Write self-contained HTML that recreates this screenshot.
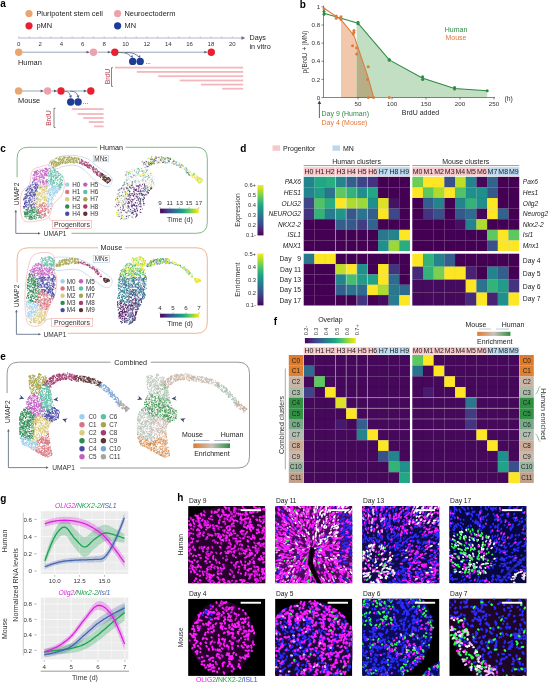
<!DOCTYPE html>
<html><head><meta charset="utf-8"><style>
html,body{margin:0;padding:0;background:#fff;width:550px;height:685px;overflow:hidden}
svg{display:block}
text{font-family:"Liberation Sans",Arial,sans-serif}
</style></head><body>
<svg width="550" height="685" viewBox="0 0 550 685">
<text x="0.30" y="7.40" font-size="10" text-anchor="start" fill="#000" font-weight="bold">a</text>
<circle cx="29.00" cy="13.60" r="3.6" fill="#eba56e"/>
<text x="36.40" y="16.26" font-size="7.4" text-anchor="start" fill="#222">Pluripotent stem cell</text>
<circle cx="117.60" cy="13.60" r="3.6" fill="#eda2ab"/>
<text x="124.50" y="16.26" font-size="7.4" text-anchor="start" fill="#222">Neuroectoderm</text>
<circle cx="29.00" cy="25.80" r="3.6" fill="#e8202f"/>
<text x="36.40" y="28.46" font-size="7.4" text-anchor="start" fill="#222">pMN</text>
<circle cx="117.60" cy="25.80" r="3.6" fill="#1d3c96"/>
<text x="124.50" y="28.46" font-size="7.4" text-anchor="start" fill="#222">MN</text>
<line x1="18.20" y1="38.00" x2="243.00" y2="38.00" stroke="#a7b2c4" stroke-width="0.9"/>
<path d="M241.5,36.2 L245.3,38 L241.5,39.8z" fill="#56637e"/>
<line x1="18.70" y1="36.20" x2="18.70" y2="38.00" stroke="#a7b2c4" stroke-width="0.6"/>
<line x1="29.38" y1="36.20" x2="29.38" y2="38.00" stroke="#a7b2c4" stroke-width="0.6"/>
<line x1="40.06" y1="36.20" x2="40.06" y2="38.00" stroke="#a7b2c4" stroke-width="0.6"/>
<line x1="50.74" y1="36.20" x2="50.74" y2="38.00" stroke="#a7b2c4" stroke-width="0.6"/>
<line x1="61.42" y1="36.20" x2="61.42" y2="38.00" stroke="#a7b2c4" stroke-width="0.6"/>
<line x1="72.10" y1="36.20" x2="72.10" y2="38.00" stroke="#a7b2c4" stroke-width="0.6"/>
<line x1="82.78" y1="36.20" x2="82.78" y2="38.00" stroke="#a7b2c4" stroke-width="0.6"/>
<line x1="93.46" y1="36.20" x2="93.46" y2="38.00" stroke="#a7b2c4" stroke-width="0.6"/>
<line x1="104.14" y1="36.20" x2="104.14" y2="38.00" stroke="#a7b2c4" stroke-width="0.6"/>
<line x1="114.82" y1="36.20" x2="114.82" y2="38.00" stroke="#a7b2c4" stroke-width="0.6"/>
<line x1="125.50" y1="36.20" x2="125.50" y2="38.00" stroke="#a7b2c4" stroke-width="0.6"/>
<line x1="136.18" y1="36.20" x2="136.18" y2="38.00" stroke="#a7b2c4" stroke-width="0.6"/>
<line x1="146.86" y1="36.20" x2="146.86" y2="38.00" stroke="#a7b2c4" stroke-width="0.6"/>
<line x1="157.54" y1="36.20" x2="157.54" y2="38.00" stroke="#a7b2c4" stroke-width="0.6"/>
<line x1="168.22" y1="36.20" x2="168.22" y2="38.00" stroke="#a7b2c4" stroke-width="0.6"/>
<line x1="178.90" y1="36.20" x2="178.90" y2="38.00" stroke="#a7b2c4" stroke-width="0.6"/>
<line x1="189.58" y1="36.20" x2="189.58" y2="38.00" stroke="#a7b2c4" stroke-width="0.6"/>
<line x1="200.26" y1="36.20" x2="200.26" y2="38.00" stroke="#a7b2c4" stroke-width="0.6"/>
<line x1="210.94" y1="36.20" x2="210.94" y2="38.00" stroke="#a7b2c4" stroke-width="0.6"/>
<line x1="221.62" y1="36.20" x2="221.62" y2="38.00" stroke="#a7b2c4" stroke-width="0.6"/>
<line x1="232.30" y1="36.20" x2="232.30" y2="38.00" stroke="#a7b2c4" stroke-width="0.6"/>
<line x1="242.98" y1="36.20" x2="242.98" y2="38.00" stroke="#a7b2c4" stroke-width="0.6"/>
<text x="18.70" y="46.46" font-size="6" text-anchor="middle" fill="#333">0</text>
<text x="40.06" y="46.46" font-size="6" text-anchor="middle" fill="#333">2</text>
<text x="61.42" y="46.46" font-size="6" text-anchor="middle" fill="#333">4</text>
<text x="82.78" y="46.46" font-size="6" text-anchor="middle" fill="#333">6</text>
<text x="104.14" y="46.46" font-size="6" text-anchor="middle" fill="#333">8</text>
<text x="125.50" y="46.46" font-size="6" text-anchor="middle" fill="#333">10</text>
<text x="146.86" y="46.46" font-size="6" text-anchor="middle" fill="#333">12</text>
<text x="168.22" y="46.46" font-size="6" text-anchor="middle" fill="#333">14</text>
<text x="189.58" y="46.46" font-size="6" text-anchor="middle" fill="#333">16</text>
<text x="210.94" y="46.46" font-size="6" text-anchor="middle" fill="#333">18</text>
<text x="232.30" y="46.46" font-size="6" text-anchor="middle" fill="#333">20</text>
<text x="249.50" y="40.29" font-size="7.2" text-anchor="start" fill="#222">Days</text>
<text x="249.50" y="48.89" font-size="7.2" text-anchor="start" fill="#222">in vitro</text>
<line x1="18.70" y1="52.20" x2="89.46" y2="52.20" stroke="#8f9bb0" stroke-width="0.9"/>
<line x1="97.46" y1="52.20" x2="110.82" y2="52.20" stroke="#8f9bb0" stroke-width="0.9"/>
<line x1="118.82" y1="52.20" x2="207.30" y2="52.20" stroke="#8f9bb0" stroke-width="0.9"/>
<path d="M86.5,50.8 L89.5,52.2 L86.5,53.6z" fill="#56637e"/>
<path d="M107.8,50.8 L110.8,52.2 L107.8,53.6z" fill="#56637e"/>
<path d="M204.3,50.8 L207.3,52.2 L204.3,53.6z" fill="#56637e"/>
<circle cx="18.70" cy="52.20" r="3.7" fill="#eba56e"/>
<circle cx="93.46" cy="52.20" r="3.7" fill="#eda2ab"/>
<circle cx="114.82" cy="52.20" r="3.7" fill="#e8202f"/>
<circle cx="211.30" cy="52.20" r="3.7" fill="#e8202f"/>
<path d="M118,52.5 C124,52.5 128,53 131.5,57" fill="none" stroke="#56637e" stroke-width="0.8"/>
<path d="M125,52.5 C131,52.5 135,53 139,57" fill="none" stroke="#56637e" stroke-width="0.8"/>
<path d="M130.2,56.3 L132.6,58.3 L132.8,55.3z" fill="#56637e"/>
<path d="M137.7,56.3 L140.1,58.3 L140.3,55.3z" fill="#56637e"/>
<circle cx="132.70" cy="61.40" r="3.7" fill="#1d3c96"/>
<circle cx="140.20" cy="61.40" r="3.7" fill="#1d3c96"/>
<text x="145.50" y="63.54" font-size="6.5" text-anchor="start" fill="#333">...</text>
<text x="18.00" y="65.46" font-size="7.4" text-anchor="start" fill="#222">Human</text>
<rect x="115.00" y="66.70" width="128.20" height="1.80" fill="#f4b7be"/>
<rect x="136.80" y="71.00" width="106.40" height="1.80" fill="#f4b7be"/>
<rect x="158.10" y="75.30" width="85.10" height="1.80" fill="#f4b7be"/>
<rect x="179.60" y="79.60" width="63.60" height="1.80" fill="#f4b7be"/>
<rect x="200.90" y="83.70" width="42.30" height="1.80" fill="#f4b7be"/>
<rect x="222.20" y="87.80" width="21.00" height="1.80" fill="#f4b7be"/>
<text x="108.00" y="78.95" font-size="6.8" text-anchor="middle" fill="#b8404e" transform="rotate(-90 108.00 76.50)">BrdU</text>
<path d="M113,67.7 H111.5 V86.3 H113" fill="none" stroke="#333" stroke-width="0.6"/>
<line x1="18.60" y1="91.00" x2="43.60" y2="91.00" stroke="#8f9bb0" stroke-width="0.9"/>
<line x1="51.60" y1="91.00" x2="57.00" y2="91.00" stroke="#8f9bb0" stroke-width="0.9"/>
<line x1="65.00" y1="91.00" x2="86.80" y2="91.00" stroke="#8f9bb0" stroke-width="0.9"/>
<path d="M40.6,89.6 L43.6,91.0 L40.6,92.4z" fill="#56637e"/>
<path d="M54.0,89.6 L57.0,91.0 L54.0,92.4z" fill="#56637e"/>
<path d="M83.8,89.6 L86.8,91.0 L83.8,92.4z" fill="#56637e"/>
<circle cx="18.60" cy="91.00" r="3.7" fill="#eba56e"/>
<circle cx="47.60" cy="91.00" r="3.7" fill="#eda2ab"/>
<circle cx="61.00" cy="91.00" r="3.7" fill="#e8202f"/>
<circle cx="90.80" cy="91.00" r="3.7" fill="#e8202f"/>
<path d="M64.5,91.3 C68,91.3 69.5,92.5 70.5,96.5" fill="none" stroke="#56637e" stroke-width="0.8"/>
<path d="M70,91.3 C75,91.3 77,92.5 78,96.5" fill="none" stroke="#56637e" stroke-width="0.8"/>
<path d="M69,96 L71,98.2 L72,95.3z" fill="#56637e"/>
<path d="M76.5,96 L78.5,98.2 L79.5,95.3z" fill="#56637e"/>
<circle cx="70.70" cy="102.00" r="3.7" fill="#1d3c96"/>
<circle cx="78.10" cy="102.00" r="3.7" fill="#1d3c96"/>
<text x="82.80" y="104.14" font-size="6.5" text-anchor="start" fill="#333">...</text>
<text x="18.00" y="102.86" font-size="7.4" text-anchor="start" fill="#222">Mouse</text>
<rect x="72.00" y="108.20" width="31.60" height="1.80" fill="#f4b7be"/>
<rect x="77.60" y="113.10" width="26.00" height="1.80" fill="#f4b7be"/>
<rect x="83.20" y="117.10" width="20.40" height="1.80" fill="#f4b7be"/>
<rect x="88.80" y="121.10" width="14.80" height="1.80" fill="#f4b7be"/>
<rect x="94.10" y="125.50" width="9.50" height="1.80" fill="#f4b7be"/>
<text x="48.30" y="120.45" font-size="6.8" text-anchor="middle" fill="#b8404e" transform="rotate(-90 48.30 118.00)">BrdU</text>
<path d="M55.5,108.3 H54 V127.4 H55.5" fill="none" stroke="#333" stroke-width="0.6"/>
<text x="299.80" y="7.70" font-size="10" text-anchor="start" fill="#000" font-weight="bold">b</text>
<polygon points="341.00,97.5 341.00,19.58 341.34,20.00 341.68,20.42 342.02,20.84 342.36,21.25 342.70,21.67 343.04,22.09 343.38,22.50 343.72,22.92 344.06,23.34 344.40,23.76 344.74,24.17 345.08,24.59 345.42,25.01 345.76,25.43 346.10,25.84 346.44,26.26 346.78,26.68 347.12,27.09 347.46,27.51 347.80,27.93 348.14,28.35 348.48,28.76 348.82,29.18 349.16,29.60 349.50,30.01 349.84,30.43 350.18,30.85 350.52,31.27 350.86,31.68 351.20,32.10 351.54,32.52 351.88,32.94 352.22,33.35 352.56,33.77 352.90,34.19 353.24,34.60 353.58,35.02 353.92,35.44 354.26,36.44 354.60,37.44 354.94,38.44 355.28,39.44 355.62,40.45 355.96,41.45 356.30,42.45 356.64,43.45 356.64,97.5" fill="#f2c8ac"/>
<polygon points="356.64,97.5 356.64,22.81 358.00,23.21 389.28,59.90 422.26,78.02 454.56,88.44 487.20,90.70 487.20,97.5" fill="#c2dfc4"/>
<polygon points="356.64,97.5 356.64,43.45 356.98,44.45 357.32,45.45 357.66,46.46 358.00,47.46 358.34,48.46 358.68,49.46 359.02,50.46 359.36,51.46 359.70,52.46 360.04,53.47 360.38,54.47 360.72,55.47 361.06,56.47 361.40,57.47 361.74,58.47 362.08,59.47 362.42,60.48 362.76,61.48 363.10,62.48 363.44,63.48 363.78,64.48 364.12,65.48 364.46,66.49 364.80,67.49 365.14,68.49 365.48,69.49 365.82,70.49 366.16,71.49 366.50,72.49 366.84,73.50 367.18,74.50 367.52,75.50 367.86,76.55 368.20,77.78 368.54,79.01 368.88,80.24 369.22,81.48 369.56,82.71 369.90,83.94 370.24,85.17 370.58,86.41 370.92,87.64 371.26,88.87 371.60,90.10 371.94,91.34 372.28,92.57 372.62,93.80 372.96,95.03 373.30,96.27 373.64,97.50 373.64,97.5" fill="#b5ae86"/>
<line x1="323.50" y1="5.50" x2="323.50" y2="97.50" stroke="#333" stroke-width="0.6"/>
<line x1="323.50" y1="97.50" x2="495.00" y2="97.50" stroke="#333" stroke-width="0.6"/>
<line x1="321.50" y1="6.90" x2="323.50" y2="6.90" stroke="#333" stroke-width="0.6"/>
<text x="320.20" y="9.13" font-size="6.2" text-anchor="end" fill="#333">1</text>
<line x1="321.50" y1="25.02" x2="323.50" y2="25.02" stroke="#333" stroke-width="0.6"/>
<text x="320.20" y="27.25" font-size="6.2" text-anchor="end" fill="#333">0.8</text>
<line x1="321.50" y1="43.14" x2="323.50" y2="43.14" stroke="#333" stroke-width="0.6"/>
<text x="320.20" y="45.37" font-size="6.2" text-anchor="end" fill="#333">0.6</text>
<line x1="321.50" y1="61.26" x2="323.50" y2="61.26" stroke="#333" stroke-width="0.6"/>
<text x="320.20" y="63.49" font-size="6.2" text-anchor="end" fill="#333">0.4</text>
<line x1="321.50" y1="79.38" x2="323.50" y2="79.38" stroke="#333" stroke-width="0.6"/>
<text x="320.20" y="81.61" font-size="6.2" text-anchor="end" fill="#333">0.2</text>
<line x1="321.50" y1="97.50" x2="323.50" y2="97.50" stroke="#333" stroke-width="0.6"/>
<text x="320.20" y="99.73" font-size="6.2" text-anchor="end" fill="#333">0</text>
<line x1="358.00" y1="97.50" x2="358.00" y2="99.50" stroke="#333" stroke-width="0.6"/>
<text x="358.00" y="105.53" font-size="6.2" text-anchor="middle" fill="#333">50</text>
<line x1="392.00" y1="97.50" x2="392.00" y2="99.50" stroke="#333" stroke-width="0.6"/>
<text x="392.00" y="105.53" font-size="6.2" text-anchor="middle" fill="#333">100</text>
<line x1="426.00" y1="97.50" x2="426.00" y2="99.50" stroke="#333" stroke-width="0.6"/>
<text x="426.00" y="105.53" font-size="6.2" text-anchor="middle" fill="#333">150</text>
<line x1="460.00" y1="97.50" x2="460.00" y2="99.50" stroke="#333" stroke-width="0.6"/>
<text x="460.00" y="105.53" font-size="6.2" text-anchor="middle" fill="#333">200</text>
<line x1="494.00" y1="97.50" x2="494.00" y2="99.50" stroke="#333" stroke-width="0.6"/>
<text x="494.00" y="105.53" font-size="6.2" text-anchor="middle" fill="#333">250</text>
<text x="504.50" y="101.45" font-size="6.8" text-anchor="start" fill="#333">(h)</text>
<text x="305.00" y="54.38" font-size="6.6" text-anchor="middle" fill="#333" transform="rotate(-90 305.00 52.00)">p(BrdU + |MN)</text>
<text x="420.50" y="115.12" font-size="7" text-anchor="middle" fill="#222">BrdU added</text>
<text x="321.50" y="115.82" font-size="7" text-anchor="start" fill="#2e8b45">Day 9 (Human)</text>
<text x="321.50" y="125.12" font-size="7" text-anchor="start" fill="#e07b39">Day 4 (Mouse)</text>
<line x1="319.40" y1="118.00" x2="319.40" y2="102.50" stroke="#2c3f6e" stroke-width="0.8"/>
<path d="M317.6,104 L319.4,100.6 L321.2,104z" fill="#2c3f6e"/>
<text x="456.00" y="31.82" font-size="7" text-anchor="middle" fill="#2e8b45">Human</text>
<text x="456.00" y="40.22" font-size="7" text-anchor="middle" fill="#e07b39">Mouse</text>
<polyline points="324.00,13.24 358.00,23.21 389.28,59.90 422.26,78.02 454.56,88.44 487.20,90.70" fill="none" stroke="#2e8b45" stroke-width="1.1"/>
<polyline points="324.00,8.26 341.00,19.58 353.92,35.44 367.79,76.30 373.64,97.50 392.00,97.50" fill="none" stroke="#e07b39" stroke-width="1.1"/>
<circle cx="324.00" cy="14.15" r="1.5" fill="#2e8b45"/>
<circle cx="324.00" cy="11.43" r="1.5" fill="#2e8b45"/>
<circle cx="358.00" cy="23.66" r="1.5" fill="#2e8b45"/>
<circle cx="358.00" cy="22.30" r="1.5" fill="#2e8b45"/>
<circle cx="389.28" cy="59.45" r="1.5" fill="#2e8b45"/>
<circle cx="389.28" cy="60.35" r="1.5" fill="#2e8b45"/>
<circle cx="422.60" cy="76.66" r="1.5" fill="#2e8b45"/>
<circle cx="422.60" cy="79.38" r="1.5" fill="#2e8b45"/>
<circle cx="454.56" cy="87.53" r="1.5" fill="#2e8b45"/>
<circle cx="454.56" cy="88.89" r="1.5" fill="#2e8b45"/>
<circle cx="487.20" cy="90.70" r="1.5" fill="#2e8b45"/>
<circle cx="324.00" cy="8.71" r="1.5" fill="#e07b39"/>
<circle cx="336.24" cy="15.96" r="1.5" fill="#e07b39"/>
<circle cx="336.24" cy="18.23" r="1.5" fill="#e07b39"/>
<circle cx="341.00" cy="16.87" r="1.5" fill="#e07b39"/>
<circle cx="341.00" cy="19.58" r="1.5" fill="#e07b39"/>
<circle cx="353.92" cy="30.46" r="1.5" fill="#e07b39"/>
<circle cx="353.92" cy="32.27" r="1.5" fill="#e07b39"/>
<circle cx="353.24" cy="34.08" r="1.5" fill="#e07b39"/>
<circle cx="352.56" cy="45.86" r="1.5" fill="#e07b39"/>
<circle cx="356.64" cy="47.67" r="1.5" fill="#e07b39"/>
<circle cx="356.64" cy="54.01" r="1.5" fill="#e07b39"/>
<circle cx="368.20" cy="66.70" r="1.5" fill="#e07b39"/>
<circle cx="367.52" cy="79.38" r="1.5" fill="#e07b39"/>
<circle cx="368.20" cy="97.50" r="1.5" fill="#e07b39"/>
<circle cx="373.64" cy="97.50" r="1.5" fill="#e07b39"/>
<circle cx="389.28" cy="97.50" r="1.5" fill="#e07b39"/>
<text x="0.30" y="151.80" font-size="10" text-anchor="start" fill="#000" font-weight="bold">c</text>
<path d="M17.1,177.3 V158.3 Q17.1,147.3 28.1,147.3 H97.30000000000001 M125.5,147.3 H196.3 Q207.3,147.3 207.3,158.3 V222.3 Q207.3,233.3 196.3,233.3 H71.5" fill="none" stroke="#64a468" stroke-width="0.8"/><text x="111.40" y="149.89" font-size="7.2" text-anchor="middle" fill="#222">Human</text>
<text x="16.80" y="196.38" font-size="6.6" text-anchor="middle" fill="#333" transform="rotate(-90 16.80 194.00)">UMAP2</text>
<line x1="15.80" y1="233.40" x2="15.80" y2="211.80" stroke="#56637e" stroke-width="0.8"/>
<path d="M14.5,212.3 L15.8,209.8 L17.1,212.3z" fill="#56637e"/>
<line x1="15.80" y1="233.40" x2="38.50" y2="233.40" stroke="#56637e" stroke-width="0.8"/>
<path d="M38.0,232.1 L40.5,233.4 L38.0,234.70000000000002z" fill="#56637e"/>
<text x="43.80" y="235.98" font-size="6.6" text-anchor="start" fill="#333">UMAP1</text>
<path d="M32.3,170.7 C34.4,167.7 39.4,167.1 42.3,166.2 C45.2,165.3 47.1,164.4 49.5,165.3 C51.9,166.2 54.5,169.6 56.8,171.6 C59.1,173.6 62.0,174.4 63.2,177.1 C64.4,179.8 64.5,184.7 64.1,188.0 C63.6,191.3 62.3,194.3 60.5,197.0 C58.7,199.7 55.2,201.1 53.2,204.4 C51.2,207.8 51.0,214.4 48.6,217.1 C46.2,219.8 42.4,219.9 38.6,220.7 C34.8,221.4 28.8,222.5 25.9,221.6 C23.0,220.7 22.3,218.5 21.4,215.3 C20.5,212.1 20.4,206.4 20.5,202.5 C20.6,198.6 20.8,194.6 22.3,191.6 C23.8,188.6 27.8,187.9 29.5,184.4 C31.2,180.9 30.2,173.7 32.3,170.7Z" fill="none" stroke="#f4a6a6" stroke-width="0.6"/>
<path d="M48.6,165.3 C49.2,163.3 54.5,158.8 58.6,157.1 C62.7,155.4 68.4,155.0 73.2,155.3 C78.0,155.6 83.8,157.1 87.7,158.9 C91.6,160.7 92.8,163.2 96.8,166.2 C100.8,169.2 109.3,173.8 111.4,177.1 C113.5,180.4 111.0,184.8 109.5,186.2 C108.0,187.6 105.0,186.5 102.3,185.3 C99.6,184.1 96.2,181.5 93.2,178.9 C90.2,176.3 87.1,172.1 84.1,169.8 C81.1,167.5 78.3,165.9 75.0,165.3 C71.7,164.7 67.4,165.6 64.1,166.2 C60.8,166.8 57.6,169.1 55.0,168.9 C52.4,168.8 48.0,167.3 48.6,165.3Z" fill="none" stroke="#a9c9e6" stroke-width="0.6"/>
<path d="M69.2 156.7h.9m-9.3.1h.9m7.1.1h.9m-.4 0h.9m-7.4.1h.9m7.6 0h.9m-13 .1h.9m3.8 0h.9m.4 0h.9m2.4 0h.9m-6.5.1h.9m.3 0h.9m1.6 0h.9m-8 .1h.9m7 0h.9m-.5 0h.9m2.2 0h.9m-2.5.1h.9m4 0h.9m-9.4.1h.9m8.7 0h.9m-12 .1h.9m9 0h.9m-11.7.1h.9m3.6 0h.9m2.5 0h.9m-.8.1h.9m-2.6.1h.9m-14.2.2h.9m19.1 0h.9m-13.3.1h.9m-.6 0h.9m7.1 0h.9m.1 0h.9m2.4 0h.9m.8 0h.9m-23.4.1h.9m2.3 0h.9m17.9 0h.9m-.5 0h.9m-11.7.1h.9m3.6 0h.9m-17.3.1h.9m-.5 0h.9m5.5 0h.9m9.7 0h.9m.3 0h.9m-.5.1h.9m-12 .1h.9m3.6 0h.9m-8.4.1h.9m1 0h.9m12.2 0h.9m1.5 0h.9m-.9 0h.9m.8 0h.9m-22.2.2h.9m-.2 0h.9m5.9 0h.9m.6 0h.9m2.2 0h.9m4.9 0h.9m-18.7.1h.9m.8 0h.9m7.9 0h.9m2.7.1h.9m-15.4.1h.9m12.5 0h.9m6.9 0h.9m-19.4.1h.9m5.4 0h.9m1.7 0h.9m.7 0h.9m6.2 0h.9m-3.2.1h.9m-18 .1h.9m2.1 0h.9m-.2 0h.9m14.7 0h.9m-17.1.1h.9m3.4 0h.9m5.4 0h.9m.1 0h.9m-16.3.1h.9m2.5 0h.9m1.3 0h.9m1.4 0h.9m3.5 0h.9m2.6 0h.9m-15.5.1h.9m6 0h.9m-15.3.1h.9m14.3 0h.9m.2 0h.9m3.3 0h.9m-10.2.1h.9m15.4 0h.9m-19.4.1h.9m15.2 0h.9m-9.1.1h.9m-.8 0h.9m3.4 0h.9m-12.9.1h.9m11.4 0h.9m.7 0h.9m-22.1.1h.9m4 0h.9m3.3 0h.9m-.3 0h.9m4.3 0h.9m6.4 0h.9m-14.2.2h.9m6.5 0h.9m4.8.1h.9m-16.1.1h.9m-.6 0h.9m-11.8.1h.9m16.6 0h.9m-.4 0h.9m-16.3.1h.9m11.6 0h.9m3.3 0h.9m.9 0h.9m4.2 0h.9m2 0h.9m-.7 0h.9m-11.4.1h.9m5.4 0h.9m-23 .1h.9m1.6 0h.9m13.5 0h.9m-8.7.2h.9m2 0h.9m3.1 0h.9m3 0h.9m2.9 0h.9m-.8 0h.9m-23.7.1h.9m-.9 0h.9m10.2 0h.9m-10.6.1h.9m15.7 0h.9m.7 0h.9m-24.7.1h.9m4.5 0h.9m2.4 0h.9m.6 0h.9m-.7 0h.9m2.7 0h.9m-1.7.1h.9m3 0h.9m5.3 0h.9m-21.2.1h.9m18.1 0h.9m1.9 0h.9m-20.3.1h.9m.2 0h.9m5.9 0h.9m9.1 0h.9m-22.8.1h.9m-.2 0h.9m7.5 0h.9m5.6 0h.9m-6.3.1h.9m3.7 0h.9m-8.7.1h.9m10.6 0h.9m-.1 0h.9m5.5 0h.9m-.2 0h.9m.9 0h.9m-29.6.1h.9m.8 0h.9m3.4 0h.9m4.2 0h.9m4.4 0h.9m-.4 0h.9m8 0h.9m-22.8.1h.9m14.6 0h.9m-.3 0h.9m-17.1.1h.9m6.8 0h.9m1.5 0h.9m2.6 0h.9m3.6 0h.9m-22.4.1h.9m5.5 0h.9m.3 0h.9m-.6 0h.9m2 0h.9m-.5 0h.9m2.1 0h.9m8.6 0h.9m3.3 0h.9m-25.1.1h.9m.8 0h.9m2.5 0h.9m6.1 0h.9m5.5 0h.9m-21.8.1h.9m3.2 0h.9m4.9 0h.9m2.3 0h.9m7.8 0h.9m-8.5.1h.9m9.3 0h.9m-28.3.1h.9m.9 0h.9m8.1 0h.9m1.2.1h.9m1.9 0h.9m13.2 0h.9m-28.7.1h.9m.8 0h.9m5.9 0h.9m3.7 0h.9m-7.2.1h.9m.5.1h.9m-7.7.1h.9m4 0h.9m3.1 0h.9m-.7 0h.9m-11.6.1h.9m2.7 0h.9m.7 0h.9m-2.8.2h.9m-4.2.1h.9m4.1 0h.9m-4.4.1h.9m6.1 0h.9m-1.8.1h.9m-6.7.2h.9m-2.7.1h.9m4.2 0h.9m2 0h.9m-2.4.1h.9m-3.2.1h.9m1.8.1h.9m-5.4.2h.9m2.6 0h.9m.7 0h.9m-6.4.1h.9m.7 0h.9m-4.8.1h.9m3.8.1h.9m.5 0h.9m-1.1.4h.9m-4 .1h.9m1.5 0h.9m-1.3.5h.9m-2.1.3h.9m-.3 0h.9m-3.7.2h.9m-.5.4h.9m-.8.1h.9m-.5 0h.9m-1.1.1h.9m-.6.1h.9m-.7.8h.9" stroke="#a6a54e" stroke-width="0.9" fill="none"/>
<path d="M81.2 159.5h.9m-1.2.5h.9m-.5 0h.9m-.4.4h.9m-1.3.4h.9m.2.1h.9m-2 .6h.9m1.2.2h.9m-3.9.1h.9m.7 0h.9m1.9.1h.9m-.3.2h.9m-1.5.1h.9m2 .2h.9m-7.8.1h.9m4.3 0h.9m-3.2.2h.9m1.5 0h.9m-7.6.2h.9m-.2.1h.9m5.7.1h.9m-7.9.2h.9m-1.3.1h.9m2.6 0h.9m-1.5.1h.9m.5.1h.9m-3.1.3h.9m1.8 0h.9m2.4 0h.9m-7.2.1h.9m1.8.1h.9m-.4.2h.9m3.8.1h.9m-4.7.1h.9m-2 .2h.9m1.4 0h.9m-5.2.1h.9m-.4 0h.9m6.5 0h.9m-4.8.3h.9m-0 0h.9m-.4 0h.9m-4.2.1h.9m2.2 0h.9m-3.9.2h.9m.1 0h.9m.1 0h.9m-2.2.1h.9m2.3 0h.9m.1 0h.9m.5 0h.9m-2 .2h.9m-4.5.1h.9m2.1 0h.9m-.7 0h.9m-2.2.1h.9m1.8 0h.9m-5.8.1h.9m4 0h.9m-4.8.1h.9m5.5.4h.9m-7 .3h.9m3.2 0h.9m-3.8.1h.9m1.4 0h.9m-4.5.1h.9m1.1.2h.9m2.9 0h.9m-6.3.2h.9m-.8 0h.9m4.7.1h.9m-5.4.1h.9m3 0h.9m-4.5.1h.9m3.2.1h.9m-2.1.1h.9m1.1.1h.9m-6.3.1h.9m.5.4h.9m2 .2h.9m2.1.1h.9m-4.4.1h.9m1.3 0h.9m.6 0h.9m-3.7.3h.9m-2.1.1h.9m2 .1h.9m.1.3h.9m-3.3.2h.9m-1 .1h.9m-1.9.1h.9m3.9 0h.9m-3.4.1h.9m1.5.6h.9m-4.6.5h.9m.9.2h.9m2.8 0h.9m-2.9.1h.9m-4.7.1h.9m4.5 0h.9m-1.1.1h.9m-6.1.1h.9m.1 0h.9m.2.1h.9m1.5 0h.9m-2.8.2h.9m-.2.1h.9m-1.6.2h.9m.6.1h.9m-1 .2h.9m2.1.1h.9m-6.5.1h.9m.4 0h.9m3.2 0h.9m-1.8.1h.9m-3 .1h.9m3.8 0h.9m-1.6.1h.9m-5.1.1h.9m-1.1.1h.9m3.2.2h.9m-5.3.2h.9m-.8 0h.9m-.8 0h.9m4 .2h.9m-5.8.4h.9m4.5.1h.9m-5.9.2h.9m-.6 0h.9m1.2.1h.9m.4 0h.9m-4.6.1h.9m1.4.1h.9m-2.6.1h.9m-.3 0h.9m-1.4.1h.9m2.6.1h.9m-1.6.3h.9m-2 .6h.9m-1.3.1h.9" stroke="#a33b6e" stroke-width="0.9" fill="none"/>
<path d="M101.7 173.7h.9m-.6.1h.9m-2 .1h.9m.1.6h.9m-.5 0h.9m.2 0h.9m-3.1.1h.9m-.9 0h.9m-1.7.1h.9m1.8 0h.9m-2.8.3h.9m.4.1h.9m-.9.2h.9m-1.3.4h.9m1.4 0h.9m.2 0h.9m-6.3.6h.9m2.4 0h.9m-.2.1h.9m-3.6.2h.9m2.3.1h.9m-2.3.1h.9m-1.9.1h.9m.6 0h.9m-.8.2h.9m-.2.2h.9m-.2 0h.9m-.4 0h.9m-6.7.1h.9m6.7 0h.9m-5.1.1h.9m.5 0h.9m2.4 0h.9m-5.7.1h.9m1.7 0h.9m-6.5.1h.9m1.1 0h.9m5.3.1h.9m-2.2.3h.9m-.6 0h.9m.6.1h.9m-2.6.1h.9m.5 0h.9m-3.6.2h.9m-3.8.2h.9m-.5 0h.9m-.5 0h.9m4.6 0h.9m-4.2.2h.9m-2.2.1h.9m1.8 0h.9m.5 0h.9m-1.1.1h.9m-7.5.1h.9m1 0h.9m2.6.1h.9m-5.7.1h.9m2.6 0h.9m-4.5.2h.9m2 0h.9m3.5 0h.9m-6.3.1h.9m.1 0h.9m.5 0h.9m-3.1.1h.9m4.8 0h.9m-4 .1h.9m-0 0h.9m.8 0h.9m-7.5.2h.9m4.8 0h.9m.2 0h.9m-7 .1h.9m.1 0h.9m-.5 0h.9m-.1 0h.9m-3.2.3h.9m.4 0h.9m-2 .2h.9m.2 0h.9m3.2.1h.9m-0 0h.9m-6.3.2h.9m-.4.2h.9m-1.4.1h.9m3.7.1h.9m-5.2.1h.9m-.5.1h.9m-.9 0h.9m2.2 0h.9m-2.3.1h.9m.8.1h.9m-2.5.4h.9m-2.1.1h.9m1.1.1h.9m-.6 0h.9m-1.5.1h.9m-1.8.4h.9m-.8.1h.9m-.5.1h.9" stroke="#5b3432" stroke-width="0.9" fill="none"/>
<path d="M44.9 168.1h.9m.4.1h.9m-1.1.3h.9m-2.5.1h.9m-.5 0h.9m.1.2h.9m1.5 0h.9m-4 .2h.9m0 0h.9m-5.3.1h.9m-3 .2h.9m5.1 0h.9m.1.2h.9m-.4.1h.9m-1 .1h.9m-4.9.3h.9m-6.5.3h.9m3.8 0h.9m2.8 0h.9m.5 0h.9m-.3 0h.9m-7.1.1h.9m-5.3.1h.9m4.9 0h.9m-3 .1h.9m-1.8.1h.9m3.4 0h.9m5.6 0h.9m-8.2.1h.9m2.3 0h.9m-11.5.2h.9m5.1.1h.9m-7.9.1h.9m.2.1h.9m1.3.1h.9m6 0h.9m-6.3.1h.9m-4.1.1h.9m8.2 0h.9m-13 .1h.9m7.7 0h.9m2.6 0h.9m-12.4.1h.9m9.7.1h.9m-10.9.1h.9m-.6 0h.9m2.9 0h.9m2.9.1h.9m.2 0h.9m1.6 0h.9m-10.9.2h.9m10.5 0h.9m-8.9.1h.9m-5.7.1h.9m0 0h.9m-.2 0h.9m-2.5.2h.9m-1.7.2h.9m1.2 0h.9m7.3 0h.9m-5.4.1h.9m-6.8.1h.9m10.4.2h.9m1.3 0h.9m-.5 0h.9m-7.9.1h.9m-4.2.1h.9m-.8 0h.9m6 0h.9m0 0h.9m-12.1.2h.9m10 0h.9m-10.5.1h.9m3.7 0h.9m-5.6.1h.9m7.5 0h.9m-6.8.1h.9m5.9 0h.9m-9 .1h.9m-1.6.1h.9m4.9 0h.9m1.5 0h.9m-4.2.1h.9m4 0h.9m-12.1.1h.9m1.4 0h.9m6.4 0h.9m-3.8.1h.9m3.8.1h.9m-13.7.1h.9m11 0h.9m-12.4.1h.9m8.1.2h.9m-10 .2h.9m5.5 0h.9m3.8 0h.9m-6.3.2h.9m-6 .1h.9m6.4 0h.9m.2 0h.9m-7.8.1h.9m9.4 0h.9m-.6 0h.9m-14.5.1h.9m10.5 0h.9m.7 0h.9m.4.1h.9m1 0h.9m-7.8.2h.9m-6.4.1h.9m0 .3h.9m3.2.1h.9m-.4 0h.9m.5.1h.9m-8.2.1h.9m1.7 0h.9m-.6 0h.9m-1.9.1h.9m-4.6.2h.9m.7.1h.9m2.8 0h.9m-.4.1h.9m-6.1.1h.9m6.1 0h.9m.2 0h.9m-3.2.1h.9m-1.9.2h.9m.3 0h.9m2.2.1h.9m-11.3.2h.9m9.2 0h.9m-5.6.1h.9m-7.7.1h.9m3 .1h.9m6.5.2h.9m-.7.1h.9m-10.5.3h.9m3.7 0h.9m2.7.1h.9m-9.8.1h.9m-.5 0h.9m1.7 0h.9m-.1.1h.9m-3.5.1h.9m-.1 0h.9m-1 .2h.9m-2 .1h.9m.8 0h.9m9.6.1h.9m-7.9.2h.9m-.6.1h.9m.6 0h.9m-8 .1h.9m10.8 0h.9m-13.8.1h.9m-.1 0h.9m.1 0h.9m.9.2h.9m5.5 0h.9m-9.5.3h.9m-.8 0h.9m3.4 0h.9m6.4 0h.9m-4.2.2h.9m-9.7.1h.9m3.1.1h.9m3.8 0h.9m1.6 0h.9m-3.4.2h.9m-1.4.2h.9m.6 0h.9m2.5.1h.9m-8 .1h.9m-.5 0h.9m4.8 0h.9m.1 0h.9m-9.2.1h.9m6.4.1h.9m-5 .1h.9m4.9 0h.9m-11.3.2h.9m8.5 0h.9m-4.8.1h.9m-.3.1h.9m.5 0h.9m.5 0h.9m-7.2.2h.9m1.2 0h.9m-.2 0h.9m-8 .1h.9m6.7.2h.9m-7.7.1h.9m8.8 0h.9m-4.5.5h.9m4.3.2h.9m-11.8.1h.9m6.2 0h.9m0 .1h.9m-1.5.2h.9m.8.1h.9m-4 .3h.9m-5.2.3h.9m1.1.2h.9m1.9.1h.9m-6.1.6h.9m7.2.4h.9m-5.5.4h.9m1.4.2h.9m-4.2.8h.9" stroke="#c35fc3" stroke-width="0.9" fill="none"/>
<path d="M49.1 168.5h.9m-1 .1h.9m0 .6h.9m-.5 0h.9m-4 .1h.9m5.7.3h.9m-.8.2h.9m-.3.1h.9m-1.3.1h.9m-.1.1h.9m-3.2.1h.9m0 .1h.9m-3.9.6h.9m2.7.1h.9m-5.6.1h.9m1.8.1h.9m-3.6.1h.9m-2.8.1h.9m1.6 0h.9m5.8.1h.9m-2.3.2h.9m-1.9.1h.9m1.3 0h.9m-.3.1h.9m-.4 0h.9m-6.9.1h.9m2 0h.9m-3.7.5h.9m1.8.1h.9m-2.3.1h.9m-5.4.1h.9m.7 0h.9m4.5 0h.9m1.3.2h.9m-8.2.1h.9m-.9.2h.9m-.2.2h.9m6.4 0h.9m-7.9.1h.9m3.3.2h.9m1 .1h.9m-5 .1h.9m5.9.1h.9m-10.1.1h.9m3.7 0h.9m-6.7.1h.9m-2 .1h.9m2.6 0h.9m1.7.2h.9m-8.2.1h.9m11.7.1h.9m-10.7.2h.9m7 0h.9m-8.7.1h.9m-.4 0h.9m7.7 0h.9m-13.3.1h.9m5.9.2h.9m.2 0h.9m2.7 0h.9m-.8 0h.9m-5.3.1h.9m-1.9.1h.9m-2.8.1h.9m3.7 0h.9m1.6 0h.9m-8.9.1h.9m-2.8.2h.9m-1.6.1h.9m8.2 0h.9m-.2 0h.9m3.2 0h.9m-10.3.2h.9m-3.9.1h.9m.7.1h.9m2.6 0h.9m6.1.1h.9m-9.2.1h.9m-1.6.2h.9m7.2.1h.9m.7 0h.9m-12.6.1h.9m1.5 0h.9m2.1 0h.9m-6.1.2h.9m1.2 0h.9m2.8 0h.9m-.4 0h.9m-.1 0h.9m-3.7.1h.9m-.1.1h.9m3.3 0h.9m-5 .2h.9m-.6.1h.9m-1.3.1h.9m-8.5.2h.9m1.7 0h.9m-.5 0h.9m3.8.1h.9m-3.2.2h.9m1.4 0h.9m-5.8.1h.9m7.5 0h.9m-9.2.1h.9m3.1.1h.9m-4.9.2h.9m-1.9.1h.9m3.9.1h.9m3.4 0h.9m0 0h.9m-10.5.1h.9m10 .1h.9m-5.2.1h.9m-8.1.1h.9m-3.7.2h.9m2 0h.9m.3.1h.9m-.7 0h.9m6 0h.9m-6.6.1h.9m6.6 0h.9m-.3 0h.9m-11.2.2h.9m.3 0h.9m2.1 0h.9m6.1 0h.9m-13.1.1h.9m-1.9.2h.9m5.4 0h.9m1.1.1h.9m-9.8.1h.9m4.5 0h.9m7.7.1h.9m-11.2.1h.9m.6 0h.9m3.3 0h.9m-6.9.1h.9m10 0h.9m-9.9.1h.9m6.2.1h.9m-1.4.1h.9m-14 .1h.9m3 0h.9m1.9.1h.9m-4.6.2h.9m-1 .2h.9m8.4 0h.9m-9.6.2h.9m3.3 0h.9m-4.8.2h.9m.3 0h.9m-.6.1h.9m.1.1h.9m.1.1h.9m1 0h.9m-9.3.1h.9m12.6.1h.9m-.9.2h.9m0 0h.9m-3.5.1h.9m-7.7.1h.9m-1.9.1h.9m4.8 0h.9m2.6.1h.9m-7.7.1h.9m6.2 0h.9m-11.8.1h.9m1.5.1h.9m6.6 0h.9m-8.2.1h.9m.6 0h.9m1.5 0h.9m3.6 0h.9m-5.1.1h.9m1.2.3h.9m.7.2h.9m-1.2.1h.9m-2.2.1h.9m2.4 0h.9m-12 .1h.9m4.1 0h.9m-5.2.2h.9m5.1.1h.9m-8.3.1h.9m10.1 0h.9m-3.7.2h.9m-.8 0h.9m1.6 0h.9m-.3 0h.9m-2.8.2h.9m-8.7.4h.9m1.8.1h.9m2.8.1h.9m-5.8.1h.9m1.9 0h.9m-.4 0h.9m.8.1h.9m-.7 0h.9m-6.9.2h.9m5.8.4h.9m-1.7.2h.9m-.5 0h.9m.1 0h.9m-4.3.1h.9m2.8.2h.9m-1.4.1h.9m-.6 0h.9m-1.7.4h.9m.3 0h.9m-3.8 1h.9m.2 0h.9m-.1.7h.9" stroke="#5fbfa7" stroke-width="0.9" fill="none"/>
<path d="M47.5 184.3h.9m3.7 0h.9m-3 .3h.9m-1.7.3h.9m1.8 0h.9m-5.9.2h.9m4.2.1h.9m-5 .2h.9m-1.8.3h.9m-.4.1h.9m-1.4.1h.9m6.6 0h.9m-2.5.2h.9m-5.1.1h.9m2.3 0h.9m-6.7.1h.9m5.1.3h.9m-7.4.1h.9m7.9 0h.9m-2.7.1h.9m-2.2.2h.9m-1.2.3h.9m3.5 0h.9m-3.8.1h.9m-7.3.1h.9m5.4 0h.9m1.1 0h.9m-.2.1h.9m2.4 0h.9m-8.1.1h.9m-5.5.4h.9m3.4 0h.9m2.8 0h.9m-1.6.1h.9m-1.9.1h.9m.7 0h.9m-9.5.2h.9m2.7 0h.9m5.4 0h.9m1.8 0h.9m.4 0h.9m-1.6.1h.9m-8.5.1h.9m-3.1.1h.9m2.6 0h.9m4.8 0h.9m-13.2.2h.9m1.8 0h.9m3.7.1h.9m3.7 0h.9m-8.1.1h.9m.4.1h.9m-.7.3h.9m4.6 0h.9m-5.9.1h.9m1 0h.9m-6.2.2h.9m5.3 0h.9m-8.4.1h.9m-.6 0h.9m3.1 0h.9m1.9 0h.9m.6 0h.9m-7.7.2h.9m8.3 0h.9m-8.8.1h.9m-3.9.1h.9m4.6.1h.9m2.3.1h.9m-2 .1h.9m-9.9.2h.9m4.4 0h.9m-.3 0h.9m2 0h.9m.9 0h.9m-8.3.1h.9m4.6.2h.9m1 .1h.9m-3.7.1h.9m1 .1h.9m-6 .1h.9m-4 .1h.9m-.8 0h.9m5.1.2h.9m-2.1.2h.9m.4 0h.9m-7.9.1h.9m.3.3h.9m.5 0h.9m3 0h.9m2.2 0h.9m-6.4.1h.9m1.7.1h.9m.8 0h.9m-.3 0h.9m-2.3.1h.9m-2.4.1h.9m-2.5.2h.9m.1 0h.9m-.4 0h.9m-8.2.1h.9m1.2 0h.9m6.5 0h.9m-7.7.3h.9m-.3.2h.9m3.1 0h.9m-.2.2h.9m-5.2.2h.9m-3.9.1h.9m1.1.1h.9m1.6 0h.9m.5.2h.9m-3.1.2h.9m-2.1.1h.9m.1 0h.9m-2.4.1h.9m4.4 0h.9m-5 .2h.9m2.6 0h.9m-5.6.1h.9m0 0h.9m-1 .2h.9m1.6.1h.9m-3.2.2h.9m3.9.2h.9m-11 .4h.9m7.4.3h.9m-6.3.1h.9m1.2.1h.9m.4.2h.9m0 .2h.9m-6 .2h.9m4.1 0h.9m-7.8.5h.9m3 .1h.9m1.8 0h.9m-.4 0h.9m-1.1.2h.9m-.7.1h.9m-4.4.1h.9m-2 .3h.9m.4 0h.9m-1.4.2h.9m3.9.3h.9m-8.7.1h.9m4.1 0h.9m-2.7.1h.9m2 0h.9m-1.2.1h.9m-6 .2h.9m1.2.1h.9m1.6.2h.9m-3.8.4h.9m-2.1.1h.9m1 .2h.9m2.4 0h.9m-6.8.3h.9m1.4 0h.9m1.9.3h.9m-4.8.2h.9m.6 0h.9m-1.2.1h.9m-1.3.5h.9m2.3.8h.9m-4.2.1h.9m2.7.1h.9m-1.7.2h.9m-1.2.2h.9m.3 0h.9m-.5.1h.9m-5.4.1h.9m-.6 0h.9m1.7.2h.9m-3.3.1h.9m1.9 0h.9m-2.9.1h.9m-.4.8h.9m-1.6.1h.9m-2.7.7h.9m3.4.5h.9m-3.2.3h.9m1 .2h.9" stroke="#9dd0ee" stroke-width="0.9" fill="none"/>
<path d="M46.2 183.3h.9m-7.4.9h.9m-1.6 1.3h.9m-.2 0h.9m4.9.4h.9m-4.4.1h.9m1 0h.9m.6 0h.9m-1.8.1h.9m-.2.2h.9m-.1 0h.9m-1.1.1h.9m-3.3.5h.9m-3.6.2h.9m-4.1.2h.9m-.6 0h.9m.9 0h.9m4.7 0h.9m-6.1.1h.9m3.8 0h.9m1 0h.9m-6.9.1h.9m1.2 0h.9m-2 .3h.9m-.9 0h.9m2.3.1h.9m-6.7.1h.9m-1.4.2h.9m.6 0h.9m-1.4.2h.9m-3.3.1h.9m.6 0h.9m6.6.1h.9m-4.7.3h.9m-2.8.2h.9m2.9 0h.9m-.8 0h.9m-6 .1h.9m1.2 0h.9m2.7.1h.9m-2.6.3h.9m-.6.1h.9m-.5 0h.9m-3.2.2h.9m1.1 0h.9m-1.3.1h.9m-.8.1h.9m-1.5.1h.9m-7.6.1h.9m-1.7.1h.9m.2 0h.9m4.6 0h.9m-.1 0h.9m-.8 0h.9m-.7 0h.9m-.6.3h.9m0 .2h.9m3.3.1h.9m-2.6.1h.9m-3.7.1h.9m1.3 0h.9m1.4 0h.9m-12 .1h.9m-.8 0h.9m6.9 0h.9m.4 0h.9m-6 .3h.9m-.8.1h.9m2.4.2h.9m-12.7.1h.9m0 0h.9m2.5 0h.9m-4 .1h.9m.3.3h.9m2.6 0h.9m-.6 0h.9m2.8 0h.9m-.5.2h.9m-8.1.1h.9m4.9.1h.9m1.6 0h.9m-5.7.2h.9m.1 0h.9m-3.7.1h.9m1.3.1h.9m5.8.1h.9m-7.8.2h.9m-.3 0h.9m-1.1.1h.9m-3.8.1h.9m-.5 0h.9m5.8 0h.9m2 0h.9m-9.1.1h.9m-1.4.2h.9m2.9 0h.9m.4 0h.9m-11.3.1h.9m1.2.1h.9m.6 0h.9m-1 .1h.9m.8 0h.9m-6.9.1h.9m5.9.1h.9m5.2 0h.9m-9.5.2h.9m4.5 0h.9m-4 .2h.9m1.7 0h.9m-1.9.1h.9m6 0h.9m-7.8.3h.9m-4.1.1h.9m-.7 0h.9m-.1.1h.9m-3.6.1h.9m-.2.2h.9m3.7.1h.9m1.6.2h.9m-8.8.2h.9m4.8 0h.9m1.9 0h.9m.4 0h.9m-6 .3h.9m-1 .2h.9m-6.8.2h.9m2.3 0h.9m7.4 0h.9m-4.2.1h.9m-5.7.1h.9m-3.6.1h.9m5.9 0h.9m.9.1h.9m.2 0h.9m-8.9.2h.9m5.8.1h.9m-2.2.3h.9m.2.1h.9m.1.2h.9m-2.7.1h.9m3 .2h.9m-9.2.2h.9m4.6.1h.9m-4.9.1h.9m1.2 0h.9m-6.1.1h.9m-.6 0h.9m-3.6.1h.9m.5 0h.9m-.1 0h.9m.4 0h.9m.4 0h.9m-2.4.1h.9m-3.6.1h.9m2.9 0h.9m.7 0h.9m3.1 0h.9m.9 0h.9m-5.3.1h.9m-7.5.3h.9m3.5 0h.9m4 .1h.9m-4.9.1h.9m-3.2.3h.9m7.1 0h.9m-15.6.1h.9m2.8 0h.9m4.7.1h.9m2.2 0h.9m-.1 0h.9m.4 0h.9m-12.9.1h.9m12.9.4h.9m-12 .1h.9m.1 0h.9m.3.2h.9m-2.9.2h.9m3 0h.9m-9.2.1h.9m6.3 0h.9m-4.3.1h.9m2.5 0h.9m-3.7.2h.9m8.6 0h.9m-13.2.1h.9m-.6.2h.9m-.4.1h.9m4.1 0h.9m2 0h.9m-.4.2h.9m-7 .1h.9m6.5 0h.9m-10.9.4h.9m7.8 0h.9m.9 0h.9m-8.2.1h.9m-2.5.1h.9m-.3 0h.9m-2.1.1h.9m-3.4.3h.9m5.6.4h.9m-6.5.2h.9m5.7 0h.9m-3.7.5h.9m-2.6.6h.9m-1.2.9h.9m-.1.2h.9m2 .1h.9m-3.8.3h.9" stroke="#dccb7c" stroke-width="0.9" fill="none"/>
<path d="M33.1 181.7h.9m-2.1.3h.9m1.6.7h.9m-3.3.1h.9m-1.1.1h.9m7.2 0h.9m-6.4.9h.9m-.3 0h.9m1.1.4h.9m-1.4.3h.9m-5.8.1h.9m.7 0h.9m.7.1h.9m-.1 0h.9m-1.4.1h.9m-6 .2h.9m1.1 0h.9m2.8.2h.9m-1.5.2h.9m.5 0h.9m-6.9.1h.9m4 .1h.9m-8 .7h.9m.3 0h.9m6.8.1h.9m-4 .1h.9m-5.1.2h.9m4.9 0h.9m.8 0h.9m-8.9.2h.9m2.7.2h.9m-2.4.1h.9m1 0h.9m.5 0h.9m0 0h.9m3.1.1h.9m-6.2.2h.9m1.7 0h.9m-10.2.5h.9m.7 0h.9m4.9 0h.9m-.6 0h.9m-9.1.2h.9m3.4 0h.9m-2 .1h.9m3.8 0h.9m-6.7.1h.9m6.4 0h.9m-7.8.1h.9m3.5.2h.9m-7.2.2h.9m7 0h.9m-9.5.2h.9m2.3 0h.9m5 .1h.9m-5.6.4h.9m-3.5.1h.9m1.6 0h.9m-.2 0h.9m2.7 0h.9m-10.6.2h.9m.3 0h.9m2.8 0h.9m-.1 0h.9m-.6 0h.9m-6.3.1h.9m5.9 0h.9m1.3.2h.9m-.8 0h.9m-10.7.1h.9m4.7.4h.9m-7 .1h.9m2.5 0h.9m5 0h.9m-9.9.1h.9m4.2 0h.9m-.5 0h.9m2.9.3h.9m-.6.1h.9m.3 0h.9m-5 .3h.9m-5.2.2h.9m-1.7.3h.9m1.8 0h.9m-.2.1h.9m-.7 0h.9m2.1.1h.9m-7.5.1h.9m2.2.1h.9m1.4 0h.9m-.8.2h.9m-4.6.1h.9m1.9.3h.9m-3.7.3h.9m-.2.3h.9m3.8 0h.9m-.9 0h.9m-6.6.1h.9m-4 .1h.9m.6 0h.9m1.2 0h.9m-4.4.1h.9m6.2 0h.9m-3.4.2h.9m3.1 0h.9m-9.9.1h.9m-.2 0h.9m3.1 0h.9m3.5.2h.9m-11 .1h.9m6.2 0h.9m1 .1h.9m.4 0h.9m-9.5.3h.9m6.8 0h.9m.3 0h.9m-10 .3h.9m6.3 0h.9m-3.9.1h.9m-3.4.1h.9m-.8 0h.9m-1.6.1h.9m1.1 0h.9m-1.2.2h.9m.4 0h.9m0 0h.9m2.3 0h.9m-8.6.1h.9m3.6.2h.9m2.3 0h.9m-9.8.1h.9m1.3 0h.9m3.6 0h.9m-.2 0h.9m-1.8.1h.9m-7.4.3h.9m.6.1h.9m-3.3.4h.9m.4.1h.9m.2 0h.9m-2 .3h.9m3 0h.9m1.8.3h.9m-3.9.1h.9m-5.6.1h.9m-2.1.2h.9m8.4 0h.9m-9.4.1h.9m5.3 0h.9m2.8 0h.9m1.5 0h.9m-12.2.3h.9m-.1 0h.9m.9 0h.9m.2 0h.9m-4.9.1h.9m-.4 0h.9m4 .7h.9m-7.9.2h.9m6.5 0h.9m-7.4.2h.9m3.7 0h.9m-6.5.1h.9m8.4 0h.9m-5.5.5h.9m5.4 0h.9m-6.3.1h.9m.6.1h.9m-5.4.1h.9m-1 .1h.9m2.6.4h.9m-1.5.2h.9m2.4 0h.9m-4.4.3h.9m-4.7.2h.9m-.5.1h.9m-.7 0h.9m-.2 0h.9m4.1.1h.9m-.8 0h.9m-5.1.1h.9m-.2.3h.9m-1.9.1h.9m1.7 0h.9m2.9.3h.9m-9.5.1h.9m0 0h.9m.2 0h.9m-2.7.3h.9m-.9 0h.9m4 0h.9m5 0h.9m-11.8.4h.9m-1.1.2h.9m3.9.1h.9m3.1 0h.9m-1.4.1h.9m-5.2.2h.9m-4.8.1h.9m1.2 0h.9m2.6.1h.9m3.5 0h.9m-10.9.1h.9m1.5 0h.9m4.1.1h.9m-.6.1h.9m-2.3.2h.9m-6.3.1h.9m4.8 0h.9m2 0h.9m-3.7.2h.9m-5.1.3h.9m-2.3.1h.9m3.1 0h.9m-2.4.1h.9m1.7.1h.9m-6.3.2h.9m-2.8.2h.9m9.3.1h.9m-8.1.1h.9m-4.2.1h.9m.2 0h.9m-.2.1h.9m-.9.1h.9m-1.3.1h.9m4.3 0h.9m-6.7.1h.9m6.9 0h.9m1.6 0h.9m-11.6.1h.9m6.7.1h.9m-3.7.1h.9m-2.4.4h.9m.1.5h.9m-.5 0h.9m2.4.5h.9m-5.7 1.3h.9" stroke="#4b4aa6" stroke-width="0.9" fill="none"/>
<path d="M30.7 205.9h.9m-1.1.4h.9m-.6.6h.9m-.8.3h.9m.8.3h.9m-.6.2h.9m-2.4.1h.9m1.8 0h.9m-10.8.3h.9m9.6 0h.9m-4 .1h.9m-9.1.2h.9m6.3.3h.9m2.9 0h.9m-3.9.4h.9m-4.4.2h.9m-1.4.1h.9m4 0h.9m-.3 0h.9m-8.2.1h.9m-.6 0h.9m11.4 0h.9m-11.8.1h.9m4.1 0h.9m1.2.1h.9m-2 .1h.9m3.6.1h.9m-8.6.1h.9m1 .2h.9m3 0h.9m-7.5.1h.9m7.4 0h.9m-12.8.1h.9m5.2 0h.9m-2.7.1h.9m.1.1h.9m-4.7.1h.9m4.2 0h.9m.7.1h.9m-5.8.1h.9m7.8 0h.9m-7.3.1h.9m-5.4.2h.9m7.9 0h.9m-.8 0h.9m-7.3.1h.9m-.3 0h.9m-2.9.1h.9m2.8 0h.9m5.5 0h.9m-15.3.1h.9m2.7.2h.9m3.8 0h.9m-4.4.2h.9m3.7 0h.9m2.6 0h.9m-4.3.1h.9m.1 0h.9m-9.6.1h.9m-.4.1h.9m9.2 0h.9m-12.2.1h.9m8.5 0h.9m3.8 0h.9m-14 .1h.9m2.2 0h.9m7.4 0h.9m-14.1.1h.9m2.2 0h.9m.9 0h.9m.4 0h.9m1.5 0h.9m-2.7.1h.9m1.5 0h.9m-.4.1h.9m-9.5.1h.9m6.7 0h.9m1.1 0h.9m1.3 0h.9m-10.8.1h.9m-3.8.1h.9m-.2 0h.9m-.2 0h.9m11 .1h.9m-1 .1h.9m-.2 0h.9m-7.4.1h.9m-5.5.1h.9m-3.4.2h.9m-.4.1h.9m2.5 0h.9m-3.6.1h.9m.3 0h.9m.7 0h.9m7.2 0h.9m1.3 0h.9m-.6 0h.9m-12.7.1h.9m3.3 0h.9m-.8 0h.9m-6.5.1h.9m.1 0h.9m-2.8.2h.9m-.2 0h.9m.1.1h.9m2 0h.9m-.1 0h.9m4.5 0h.9m-11.7.1h.9m-1.8.1h.9m1.7 0h.9m7.1 0h.9m5.8.1h.9m-16.4.4h.9m.2.1h.9m3.8 0h.9m4.2 0h.9m-8 .1h.9m3.8 0h.9m-2.8.1h.9m3.2.1h.9m-.2.1h.9m1.5 0h.9m-1.9.1h.9m-14.9.1h.9m13 0h.9m-9 .1h.9m-2.9.2h.9m6.4 0h.9m-2.4.1h.9m-9.7.1h.9m2.6 0h.9m-.8 0h.9m10.7.1h.9m-11.5.1h.9m2.2 0h.9m.1 0h.9m4.3 0h.9m-12.5.1h.9m2.3 0h.9m-5.2.1h.9m2.9 0h.9m-.1 0h.9m-7.8.1h.9m.1 0h.9m5.1.2h.9m2.5.1h.9m-5 .2h.9m-2 .3h.9m1.2 0h.9m6.3 0h.9m-.1 0h.9m-10.2.1h.9m.6 0h.9m3.4.1h.9m-7.9.1h.9m3.7 0h.9m3.4 0h.9m-13 .1h.9m2.4 0h.9m-.1 0h.9m.7.2h.9m1.2 0h.9m-6.1.1h.9m1.8 0h.9m-2.9.3h.9m5.5 0h.9m4.2 0h.9m-7.7.1h.9m-2.4.2h.9m-5 .3h.9m3.3 0h.9m1.9.1h.9m-6.7.2h.9m.1 0h.9m-.6.2h.9" stroke="#2f8a55" stroke-width="0.9" fill="none"/>
<path d="M43.3 202.7h.9m-1.7.8h.9m-1 .1h.9m1.9.3h.9m-2.2.1h.9m-3.6.2h.9m-2.6.1h.9m-4 .1h.9m4.5 0h.9m3.5.4h.9m-1.1.1h.9m4.5.1h.9m-11 .1h.9m-3.3.1h.9m.4 0h.9m-1.4.1h.9m1.1 0h.9m-1.3.1h.9m.1 0h.9m.8.2h.9m-6.1.1h.9m2.8.2h.9m4.9 0h.9m-4.7.2h.9m-.2 0h.9m-6.1.2h.9m2.7.1h.9m-1 .1h.9m2.4 0h.9m-8.5.1h.9m.6 0h.9m-5.1.4h.9m6.1 0h.9m4 0h.9m-16.3.1h.9m3.5 0h.9m3.1 0h.9m-4.4.1h.9m2.3.1h.9m5.3.4h.9m-3.9.1h.9m-10.1.1h.9m3.7 0h.9m-5.3.2h.9m.6 0h.9m4.2.2h.9m2.6 0h.9m-1.6.1h.9m-6.4.1h.9m1.4 0h.9m-.2 0h.9m1.1 0h.9m5.1 0h.9m-4.9.1h.9m-1.7.1h.9m3.6.3h.9m-6.2.1h.9m-8.9.1h.9m7.7 0h.9m.7 0h.9m-5.6.3h.9m-.4 0h.9m4.6 0h.9m-11.8.3h.9m8.3 0h.9m-12.5.3h.9m2.5.1h.9m4.7.1h.9m.2.1h.9m-.7.1h.9m-5.7.1h.9m.4.1h.9m-2.3.1h.9m1 .1h.9m2 0h.9m-7.2.1h.9m3.2 0h.9m4.8 0h.9m-8.5.1h.9m5.7 0h.9m.3 0h.9m-7.7.3h.9m1.3.1h.9m-1.8.1h.9m-3.8.2h.9m-3.7.1h.9m.5.1h.9m-2 .1h.9m9 .1h.9m-9.5.1h.9m1.2.1h.9m-2.1.1h.9m-.6 0h.9m7.2 0h.9m-1.7.2h.9m-9.4.2h.9m-.3 0h.9m7.3.1h.9m-3.8.1h.9m-2.2.2h.9m.1 0h.9m-5.2.1h.9m3.2 0h.9m-5.9.2h.9m1.1.5h.9m1.7.1h.9m-.7.1h.9m-4.3.1h.9m.7.1h.9m-2.1.1h.9m1.2.1h.9m.7 0h.9m-.8.3h.9m-3.6.6h.9m2.4 0h.9m-2.6.1h.9m-.9.1h.9m-.9.4h.9m.5 0h.9m-3.3.8h.9m-3.3.1h.9m-1.7.1h.9m1.9.2h.9m-.7.1h.9m-2.3.3h.9" stroke="#d8757f" stroke-width="0.9" fill="none"/>
<rect x="93.2" y="155.3" width="15.4" height="6.5" fill="#fff" stroke="#a9c9e6" stroke-width="0.6"/>
<text x="100.90" y="160.90" font-size="6.4" text-anchor="middle" fill="#333">MNs</text>
<path d="M48.6,217.1 Q50,221 53,221" fill="none" stroke="#f4a6a6" stroke-width="0.6"/>
<rect x="52.6" y="220.6" width="38.9" height="7.9" fill="#fff" stroke="#f4a6a6" stroke-width="0.6"/>
<text x="72.00" y="227.12" font-size="7" text-anchor="middle" fill="#333">Progenitors</text>
<circle cx="67.20" cy="184.60" r="2.2" fill="#9dd0ee"/>
<text x="72.30" y="186.87" font-size="6.3" text-anchor="start" fill="#333">H0</text>
<circle cx="67.20" cy="191.90" r="2.2" fill="#d8757f"/>
<text x="72.30" y="194.17" font-size="6.3" text-anchor="start" fill="#333">H1</text>
<circle cx="67.20" cy="199.20" r="2.2" fill="#dccb7c"/>
<text x="72.30" y="201.47" font-size="6.3" text-anchor="start" fill="#333">H2</text>
<circle cx="67.20" cy="206.50" r="2.2" fill="#2f8a55"/>
<text x="72.30" y="208.77" font-size="6.3" text-anchor="start" fill="#333">H3</text>
<circle cx="67.20" cy="213.80" r="2.2" fill="#4b4aa6"/>
<text x="72.30" y="216.07" font-size="6.3" text-anchor="start" fill="#333">H4</text>
<circle cx="85.30" cy="184.60" r="2.2" fill="#c35fc3"/>
<text x="90.20" y="186.87" font-size="6.3" text-anchor="start" fill="#333">H5</text>
<circle cx="85.30" cy="191.90" r="2.2" fill="#5fbfa7"/>
<text x="90.20" y="194.17" font-size="6.3" text-anchor="start" fill="#333">H6</text>
<circle cx="85.30" cy="199.20" r="2.2" fill="#a6a54e"/>
<text x="90.20" y="201.47" font-size="6.3" text-anchor="start" fill="#333">H7</text>
<circle cx="85.30" cy="206.50" r="2.2" fill="#a33b6e"/>
<text x="90.20" y="208.77" font-size="6.3" text-anchor="start" fill="#333">H8</text>
<circle cx="85.30" cy="213.80" r="2.2" fill="#5b3432"/>
<text x="90.20" y="216.07" font-size="6.3" text-anchor="start" fill="#333">H9</text>
<path d="M166.2 157.4h.8m-11.7.3h.8m.1.5h.8m-6.1.1h.8m18 0h.8m-.4 0h.8m-20.1.7h.8m16.4 0h.8m-14.4.6h.8m14.8 0h.8m-12.7.1h.8m6.5 0h.8m-10.6.1h.8m5.9 0h.8m-4.2.2h.8m13.2 0h.8m-.4 0h.8m-21.4.2h.8m-7.8.3h.8m4.1 0h.8m16.5 0h.8m-26.8.5h.8m16.7 0h.8m-15.3.3h.8m16.1 0h.8m-5.7.2h.8m7.1 0h.8m-8.6.1h.8m-5.9.2h.8m24.2.1h.8m-14 .1h.8m-17.4.1h.8m-4.8.1h.8m-.1 0h.8m24.2.2h.8m-1.2.1h.8m-22.7.1h.8m14.7 0h.8m-16.4.1h.8m7 .1h.8m3.8.1h.8m12.6.1h.8m-1.9.3h.8m-.1 0h.8m-27.6.1h.8m10.6 0h.8m14.2 0h.8m-27.5.3h.8m.9.3h.8m28.7.1h.8m-.3.2h.8m-32.3.2h.8m31.6 0h.8m-1.9.2h.8m-2.8.1h.8m4.1.3h.8m-33.2.1h.8m29.6.3h.8m4.8 0h.8m-5.5.3h.8m2.2 0h.8m-33.8.1h.8m33.7 1h.8m-4.4.1h.8m-.3.4h.8m4.8.1h.8m-.9.3h.8m-47.5.4h.8m6.4.2h.8m35.5.1h.8m-46.1.1h.8m47.4.1h.8m-1.3.2h.8m-51.3.2h.8m7.5.1h.8m-11.2.1h.8m5.2 0h.8m.9 0h.8m46.7.1h.8m-49 .1h.8m-.3.1h.8m6 0h.8m-7.7.1h.8m-4.8.3h.8m10.4 0h.8m42.1.1h.8m-45.2.1h.8m-7.7.1h.8m1.2 0h.8m5 0h.8m-17.2.2h.8m2 .2h.8m3.5 0h.8m5.7 0h.8m-4.9.1h.8m-5.4.3h.8m-7.8.1h.8m2.5.2h.8m8.4 0h.8m-8.5.1h.8m-4 .1h.8m8.3 0h.8m-4.3.1h.8m2.7 0h.8m-12.3.1h.8m19.3 0h.8m-20.3.2h.8m3.3 0h.8m55.3 0h.8m-44.1.5h.8m1.9.1h.8m-20.3.1h.8m19.8.1h.8m-22.2.1h.8m1.3 0h.8m7.4 0h.8m-5.3.1h.8m-6.7.1h.8m15.6 0h.8m-5.9.2h.8m4.3 0h.8m45.3.1h.8m-59.7.1h.8m6.2 0h.8m6 .1h.8m-16.6.2h.8m3.8 0h.8m55.1.1h.8m-58.9.1h.8m21.4.1h.8m-5.4.1h.8m-15.5.1h.8m-.4.2h.8m54.1 0h.8m-42.2.1h.8m-8.1.1h.8m50.7.2h.8m-41.6.1h.8m42.2 0h.8m-51.1.1h.8m47.2 0h.8m-55.1.1h.8m13.3.2h.8m-25.4.1h.8m7.6 0h.8m-7.7.1h.8m16.9 0h.8m-21.5.1h.8m10.6 0h.8m.8 0h.8m12.1 0h.8m-12.4.1h.8m2.8 0h.8m-9.4.2h.8m14.3.1h.8m4 0h.8m36.4.2h.8m-62.5.1h.8m11.3 0h.8m-8.8.1h.8m1.1.1h.8m-8.1.1h.8m2.1 0h.8m13.5 0h.8m-16.1.1h.8m13.8.1h.8m-19.1.1h.8m25.6 0h.8m-25.6.1h.8m2.9 0h.8m10.2 0h.8m52.5 0h.8m-64.6.1h.8m-6 .1h.8m15.1 0h.8m6.3 0h.8m1.4.2h.8m-20 .1h.8m2.3.1h.8m11.2 0h.8m43.5 0h.8m-45.2.2h.8m-17.7.1h.8m11.5.1h.8m-16 .1h.8m19.1 0h.8m51.9.1h.8m-65.8.2h.8m6.6 0h.8m-.7.1h.8m3.2.1h.8m-21.9.1h.8m3.8 0h.8m-5.7.2h.8m1.8 0h.8m13 0h.8m-13.8.1h.8m22.2 0h.8m.5.2h.8m-5.1.1h.8m-22.1.1h.8m13.3 0h.8m-4.4.1h.8m62.7 0h.8m-59.2.2h.8m58.1 0h.8m-70 .1h.8m10.7 0h.8m6.7 0h.8m-28.1.2h.8m28 0h.8m47.6 0h.8m-61.4.1h.8m-7.4.1h.8m4.8.1h.8m5.5 0h.8m1.2.1h.8m-23.3.1h.8m-.7 0h.8m3.5 0h.8m6.5 0h.8m4.8.2h.8m.7 0h.8m-20 .1h.8m16.6 0h.8m-14.2.1h.8m6.4 0h.8m14.4.1h.8m-14.4.2h.8m57.6.2h.8m-65.6.1h.8m5.9 0h.8m1.9 0h.8m-11.8.1h.8m6.5.1h.8m-14.8.2h.8m21.6 0h.8m-17.9.1h.8m8.1.2h.8m-7.1.2h.8m15.2 0h.8m-9.2.1h.8m-11.9.3h.8m8.9 0h.8m15 0h.8m-3.4.1h.8m-7.6.1h.8m7.4.2h.8m-7.6.1h.8m-4.6.1h.8m1.6.1h.8m-16.5.1h.8m6.3 0h.8m8 0h.8m7.6 0h.8m-5 .1h.8m-13.5.2h.8m14 .1h.8m-17 .3h.8m15.4.1h.8m-26.5.1h.8m22.1 0h.8m-18.5.1h.8m1.2.2h.8m-9.2.1h.8m10.4 0h.8m6.4 0h.8m10.2 0h.8m-3.6.2h.8m-.7 0h.8m1.7 0h.8m-.2 0h.8m-24.6.4h.8m13.3.2h.8m-5.9.1h.8m-1.7.1h.8m-1.7.3h.8m-16.1.4h.8m14.9 0h.8m13.1.1h.8m-1.6.2h.8m-26.5.1h.8m-2.3.1h.8m1.1 0h.8m.6 0h.8m.1 0h.8m4 .2h.8m18.9 0h.8m-24 .1h.8m14.6 0h.8m1.2 0h.8m5.4.3h.8m-26.3.2h.8m-8.7.2h.8m12 0h.8m13.7.1h.8m.5.2h.8m3.2 0h.8m-9.1.2h.8m-8 .4h.8m5.8.1h.8m-6.8.1h.8m-16.8.4h.8m1.7 0h.8m-.1 0h.8m-6.9.2h.8m5.2 0h.8m9 .5h.8m.3 0h.8m-18 .5h.8m8.5.3h.8m19.8 0h.8m-19.9.1h.8m-6.6.9h.8m16.1 0h.8m-18 .3h.8m20.5.1h.8m-19.7.1h.8m20.7 0h.8m-1.4.2h.8m-1.4.2h.8m-7.6.1h.8m-7 .4h.8m-6.4.1h.8m-.8 0h.8m1.9 0h.8m15.6 0h.8m-27.2.2h.8m-2.2.1h.8m20.4.2h.8m-22.4.1h.8m3.9 0h.8m7.5 0h.8m9.8 0h.8m-10.6.2h.8m-15.6.1h.8m13.8.3h.8m13.9.2h.8m-28.6.2h.8m6.4 0h.8m3.5.1h.8m-10.6.1h.8m-.7 0h.8m-2.1.4h.8m6.9.2h.8m-9.7.1h.8m23.7.6h.8m-26.2.3h.8m.5.1h.8m.3 0h.8m24.3.2h.8m-23.1.1h.8m13.1.2h.8m-20.9.5h.8m20.1.1h.8m-19.1.3h.8m1 0h.8m20.2.1h.8m-15.5.5h.8m1.4 0h.8m.3.1h.8m7.1 0h.8m-11.4.1h.8m13 0h.8m-3.3.3h.8m-18.9.7h.8m19 0h.8m-19.7.1h.8m4.1.1h.8m17.2.1h.8m-6.7.3h.8m.9 0h.8m-11.7.5h.8m3.1 0h.8m7.2 0h.8m-3.2.4h.8m-21.7.1h.8m-.1 0h.8m-.2.6h.8m1.8 0h.8m21.1.3h.8m-27.5.1h.8m1.2 0h.8m-2.6.3h.8m10 0h.8m-11.7.4h.8m7.8.3h.8m-1.3.1h.8m.4.1h.8m5.1.1h.8m-10.5.2h.8m-4 .1h.8m-2.3.5h.8m4.9 0h.8m2.1 0h.8m4.4.1h.8m-10.4.5h.8m15.1.4h.8m-15.5.2h.8m-5.2.2h.8m-2.3.2h.8m5.5.5h.8m.9.3h.8m13.9.2h.8m-14 .1h.8m-7.4.4h.8m9.5 1.7h.8m-12.2.1h.8m11 .2h.8m-1.4.1h.8m5.4 0h.8m-15.6.6h.8m12.3 0h.8m-2 .2h.8m5.8 0h.8m-12.6.1h.8m-4.9.2h.8m11.7.1h.8m-4.6.3h.8m-8.1.1h.8m.3.1h.8m-9.5.1h.8m7.9.2h.8m3.9 0h.8m-13.9.1h.8m2.3 0h.8m-2.6.1h.8m5.3.1h.8m13.7.1h.8m-21.5.2h.8m-2.3.1h.8m18.5.3h.8m-18.7.1h.8m-2.8.3h.8m2.6 0h.8m-2.3.1h.8m.8 0h.8m9.8 0h.8m-8.4.1h.8m12 .3h.8m-18.3.1h.8m13.5.1h.8m-15.1.1h.8m15.1 0h.8m-2 .1h.8m2.9.1h.8m-9.1.4h.8m-3.2.1h.8m-2.7.1h.8m3.3.1h.8m1.2.3h.8m-10.9.3h.8m5 .1h.8m-6.1.1h.8m3.4.2h.8m-6.2.1h.8m2.7.1h.8m-7.7.1h.8m.2 0h.8m8.6.3h.8m5.1.1h.8m-11.9.4h.8m12.5 0h.8m-13.3.1h.8m-1.1.3h.8m-2.3.3h.8m1.9 0h.8m8.7.3h.8m-6.2.7h.8" stroke="#d6d6d6" stroke-width="0.8" fill="none"/>
<path d="M156.1 157.2h.9m11.3.9h.9m-17.3 1h.9m-2.1.5h.9m12.8.1h.9m-5.3.3h.9m-6.1.5h.9m13 1h.9m-11.7.8h.9m-14.5.2h.9m17.4.1h.9m-13.4.9h.9m.5.1h.9m-2.8.1h.9m3.1 0h.9m-.7 0h.9m-11.6.1h.9m5.6.9h.9m-1.5.4h.9m-2.3 1.3h.9m-16.8 17.8h.9m11.5.1h.9m-3 .3h.9m1.1.6h.9m-22.4.3h.9m14.1.4h.9m-2.5.1h.9m.6 0h.9m6.6.1h.9m-5.1.1h.9m-3.5.1h.9m-6.3.8h.9m-4.1.2h.9m-.6 0h.9m16.7 0h.9m2.1.3h.9m-30 .4h.9m16.4.1h.9m3.4 0h.9m-16.7.2h.9m2.6.2h.9m19 0h.9m-.3.1h.9m-25.9.1h.9m23.5.1h.9m-17.1.1h.9m3 .1h.9m-2.9.1h.9m13 0h.9m-17.7.1h.9m-10.7.4h.9m11.2.3h.9m11.2 0h.9m-13.4.1h.9m4.1 0h.9m-5.8.1h.9m-7.9.3h.9m5.5 0h.9m13.4.2h.9m-5.1.3h.9m-5.4.1h.9m.9 0h.9m-4.4.1h.9m-10.3.2h.9m-.8 0h.9m8.2 0h.9m4.2.3h.9m-11 .1h.9m6.2 0h.9m6.6 1h.9m-15.1.1h.9m12.5 0h.9m-7.7.4h.9m6.5 0h.9m-10.1.1h.9m-7.2.2h.9m7.8 0h.9m-2.7.2h.9m-5.8.3h.9m-10 .1h.9m2.7.1h.9m7.6.3h.9m-9.5.2h.9m4.5 0h.9m7.7 0h.9m-2.6.2h.9m4.4 0h.9m-14.6.1h.9m6 0h.9m1.8.1h.9m-1.2.1h.9m-10.2.1h.9m-3.1.2h.9m13 0h.9m-16.8.3h.9m3.7.1h.9m1.6.2h.9m-8.8.2h.9m4.8 0h.9m1.9 0h.9m.4 0h.9m-8.8.7h.9m6.3.4h.9m5.9.6h.9m-18.4.3h.9m17.1 0h.9m-10.5.1h.9m3 .2h.9m-22.4.1h.9m22.5.2h.9m-12.7.2h.9m-.6 0h.9m-2.2.1h.9m2.5 0h.9m.3.2h.9m.5.1h.9m8.7 0h.9m-3.9.3h.9m1.6.2h.9m-13.6.3h.9m7.1 0h.9m1.3.7h.9m1.9.3h.9m-15.8.4h.9m2.5 0h.9m-3.7.2h.9m10.3.2h.9m-21.9.1h.9m15.3.3h.9m.9.5h.9m2 0h.9m2.7.1h.9m-16.3.1h.9m-.3 0h.9m-4.6.4h.9m13.9.1h.9m.1.4h.9m-23.1.3h.9m14.6 0h.9m-11.1.3h.9m13.7.1h.9m4.3.2h.9m-11 .1h.9m-2 .1h.9m-5.4.1h.9m3.1 0h.9m1.1 0h.9m-.3.1h.9m.8.2h.9m-19.6.1h.9m16.3.2h.9m1.1.2h.9m3.1.4h.9m-10.2.1h.9m-3.9.2h.9m-.6.2h.9m6.9.8h.9m-14.6.9h.9m6.7.8h.9m3.5 0h.9m4.6 0h.9m-23.3.9h.9m5.2 0h.9m12.2 0h.9m-14.8.2h.9m9.7.1h.9m2.5.2h.9m-3.1.1h.9m-8.1.2h.9m6.7.4h.9m-6.6.3h.9m9.3.3h.9m-19.8.3h.9m10.3 0h.9m7.5 0h.9m-14.7.3h.9m8.2.5h.9m-4.2.1h.9m3 .9h.9m-.1.7h.9m-16.4.2h.9m13.5.5h.9m-9.2.3h.9m7.4.2h.9m-10.8.2h.9m-8.4.2h.9m15.5.4h.9m-14.7 1.5h.9" stroke="#440154" stroke-width="0.9" fill="none"/>
<path d="M154.8 157h.9m7.5.7h.9m-2.5.2h.9m-8.3.9h.9m14.6 0h.9m-.5.6h.9m-17.2.3h.9m5.9.6h.9m-6.1.2h.9m17.1.3h.9m-21.5.1h.9m-7.8.7h.9m1.4.5h.9m4.2.2h.9m8.2.1h.9m-14.7.1h.9m1.4.3h.9m-3.5 1h.9m-1.1.3h.9m-4.4.1h.9m35.8 1.3h.9m-35.8 1.2h.9m32.9.2h.9m6.4 5.6h.9m-64.6 10.4h.9m7.2 0h.9m6.7 1.4h.9m-16.8.3h.9m14.4.5h.9m-8.8.4h.9m-.2 0h.9m13.9.4h.9m-10.9.2h.9m6.5.1h.9m-15.6.2h.9m1.5.9h.9m6.1.1h.9m5 0h.9m-19 .1h.9m6.3.3h.9m-11 .4h.9m20.5.1h.9m-24.5.1h.9m19.3.1h.9m2 1.1h.9m-9.8.1h.9m-17.2.2h.9m13.5 0h.9m8.8.4h.9m-8.1.6h.9m1 .3h.9m1.4 0h.9m-4.1.1h.9m8.7.1h.9m-14.3.2h.9m12.3.3h.9m-22.5.1h.9m3.4 0h.9m-.5 1.7h.9m5.8 0h.9m4.4 0h.9m-11.5.1h.9m3.7.2h.9m-9.2.2h.9m15.3.1h.9m.5.2h.9m-3.3.3h.9m-13.8.6h.9m-9.5.2h.9m-2.5.6h.9m9.4 1h.9m8.2.2h.9m-2.8.5h.9m-13.2.3h.9m13.9.5h.9m1.9.6h.9m-5.3.1h.9m-11.9.4h.9m4.7.7h.9m3 0h.9m-6.7.8h.9m-.1.3h.9m-6.5.4h.9m-3.7.1h.9m7.7.2h.9m-3.6.3h.9m5.2.4h.9m-6.4.1h.9m-3.1.2h.9m15.2.2h.9m-.5.1h.9m-13.4.4h.9m7.6 0h.9m-24.4.6h.9m5.4.4h.9m7.4.7h.9m-4.3.5h.9m3.7.1h.9m-4.7.1h.9m-6.3.8h.9m-3.7.1h.9m7.9.8h.9m3.8.4h.9m1.8 0h.9m4.8.5h.9m-6.2.1h.9m-3.4.4h.9m2.1 1h.9m-4.1.9h.9m-3.3 2.2h.9" stroke="#462b79" stroke-width="0.9" fill="none"/>
<path d="M161.2 156.7h.9m-10.9.4h.9m6.5.1h.9m-1.8.3h.9m8.7 0h.9m-12.3.7h.9m8.4 0h.9m-2.3.2h.9m-9.4.3h.9m13.5.1h.9m-9.9.3h.9m1.4 2h.9m4.2 0h.9m4.4.4h.9m-32.6.3h.9m7.8 0h.9m21.2 0h.9m-6.7 1h.9m-2.4.1h.9m-23 .3h.9m7.8.2h.9m20.5.6h.9m-23 .6h.9m24.3.6h.9m-30.2 1.5h.9m-3.2.7h.9m40.9 2.8h.9m-49.1 1.9h.9m48.3.1h.9m-59.9.3h.9m56.9.5h.9m1 .9h.9m-.5.9h.9m-.3.4h.9m-56.7.3h.9m-7.7 4.6h.9m7.1.7h.9m-8.5 3h.9m-8.1 5.1h.9m7 0h.9m-10.7 1.4h.9m3.2 1.8h.9m-5.2 1.8h.9m4.3 2.2h.9m.6 3.8h.9m7.9 4.3h.9m-.8 1.2h.9m-11.8.5h.9m17 0h.9m-5.7.6h.9m2.4 0h.9m-24.9.1h.9m7.1.3h.9m16.7.1h.9m-9.6.9h.9m-5.3.2h.9m-8.3 1.2h.9m1.3.7h.9m4.9.2h.9m3.4.6h.9m-2.4.2h.9m1.6 1.4h.9m-8.5.3h.9m4.6.2h.9m-.3 0h.9m.7 1.7h.9m1.8 1.2h.9m-5.1 1.4h.9m-6.8 1.4h.9" stroke="#3a508a" stroke-width="0.9" fill="none"/>
<path d="M135.8 172.1h.9m-6.1 4.6h.9m.3 4.9h.9" stroke="#2c728e" stroke-width="0.9" fill="none"/>
<path d="M167.3 158.8h.9m-18.4.5h.9m2.7.5h.9m14.5.4h.9m-15.1.5h.9m12.2.1h.9m-14.6.7h.9m-9 .1h.9m28.7.1h.9m-24.3.1h.9m22.8.9h.9m-31.2 2.4h.9m33 .1h.9m2.3.8h.9m2.2 2h.9m-.3.9h.9m-40.3 1.2h.9m-1.7.9h.9m-5.6.1h.9m-.3.3h.9m43 .5h.9m-36.4 1.6h.9m-7.9 2.2h.9m3.7 0h.9m-2.4.8h.9m-2.6.8h.9m2.8 0h.9m-7 2.8h.9m8.4 1.1h.9m-28.6 1.6h.9m1.5 1h.9m12.6 1.6h.9m-1.8.3h.9m11.2 1.3h.9m-5.4 1.1h.9m-2 1h.9m-2.2.2h.9m2.2.7h.9m-20.5.2h.9m19.3.5h.9m-8.4 1h.9m-22 .7h.9m21.8 3.3h.9m.1 1.3h.9m0 .2h.9m-4.3 1.2h.9m-24.3.2h.9m-.7.1h.9m-3.1 1.2h.9m24.3.8h.9m-2.3.8h.9m.3.1h.9m-11.8 13.9h.9m-9.8 3.6h.9" stroke="#20908c" stroke-width="0.9" fill="none"/>
<path d="M138 168.5h.9m-10.9 5.7h.9m-3.7.5h.9m-.6.5h.9m8.2 7.3h.9" stroke="#2aad7f" stroke-width="0.9" fill="none"/>
<path d="M160.8 156.9h.9m-13.4 1.2h.9m21 .1h.9m-21 .8h.9m11.2 0h.9m-12.9.1h.9m12.8 2.6h.9m-.3 1h.9m-8 .3h.9m16.6.4h.9m3.7.5h.9m.7.5h.9m-33.8.2h.9m29.4.1h.9m-28.8.4h.9m26.9.3h.9m0 2h.9m.3.2h.9m-40.3.9h.9m-4.2.3h.9m45.1.5h.9m.6.6h.9m-52.2.4h.9m4.2 0h.9m2.5.6h.9m-17.8.8h.9m17.1.3h.9m.5.7h.9m41.7.3h.9m-58.8.5h.9m6.9 0h.9m54.7.6h.9m-56.2.2h.9m53.6.6h.9m-58.6.1h.9m53.1 0h.9m3.3.4h.9m-53.8.7h.9m-9.2 1.5h.9m14.4 1.5h.9m3.4 0h.9m-16.6 2.3h.9m14.4.4h.9m-17.9.1h.9m8.7 1.3h.9m-16.6 2h.9m-1.5.2h.9m-.4 4.8h.9m-4.1 1.4h.9m-.7 4.6h.9m-8.3.4h.9m-2.9 3h.9m6.1 1h.9m-5.4.1h.9m4.1 5.2h.9m1.5 6.1h.9m-8.2 3h.9m9.4 2.7h.9m-7.9.1h.9m2.4 1h.9" stroke="#5ec860" stroke-width="0.9" fill="none"/>
<path d="M159.3 158.4h.9m6.2.2h.9m-3 .6h.9m-10.3.9h.9m4.9.2h.9m-5.9 1.5h.9m2.2.1h.9m5.3 0h.9m-13.7.3h.9m6.4.3h.9m-9.8.3h.9m-3.1.1h.9m29.5.2h.9m-22.7.2h.9m-14.6.1h.9m30.1.1h.9m-23.6.7h.9m22.2.6h.9m6.5 0h.9m-40.2.5h.9m5.2.1h.9m-12.7 3.6h.9m52.1 2.8h.9m-6.1.1h.9m2.4.4h.9m-61.3.2h.9m64.7.7h.9m-51.2.3h.9m-17.7.2h.9m66.5 0h.9m-.6.1h.9m-2 .1h.9m-49.6.5h.9m48.8.1h.9m-.5 0h.9m-.7.6h.9m-54.8.9h.9m55.1.7h.9m-48.5.6h.9m47.3 0h.9m-.4 0h.9m-4.4.4h.9m2.8.8h.9m-3 .2h.9m4.6 0h.9m-5.5.3h.9m1.8 0h.9m-.9.3h.9m-2.9.3h.9m-48 .2h.9m48.9.1h.9m-4.1.3h.9m-.5 0h.9m-1.1.3h.9m-52.8.1h.9m55.1.2h.9m-56.8.6h.9m-7.3.1h.9m57.6.1h.9m2.5.2h.9m-3.7.5h.9m1.1.1h.9m-1.2.1h.9m-74.2.2h.9m25.6 0h.9m-.9.2h.9m45.5.2h.9m-71.7 1.4h.9m21.2 1.7h.9m-1.8 2.6h.9m-23.3 2.5h.9m-2.3 1h.9m.2 2.7h.9m-7.1 3.6h.9m3.1 4.3h.9m-4.4.4h.9m-7 3.8h.9m8.2 2.3h.9m-7.3.1h.9m2.5.8h.9m7.8 1.1h.9m-10.5.5h.9m-5.4.6h.9m4.2 3.7h.9m9.4.2h.9m-6.5 1.4h.9m-2.1 1.3h.9m-2.6.5h.9" stroke="#acdb31" stroke-width="0.9" fill="none"/>
<path d="M161.3 156.9h.9m-6.3.2h.9m6.5.7h.9m-16.8.7h.9m5.9 0h.9m16.3.3h.9m-10.9.6h.9m.7 0h.9m3.9.1h.9m-11.7 1.6h.9m3 .4h.9m-12.4 1.3h.9m-3.6.1h.9m23.9 0h.9m-3.7.2h.9m-15.4.2h.9m-5.1 1.6h.9m29.4.6h.9m-0 .3h.9m-37 1.6h.9m37.7.5h.9m3.1 1.8h.9m-3.4.3h.9m-44.7 1.3h.9m42.9 0h.9m-36.5.6h.9m38.5.7h.9m-1 .2h.9m1 .3h.9m-44.1.7h.9m-6.7.5h.9m50.5.3h.9m-51.8.4h.9m46.6.2h.9m-40.1.2h.9m40.6.3h.9m3.4 0h.9m-5.2.6h.9m.4.3h.9m-.1.3h.9m-3.2.5h.9m6.7 0h.9m-5.2.2h.9m1.7 0h.9m1.7.2h.9m-2.2.3h.9m-.6 0h.9m-5.3.6h.9m2.1.2h.9m-.8.5h.9m-72.9.1h.9m69.4.2h.9m.1 0h.9m.5 0h.9m-.5.2h.9m-4.9.2h.9m4.8 0h.9m-5.9.1h.9m1.3 0h.9m-1.9.5h.9m4.1.1h.9m-77.9.9h.9m73.1 0h.9m-.8.5h.9m-65 .6h.9m62.8.1h.9m-50.6.3h.9m-4.4 2.9h.9m2.4 0h.9m-22.4 1.9h.9m-4.6 1.9h.9m.1 2.6h.9m-3.8 1.2h.9m3.8.8h.9m-5.4 1.3h.9m-6.8 2.5h.9m5.6 1.3h.9m-5.9 1.2h.9m1.8.9h.9m-4.7.2h.9m2 .6h.9m2.6 2.8h.9m-5.1.3h.9m5.7.8h.9m-.9 3.4h.9m-7.4 1.4h.9m-2.8 3.2h.9m-1.8.1h.9m2 .6h.9m2.6 1.5h.9m-2.1 1.3h.9" stroke="#fde725" stroke-width="0.9" fill="none"/>
<defs><linearGradient id="vir1"><stop offset="0.0" stop-color="#440154"/><stop offset="0.1" stop-color="#482374"/><stop offset="0.2" stop-color="#404387"/><stop offset="0.3" stop-color="#345e8d"/><stop offset="0.4" stop-color="#29788e"/><stop offset="0.5" stop-color="#20908c"/><stop offset="0.6" stop-color="#22a784"/><stop offset="0.7" stop-color="#44be70"/><stop offset="0.8" stop-color="#79d151"/><stop offset="0.9" stop-color="#bdde26"/><stop offset="1.0" stop-color="#fde725"/></linearGradient></defs>
<rect x="160.1" y="208.6" width="38.599999999999994" height="4.700000000000017" fill="url(#vir1)"/>
<line x1="160.10" y1="207.40" x2="160.10" y2="208.60" stroke="#555" stroke-width="0.5"/>
<text x="160.10" y="204.63" font-size="6.2" text-anchor="middle" fill="#333">9</text>
<line x1="169.75" y1="207.40" x2="169.75" y2="208.60" stroke="#555" stroke-width="0.5"/>
<text x="169.75" y="204.63" font-size="6.2" text-anchor="middle" fill="#333">11</text>
<line x1="179.40" y1="207.40" x2="179.40" y2="208.60" stroke="#555" stroke-width="0.5"/>
<text x="179.40" y="204.63" font-size="6.2" text-anchor="middle" fill="#333">13</text>
<line x1="189.05" y1="207.40" x2="189.05" y2="208.60" stroke="#555" stroke-width="0.5"/>
<text x="189.05" y="204.63" font-size="6.2" text-anchor="middle" fill="#333">15</text>
<line x1="198.70" y1="207.40" x2="198.70" y2="208.60" stroke="#555" stroke-width="0.5"/>
<text x="198.70" y="204.63" font-size="6.2" text-anchor="middle" fill="#333">17</text>
<text x="179.90" y="222.12" font-size="7" text-anchor="middle" fill="#333">Time (d)</text>
<path d="M17.1,282.4 V258.8 Q17.1,247.8 28.1,247.8 H98.10000000000001 M124.7,247.8 H196.3 Q207.3,247.8 207.3,258.8 V322.3 Q207.3,333.3 196.3,333.3 H67.6" fill="none" stroke="#eba273" stroke-width="0.8"/><text x="111.40" y="250.39" font-size="7.2" text-anchor="middle" fill="#222">Mouse</text>
<text x="16.80" y="298.38" font-size="6.6" text-anchor="middle" fill="#333" transform="rotate(-90 16.80 296.00)">UMAP2</text>
<line x1="16.40" y1="334.30" x2="16.40" y2="311.80" stroke="#56637e" stroke-width="0.8"/>
<path d="M15.099999999999998,312.3 L16.4,309.8 L17.7,312.3z" fill="#56637e"/>
<line x1="16.40" y1="334.30" x2="39.00" y2="334.30" stroke="#56637e" stroke-width="0.8"/>
<path d="M38.5,333.0 L41,334.3 L38.5,335.6z" fill="#56637e"/>
<text x="43.60" y="336.78" font-size="6.6" text-anchor="start" fill="#333">UMAP1</text>
<path d="M33.2,255.3 C36.5,252.4 44.2,252.2 47.7,252.5 C51.2,252.8 53.0,254.2 54.1,257.1 C55.2,260.0 53.7,266.2 54.1,269.8 C54.5,273.4 56.6,274.6 56.8,278.9 C56.9,283.1 55.9,291.4 55.0,295.3 C54.1,299.2 52.8,299.5 51.4,302.5 C50.0,305.5 48.0,310.2 46.8,313.5 C45.6,316.8 45.8,320.4 44.1,322.5 C42.4,324.6 39.4,325.9 36.8,326.2 C34.2,326.5 30.4,326.2 28.6,324.4 C26.8,322.6 26.5,320.4 25.9,315.3 C25.3,310.2 24.7,301.1 25.0,293.5 C25.3,285.9 26.3,276.2 27.7,269.8 C29.1,263.4 29.9,258.2 33.2,255.3Z" fill="none" stroke="#f4a6a6" stroke-width="0.6"/>
<path d="M53.2,258.9 C54.1,256.8 56.3,257.1 60.5,257.1 C64.7,257.1 72.5,257.1 78.6,258.9 C84.6,260.7 91.3,264.7 96.8,268.0 C102.3,271.3 109.3,275.7 111.4,278.9 C113.5,282.1 111.0,285.9 109.5,287.1 C108.0,288.3 105.3,287.7 102.3,286.2 C99.3,284.7 95.4,280.7 91.4,278.0 C87.5,275.3 82.8,271.2 78.6,269.8 C74.3,268.4 69.8,269.8 65.9,269.8 C62.0,269.8 57.1,271.6 55.0,269.8 C52.9,268.0 52.3,261.0 53.2,258.9Z" fill="none" stroke="#a9c9e6" stroke-width="0.6"/>
<path d="M48.7 256.7h.9m-2 .2h.9m1.3.2h.9m-3 .1h.9m-4.1.1h.9m3.5 0h.9m-.9 0h.9m0 0h.9m-4.5.3h.9m3.6.1h.9m-10.6.1h.9m-.8 0h.9m8.4 0h.9m-6.3.2h.9m2 .2h.9m-7 .1h.9m8.5 0h.9m-10.6.1h.9m2.4 0h.9m3.3.2h.9m1.6 0h.9m-9.1.1h.9m5 .1h.9m-6.1.1h.9m6.9 0h.9m-.7.1h.9m-8.1.1h.9m2.9 0h.9m2.6 0h.9m-.5.2h.9m-11.2.2h.9m4.3.2h.9m-.6 0h.9m-8.4.1h.9m3.3 0h.9m3.6 0h.9m-4 .1h.9m-3.7.3h.9m1.4 0h.9m5.6 0h.9m-9.4.1h.9m.8.2h.9m3.8 0h.9m2.4.1h.9m-12 .1h.9m11.1 0h.9m-4.8.1h.9m-.4 0h.9m-8.6.1h.9m8.3 0h.9m.2.1h.9m-6 .2h.9m-7.1.1h.9m3.5 0h.9m-.6 0h.9m-.3 0h.9m2.9.2h.9m2 .1h.9m-14.1.1h.9m.3.2h.9m2.6.1h.9m-.1 0h.9m4.3 0h.9m1.8.3h.9m-2.1.1h.9m-9.7.3h.9m2.1 0h.9m4.9 0h.9m-9.4.2h.9m-2.6.1h.9m2.7.1h.9m2.8.1h.9m-4.2.1h.9m3.9 0h.9m-3.1.1h.9m3.3 0h.9m-16.2.2h.9m6.1 0h.9m-1 .1h.9m3.5.1h.9m0 0h.9m1.9 0h.9m-11.9.1h.9m1.6 0h.9m2.8 0h.9m-3.9.2h.9m3.2 0h.9m.6 0h.9m-4.8.1h.9m1.2 0h.9m-3.9.1h.9m6.3 0h.9m-9.1.1h.9m7.4 0h.9m-4.2.1h.9m-6.8.1h.9m6.4 0h.9m-2.5.1h.9m.5 0h.9m.3 0h.9m-.9 0h.9m-8 .1h.9m7 0h.9m-6.8.1h.9m-1.3.1h.9m2.6.2h.9m-.1.1h.9m.4 0h.9m-6.8.1h.9m-6.7.2h.9m3 0h.9m1.8 0h.9m-2.4.1h.9m4.7 0h.9m-4 .2h.9m1.9 0h.9m-1.3.1h.9m1.9 0h.9m-5 .1h.9m1.1.3h.9m-5.7.1h.9m3.4.4h.9m-8.3.2h.9m1 .1h.9m3.1.5h.9m-2.8.1h.9m2.4.3h.9m-2.2.1h.9m-.1.5h.9m-.5 0h.9m-1.8.1h.9m1.4 0h.9m-1.8.2h.9m1.2.3h.9m-2.7.1h.9m1.4.3h.9m-1.8.3h.9" stroke="#5fbfa7" stroke-width="0.9" fill="none"/>
<path d="M41 263h.9m-3.6.2h.9m-1.5.1h.9m.9.1h.9m-2.8.3h.9m-2.8.1h.9m-1.3.1h.9m2 .1h.9m-4 .6h.9m3 0h.9m.2 0h.9m-.4.1h.9m-.7 0h.9m1.2 0h.9m-6 .1h.9m1.2.1h.9m-4.7.1h.9m-.3.2h.9m-3.4.1h.9m2 0h.9m4.5 0h.9m-7.8.1h.9m1.6 0h.9m4.8.2h.9m-1 .1h.9m-4 .1h.9m-8.9.2h.9m8.9 0h.9m-2.2.1h.9m-7.4.1h.9m8 0h.9m-3.4.1h.9m-.7 0h.9m-8.3.3h.9m6.2.2h.9m-4.3.1h.9m-2.5.4h.9m3.5 0h.9m-4.7.1h.9m-5.5.1h.9m16.4 0h.9m-10.9.2h.9m-5.4.2h.9m3.2 0h.9m-2.5.1h.9m4 0h.9m3.1 0h.9m-6 .1h.9m-5 .3h.9m2.9.1h.9m2.1 0h.9m5.9 0h.9m-16.4.1h.9m2.8 0h.9m-.5 0h.9m4.4 0h.9m-13 .1h.9m5.4 0h.9m6.4 0h.9m-13.1.1h.9m-.9 0h.9m-.1 0h.9m6.1.1h.9m2.6 0h.9m1.8 0h.9m-15.7.1h.9m.3 0h.9m3.7 0h.9m7.6 0h.9m1.3 0h.9m.3 0h.9m-12 .1h.9m3.7 0h.9m-.3 0h.9m3.3 0h.9m-13.9.1h.9m2.8.1h.9m-8.9.1h.9m16.3.1h.9m-16.9.1h.9m-.4 0h.9m5.3 0h.9m-9.3.1h.9m7.8 0h.9m-2 .1h.9m2.5 0h.9m1.5.1h.9m.9 0h.9m3.5 0h.9m-4.6.1h.9m1.3 0h.9m-18.3.2h.9m4.4 0h.9m11.5 0h.9m-.2 0h.9m-21.2.1h.9m8.5 0h.9m12.6 0h.9m-19.6.1h.9m.9 0h.9m1.4 0h.9m2.4 0h.9m-12.9.1h.9m3.9 0h.9m7 .1h.9m-6.5.1h.9m5.2 0h.9m2.2 0h.9m-13.1.1h.9m13.7 0h.9m.1 0h.9m-19.5.1h.9m4 0h.9m-3.4.1h.9m1.1 0h.9m5.3 0h.9m.2 0h.9m0 0h.9m1.6 0h.9m1.3 0h.9m-.9 0h.9m3.2 0h.9m-12.8.1h.9m-.6 0h.9m-.3 0h.9m.1 0h.9m2.8 0h.9m-9 .1h.9m9.8 0h.9m-15.3.1h.9m-2 .1h.9m-1.6.1h.9m7.3 0h.9m5.9 0h.9m-14.5.1h.9m14.8 0h.9m-11.8.1h.9m12.6 0h.9m-22.5.1h.9m.6 0h.9m6.8.1h.9m-9.7.1h.9m1.5.2h.9m8.9 0h.9m4.5 0h.9m-16.8.1h.9m1.2 0h.9m-2.3.1h.9m10.1.1h.9m6.6 0h.9m-.6.1h.9m-19.5.1h.9m5.3 0h.9m8.6 0h.9m1.3 0h.9m-.3 0h.9m-11.9.1h.9m.5 0h.9m4.1 0h.9m-10.8.1h.9m-1.3.1h.9m3.3 0h.9m1.5 0h.9m.1 0h.9m-.6 0h.9m-8.4.1h.9m1.4 0h.9m9.3 0h.9m-21.3.1h.9m15.8 0h.9m6.9 0h.9m-18.4.1h.9m.9 0h.9m1.8 0h.9m-7.6.2h.9m.1 0h.9m5 0h.9m-.5 0h.9m6.3 0h.9m-5.1.1h.9m-5.2.1h.9m-.4 0h.9m1.3 0h.9m-5.6.1h.9m-.6 0h.9m2.1.1h.9m1.1 0h.9m.1 0h.9m-14.2.1h.9m15.8.1h.9m.9 0h.9m1.2 0h.9m-20.8.1h.9m4.6 0h.9m.3 0h.9m2.6 0h.9m-12.1.1h.9m1.8 0h.9m3 0h.9m2.7 0h.9m4.6 0h.9m-18.2.1h.9m.4 0h.9m7.2 0h.9m5 0h.9m1.1 0h.9m-16.8.1h.9m2.6 0h.9m6.4 0h.9m4.3 0h.9m3.8 0h.9m-11.5.1h.9m5.2 0h.9m-4.6.1h.9m.8 0h.9m-3.4.1h.9m8.4 0h.9m-22.4.1h.9m20.2 0h.9m-4 .1h.9m-15.2.1h.9m12.1 0h.9m-15.2.1h.9m11.8 0h.9m-4.6.1h.9m-10.1.1h.9m.5 0h.9m2.2 0h.9m2.6 0h.9m7.6 0h.9m-17.9.1h.9m1.6 0h.9m13.1 0h.9m-11.7.2h.9m-4.5.1h.9m-.7 0h.9m.7 0h.9m3.1 0h.9m-.5 0h.9m2.4 0h.9m-1.7.1h.9m4.4 0h.9m4 .1h.9m-.6.4h.9m-21.6.1h.9m5.3 0h.9m3.8.2h.9m-9 .2h.9m4.4.1h.9m2.5.2h.9m1.9 0h.9m.3.1h.9m-14.2.1h.9m8.1.1h.9m-5.5.1h.9m3.8 0h.9m-.5.3h.9m3.6 0h.9m-11.2.1h.9m-.1.8h.9m-4.8.1h.9m4.9 0h.9m-2.1.5h.9m-3.5.1h.9" stroke="#c35fc3" stroke-width="0.9" fill="none"/>
<path d="M29 273.7h.9m-1.3.4h.9m2 .2h.9m-3.7.6h.9m.6.1h.9m3 0h.9m-6.3.1h.9m-.5.3h.9m2 .4h.9m-.6.2h.9m-3.4.1h.9m-1.1.5h.9m-.8 0h.9m-1.5.2h.9m-.3.3h.9m-2.4.1h.9m2.3.1h.9m.9 0h.9m-5.5.3h.9m4.3.3h.9m-1.6.1h.9m-.3 0h.9m-6.5.2h.9m2.7 0h.9m-1 .1h.9m-1.5.3h.9m4.3 0h.9m-.5 0h.9m-8.1.3h.9m2.9.1h.9m-6.6.1h.9m8.2 0h.9m-1 .1h.9m-9.5.1h.9m3.2 0h.9m-5.6.4h.9m.2 0h.9m1.5 0h.9m3.5 0h.9m-5.8.1h.9m0 0h.9m2.5 0h.9m-2.4.1h.9m1.4 0h.9m-7.7.1h.9m1.6.1h.9m-4.4.3h.9m3.4.3h.9m-5.1.1h.9m1.8 0h.9m2.2.1h.9m-.6 0h.9m-1.4.1h.9m-.9 0h.9m-1.9.1h.9m.8 0h.9m-6.2.1h.9m4.2.1h.9m2.1.1h.9m-8.8.1h.9m1.2 0h.9m3.1.1h.9m.8.1h.9m-2.4.1h.9m-5.2.2h.9m3.1 0h.9m-8.1.3h.9m5.2 0h.9m-6.8.1h.9m-1.8.1h.9m-.1 0h.9m4.6.1h.9m-.4 0h.9m3.8.1h.9m-5.8.1h.9m-7 .2h.9m7.2 0h.9m.8 0h.9m-7.1.1h.9m-.3 0h.9m1.3.1h.9m.4 0h.9m-3.7.1h.9m3.9 0h.9m-1.2.1h.9m-7.8.1h.9m6 0h.9m-8.4.1h.9m2.8 0h.9m-1.2.2h.9m3.8.1h.9m0 0h.9m-10.7.1h.9m.9.2h.9m.6.2h.9m-.4 0h.9m1.6 0h.9m-1.5.1h.9m2.5 0h.9m-11.9.2h.9m6.1 0h.9m-.9 0h.9m.5.1h.9m3.8 0h.9m-8 .1h.9m1.5.1h.9m-.4 0h.9m-3.9.1h.9m-6.2.2h.9m11.2 0h.9m-13.3.1h.9m.9 0h.9m4.7.1h.9m-1 .1h.9m-4.5.1h.9m5.3 0h.9m-10.1.1h.9m6.4 0h.9m-.9 0h.9m-8.6.1h.9m2.7 0h.9m4 0h.9m-8.1.1h.9m-1.9.2h.9m8.7 0h.9m-8.6.1h.9m.2.1h.9m-2.6.1h.9m-2.5.1h.9m6.3.2h.9m-.8 0h.9m-5.7.3h.9m6.3 0h.9m.5 0h.9m-7.3.1h.9m.8 0h.9m-.8 0h.9m4.1.1h.9m-5.6.1h.9m1.8 0h.9m-10.9.2h.9m1.8 0h.9m1.6 0h.9m.8.1h.9m-2.9.2h.9m.6.1h.9m-.5 0h.9m-7.7.2h.9m-.4.2h.9m-.6.1h.9m9.1 0h.9m-2.9.1h.9m.3 0h.9m-9.8.1h.9m6.6.2h.9m-7.7.3h.9m6.1 0h.9m-3 .1h.9m-5.4.1h.9m3.4.1h.9m4.7 0h.9m-5 .1h.9m-.6 0h.9m-6.7.4h.9m1.4 0h.9m5.6 0h.9m-4.3.1h.9m-.9 0h.9m-8.4.1h.9m2.6 0h.9m7.9 0h.9m-10.8.5h.9m-.3 0h.9m1.6 0h.9m-.8 0h.9m-3.3.1h.9m-.9 0h.9m-.7 0h.9m6.1 0h.9m-3.2.1h.9m.4 0h.9m-2.3.1h.9m-7 .1h.9m1.1.1h.9m.4 0h.9m-1.7.2h.9m-2.5.2h.9m1.3 0h.9m.2 0h.9m3.3.1h.9m-.5.1h.9m-10.4.5h.9m1.4 0h.9m.8 0h.9m1.7 0h.9m-3 .1h.9m-.7 0h.9m-.6.1h.9m-6.2.1h.9m9.5.1h.9m-10.6.1h.9m2.4.1h.9m3 0h.9m-1.1.1h.9m1.7.1h.9m-11 .2h.9m8.2 0h.9m-.9 0h.9m-3.9.1h.9m-8 .3h.9m4.7 0h.9m5.1.2h.9m-4.3.1h.9m2.2.1h.9m-5.3.2h.9m-4 .4h.9m-4.6.1h.9m1.1 0h.9m.5 0h.9m7.8 0h.9m-8.1.1h.9m-5.8.5h.9m-.7.1h.9m6.3 0h.9m-3.4.1h.9m-5.5.1h.9m-1.2.1h.9m-.4 0h.9m8.1.1h.9m-5.4.1h.9m-3.3.2h.9m1 0h.9m.6 0h.9m1.6 0h.9m-5.1.2h.9m3.7.1h.9m-10.3.1h.9m5.1 0h.9m1.8.1h.9m-5.6.3h.9m2.9 0h.9m-5.3.1h.9m.1.1h.9m3.3 0h.9m-6.5.1h.9m3.4 0h.9m-8.9.1h.9m2.9.2h.9m-.4 0h.9m6.9.1h.9m-.9 0h.9m-11.1.1h.9m-.8 0h.9m4.7.1h.9m-6.6.1h.9m-.5 0h.9m4.3.3h.9m-8.3.1h.9m4.1.1h.9m.9 0h.9m-2.9.6h.9m5.2.1h.9m-6.9.2h.9m3.2 0h.9m.9.1h.9m-2.9.1h.9m-.1.1h.9m-1.4.1h.9m.7 0h.9m-9 .2h.9m.6 0h.9m-1 .1h.9m-1.7.1h.9m7.6 0h.9m-8.9.2h.9m-.3.1h.9m.3.2h.9m-.9 0h.9m-.2 0h.9m-5 .1h.9m1 0h.9m.4.3h.9m-2.8.1h.9m1.4 0h.9m-.3.3h.9m-2.8.1h.9m2.9 0h.9m-2.4.3h.9m.7 0h.9m0 .2h.9m-1.2.1h.9m-8.3.2h.9m1.9 0h.9m6.4.3h.9m-5.6.4h.9m3 .7h.9" stroke="#2f8a55" stroke-width="0.9" fill="none"/>
<path d="M52.4 274.3h.9m-.2 1h.9m-.2.2h.9m-1 1h.9m-5.9.2h.9m-10 .1h.9m2 0h.9m11.2 0h.9m-6.4.2h.9m-8.6.3h.9m10.7 0h.9m.2 0h.9m-12.5.1h.9m6.1 0h.9m-10 .1h.9m3.3 0h.9m-3.3.1h.9m4.4 0h.9m-7 .1h.9m-.5 0h.9m12.1 0h.9m-13.4.1h.9m1.6 0h.9m3 0h.9m-1 .1h.9m3.6 0h.9m-10.6.1h.9m8.4 0h.9m-10.9.2h.9m3 0h.9m-3.4.1h.9m3.2 0h.9m2.7.1h.9m-14.4.1h.9m0 0h.9m3.3 0h.9m7.8 0h.9m-13 .1h.9m-.2 0h.9m10.5 0h.9m-.5 0h.9m1.7.1h.9m-5 .2h.9m1.2 0h.9m-3.6.1h.9m-7.6.2h.9m2.2 0h.9m-5.2.1h.9m2.2 0h.9m3.5 0h.9m.1 0h.9m1.9.1h.9m-12.9.1h.9m9.3 0h.9m-8.1.1h.9m8.9 0h.9m-13.3.1h.9m-1.5.1h.9m3.1 0h.9m1.8 0h.9m2.9.1h.9m-14.8.1h.9m.6 0h.9m4.4 0h.9m2.7 0h.9m2.3 0h.9m-11.7.1h.9m.3 0h.9m-1.7.1h.9m10.1 0h.9m-9.2.1h.9m8.6 0h.9m-7.7.1h.9m4.3 0h.9m-15.4.3h.9m1.4 0h.9m9.4 0h.9m-9.1.2h.9m-.5 0h.9m7.9 0h.9m-11 .1h.9m.8 0h.9m3.7 0h.9m3.5 0h.9m2 .1h.9m-12.5.1h.9m-6.4.1h.9m13.9 0h.9m-11.3.1h.9m-1.9.3h.9m11 0h.9m-14 .1h.9m8 .3h.9m3 0h.9m-5.5.2h.9m-6.2.3h.9m-.7.1h.9m-.8.1h.9m2.8 0h.9m-.3.1h.9m1 0h.9m-11.2.1h.9m2 .1h.9m8.3 0h.9m.7 0h.9m-7.3.1h.9m6.5 0h.9m-11.9.1h.9m10.1 0h.9m-12.2.1h.9m10 0h.9m-17.1.3h.9m8.9 0h.9m3.1.1h.9m-12.2.2h.9m1.9 0h.9m1.9 0h.9m-1 .1h.9m6 0h.9m.2 0h.9m-7 .1h.9m1.4 0h.9m-9.2.1h.9m1.8 0h.9m-.5 0h.9m1.6 0h.9m-1.3.2h.9m-.2 0h.9m5.1 0h.9m-13.8.1h.9m-.7 0h.9m6.1.2h.9m6.2 0h.9m-.4.1h.9m-7.9.1h.9m-5.1.1h.9m-7.1.1h.9m12.8.2h.9m-10.6.1h.9m2.2.1h.9m1.6.1h.9m2.1 0h.9m2.9 0h.9m-15.8.1h.9m9.6 0h.9m3.1 0h.9m-13.9.1h.9m2.6 0h.9m5 0h.9m1.7 0h.9m-15 .3h.9m8.3 0h.9m3.8 0h.9m-11.8.1h.9m3.5 0h.9m-2.1.1h.9m2.9 0h.9m-11 .1h.9m13.2 0h.9m-.5 0h.9m-12.7.3h.9m1.3.1h.9m.2 0h.9m7.8 0h.9m-11.5.2h.9m10.3 0h.9m-5.8.1h.9m-4.8.1h.9m4.4 0h.9m-10 .1h.9m9.1 0h.9m1.5 0h.9m-8.6.1h.9m-.2 0h.9m.4 0h.9m-1.2.1h.9m-7.5.3h.9m12.1 0h.9m-8.1.1h.9m2 0h.9m4.9.3h.9m-9.4.1h.9m1.4 0h.9m-.7 0h.9m.4 0h.9m-4.2.1h.9m-1.2.1h.9m4.7.2h.9m-2.4.2h.9m-.3.1h.9m-2.2.2h.9m-7.5.1h.9m1.2 0h.9m5.5 0h.9m-11.8.1h.9m.6 0h.9m5 0h.9m-1.6.1h.9m-.9 0h.9m4.7 0h.9m-11.7.1h.9m5.8 0h.9m.4 0h.9m.4.1h.9m-11 .1h.9m5.2 0h.9m-5.5.1h.9m-.1 0h.9m6.9 0h.9m-10.5.1h.9m1.2 0h.9m2.9 0h.9m.5 0h.9m-1.9.1h.9m-5.6.2h.9m.1 0h.9m-3.7.1h.9m8.8.1h.9m-7.8.1h.9m3 0h.9m-8.1.2h.9m6.9 0h.9m-3.8.1h.9m3.5 0h.9m-6.4.2h.9m1.8.2h.9m-5.1.1h.9m-.7 0h.9m4.5.2h.9m-.6.1h.9m.9 0h.9m-11 .1h.9m5.1 0h.9m1.4 0h.9m-8.7.1h.9m4.5 0h.9m1.4 0h.9m1.5 0h.9m-10.1.2h.9m2.8 0h.9m.7.1h.9m-.7.2h.9m-1.8.1h.9m3.4.2h.9m-.7 0h.9m-3.1.1h.9m2 0h.9m-9.6.1h.9m2.1 0h.9m2.5 0h.9m-3.5.2h.9m4.4.1h.9m-6.4.1h.9m3.5 0h.9m-6.3.4h.9m4.5 0h.9m-2.2.1h.9m1.5.1h.9m-10.4.2h.9m1.1 0h.9m4.6.1h.9m1 .1h.9m-.5 0h.9m-1.6.2h.9m0 0h.9m-5.7.1h.9m1.9 0h.9m-5.6.5h.9m2.8.3h.9m2.2 0h.9m-2.4.2h.9m-1.5.2h.9m-1.7.2h.9m0 0h.9m.7 0h.9m-1.2.4h.9m-2.7.2h.9m.9.7h.9m-5 1.1h.9m2.6 0h.9m-3.5 1.3h.9" stroke="#4b4aa6" stroke-width="0.9" fill="none"/>
<path d="M36.1 290.5h.9m5.2 0h.9m-2.4.6h.9m-.6.1h.9m-2.4.1h.9m.1 0h.9m-.3 0h.9m-1.6.4h.9m-1.9.2h.9m.2.2h.9m.2 0h.9m.3.4h.9m-2.2.1h.9m-.6.1h.9m-.9 0h.9m1.9 0h.9m-6.1.3h.9m-.2.3h.9m-1.4.3h.9m1.6 0h.9m.5 0h.9m-5.7.1h.9m3 .4h.9m.9 0h.9m-7.2.1h.9m2.9 0h.9m-3.2.1h.9m5.4.1h.9m-2.8.1h.9m6.2 0h.9m-11.2.1h.9m1.1 0h.9m-2.1.4h.9m-5.5.1h.9m3.5 0h.9m-1.1.1h.9m3.2.2h.9m-2.4.1h.9m-3.8.1h.9m6.8.1h.9m-3.6.2h.9m-9.4.1h.9m4.5.1h.9m-.5.1h.9m1.7.1h.9m-8.8.1h.9m-.4.4h.9m13 0h.9m-13.1.1h.9m2.9.1h.9m2.3 0h.9m-8.8.2h.9m-.5 0h.9m6.2.1h.9m-10.4.2h.9m1.3 0h.9m10.8 0h.9m-4.4.1h.9m-8.6.1h.9m10.5.2h.9m-12 .2h.9m3.2 0h.9m-2.4.1h.9m-6.3.2h.9m4.3 0h.9m1.2.2h.9m4.6 0h.9m-.7.1h.9m-7.5.1h.9m1.5 0h.9m4.3.2h.9m-4.5.1h.9m-2.1.1h.9m1.7.1h.9m-9.2.2h.9m4.5 0h.9m2.2.1h.9m1.6 0h.9m-7.3.1h.9m-4.8.1h.9m-.4 0h.9m2 0h.9m-6.4.1h.9m3.6 0h.9m-4.3.1h.9m1.1 0h.9m.5 0h.9m.4.1h.9m1.3 0h.9m-4.4.1h.9m3.7 0h.9m-1.8.1h.9m1.2 0h.9m-14.5.1h.9m2.4.1h.9m-1.1.1h.9m4.8 0h.9m1.6 0h.9m-.6 0h.9m-9.1.2h.9m.5.1h.9m1.1.1h.9m-6.5.3h.9m6.2.1h.9m4.6 0h.9m-13 .3h.9m1.4 0h.9m2.9.1h.9m5.3 0h.9m-12.5.1h.9m7 0h.9m-.7 0h.9m-.2 0h.9m-.6 0h.9m-12.7.1h.9m9.9.1h.9m2.1 0h.9m-11.5.1h.9m9 0h.9m.1 0h.9m-13.3.1h.9m2.8 0h.9m-3.8.1h.9m10.8 0h.9m-7.2.2h.9m.1.1h.9m-6 .2h.9m1.6.1h.9m.2 0h.9m-3.7.1h.9m2.7 0h.9m-3.3.1h.9m2.9.1h.9m.4 0h.9m0 0h.9m-5.1.2h.9m-.8 0h.9m-.9.2h.9m.1 0h.9m-.2 0h.9m-3.9.2h.9m.3.1h.9m-1.8.1h.9m-3.1.1h.9m5 0h.9m-.2 0h.9m-7.8.1h.9m-2.6.2h.9m5.3.1h.9m-5.1.1h.9m7 0h.9m-.2 0h.9m-.6 0h.9m-6.2.1h.9m1.1 0h.9m-.2 0h.9m-4 .1h.9m1.5 0h.9m.1.2h.9m-7.9.1h.9m-.9.1h.9m-4 .1h.9m10.5 0h.9m-8.1.1h.9m.5 0h.9m-2.1.5h.9m2.6 0h.9m2.2 0h.9m-3.3.1h.9m-6.1.1h.9m2.6.1h.9m1.3 0h.9m.6 0h.9m-8 .2h.9m4.8 0h.9m-.5.2h.9m-.3.2h.9m-6.1.1h.9m5 .1h.9m-7.2.1h.9m1.1 0h.9m-1.7.3h.9m1 .1h.9m.3.1h.9m-4.9.1h.9m3.6.4h.9m-.4 0h.9m-6.2.4h.9m3.6 0h.9m-5.2.2h.9m2 0h.9m.8 0h.9m-7.3.1h.9m-1 .1h.9m1.9 0h.9m2.4.1h.9m-.3.4h.9m-3.5.1h.9m.2 0h.9m-.1.2h.9" stroke="#d8757f" stroke-width="0.9" fill="none"/>
<path d="M27.5 298.6h.9m-1.4 2.6h.9m-.9.2h.9m1.1 0h.9m6.3.2h.9m-11.1.1h.9m1.7.4h.9m-.7.1h.9m.5.1h.9m-5 .4h.9m2.6.3h.9m-.6 0h.9m2.7 0h.9m-1.3.2h.9m-7.7.1h.9m2.9.1h.9m1.6 0h.9m-4.2.4h.9m6.4 0h.9m-10 .1h.9m.6 0h.9m1.7.1h.9m-4.6.3h.9m5.3.1h.9m-8.9.1h.9m5.3.1h.9m1.6 0h.9m-3.2.1h.9m4.4.1h.9m-3.5.1h.9m2.8.1h.9m-9.2.2h.9m3.3.1h.9m-9.3.2h.9m6.3.2h.9m3.4 0h.9m-9.6.1h.9m-.8 0h.9m4 .1h.9m1.4 0h.9m1.6.1h.9m-13.5.1h.9m4.5.2h.9m-1.2.2h.9m-5.3.1h.9m6.4 0h.9m1.1 0h.9m-8.3.2h.9m5.5.1h.9m.4 0h.9m-6.3.1h.9m-1.9.1h.9m6.2 0h.9m-8.3.1h.9m-.1 0h.9m-.1.2h.9m.4 0h.9m-7.2.1h.9m8.4 0h.9m-8.4.1h.9m4.9 0h.9m.5.2h.9m-8 .2h.9m9.6 0h.9m-9 .1h.9m-3.5.2h.9m10.5 0h.9m-5.4.2h.9m2.6 0h.9m-10.5.1h.9m2.2.1h.9m-.1 0h.9m3.4.1h.9m-7.4.3h.9m4 0h.9m-4 .1h.9m-6.4.2h.9m1.5.1h.9m2.1 0h.9m-1.5.3h.9m-6.1.2h.9m7.8.1h.9m3.1 0h.9m-5.2.4h.9m-4.9.2h.9m.9 0h.9m-2.8.4h.9m3.7.1h.9m-7 .1h.9m2.4 0h.9m-3.7.1h.9m-2.1.1h.9m.5 0h.9m2 0h.9m-1.1.1h.9m.9 0h.9m-1.7.1h.9m-3.5.2h.9m2.3 0h.9m.1.1h.9m-6 .1h.9m-.4 0h.9m-3.4.1h.9m4.3 0h.9m-6.4.4h.9m-1.2.2h.9m-.2 0h.9m1.8 0h.9m-.1 0h.9m-.3 0h.9m-.5 0h.9m.6 0h.9m.6 0h.9m-5.9.1h.9m-.3 0h.9m3.1.1h.9m-9.1.1h.9m2.5.1h.9m-4.1.2h.9m-.2.3h.9m.5.1h.9m-1.1.2h.9m-2.7.1h.9m.7.3h.9m.6 0h.9m2 .1h.9m-.1.1h.9m-7 .1h.9m-.9.5h.9m2.4 0h.9m-3 .3h.9m-3.7.1h.9m.4 0h.9m5.1 0h.9m-4.5.2h.9m-3.7.1h.9m.6.1h.9m-2.3.4h.9m2.6.1h.9m-4.6.1h.9m1.5.1h.9m.8 0h.9m-1.7.2h.9m1 1h.9m-4.9.2h.9m-1 .3h.9" stroke="#9dd0ee" stroke-width="0.9" fill="none"/>
<path d="M39 306.1h.9m-.6.6h.9m1.3.5h.9m-3.4 1.7h.9m6.6.2h.9m-7.2.5h.9m.2 0h.9m2 .1h.9m-8.3.5h.9m-.3 0h.9m-.4 0h.9m2.4.2h.9m-1.1.2h.9m-.6 0h.9m-.6.2h.9m-5.6.3h.9m2.5 0h.9m4.4.2h.9m-1.3.1h.9m-2.2.3h.9m-5.6.2h.9m1.1 0h.9m.9.1h.9m.4.1h.9m-5.4.1h.9m4.4.1h.9m-7.6.1h.9m4.7 0h.9m.3.2h.9m-4.8.1h.9m-3.6.2h.9m-2.6.1h.9m2 .2h.9m.5 0h.9m2.9.1h.9m-4.3.1h.9m1.8 0h.9m-.3.2h.9m-11.4.1h.9m5.9.1h.9m-3.5.1h.9m-2.3.2h.9m1.8.1h.9m3.4 0h.9m-1.1.1h.9m-.2 0h.9m-3.8.2h.9m-3.5.2h.9m4.1 0h.9m-10.4.1h.9m4.2.1h.9m-4.1.1h.9m-3.3.1h.9m-.9 0h.9m-.7 0h.9m2.9 0h.9m1.3 0h.9m1 0h.9m1 .1h.9m-6.1.1h.9m4.2 0h.9m-3.3.2h.9m-.2 0h.9m-1.1.4h.9m.1 0h.9m-7.3.1h.9m-.9 0h.9m2.5 0h.9m-3.3.1h.9m-5.6.2h.9m3.6 0h.9m1.5 0h.9m-4.6.1h.9m1.7 0h.9m-3.8.1h.9m2.9.1h.9m.3 0h.9m.7.3h.9m-.3.2h.9m.1 0h.9m-4.3.2h.9m-12.8.1h.9m5.5 0h.9m7.5 0h.9m-6.3.2h.9m-.3.1h.9m.9.2h.9m-14.1.1h.9m5.3 0h.9m6.4.1h.9m1.7.1h.9m-.3 0h.9m-10.6.1h.9m8.4 0h.9m-7.2.1h.9m3.8 0h.9m-12.1.1h.9m2.7 0h.9m5.7 0h.9m-9.3.1h.9m2.9 0h.9m-2.3.1h.9m-2.5.1h.9m6.8.1h.9m-11.9.1h.9m1.5.1h.9m6.8.1h.9m1.9 0h.9m-.5 0h.9m-10.6.1h.9m-4.3.2h.9m1.5 0h.9m9 0h.9m-13.2.1h.9m6.4 0h.9m3.7 0h.9m-10.1.2h.9m6.9 0h.9m-3.5.1h.9m4.1 0h.9m-2.7.1h.9m1 0h.9m-8.5.1h.9m-3.4.1h.9m-3.4.1h.9m2.6 0h.9m1.4 0h.9m3.6 0h.9m.1 0h.9m.2.1h.9m-7.7.1h.9m-6 .1h.9m2.5 0h.9m6.3 0h.9m-.6 0h.9m-3.7.4h.9m-7.5.1h.9m7.2 0h.9m-8.9.1h.9m.7 0h.9m3.6 0h.9m-10.5.2h.9m-1.1.1h.9m7.4.2h.9m-5.6.1h.9m.2 0h.9m-.5 0h.9m5.6 0h.9m-11.9.1h.9m-.8 0h.9m3.7 0h.9m2.6 0h.9m-9.1.1h.9m4.1 0h.9m5.4 0h.9m-3 .1h.9m.7 0h.9m-11.1.1h.9m4.7 0h.9m4.3 0h.9m-12.1.1h.9m9.5 0h.9m-7.9.1h.9m4.1 0h.9m.1 0h.9m-9.3.1h.9m8 0h.9m-10.2.1h.9m1.4 0h.9m-3.7.5h.9m8.8.1h.9m-5.9.1h.9m3.3.1h.9m-1.3.1h.9m-1.6.3h.9m-1.4.4h.9" stroke="#dccb7c" stroke-width="0.9" fill="none"/>
<path d="M72.3 258.3h.9m-1.1.2h.9m-3.7.2h.9m.5 0h.9m2.3 0h.9m2.6 0h.9m-7 .1h.9m3.3 0h.9m-7.5.1h.9m-.4 0h.9m5.4 0h.9m-1.9.1h.9m1.6 0h.9m-12 .1h.9m-.2 0h.9m3.9 0h.9m1.9 0h.9m-11 .2h.9m9 0h.9m-9.2.1h.9m3.5 0h.9m-5.9.1h.9m-.3 0h.9m3.6 0h.9m.7 0h.9m4.4 0h.9m-15.5.1h.9m11.7 0h.9m-12.2.1h.9m-3.1.1h.9m5.5 0h.9m8.8 0h.9m-14.6.1h.9m-.2.1h.9m.3 0h.9m.8 0h.9m-6 .1h.9m3.4 0h.9m-.3 0h.9m1.3 0h.9m-8.3.1h.9m2.3 0h.9m6.3 0h.9m.1 0h.9m-.2.3h.9m-1 .1h.9m-.9 0h.9m2.3 0h.9m-19.6.1h.9m2.8 0h.9m2.3 0h.9m-6.1.1h.9m-.5 0h.9m.4 0h.9m-.7 0h.9m.7 0h.9m3.6 0h.9m-10.2.1h.9m9.1 0h.9m1.9 0h.9m-8.5.1h.9m-6.3.1h.9m1.4 0h.9m2 0h.9m2.6 0h.9m7.8 0h.9m-8.5.1h.9m-.1.1h.9m-5.8.1h.9m8.5.1h.9m.5 0h.9m-15.8.1h.9m3.8 0h.9m6.5 0h.9m-12.4.2h.9m-.2 0h.9m8.8 0h.9m-7.2.1h.9m2.9 0h.9m4.2 0h.9m-13 .1h.9m5.5 0h.9m5.2 0h.9m.8 0h.9m-10.7.1h.9m-8.8.1h.9m5.5 0h.9m-6.3.1h.9m10.1 0h.9m1.1 0h.9m-14 .1h.9m5.7 0h.9m4.2 0h.9m4.3 0h.9m-15.6.1h.9m14.8 0h.9m-3.3.1h.9m-11.7.1h.9m-7.3.1h.9m5.7 0h.9m5.9 0h.9m-11.9.1h.9m10.4 0h.9m3.7 0h.9m-14.1.2h.9m.5 0h.9m11 0h.9m-12.1.1h.9m3.2 0h.9m5.3 0h.9m-11.9.1h.9m8.7 0h.9m-16.2.1h.9m-.2 0h.9m5 0h.9m-.2 0h.9m.8 0h.9m6 0h.9m-.4 0h.9m-9.3.1h.9m6.9 0h.9m-4.7.1h.9m5.9 0h.9m-12.4.1h.9m.3 0h.9m1.1 0h.9m7.9 0h.9m-23.2.1h.9m17.4 0h.9m-6.8.1h.9m-8.9.1h.9m-3.6.1h.9m1.5 0h.9m2.5 0h.9m4.1 0h.9m-8.9.1h.9m1.3 0h.9m2.4 0h.9m1.3 0h.9m-2.4.1h.9m-11 .1h.9m4.4 0h.9m-5.4.1h.9m1.2 0h.9m4.6 0h.9m-8.6.1h.9m5 .1h.9m-.8 0h.9m-8 .1h.9m5 0h.9m-4.2.1h.9m.6 0h.9m.6 0h.9m-3.6.2h.9m-.6 0h.9m-2.2.1h.9m-1.5.1h.9m.9 0h.9m-3.6.1h.9m.4 0h.9m-2.9.2h.9m2.6.3h.9m0 0h.9m-5 .1h.9m-.9.1h.9m.9.1h.9m.7.1h.9m-4.2.1h.9m.5 0h.9m-2.4.2h.9" stroke="#a6a54e" stroke-width="0.9" fill="none"/>
<path d="M81.3 261.1h.9m-3.9.5h.9m.4.4h.9m-.3.3h.9m-3.3.1h.9m4.1 0h.9m-.8 0h.9m.5 0h.9m-4.8.1h.9m1.6.1h.9m-.5.1h.9m-6.2.1h.9m.7 0h.9m3.7 0h.9m-6.5.1h.9m1.2.2h.9m-.5.2h.9m.1.4h.9m-.9 0h.9m-.4.2h.9m1.7.2h.9m-1.4.2h.9m1.5 0h.9m-1.8.3h.9m-3.4.1h.9m2.5.1h.9m.4 0h.9m-2.5.2h.9m-.4.1h.9m.5.1h.9m-3.7.1h.9m.4 0h.9m-1.1.1h.9m1.1 0h.9m-.6.2h.9m-2.4.1h.9m.5 1h.9m2.6 0h.9m-3.5.3h.9m1.2.1h.9m-.4.2h.9m-4.4.2h.9m.3.1h.9m.3.2h.9m1 0h.9m-2.8.4h.9m-.8 0h.9m-1 .3h.9m1 .1h.9m-.8 0h.9m-.2.2h.9m-3.3.3h.9m3.2.3h.9m-3.2.1h.9m-.6.1h.9m-.3 0h.9m-.9.3h.9m1.1.1h.9m-1 .1h.9m-.4.3h.9m-3.6.2h.9m1.4 0h.9m-.2.4h.9m-1.3.1h.9m-.7.3h.9m-2.1.1h.9m-.3.1h.9m-2 .3h.9m.7 0h.9m-3.1.1h.9m-.3 0h.9m.7 0h.9m-.1 0h.9m-2.9.9h.9m2.1 0h.9m-1.2.3h.9m-2.4.3h.9m-1 .3h.9m-0 .1h.9m-1.8.1h.9m.3.1h.9m-1.2.2h.9m1.8 0h.9m-4 .3h.9m2.3 1.2h.9m-.6.7h.9m-2.1.1h.9m.2 0h.9m-2 .1h.9m-.2.1h.9" stroke="#a33b6e" stroke-width="0.9" fill="none"/>
<path d="M104.4 278.3h.9m-1.4.1h.9m-.4 0h.9m-.6.1h.9m-.1 0h.9m-3.1.1h.9m-.7 0h.9m-1.2.1h.9m-.1.1h.9m1.6 0h.9m-2.1.1h.9m1.1.1h.9m-4.4.1h.9m-.8.2h.9m3.1.1h.9m-5 .1h.9m3.5 0h.9m-2.2.1h.9m-2 .1h.9m1 0h.9m-5.3.1h.9m-.8 0h.9m3.7 0h.9m-3.5.1h.9m.9 0h.9m-2.1.1h.9m.9 0h.9m0 .1h.9m-3.8.3h.9m1.6 0h.9m-.4 0h.9m-5.4.1h.9m.4 0h.9m.2 0h.9m-3.6.1h.9m1.9 0h.9m-3.6.1h.9m-2 .1h.9m3.2 0h.9m.2 0h.9m-2.3.1h.9m.8 0h.9m-3.7.1h.9m2.3 0h.9m-3 .1h.9m-3.3.1h.9m3.2 0h.9m-5.1.2h.9m1.6 0h.9m-.6 0h.9m-1.5.1h.9m0 .1h.9m-2.1.1h.9m-.7.1h.9m.1 0h.9m-4 .1h.9m.1.2h.9m-.3.1h.9m-1.9.3h.9m-.3 0h.9" stroke="#5b3432" stroke-width="0.9" fill="none"/>
<rect x="93.2" y="255.3" width="16.3" height="7.2" fill="#fff" stroke="#a9c9e6" stroke-width="0.6"/>
<text x="101.30" y="261.20" font-size="6.4" text-anchor="middle" fill="#333">MNs</text>
<path d="M44.1,322.5 Q46,318 51.5,319" fill="none" stroke="#f4a6a6" stroke-width="0.6"/>
<rect x="51.3" y="318.5" width="41.4" height="7.7" fill="#fff" stroke="#f4a6a6" stroke-width="0.6"/>
<text x="72.00" y="324.92" font-size="7" text-anchor="middle" fill="#333">Progenitors</text>
<circle cx="62.60" cy="281.30" r="2.2" fill="#9dd0ee"/>
<text x="66.80" y="283.57" font-size="6.3" text-anchor="start" fill="#333">M0</text>
<circle cx="62.60" cy="288.50" r="2.2" fill="#d8757f"/>
<text x="66.80" y="290.77" font-size="6.3" text-anchor="start" fill="#333">M1</text>
<circle cx="62.60" cy="295.70" r="2.2" fill="#dccb7c"/>
<text x="66.80" y="297.97" font-size="6.3" text-anchor="start" fill="#333">M2</text>
<circle cx="62.60" cy="302.90" r="2.2" fill="#2f8a55"/>
<text x="66.80" y="305.17" font-size="6.3" text-anchor="start" fill="#333">M3</text>
<circle cx="62.60" cy="310.10" r="2.2" fill="#4b4aa6"/>
<text x="66.80" y="312.37" font-size="6.3" text-anchor="start" fill="#333">M4</text>
<circle cx="81.00" cy="281.30" r="2.2" fill="#c35fc3"/>
<text x="85.90" y="283.57" font-size="6.3" text-anchor="start" fill="#333">M5</text>
<circle cx="81.00" cy="288.50" r="2.2" fill="#5fbfa7"/>
<text x="85.90" y="290.77" font-size="6.3" text-anchor="start" fill="#333">M6</text>
<circle cx="81.00" cy="295.70" r="2.2" fill="#a6a54e"/>
<text x="85.90" y="297.97" font-size="6.3" text-anchor="start" fill="#333">M7</text>
<circle cx="81.00" cy="302.90" r="2.2" fill="#a33b6e"/>
<text x="85.90" y="305.17" font-size="6.3" text-anchor="start" fill="#333">M8</text>
<circle cx="81.00" cy="310.10" r="2.2" fill="#5b3432"/>
<text x="85.90" y="312.37" font-size="6.3" text-anchor="start" fill="#333">M9</text>
<path d="M139.9 257.3h.8m-4.7.7h.8m6 .9h.8m21.8.2h.8m-26.3.7h.8m14.5.1h.8m-2.6.3h.8m-10.1.8h.8m10.6 0h.8m-3.9.1h.8m14.2.9h.8m2.4 0h.8m2.5.4h.8m-19.4.3h.8m11.1.2h.8m-36 .1h.8m17.6.4h.8m7 .3h.8m-32.7.2h.8m8.5 0h.8m37.2 0h.8m-23.2.3h.8m-14.9.1h.8m19.5 0h.8m19.9 0h.8m-23.2.2h.8m-14 .1h.8m36.1.2h.8m-30.4.3h.8m-14.8.5h.8m-5 .2h.8m14.6.6h.8m-10 .1h.8m-6.7.3h.8m48.4.2h.8m-59 .5h.8m6.1.4h.8m52 .6h.8m-41.9.2h.8m-1.3.1h.8m-6.7.3h.8m-9 .1h.8m16.8.1h.8m-21 .3h.8m12.2.3h.8m-7.8.4h.8m55.8 1.2h.8m-63.2.1h.8m61.1.3h.8m-1.4.1h.8m-54.9.8h.8m5.6 0h.8m-6.9.2h.8m1.6 0h.8m-5.8.8h.8m-8.1.2h.8m-3.3.1h.8m20.2 0h.8m-9 .4h.8m-12.1.4h.8m-.7.1h.8m2.8.1h.8m-2.1.1h.8m-1 .8h.8m67.8.5h.8m-72 .6h.8m16.2.1h.8m-7.1.3h.8m-12.6.1h.8m12.9.2h.8m-11.5.5h.8m6.8.2h.8m64.7 0h.8m-68.9.6h.8m66.4 0h.8m-60.9.1h.8m-4.7.2h.8m-.9.6h.8m13.1.3h.8m-26.8.1h.8m77.2.1h.8m-3.4.3h.8m4.4 0h.8m-75.2.1h.8m-5.9.3h.8m8 .1h.8m-3.3.3h.8m-4.9.4h.8m3.2 0h.8m-7.8.4h.8m-1.7.1h.8m10.7.2h.8m-5.7.1h.8m14.7.1h.8m-11.1.1h.8m-4.4.2h.8m.9.2h.8m-.2.5h.8m8.1.4h.8m-.5.2h.8m5.2 0h.8m-13.7.3h.8m-11.8.6h.8m21.3 0h.8m-21 .3h.8m22.1 0h.8m-25.5.8h.8m4.9.3h.8m-3.4.4h.8m14.6.3h.8m-21.4.1h.8m18.9.8h.8m-13.8.9h.8m9.2.1h.8m-9.5.2h.8m-6.3.4h.8m18.1.1h.8m-7.4.8h.8m-10.8.5h.8m15.7 0h.8m-6.9.6h.8m-9.7.4h.8m15.9.5h.8m-3.6.1h.8m-9.4.1h.8m12.8.7h.8m-10.9.4h.8m-10.4.7h.8m13.8.3h.8m2.9.3h.8m-24 .3h.8m24.8.7h.8m-23.9.8h.8m7.6.4h.8m-10.6.3h.8m7.9 1.2h.8m8.6 0h.8m-12.1.2h.8m10.2.1h.8m4.8.1h.8m-7.2.1h.8m-6.8.2h.8m.3.1h.8m1.6 1h.8m-16.8.2h.8m-.8.2h.8m8.4.2h.8m-4 .3h.8m13.9 0h.8m-19.9.2h.8m9.7.1h.8m9.1 0h.8m-19.6.1h.8m5.6 1.5h.8m-5.8.2h.8m11.1 0h.8m1.7.9h.8m-6.4 1.6h.8m4.9 0h.8m-19.8.1h.8m6.5 0h.8m4.1.1h.8m-11.1.1h.8m5.6.1h.8m10.9 0h.8m-.1.2h.8m-17.8.1h.8m9.9 0h.8m1.2 0h.8m-11.4.2h.8m-2.8.7h.8m12.9.7h.8m-10.3 1.7h.8m5.4.1h.8m-.5.2h.8m-2.1.3h.8m-1.9.8h.8m3 .1h.8m.5.1h.8m-6.7.3h.8m-10.7.4h.8m2.3.1h.8m3.2.1h.8m8.6.3h.8m-6.6 1.4h.8m2.4.8h.8m-16.4.1h.8m9.2.4h.8m2.4.3h.8m0 1h.8m-6.3.1h.8m4.9.7h.8m2 .2h.8m-10.7 1h.8m-1.8.2h.8m9.1 0h.8m-13.1.1h.8m7.1.3h.8m-5.8.3h.8m-3.3.1h.8m9.5 0h.8m-4.4 1.4h.8m-4 .1h.8m-5.3.1h.8m-.7 0h.8m3.8 0h.8m5.3.2h.8m-11 .1h.8m10 0h.8m-12 .1h.8m4 1h.8" stroke="#d6d6d6" stroke-width="0.8" fill="none"/>
<path d="M127.1 290.5h.9m3.7.6h.9m-2.1.2h.9m.1 0h.9m-2 .6h.9m2.5.6h.9m-1.9.2h.9m1.9 0h.9m-5.9.9h.9m3.9.5h.9m-7.2.1h.9m1.8.4h.9m-.1.4h.9m2.8.4h.9m-3.4.7h.9m-5.8.3h.9m7.9.9h.9m3.5.2h.9m-12.1.2h.9m2 .5h.9m-1.1.2h.9m6.7.2h.9m-7.3.2h.9m3.1.3h.9m.7.5h.9m-8.7.2h.9m1.5.1h.9m.4.2h.9m2.4.1h.9m.3.1h.9m-14.5.1h.9m10.4.2h.9m-8.8.2h.9m.5.1h.9m-12.9.5h.9m-3.9.3h.9m11 0h.9m-10 .5h.9m11.6.1h.9m7.9.1h.9m-24.9.3h.9m17.8 0h.9m-16.1.3h.9m-.6 0h.9m2.7 0h.9m8.9 0h.9m-3.7.1h.9m2.7 0h.9m-11.9.1h.9m-7.7.1h.9m20.5 0h.9m-18.5.1h.9m1.6 0h.9m10.1.3h.9m.8 0h.9m-16.9.1h.9m-2.7.1h.9m.6 0h.9m12.4 0h.9m-2.8.3h.9m5.7 0h.9m-20 .1h.9m5.3.1h.9m-8.9.1h.9m5.3.1h.9m-.7.1h.9m14.9 0h.9m.1 0h.9m-12.4.1h.9m8 0h.9m-12.4.1h.9m7.5 0h.9m-5.6.1h.9m7.2.1h.9m-7.9.1h.9m-6.1.1h.9m4.3 0h.9m.2.2h.9m-8.4.2h.9m3.4 0h.9m-9.6.1h.9m-.8 0h.9m4 .1h.9m1.4 0h.9m3.9.1h.9m2.6 0h.9m2.2 0h.9m-22.4.1h.9m11.7 0h.9m5.6 0h.9m-6.1.1h.9m-9.4.1h.9m11.1 0h.9m1.3 0h.9m-15.4.2h.9m4 .1h.9m-.6.3h.9m-7.3.2h.9m-1.2.1h.9m10.6 0h.9m-10.8.2h.9m-5.9.1h.9m8.4 0h.9m5.9 0h.9m-15.2.1h.9m4.9 0h.9m.5.2h.9m2.5.2h.9m6.9.2h.9m-19.4.1h.9m6 .2h.9m2.6 0h.9m-10.5.1h.9m2.2.1h.9m-.1 0h.9m3.4.1h.9m3.5 0h.9m0 .2h.9m-12.7.1h.9m4 0h.9m9.9 0h.9m-20.3.3h.9m1.5.1h.9m9.8.1h.9m.2 0h.9m2 .1h.9m-13.2.1h.9m-6.1.2h.9m7.8.1h.9m3.1 0h.9m-2.4.1h.9m2.4.2h.9m-11 .3h.9m.9 0h.9m-2.8.4h.9m5 0h.9m-2.2.1h.9m-7 .1h.9m15.2 0h.9m-16.5.1h.9m-2.1.1h.9m.5 0h.9m2 0h.9m-1.1.1h.9m.9 0h.9m-1.7.1h.9m-3.5.2h.9m2.3 0h.9m5.8 0h.9m-13.7.3h.9m15.8.1h.9m-2 .1h.9m-16.8.2h.9m16.2 0h.9m-18.3.2h.9m2.5 0h.9m-.1 0h.9m-.3 0h.9m-.5 0h.9m2.1 0h.9m-5.9.1h.9m6.7 0h.9m-8.7.3h.9m8.1 0h.9m-13.1.2h.9m15.8 0h.9m-16.9.3h.9m9.4.2h.9m-10 .1h.9m13.8.2h.9m-1.1.1h.9m-.2 0h.9m-16.3.1h.9m.6 0h.9m2 .1h.9m-.1.1h.9m-7 .1h.9m14.9 0h.9m-10.4.1h.9m-1.4.3h.9m-.9 0h.9m5.3 0h.9m-12.9.1h.9m2.4 0h.9m11.5.1h.9m-15.4.2h.9m11.2 0h.9m-14.5.1h.9m1.5.2h.9m-2.2.2h.9m6.7 0h.9m-4.6.3h.9m-6.2.1h.9m10.2 0h.9m-8.5.1h.9m8.8.1h.9m-11.9.1h.9m.8 0h.9m-1.7.2h.9m10.8 0h.9m-.3.2h.9m-15.2.3h.9m8.5.2h.9m-.3.1h.9m-12.3.3h.9m.4.1h.9m13.9.1h.9m-.3 0h.9m-10.6.1h.9m-6.7.1h.9m1.4.1h.9m2.7 0h.9m5.7 0h.9m-9.3.1h.9m-.1.2h.9m-1.8.3h.9m9.6.1h.9m-6.3.4h.9m3.7 0h.9m-10.1.2h.9m7.5.2h.9m1 0h.9m-8.5.1h.9m6.5.3h.9m-7.7.1h.9m-6 .1h.9m2.5 0h.9m6.3 0h.9m-3.4.4h.9m.6.1h.9m-8.9.1h.9m-4.4.2h.9m-1.1.1h.9m10.7.3h.9m-6.9.2h.9m-2.3.4h.9m3.1 1.8h.9" stroke="#440154" stroke-width="0.9" fill="none"/>
<path d="M131.1 293.3h.9m1.1.3h.9m-.4.5h.9m.5.4h.9m-3.5.6h.9m-1.1.1h.9m1.7.3h.9m-3.8.1h.9m-4.4.4h.9m7.5.3h.9m-7.5.9h.9m-.7.3h.9m11 .4h.9m-7.9.2h.9m-7.8.3h.9m-10.8.2h.9m23 .4h.9m-3.1.3h.9m-9.2.2h.9m3.2.3h.9m-3.3.2h.9m.5 0h.9m2.6.1h.9m-4.4.1h.9m2.8.1h.9m-9.3.3h.9m-2.8.7h.9m6.2.1h.9m4.6 0h.9m-6.9.4h.9m2.5.1h.9m1.7.3h.9m-13.3.1h.9m5.3.3h.9m-2.5.4h.9m2.4.3h.9m-2.8.2h.9m-1.9.6h.9m2.8.1h.9m-12.4.4h.9m-5.1.6h.9m5.4.2h.9m-11.4.1h.9m15.2 0h.9m-4.4.5h.9m-8.6 1h.9m5.2.1h.9m7.5.6h.9m-18.2.3h.9m10.3.3h.9m.9.3h.9m-3.4.3h.9m6 .2h.9m-14.2.1h.9m-1 .3h.9m13.1 0h.9m-1.6.3h.9m-9.9.4h.9m-.3 0h.9m-5.5 1.1h.9m11.5.1h.9m-2.2.3h.9m-9.3.3h.9m-6 .1h.9m-.4 0h.9m1.8.1h.9m6.8.5h.9m-7.7.1h.9m-8 .3h.9m12.9.1h.9m-12.4.6h.9m10.6 0h.9m-14.4.3h.9m8.6 0h.9m3.7.4h.9m-2.9.4h.9m-4.1.1h.9m.7.1h.9m-5 .5h.9m-7.3.3h.9m13.6 0h.9m.1 0h.9m-6.3.2h.9m-11.1.5h.9m4.3 1.3h.9m7 0h.9m-6.4.8h.9m-5.8.3h.9m11.1 1.6h.9m-10.3 1.2h.9m-3.9.2h.9m10.4 0h.9m-1.6.3h.9m-2.9.1h.9m-8.3.1h.9m8 0h.9m-2.2 1h.9m-1.6.3h.9" stroke="#462b79" stroke-width="0.9" fill="none"/>
<path d="M163.1 258.5h.9m.9.2h.9m-5.9.2h.9m-3.7.2h.9m-1.7.4h.9m-2.2.2h.9m0 .3h.9m-3.1.1h.9m4 0h.9m5.9.5h.9m-12.7.1h.9m-2.9.1h.9m1 0h.9m-4.3.3h.9m7.8 0h.9m.2.1h.9m5.8.3h.9m-14.5.3h.9m2.5.1h.9m2.9 0h.9m-7.9.1h.9m7.6.3h.9m1.1 0h.9m-15.7.5h.9m6.3.4h.9m0 .2h.9m8.2 0h.9m-15.9.6h.9m-3.6.1h.9m4.9 0h.9m3.8.1h.9m-13.2 1.4h.9m-.6.5h.9m-.9.5h.9m-27.8 7.1h.9m2.1 2.1h.9m-3.2.8h.9m-1.5.2h.9m19.1.2h.9m-18.6.3h.9m12.3.2h.9m2 .1h.9m-6.6.1h.9m6 .1h.9m-6.2.2h.9m8.4 0h.9m-21.9.2h.9m11.5.1h.9m3.2 0h.9m3 .2h.9m-16.8.1h.9m-.5 0h.9m-4.3.4h.9m12.7.2h.9m-5.9.3h.9m-7.5.2h.9m12.2.1h.9m2.9.1h.9m-8 .1h.9m-3.7.1h.9m3.7.3h.9m-7.9.3h.9m-13 .1h.9m13.3.1h.9m-8.8.2h.9m8.1.1h.9m8.4.1h.9m-16.4.1h.9m-2.5.4h.9m16.4.3h.9m-10.8.5h.9m3.1.2h.9m-15.8.3h.9m1.3.1h.9m7.4.2h.9m7.6.4h.9m-23 .2h.9m9.9 0h.9m3.6.3h.9m-12.4.1h.9m4.4.1h.9m7.4 0h.9m-11.8.3h.9m-3.3.1h.9m-1 .2h.9m7.7.4h.9m-6.3.4h.9m4.4.4h.9m2.3.1h.9m-7.2.1h.9m1.8.3h.9m-11.8.3h.9m3 .1h.9m-.8 0h.9m13.7 0h.9m-10.5.1h.9m6.4.2h.9m-15 .1h.9m14.2 0h.9m1.2.4h.9m-22.8.4h.9m20.6 0h.9m-12.9.2h.9m14.6.2h.9m-2.4.2h.9m-.3.1h.9m-2.2.2h.9m-9.9.2h.9m.6 0h.9m9.9.1h.9m-2.4.2h.9m-11 .1h.9m9.2.1h.9m-22.1.2h.9m7.9 0h.9m1.7.3h.9m-12.4.3h.9m-.4.4h.9m1.3.4h.9m15.6.3h.9m-3.3.1h.9m-1.7.2h.9m-19.1.1h.9m5.7 0h.9m12.5.2h.9m-11.9.8h.9m-5.4.4h.9m4.8.4h.9m4.1.1h.9m8.9.2h.9m-5.5.3h.9m1.9 1.2h.9m-20.1.1h.9m2.3.7h.9m14.7 0h.9m-21.8.4h.9m21.8.3h.9m-23.9.2h.9m-4.6.8h.9m21.7.1h.9m-18.6.9h.9m5 .1h.9m11.8.3h.9m-20.4.3h.9m-1.7.1h.9m7.6 0h.9m-7.1.5h.9m-3 .5h.9m3.9.4h.9m1.7 2.2h.9" stroke="#3a508a" stroke-width="0.9" fill="none"/>
<path d="M161.7 258.7h.9m3.9.1h.9m-10.5.6h.9m5.2.1h.9m2.4.1h.9m-8 .2h.9m.7.3h.9m3.1.1h.9m-15.4.7h.9m11.9 0h.9m-12.3.7h.9m5 .5h.9m-2.4.1h.9m-6.3.1h.9m-1 .1h.9m4 .4h.9m-5.1.1h.9m12.8.4h.9m-19.2.5h.9m9.1.4h.9m-3.7.5h.9m-4.7.4h.9m-2.8.2h.9m1 .6h.9m-4.1.1h.9m.6.4h.9m-26.8 7.9h.9m20 0h.9m-24.6.8h.9m23.5.2h.9m-.2.2h.9m-1 1h.9m-5.9.2h.9m-10 .1h.9m2 0h.9m11.2 0h.9m-27.3.4h.9m12.3.1h.9m10.7 0h.9m.2 0h.9m-12.5.1h.9m6.1 0h.9m-8.2.2h.9m-1.7.1h.9m12.5 0h.9m-10.9.1h.9m-11.9.1h.9m13.9 0h.9m3.6 0h.9m-20.9.1h.9m-.3 0h.9m-6.5.2h.9m13.7 0h.9m3 0h.9m4.3.2h.9m-14.4.1h.9m4.2 0h.9m-4.3.1h.9m-.2 0h.9m10.5 0h.9m-.5 0h.9m1.7.1h.9m-5 .2h.9m1.2 0h.9m-3.6.1h.9m-23.8.1h.9m-.5.2h.9m3.2 0h.9m9.6 0h.9m2.2 0h.9m3.5 0h.9m.1 0h.9m1.9.1h.9m-2.7.1h.9m-8.1.1h.9m8.9 0h.9m-28.2.1h.9m.2 0h.9m1.5 0h.9m10.5 0h.9m-8.5.1h.9m6.1 0h.9m3.1 0h.9m-8.3.2h.9m9.5 0h.9m2.3 0h.9m-21.6.1h.9m9 0h.9m-.5.1h.9m10.1 0h.9m-9.2.1h.9m7 .1h.9m-21 .3h.9m4.7 0h.9m11.7 0h.9m-17.5.2h.9m7.9 0h.9m7.9 0h.9m-11 .1h.9m.8 0h.9m3.7 0h.9m3.5 0h.9m-20.3.1h.9m21.4 0h.9m-21.7.2h.9m7.2.1h.9m-11.8.1h.9m4.8.2h.9m3.3 0h.9m11 0h.9m-14 .1h.9m8 .3h.9m-21.8.2h.9m5.2 0h.9m13.2 0h.9m-15.5.3h.9m-.4 0h.9m8.1.1h.9m-.8.1h.9m3.4.1h.9m-10.8.1h.9m-7.1.1h.9m9.7 0h.9m8.3 0h.9m.7 0h.9m-7.3.1h.9m6.5 0h.9m-11.9.1h.9m10.1 0h.9m-1.3.1h.9m-17.1.1h.9m-4.7.1h.9m2.9.1h.9m8.9 0h.9m-5.4.3h.9m1.9 0h.9m-1 .1h.9m6 0h.9m.2 0h.9m-23.4.1h.9m15.5 0h.9m1.4 0h.9m-9.2.1h.9m1.8 0h.9m-12.5.1h.9m2.1 0h.9m-1.5.1h.9m4.6.1h.9m-.7 0h.9m-7.2.1h.9m12.4.1h.9m6.2 0h.9m-.4.1h.9m-20.4.1h.9m-.4 0h.9m11.1 0h.9m-5.1.1h.9m-7.1.1h.9m1.3.1h.9m-13.3.1h.9m6.5.1h.9m-1 .1h.9m9.1 0h.9m-8.3.1h.9m9 0h.9m2.1 0h.9m-15.7.1h.9m2.8 0h.9m9.6 0h.9m3.1 0h.9m-23.2.1h.9m8.4 0h.9m2.6 0h.9m5 0h.9m1.7 0h.9m-24.5.1h.9m7.7.2h.9m0 0h.9m8.3 0h.9m3.8 0h.9m-23.4.1h.9m15.1 0h.9m-15.8.1h.9m16.6 0h.9m3.1.1h.9m-.5 0h.9m-26.1.1h.9m6.3.2h.9m7.5.1h.9m.2 0h.9m7.8 0h.9m-11.5.2h.9m10.3 0h.9m-9.7.2h.9m4.4 0h.9m-16.6.1h.9m1.8 0h.9m3 0h.9m9.1 0h.9m1.5 0h.9m-8.6.1h.9m-14.6.4h.9m7.9 0h.9m12.1 0h.9m-21.2.1h.9m12.2 0h.9m-20.4.2h.9m27.3.1h.9m-6.9.1h.9m.4 0h.9m-4.2.1h.9m-1.2.1h.9m-19.7.1h.9m6.6.2h.9m-7.7.3h.9m6.1 0h.9m9.1.2h.9m5.5 0h.9m-14 .1h.9m8.7 0h.9m-1.6.1h.9m-.9 0h.9m-6.1.1h.9m5.8 0h.9m.4 0h.9m-3.6.2h.9m-17.2.1h.9m10.8 0h.9m-.1 0h.9m-10.3.1h.9m-.9 0h.9m6.7 0h.9m1.2 0h.9m4.3 0h.9m-23.3.1h.9m20.5 0h.9m-5.6.2h.9m.1 0h.9m-3.6.1h.9m8.7.1h.9m-23.1.1h.9m14.4 0h.9m3 0h.9m-19.3.1h.9m6.3 0h.9m-3.2.1h.9m13.2 0h.9m-15.1.1h.9m10.4 0h.9m3.5 0h.9m-22.7.1h.9m2.4.1h.9m7.7 0h.9m3.5 0h.9m-5.2.1h.9m1.9.2h.9m-.7 0h.9m-15 .1h.9m6.6.1h.9m2 0h.9m8.2 0h.9m-.6.1h.9m.9 0h.9m-11 .1h.9m5.1 0h.9m1.3.1h.9m1.5 0h.9m-12.5.1h.9m.2 0h.9m.4.1h.9m-13.1.1h.9m.8 0h.9m14.9 0h.9m-16.2.1h.9m-5.7.2h.9m12.5 0h.9m5.1 0h.9m-9.9.1h.9m2.4 0h.9m-13.9.1h.9m22.1 0h.9m-.7 0h.9m-20.8.1h.9m3 0h.9m15.8 0h.9m-17.8.1h.9m2.7 0h.9m3.7 0h.9m5.5 0h.9m-3.5.2h.9m-20.4.1h.9m8.2 0h.9m14.8 0h.9m-19.6.1h.9m12.3 0h.9m3.5 0h.9m-9.4.2h.9m-17.1.1h.9m10.5 0h.9m7 .1h.9m3.2.1h.9m-16.1.1h.9m16.7 0h.9m-8.4.2h.9m-6.9.1h.9m10.6 0h.9m-6.1.1h.9m6.2 0h.9m-2.8.1h.9m-9.2.1h.9m9 0h.9m0 0h.9m-23.4.1h.9m19.6 0h.9m-25.1.1h.9m11.2 0h.9m-3.4.3h.9m-10.5.3h.9m-.7.1h.9m25.2 0h.9m-6 .2h.9m2.7 0h.9m-25.2.1h.9m8.1.1h.9m8.1 0h.9m4 .2h.9m-0 0h.9m.7 0h.9m-22.3.1h.9m3.1 0h.9m6.4 0h.9m-12.4.2h.9m3.7.1h.9m1.2.3h.9m13 0h.9m-13.1.1h.9m-10.1.1h.9m2.9 0h.9m8.3 0h.9m2.3 0h.9m-12.5.2h.9m3.2 0h.9m-6.3.1h.9m-8.9.1h.9m10.1.1h.9m9.5.1h.9m-10.2.1h.9m-11.1.1h.9m4.8.1h.9m5.5.2h.9m-7.4.2h.9m17.8.2h.9m-8.6.1h.9m4.8.1h.9m-5.1.1h.9m-16 .3h.9m3.9.6h.9m5.3.1h.9m-12.6.2h.9m-.7.5h.9m8 0h.9m4.6.1h.9m1.9 0h.9m-16.9.1h.9m-.2 0h.9m-5 .1h.9m1 0h.9m.4.3h.9m-.5.1h.9m-2.2.4h.9m8.6.1h.9m9.1.1h.9m-16.5.1h.9m3.1 0h.9m7 0h.9m-.7 0h.9m-11.7.1h.9m-1.3.1h.9m10.3 0h.9m2.1 0h.9m-15.4.1h.9m-8.3.2h.9m1.9 0h.9m6.9 0h.9m-1.4.3h.9m.9.2h.9m1.1.3h.9m4.2.1h.9m-4.2.2h.9m.2.2h.9m-5.4.6h.9m-2.6.2h.9m5.3.1h.9m-5.1.1h.9m7.7 0h.9m-5.9.1h.9m1.1 0h.9m1.4.6h.9m-1.7.9h.9m-1.9.4h.9m-5.5.3h.9m1.8.6h.9m-3.7.2h.9m3.6.4h.9m-1.2.4h.9m-.6.2h.9m-7.3.1h.9m-1 .1h.9m3.2.6h.9m.2 0h.9m-4.9 1h.9m-2.1 1.6h.9m-3.8.8h.9m3.8.4h.9m2.4.2h.9m-11.4.1h.9m4.6.5h.9m-6.4.9h.9m7 0h.9m1 .1h.9m-6.1.1h.9m.3.7h.9m-3.5.3h.9m-2.2.1h.9m-1.2.1h.9m2.9.1h.9m3.5.5h.9m-1.4.3h.9m-10.9.6h.9m2.9.4h.9m3.8 0h.9m-6.5.2h.9m3.8.3h.9m-1.8.3h.9m2.3 0h.9m-14 .3h.9m9.6.3h.9m1.5.1h.9m-9.9.4h.9m1.4 0h.9m4.6 0h.9m-10.2.8h.9m.8.1h.9m3.6 0h.9m-6 .6h.9m3.2.1h.9m.1.2h.9m-3.9.1h.9m2.5.2h.9m-9.7.2h.9m1.4 0h.9m-3.7.5h.9m8.8.1h.9m-1.7.2h.9" stroke="#2c728e" stroke-width="0.9" fill="none"/>
<path d="M171.4 262.5h.9m-3.3.3h.9m.7 0h.9m-1.9.1h.9m-40 .5h.9m41.7.3h.9m-47.3.1h.9m48.1.5h.9m-45 .4h.9m42.2 0h.9m1.3.6h.9m-48.7.1h.9m50 0h.9m-46.2.3h.9m43.2 0h.9m-46.3.3h.9m-2.1.3h.9m-5.6 1.1h.9m54.2.4h.9m-57.8.1h.9m1.6.1h.9m.5.7h.9m-5 .1h.9m6.1.1h.9m51.3.6h.9m-63.5.2h.9m12.5.2h.9m49.2 0h.9m-45.3.3h.9m43.2.4h.9m-49.4.1h.9m-13.7.3h.9m7.3 0h.9m9.9 0h.9m-12.5.1h.9m-.3 0h.9m6.4.1h.9m47.9.2h.9m-.2.6h.9m.1.9h.9m-50 .2h.9m-21.3.1h.9m6.1.1h.9m-2.1.2h.9m5.4 0h.9m.5.2h.9m54.4.4h.9m-54.5.3h.9m-14.8.1h.9m2.6 0h.9m5.7.1h.9m1.5.1h.9m7.6.1h.9m-23.8.1h.9m4.5.1h.9m10.2.2h.9m-17 .2h.9m6.8 0h.9m11.1 0h.9m-12.2.3h.9m-4.5.1h.9m.9 0h.9m-6.8.3h.9m-1.1.5h.9m69.9.2h.9m-68.1.5h.9m9.5.2h.9m-13.5 1.1h.9m-2.5.3h.9m4.9 0h.9m.4.3h.9m-.2.3h.9m-7.8.3h.9m0 0h.9m1 .1h.9m1.4 0h.9m-7.7.1h.9m.9.8h.9m2 .2h.9m-.9 0h.9m-5.3.5h.9m-2 1h.9m-1.2.5h.9m7.2 0h.9m-4.1.3h.9m3.9 0h.9m-8.1.2h.9m-1.5.1h.9m2.5.2h.9m4.7.1h.9m-12.6.8h.9m6.1 0h.9m-7.3.6h.9m-.5.5h.9m6.4 0h.9m-8.6.1h.9m-.6.3h.9m8.5.9h.9m.5 0h.9m-9.8.5h.9m3.3.1h.9m-1 .3h.9m-6.9.5h.9m9.1 0h.9m-2.9.1h.9m-7.5.8h.9m3.4.1h.9m.9.1h.9m2.1.4h.9m-8.8.7h.9m1.6 0h.9m-.8 0h.9m-3.3.1h.9m5.3.1h.9m-5.3.7h.9m4.8.2h.9m-5.4.7h.9m4.6 1.4h.9m-5.6.4h.9m-5.7.5h.9m.5 0h.9m3.1.7h.9m-3.4.1h.9m-5.5.1h.9m1.4.5h.9m2.5 0h.9m-7.4.4h.9m5.1 0h.9m-2.5.6h.9m-1.7.4h.9m-3.2.2h.9m-1 .2h.9m2.3.5h.9m.9 0h.9m1.1 1.1h.9m-.6.2h.9m.7 0h.9m-9 .2h.9m.2.4h.9m1.7 1.1h.9m-.3 1.6h.9" stroke="#20908c" stroke-width="0.9" fill="none"/>
<path d="M160.3 258.7h.9m1.1.1h.9m-.6.3h.9m-2.2.3h.9m-5.6.8h.9m-.7.5h.9m-4.4.1h.9m5.4 0h.9m7 .3h.9m-3.2.4h.9m-9.7.1h.9m6.5 0h.9m-12.4.2h.9m6.4.2h.9m7 .4h.9m-18.7 1h.9m17.9.2h.9m-.4.1h.9m-22.6.7h.9m-22.1.2h.9m3 0h.9m17.1 0h.9m3.6.3h.9m-28.2.4h.9m23.9 0h.9m-16.1.3h.9m-3.6.5h.9m-7.4.1h.9m8 0h.9m-3.4.1h.9m-4.4.6h.9m6 1.7h.9m1.9.4h.9m1.3 0h.9m-10.8.1h.9m8.4.4h.9m-12.6.7h.9m-8.1.1h.9m3.3.1h.9m13.2.4h.9m.1.8h.9m-11.8.1h.9m12.6 0h.9m-22.5.1h.9m.6 0h.9m1.8.5h.9m16.5.3h.9m-19.5.1h.9m5.3 0h.9m11.4 0h.9m-10.5.1h.9m-5.8.3h.9m7.9.1h.9m6.9 0h.9m-20.6.3h.9m13.6 0h.9m-9.4.2h.9m-2.9.1h.9m5.4.1h.9m-6.7.5h.9m7 0h.9m-.6.2h.9m3.5.3h.9m-5.3.2h.9m-15.9.4h.9m15.6 0h.9m-9.1.3h.9m6.9 1.5h.9m-4.7.6h.9m-5.9.9h.9" stroke="#2aad7f" stroke-width="0.9" fill="none"/>
<path d="M132.8 258.3h.9m2.1.1h.9m5.8.2h.9m23.3.3h.9m-28 .2h.9m2.6 0h.9m13.8 0h.9m2.7.4h.9m-8.6.1h.9m14.3.2h.9m-11 .2h.9m4.1.2h.9m-30.4.1h.9m30.2.3h.9m-33.4.1h.9m11.1 0h.9m-4.8.1h.9m1.1.1h.9m16.4 0h.9m8.1.7h.9m-26.4.8h.9m17.6 0h.9m10.7.2h.9m-36.8.1h.9m15.1.4h.9m-25.6.1h.9m30 0h.9m-32.4.1h.9m8 0h.9m3.9 0h.9m28.8 0h.9m-32.8.1h.9m3.3 0h.9m13.4 0h.9m-1.9.1h.9m3.1.1h.9m-34 .1h.9m27.5 0h.9m2.3 0h.9m-19.8.1h.9m22.8 0h.9m-29.6.3h.9m4.7 0h.9m7.4.4h.9m-20 .1h.9m3.2 0h.9m-2.2.1h.9m6.1 0h.9m1.7 0h.9m2.5.1h.9m-16.9.1h.9m19.2 0h.9m-24.8.1h.9m10 0h.9m40.8.2h.9m-47.1.1h.9m-7.8.1h.9m52.8.2h.9m-56.4 1h.9m54.5.1h.9m2.6 0h.9m-53.3.6h.9m-2 .4h.9m9.5 0h.9m-8.4.3h.9m3.1 0h.9m-6 .1h.9m49.7.1h.9m-48.8.3h.9m-5.9.1h.9m-.5 0h.9m53.5 0h.9m-48.5.1h.9m47.5.1h.9m-50.2.1h.9m1.8 0h.9m-15.7.1h.9m.3 0h.9m16.4 0h.9m-3.4.1h.9m-18.2.3h.9m.3.2h.9m5.8 0h.9m-.6.1h.9m-2 .1h.9m2.5 0h.9m7.7.1h.9m-4.6.1h.9m5.2 0h.9m-22.2.2h.9m16.8 0h.9m-12.2.2h.9m-9.6.1h.9m3.9 0h.9m7 .1h.9m-9.5.2h.9m14.7 0h.9m-19.5.1h.9m3.5.1h.9m6.4 0h.9m-0 0h.9m1.6 0h.9m1.3 0h.9m-.9 0h.9m-8.7.1h.9m1 0h.9m2.8 0h.9m50.3 0h.9m-60.2.1h.9m-4.6.1h.9m-2 .1h.9m-1.6.1h.9m7.3 0h.9m5.9 0h.9m-17.4.5h.9m63.9 0h.9m.7 0h.9m-64.9.2h.9m8.9 0h.9m4.5 0h.9m-16.1.2h.9m10.1.1h.9m6.6 0h.9m-3.5.2h.9m1.3 0h.9m-14.8.2h.9m6.3.1h.9m-.6 0h.9m-6.1.1h.9m58.1.1h.9m-58.4.3h.9m55.1 0h.9m-53.5.1h.9m-4.7.1h.9m55.4.1h.9m-54.4.1h.9m53.5 0h.9m-50.9.2h.9m3 0h.9m-15.3.1h.9m.3 0h.9m-8.6.1h.9m1.8 0h.9m3 0h.9m8.2 0h.9m53.1 0h.9m-54.8.2h.9m3.8 0h.9m45.2.1h.9m-53.5.1h.9m-3.4.1h.9m4.9.2h.9m-7.5.3h.9m-10.1.1h.9m7.1 0h.9m-7.1.4h.9m4.7 0h.9m7.3.1h.9m-16.4.6h.9m67.5.1h.9m-61.2.4h.9m2.5.2h.9m-10.2.2h.9m2.8.6h.9m1.8.9h.9" stroke="#5ec860" stroke-width="0.9" fill="none"/>
<path d="M139.7 256.7h.9m.2.4h.9m-3 .1h.9m.3.1h.9m-3.6.3h.9m-6.1.2h.9m6 .4h.9m2.4.1h.9m-8.8.4h.9m-.2.2h.9m24.5 0h.9m-18.3.1h.9m11.4.3h.9m-23 .2h.9m4.3.2h.9m-.6 0h.9m-8.4.1h.9m3.3 0h.9m16.5 0h.9m-16.9.1h.9m19.4.1h.9m0 .1h.9m-24.9.1h.9m1.4 0h.9m5.6 0h.9m-7.7.3h.9m31.7.1h.9m-14.4.2h.9m-.7.3h.9m-18.7.2h.9m22.3 0h.9m-5.8.1h.9m-11.9.2h.9m17 .2h.9m-30.8.1h.9m31.6 0h.9m-.5.1h.9m-16.9.2h.9m20.6.1h.9m3.2.1h.9m-7.7.1h.9m-34.4.2h.9m26.4.1h.9m-29.6.2h.9m32.8.1h.9m3.5 0h.9m-6.2.1h.9m-11 .2h.9m8.3.1h.9m-37.3.1h.9m10.4.2h.9m2.8 0h.9m-5.7.1h.9m18.9 0h.9m-19.6.2h.9m17.9 0h.9m16.1 0h.9m-37 .1h.9m11.6.2h.9m-5.4.1h.9m-6.7.2h.9m-6.8.1h.9m40.8 0h.9m-40.6.1h.9m10.2 0h.9m-8.9.3h.9m6.4 0h.9m-7.4.1h.9m4.1.1h.9m-16.3.2h.9m4.2.1h.9m1.6.2h.9m1.9 0h.9m7.8 0h.9m-7.2.1h.9m-5 .1h.9m7.2.1h.9m.7.1h.9m-16.5.8h.9m48.1.2h.9m-3.2.3h.9m-43.6.2h.9m44.9 0h.9m-43.5.9h.9m44.2.7h.9m-2.3.2h.9m1 .5h.9m-.8.5h.9m-.2.4h.9m-1.2.9h.9m-2.1 1h.9m7.2 5.5h.9m-1.3.2h.9m-1.2.1h.9m-.2.6h.9m3.2.5h.9m-1.7.1h.9m.6.2h.9m-2.9.4h.9m-3.6.1h.9m-.8.1h.9m3.5.2h.9m-3.7.1h.9m2.3 0h.9m-3 .1h.9m.8.1h.9m-5.1.2h.9m1 .3h.9m.3.1h.9m-3.4.7h.9" stroke="#acdb31" stroke-width="0.9" fill="none"/>
<path d="M138.6 256.9h.9m-4 .4h.9m4.4 0h.9m-0 .4h.9m-10.5.1h.9m8.4 0h.9m21 .5h.9m-31.7.1h.9m6.6.2h.9m27.5.1h.9m-29.1.1h.9m24.6.2h.9m1.6 0h.9m-33.3.1h.9m6.8.2h.9m20.8 0h.9m-9.2.2h.9m10.5 0h.9m-28.5 1h.9m23.9 0h.9m-22.4.1h.9m5 .1h.9m-9.3.1h.9m9.6 0h.9m-19.1.1h.9m37.6.2h.9m-34.2.1h.9m-7.1.1h.9m3.5 0h.9m0 0h.9m2.9.2h.9m-11.2.2h.9m3.8.3h.9m-.1 0h.9m4.3 0h.9m1.8.3h.9m11.3.1h.9m10.7 0h.9m4.1 0h.9m-21.9.1h.9m12.4.1h.9m-23.2.1h.9m29.6 0h.9m-0 .1h.9m-40.8.1h.9m26.4 0h.9m-26.3.2h.9m17.3 0h.9m-15.4.1h.9m13.6.1h.9m9.3.1h.9m-30.4.2h.9m-1 .1h.9m36.2 0h.9m-40.9.2h.9m-4.8.1h.9m20.7.1h.9m-13.7.1h.9m14.5 0h.9m-10 .1h.9m-9.1.1h.9m7.4 0h.9m-4.2.1h.9m35.2.1h.9m-46.3.1h.9m10.8 0h.9m9.6 0h.9m-26.1.1h.9m14.6 0h.9m7.6 0h.9m24.1.2h.9m-.4.1h.9m-51.5.1h.9m-.5.1h.9m14.6 0h.9m33.7 0h.9m-41.4.1h.9m10 0h.9m28.5 0h.9m-40.4.2h.9m3.2.1h.9m-19.9.3h.9m17.4 0h.9m-.2.4h.9m-1.4.5h.9m40.2.2h.9m-47.5.1h.9m-10.6.1h.9m12.4.2h.9m39.1 0h.9m-39.1.6h.9m-2.2.1h.9m41.1 0h.9m-55.7.2h.9m2.9.1h.9m8.9 0h.9m-16.4.1h.9m57.7 0h.9m-62.2.1h.9m.5.1h.9m-.9 0h.9m17.7 0h.9m-14.5.2h.9m11 0h.9m-6.8.1h.9m46.3 0h.9m-53.2.2h.9m11.2.1h.9m41.4.2h.9m-40.9.1h.9m-5.7.3h.9m46.5 0h.9m-44.7.3h.9m-17.8.1h.9m4.7 0h.9m54.6 0h.9m-61.3.3h.9m5.2 0h.9m-8.1.2h.9m60.1.7h.9m-58 .3h.9m-8 .4h.9m3.6.7h.9m.4.3h.9m1.8 0h.9m-.3.6h.9m54.6.1h.9m-66 .2h.9m9.3 0h.9m-1.9.1h.9m55.9 0h.9m-69.5.1h.9m.4 0h.9m2.3 1h.9m-.3.1h.9m8.2.3h.9m56.3 0h.9m-58.9.1h.9m9.3.1h.9m-.6.4h.9m-15.4.1h.9m60.2.1h.9m-57.3.1h.9m55.5 0h.9m-65.4.2h.9m2.9.7h.9m3.8 0h.9m4 .3h.9m54.9.4h.9m-.9.1h.9m.2.1h.9m-3.1.1h.9m-.2.2h.9m1.6 0h.9m-2.1.1h.9m1.1.1h.9m-.3.4h.9m-5 .1h.9m3.5 0h.9m-2.2.1h.9m-2 .1h.9m1 0h.9m-5.3.1h.9m-.8 0h.9m1.1.1h.9m-.3.1h.9m.9 0h.9m-2.9.4h.9m1.6 0h.9m-.4 0h.9m-5.4.1h.9m1.6.1h.9m-.6.2h.9m-1.2.1h.9m-3.3.3h.9m1.5.2h.9m-.6 0h.9m-1.5.1h.9m0 .1h.9m-1.9.2h.9m-3 .1h.9m.1.2h.9m-.3.1h.9m-1.3.3h.9" stroke="#fde725" stroke-width="0.9" fill="none"/>
<defs><linearGradient id="vir2"><stop offset="0.0" stop-color="#440154"/><stop offset="0.1" stop-color="#482374"/><stop offset="0.2" stop-color="#404387"/><stop offset="0.3" stop-color="#345e8d"/><stop offset="0.4" stop-color="#29788e"/><stop offset="0.5" stop-color="#20908c"/><stop offset="0.6" stop-color="#22a784"/><stop offset="0.7" stop-color="#44be70"/><stop offset="0.8" stop-color="#79d151"/><stop offset="0.9" stop-color="#bdde26"/><stop offset="1.0" stop-color="#fde725"/></linearGradient></defs>
<rect x="160.1" y="313.7" width="38.900000000000006" height="3.900000000000034" fill="url(#vir2)"/>
<line x1="160.10" y1="312.50" x2="160.10" y2="313.70" stroke="#555" stroke-width="0.5"/>
<text x="160.10" y="309.73" font-size="6.2" text-anchor="middle" fill="#333">4</text>
<line x1="173.07" y1="312.50" x2="173.07" y2="313.70" stroke="#555" stroke-width="0.5"/>
<text x="173.07" y="309.73" font-size="6.2" text-anchor="middle" fill="#333">5</text>
<line x1="186.03" y1="312.50" x2="186.03" y2="313.70" stroke="#555" stroke-width="0.5"/>
<text x="186.03" y="309.73" font-size="6.2" text-anchor="middle" fill="#333">6</text>
<line x1="199.00" y1="312.50" x2="199.00" y2="313.70" stroke="#555" stroke-width="0.5"/>
<text x="199.00" y="309.73" font-size="6.2" text-anchor="middle" fill="#333">7</text>
<text x="180.05" y="326.42" font-size="7" text-anchor="middle" fill="#333">Time (d)</text>
<text x="240.30" y="152.00" font-size="10" text-anchor="start" fill="#000" font-weight="bold">d</text>
<rect x="272.50" y="145.40" width="7.50" height="5.40" fill="#f8c6cb"/>
<text x="283.00" y="150.62" font-size="7" text-anchor="start" fill="#222">Progenitor</text>
<rect x="332.50" y="145.40" width="7.50" height="5.40" fill="#bcd8ee"/>
<text x="343.00" y="150.62" font-size="7" text-anchor="start" fill="#222">MN</text>
<text x="356.60" y="164.12" font-size="7" text-anchor="middle" fill="#222">Human clusters</text>
<line x1="303.70" y1="165.60" x2="409.90" y2="165.60" stroke="#555" stroke-width="0.6"/>
<text x="465.70" y="164.12" font-size="7" text-anchor="middle" fill="#222">Mouse clusters</text>
<line x1="412.30" y1="165.60" x2="519.20" y2="165.60" stroke="#555" stroke-width="0.6"/>
<rect x="303.70" y="167.20" width="10.67" height="8.60" fill="#f8c6cb"/>
<rect x="314.32" y="167.20" width="10.67" height="8.60" fill="#f8c6cb"/>
<rect x="324.94" y="167.20" width="10.67" height="8.60" fill="#f8c6cb"/>
<rect x="335.56" y="167.20" width="10.67" height="8.60" fill="#f8c6cb"/>
<rect x="346.18" y="167.20" width="10.67" height="8.60" fill="#f8c6cb"/>
<rect x="356.80" y="167.20" width="10.67" height="8.60" fill="#f8c6cb"/>
<rect x="367.42" y="167.20" width="10.67" height="8.60" fill="#f8c6cb"/>
<rect x="378.04" y="167.20" width="10.67" height="8.60" fill="#bcd8ee"/>
<rect x="388.66" y="167.20" width="10.67" height="8.60" fill="#bcd8ee"/>
<rect x="399.28" y="167.20" width="10.67" height="8.60" fill="#bcd8ee"/>
<text x="309.01" y="174.02" font-size="7" text-anchor="middle" fill="#222">H0</text>
<text x="319.63" y="174.02" font-size="7" text-anchor="middle" fill="#222">H1</text>
<text x="330.25" y="174.02" font-size="7" text-anchor="middle" fill="#222">H2</text>
<text x="340.87" y="174.02" font-size="7" text-anchor="middle" fill="#222">H3</text>
<text x="351.49" y="174.02" font-size="7" text-anchor="middle" fill="#222">H4</text>
<text x="362.11" y="174.02" font-size="7" text-anchor="middle" fill="#222">H5</text>
<text x="372.73" y="174.02" font-size="7" text-anchor="middle" fill="#222">H6</text>
<text x="383.35" y="174.02" font-size="7" text-anchor="middle" fill="#222">H7</text>
<text x="393.97" y="174.02" font-size="7" text-anchor="middle" fill="#222">H8</text>
<text x="404.59" y="174.02" font-size="7" text-anchor="middle" fill="#222">H9</text>
<rect x="412.30" y="167.20" width="10.74" height="8.60" fill="#f8c6cb"/>
<rect x="422.99" y="167.20" width="10.74" height="8.60" fill="#f8c6cb"/>
<rect x="433.68" y="167.20" width="10.74" height="8.60" fill="#f8c6cb"/>
<rect x="444.37" y="167.20" width="10.74" height="8.60" fill="#f8c6cb"/>
<rect x="455.06" y="167.20" width="10.74" height="8.60" fill="#f8c6cb"/>
<rect x="465.75" y="167.20" width="10.74" height="8.60" fill="#f8c6cb"/>
<rect x="476.44" y="167.20" width="10.74" height="8.60" fill="#f8c6cb"/>
<rect x="487.13" y="167.20" width="10.74" height="8.60" fill="#bcd8ee"/>
<rect x="497.82" y="167.20" width="10.74" height="8.60" fill="#bcd8ee"/>
<rect x="508.51" y="167.20" width="10.74" height="8.60" fill="#bcd8ee"/>
<text x="417.65" y="174.02" font-size="7" text-anchor="middle" fill="#222">M0</text>
<text x="428.34" y="174.02" font-size="7" text-anchor="middle" fill="#222">M1</text>
<text x="439.03" y="174.02" font-size="7" text-anchor="middle" fill="#222">M2</text>
<text x="449.72" y="174.02" font-size="7" text-anchor="middle" fill="#222">M3</text>
<text x="460.41" y="174.02" font-size="7" text-anchor="middle" fill="#222">M4</text>
<text x="471.10" y="174.02" font-size="7" text-anchor="middle" fill="#222">M5</text>
<text x="481.79" y="174.02" font-size="7" text-anchor="middle" fill="#222">M6</text>
<text x="492.48" y="174.02" font-size="7" text-anchor="middle" fill="#222">M7</text>
<text x="503.17" y="174.02" font-size="7" text-anchor="middle" fill="#222">M8</text>
<text x="513.86" y="174.02" font-size="7" text-anchor="middle" fill="#222">M9</text>
<rect x="303.70" y="176.80" width="10.67" height="10.65" fill="#24848d"/>
<rect x="314.32" y="176.80" width="10.67" height="10.65" fill="#22a784"/>
<rect x="324.94" y="176.80" width="10.67" height="10.65" fill="#29ac80"/>
<rect x="335.56" y="176.80" width="10.67" height="10.65" fill="#24848d"/>
<rect x="346.18" y="176.80" width="10.67" height="10.65" fill="#345e8d"/>
<rect x="356.80" y="176.80" width="10.67" height="10.65" fill="#404387"/>
<rect x="367.42" y="176.80" width="10.67" height="10.65" fill="#44337e"/>
<rect x="378.04" y="176.80" width="10.67" height="10.65" fill="#440154"/>
<rect x="388.66" y="176.80" width="10.67" height="10.65" fill="#440154"/>
<rect x="399.28" y="176.80" width="10.67" height="10.65" fill="#440154"/>
<rect x="303.70" y="187.40" width="10.67" height="10.65" fill="#24848d"/>
<rect x="314.32" y="187.40" width="10.67" height="10.65" fill="#219c88"/>
<rect x="324.94" y="187.40" width="10.67" height="10.65" fill="#2b738e"/>
<rect x="335.56" y="187.40" width="10.67" height="10.65" fill="#5ec860"/>
<rect x="346.18" y="187.40" width="10.67" height="10.65" fill="#33b27a"/>
<rect x="356.80" y="187.40" width="10.67" height="10.65" fill="#20908c"/>
<rect x="367.42" y="187.40" width="10.67" height="10.65" fill="#22a784"/>
<rect x="378.04" y="187.40" width="10.67" height="10.65" fill="#440154"/>
<rect x="388.66" y="187.40" width="10.67" height="10.65" fill="#440154"/>
<rect x="399.28" y="187.40" width="10.67" height="10.65" fill="#440154"/>
<rect x="303.70" y="198.00" width="10.67" height="10.65" fill="#3e4888"/>
<rect x="314.32" y="198.00" width="10.67" height="10.65" fill="#4fc26a"/>
<rect x="324.94" y="198.00" width="10.67" height="10.65" fill="#29ac80"/>
<rect x="335.56" y="198.00" width="10.67" height="10.65" fill="#fde725"/>
<rect x="346.18" y="198.00" width="10.67" height="10.65" fill="#afdb2f"/>
<rect x="356.80" y="198.00" width="10.67" height="10.65" fill="#9bd83c"/>
<rect x="367.42" y="198.00" width="10.67" height="10.65" fill="#20908c"/>
<rect x="378.04" y="198.00" width="10.67" height="10.65" fill="#dde226"/>
<rect x="388.66" y="198.00" width="10.67" height="10.65" fill="#461264"/>
<rect x="399.28" y="198.00" width="10.67" height="10.65" fill="#440154"/>
<rect x="303.70" y="208.60" width="10.67" height="10.65" fill="#44337e"/>
<rect x="314.32" y="208.60" width="10.67" height="10.65" fill="#33b27a"/>
<rect x="324.94" y="208.60" width="10.67" height="10.65" fill="#277d8e"/>
<rect x="335.56" y="208.60" width="10.67" height="10.65" fill="#20958a"/>
<rect x="346.18" y="208.60" width="10.67" height="10.65" fill="#36598c"/>
<rect x="356.80" y="208.60" width="10.67" height="10.65" fill="#2b738e"/>
<rect x="367.42" y="208.60" width="10.67" height="10.65" fill="#345e8d"/>
<rect x="378.04" y="208.60" width="10.67" height="10.65" fill="#fde725"/>
<rect x="388.66" y="208.60" width="10.67" height="10.65" fill="#3e4888"/>
<rect x="399.28" y="208.60" width="10.67" height="10.65" fill="#440154"/>
<rect x="303.70" y="219.20" width="10.67" height="10.65" fill="#440154"/>
<rect x="314.32" y="219.20" width="10.67" height="10.65" fill="#440154"/>
<rect x="324.94" y="219.20" width="10.67" height="10.65" fill="#440154"/>
<rect x="335.56" y="219.20" width="10.67" height="10.65" fill="#345e8d"/>
<rect x="346.18" y="219.20" width="10.67" height="10.65" fill="#36598c"/>
<rect x="356.80" y="219.20" width="10.67" height="10.65" fill="#423d83"/>
<rect x="367.42" y="219.20" width="10.67" height="10.65" fill="#32638d"/>
<rect x="378.04" y="219.20" width="10.67" height="10.65" fill="#440154"/>
<rect x="388.66" y="219.20" width="10.67" height="10.65" fill="#440154"/>
<rect x="399.28" y="219.20" width="10.67" height="10.65" fill="#440154"/>
<rect x="303.70" y="229.80" width="10.67" height="10.65" fill="#440154"/>
<rect x="314.32" y="229.80" width="10.67" height="10.65" fill="#440154"/>
<rect x="324.94" y="229.80" width="10.67" height="10.65" fill="#440154"/>
<rect x="335.56" y="229.80" width="10.67" height="10.65" fill="#440154"/>
<rect x="346.18" y="229.80" width="10.67" height="10.65" fill="#440154"/>
<rect x="356.80" y="229.80" width="10.67" height="10.65" fill="#440154"/>
<rect x="367.42" y="229.80" width="10.67" height="10.65" fill="#440154"/>
<rect x="378.04" y="229.80" width="10.67" height="10.65" fill="#29788e"/>
<rect x="388.66" y="229.80" width="10.67" height="10.65" fill="#24848d"/>
<rect x="399.28" y="229.80" width="10.67" height="10.65" fill="#fde725"/>
<rect x="303.70" y="240.40" width="10.67" height="10.65" fill="#440154"/>
<rect x="314.32" y="240.40" width="10.67" height="10.65" fill="#440154"/>
<rect x="324.94" y="240.40" width="10.67" height="10.65" fill="#440154"/>
<rect x="335.56" y="240.40" width="10.67" height="10.65" fill="#440154"/>
<rect x="346.18" y="240.40" width="10.67" height="10.65" fill="#440154"/>
<rect x="356.80" y="240.40" width="10.67" height="10.65" fill="#440154"/>
<rect x="367.42" y="240.40" width="10.67" height="10.65" fill="#440154"/>
<rect x="378.04" y="240.40" width="10.67" height="10.65" fill="#20908c"/>
<rect x="388.66" y="240.40" width="10.67" height="10.65" fill="#9bd83c"/>
<rect x="399.28" y="240.40" width="10.67" height="10.65" fill="#29ac80"/>
<path d="M314.32 176.80V251.00M324.94 176.80V251.00M335.56 176.80V251.00M346.18 176.80V251.00M356.80 176.80V251.00M367.42 176.80V251.00M378.04 176.80V251.00M388.66 176.80V251.00M399.28 176.80V251.00M303.70 187.40H409.90M303.70 198.00H409.90M303.70 208.60H409.90M303.70 219.20H409.90M303.70 229.80H409.90M303.70 240.40H409.90" stroke="#000" stroke-opacity="0.12" stroke-width="0.4" fill="none"/>
<rect x="412.30" y="176.80" width="10.74" height="10.65" fill="#6ecd57"/>
<rect x="422.99" y="176.80" width="10.74" height="10.65" fill="#fde725"/>
<rect x="433.68" y="176.80" width="10.74" height="10.65" fill="#fde725"/>
<rect x="444.37" y="176.80" width="10.74" height="10.65" fill="#3a508a"/>
<rect x="455.06" y="176.80" width="10.74" height="10.65" fill="#bdde26"/>
<rect x="465.75" y="176.80" width="10.74" height="10.65" fill="#24848d"/>
<rect x="476.44" y="176.80" width="10.74" height="10.65" fill="#45085a"/>
<rect x="487.13" y="176.80" width="10.74" height="10.65" fill="#32638d"/>
<rect x="497.82" y="176.80" width="10.74" height="10.65" fill="#440154"/>
<rect x="508.51" y="176.80" width="10.74" height="10.65" fill="#440154"/>
<rect x="412.30" y="187.40" width="10.74" height="10.65" fill="#fde725"/>
<rect x="422.99" y="187.40" width="10.74" height="10.65" fill="#5ec860"/>
<rect x="433.68" y="187.40" width="10.74" height="10.65" fill="#afdb2f"/>
<rect x="444.37" y="187.40" width="10.74" height="10.65" fill="#fde725"/>
<rect x="455.06" y="187.40" width="10.74" height="10.65" fill="#4fc26a"/>
<rect x="465.75" y="187.40" width="10.74" height="10.65" fill="#20908c"/>
<rect x="476.44" y="187.40" width="10.74" height="10.65" fill="#20908c"/>
<rect x="487.13" y="187.40" width="10.74" height="10.65" fill="#36598c"/>
<rect x="497.82" y="187.40" width="10.74" height="10.65" fill="#440154"/>
<rect x="508.51" y="187.40" width="10.74" height="10.65" fill="#440154"/>
<rect x="412.30" y="198.00" width="10.74" height="10.65" fill="#440154"/>
<rect x="422.99" y="198.00" width="10.74" height="10.65" fill="#345e8d"/>
<rect x="433.68" y="198.00" width="10.74" height="10.65" fill="#24848d"/>
<rect x="444.37" y="198.00" width="10.74" height="10.65" fill="#440154"/>
<rect x="455.06" y="198.00" width="10.74" height="10.65" fill="#24848d"/>
<rect x="465.75" y="198.00" width="10.74" height="10.65" fill="#33b27a"/>
<rect x="476.44" y="198.00" width="10.74" height="10.65" fill="#20908c"/>
<rect x="487.13" y="198.00" width="10.74" height="10.65" fill="#fde725"/>
<rect x="497.82" y="198.00" width="10.74" height="10.65" fill="#440154"/>
<rect x="508.51" y="198.00" width="10.74" height="10.65" fill="#440154"/>
<rect x="412.30" y="208.60" width="10.74" height="10.65" fill="#440154"/>
<rect x="422.99" y="208.60" width="10.74" height="10.65" fill="#44337e"/>
<rect x="433.68" y="208.60" width="10.74" height="10.65" fill="#3a508a"/>
<rect x="444.37" y="208.60" width="10.74" height="10.65" fill="#440154"/>
<rect x="455.06" y="208.60" width="10.74" height="10.65" fill="#36598c"/>
<rect x="465.75" y="208.60" width="10.74" height="10.65" fill="#2e6b8e"/>
<rect x="476.44" y="208.60" width="10.74" height="10.65" fill="#45085a"/>
<rect x="487.13" y="208.60" width="10.74" height="10.65" fill="#fde725"/>
<rect x="497.82" y="208.60" width="10.74" height="10.65" fill="#32638d"/>
<rect x="508.51" y="208.60" width="10.74" height="10.65" fill="#440154"/>
<rect x="412.30" y="219.20" width="10.74" height="10.65" fill="#440154"/>
<rect x="422.99" y="219.20" width="10.74" height="10.65" fill="#440154"/>
<rect x="433.68" y="219.20" width="10.74" height="10.65" fill="#440154"/>
<rect x="444.37" y="219.20" width="10.74" height="10.65" fill="#440154"/>
<rect x="455.06" y="219.20" width="10.74" height="10.65" fill="#460f61"/>
<rect x="465.75" y="219.20" width="10.74" height="10.65" fill="#24848d"/>
<rect x="476.44" y="219.20" width="10.74" height="10.65" fill="#afdb2f"/>
<rect x="487.13" y="219.20" width="10.74" height="10.65" fill="#440154"/>
<rect x="497.82" y="219.20" width="10.74" height="10.65" fill="#440154"/>
<rect x="508.51" y="219.20" width="10.74" height="10.65" fill="#440154"/>
<rect x="412.30" y="229.80" width="10.74" height="10.65" fill="#440154"/>
<rect x="422.99" y="229.80" width="10.74" height="10.65" fill="#440154"/>
<rect x="433.68" y="229.80" width="10.74" height="10.65" fill="#440154"/>
<rect x="444.37" y="229.80" width="10.74" height="10.65" fill="#440154"/>
<rect x="455.06" y="229.80" width="10.74" height="10.65" fill="#440154"/>
<rect x="465.75" y="229.80" width="10.74" height="10.65" fill="#440154"/>
<rect x="476.44" y="229.80" width="10.74" height="10.65" fill="#440154"/>
<rect x="487.13" y="229.80" width="10.74" height="10.65" fill="#5ec860"/>
<rect x="497.82" y="229.80" width="10.74" height="10.65" fill="#fde725"/>
<rect x="508.51" y="229.80" width="10.74" height="10.65" fill="#5ec860"/>
<rect x="412.30" y="240.40" width="10.74" height="10.65" fill="#440154"/>
<rect x="422.99" y="240.40" width="10.74" height="10.65" fill="#440154"/>
<rect x="433.68" y="240.40" width="10.74" height="10.65" fill="#440154"/>
<rect x="444.37" y="240.40" width="10.74" height="10.65" fill="#440154"/>
<rect x="455.06" y="240.40" width="10.74" height="10.65" fill="#440154"/>
<rect x="465.75" y="240.40" width="10.74" height="10.65" fill="#440154"/>
<rect x="476.44" y="240.40" width="10.74" height="10.65" fill="#440154"/>
<rect x="487.13" y="240.40" width="10.74" height="10.65" fill="#3a508a"/>
<rect x="497.82" y="240.40" width="10.74" height="10.65" fill="#fde725"/>
<rect x="508.51" y="240.40" width="10.74" height="10.65" fill="#fde725"/>
<path d="M422.99 176.80V251.00M433.68 176.80V251.00M444.37 176.80V251.00M455.06 176.80V251.00M465.75 176.80V251.00M476.44 176.80V251.00M487.13 176.80V251.00M497.82 176.80V251.00M508.51 176.80V251.00M412.30 187.40H519.20M412.30 198.00H519.20M412.30 208.60H519.20M412.30 219.20H519.20M412.30 229.80H519.20M412.30 240.40H519.20" stroke="#000" stroke-opacity="0.12" stroke-width="0.4" fill="none"/>
<line x1="335.56" y1="167.20" x2="335.56" y2="251.00" stroke="#fff" stroke-width="0.5" stroke-opacity="0.8"/>
<line x1="346.18" y1="167.20" x2="346.18" y2="251.00" stroke="#fff" stroke-width="0.5" stroke-opacity="0.8"/>
<line x1="356.80" y1="167.20" x2="356.80" y2="251.00" stroke="#fff" stroke-width="0.5" stroke-opacity="0.8"/>
<line x1="367.42" y1="167.20" x2="367.42" y2="251.00" stroke="#fff" stroke-width="0.5" stroke-opacity="0.8"/>
<text x="301.00" y="184.48" font-size="6.6" text-anchor="end" fill="#222" font-style="italic">PAX6</text>
<text x="522.80" y="184.48" font-size="6.6" text-anchor="start" fill="#222" font-style="italic">Pax6</text>
<text x="301.00" y="195.08" font-size="6.6" text-anchor="end" fill="#222" font-style="italic">HES1</text>
<text x="522.80" y="195.08" font-size="6.6" text-anchor="start" fill="#222" font-style="italic">Hes1</text>
<text x="301.00" y="205.68" font-size="6.6" text-anchor="end" fill="#222" font-style="italic">OLIG2</text>
<text x="522.80" y="205.68" font-size="6.6" text-anchor="start" fill="#222" font-style="italic">Olig2</text>
<text x="301.00" y="216.28" font-size="6.6" text-anchor="end" fill="#222" font-style="italic">NEUROG2</text>
<text x="522.80" y="216.28" font-size="6.6" text-anchor="start" fill="#222" font-style="italic">Neurog2</text>
<text x="301.00" y="226.88" font-size="6.6" text-anchor="end" fill="#222" font-style="italic">NKX2-2</text>
<text x="522.80" y="226.88" font-size="6.6" text-anchor="start" fill="#222" font-style="italic">Nkx2-2</text>
<text x="301.00" y="237.48" font-size="6.6" text-anchor="end" fill="#222" font-style="italic">ISL1</text>
<text x="522.80" y="237.48" font-size="6.6" text-anchor="start" fill="#222" font-style="italic">Isl1</text>
<text x="301.00" y="248.08" font-size="6.6" text-anchor="end" fill="#222" font-style="italic">MNX1</text>
<text x="522.80" y="248.08" font-size="6.6" text-anchor="start" fill="#222" font-style="italic">Mnx1</text>
<defs><linearGradient id="vc1" x1="0" y1="1" x2="0" y2="0"><stop offset="0.0" stop-color="#440154"/><stop offset="0.1" stop-color="#482374"/><stop offset="0.2" stop-color="#404387"/><stop offset="0.3" stop-color="#345e8d"/><stop offset="0.4" stop-color="#29788e"/><stop offset="0.5" stop-color="#20908c"/><stop offset="0.6" stop-color="#22a784"/><stop offset="0.7" stop-color="#44be70"/><stop offset="0.8" stop-color="#79d151"/><stop offset="0.9" stop-color="#bdde26"/><stop offset="1.0" stop-color="#fde725"/></linearGradient></defs>
<rect x="257.5" y="185" width="6.0" height="50.400000000000006" fill="url(#vc1)"/>
<text x="256.00" y="187.09" font-size="5.8" text-anchor="end" fill="#333">0.6+</text>
<text x="256.00" y="197.17" font-size="5.8" text-anchor="end" fill="#333">0.5</text>
<text x="256.00" y="207.25" font-size="5.8" text-anchor="end" fill="#333">0.4</text>
<text x="256.00" y="217.33" font-size="5.8" text-anchor="end" fill="#333">0.3</text>
<text x="256.00" y="227.41" font-size="5.8" text-anchor="end" fill="#333">0.2</text>
<text x="256.00" y="237.49" font-size="5.8" text-anchor="end" fill="#333">0.1-</text>
<text x="237.40" y="212.45" font-size="6.8" text-anchor="middle" fill="#333" transform="rotate(-90 237.40 210.00)">Expression</text>
<rect x="303.70" y="253.70" width="10.67" height="10.40" fill="#29788e"/>
<rect x="314.32" y="253.70" width="10.67" height="10.40" fill="#fde725"/>
<rect x="324.94" y="253.70" width="10.67" height="10.40" fill="#fde725"/>
<rect x="335.56" y="253.70" width="10.67" height="10.40" fill="#440154"/>
<rect x="346.18" y="253.70" width="10.67" height="10.40" fill="#440154"/>
<rect x="356.80" y="253.70" width="10.67" height="10.40" fill="#440154"/>
<rect x="367.42" y="253.70" width="10.67" height="10.40" fill="#440154"/>
<rect x="378.04" y="253.70" width="10.67" height="10.40" fill="#440154"/>
<rect x="388.66" y="253.70" width="10.67" height="10.40" fill="#440154"/>
<rect x="399.28" y="253.70" width="10.67" height="10.40" fill="#440154"/>
<rect x="303.70" y="264.05" width="10.67" height="10.40" fill="#440154"/>
<rect x="314.32" y="264.05" width="10.67" height="10.40" fill="#440154"/>
<rect x="324.94" y="264.05" width="10.67" height="10.40" fill="#440154"/>
<rect x="335.56" y="264.05" width="10.67" height="10.40" fill="#bdde26"/>
<rect x="346.18" y="264.05" width="10.67" height="10.40" fill="#fde725"/>
<rect x="356.80" y="264.05" width="10.67" height="10.40" fill="#20908c"/>
<rect x="367.42" y="264.05" width="10.67" height="10.40" fill="#440154"/>
<rect x="378.04" y="264.05" width="10.67" height="10.40" fill="#fde725"/>
<rect x="388.66" y="264.05" width="10.67" height="10.40" fill="#44337e"/>
<rect x="399.28" y="264.05" width="10.67" height="10.40" fill="#440154"/>
<rect x="303.70" y="274.40" width="10.67" height="10.40" fill="#440154"/>
<rect x="314.32" y="274.40" width="10.67" height="10.40" fill="#440154"/>
<rect x="324.94" y="274.40" width="10.67" height="10.40" fill="#440154"/>
<rect x="335.56" y="274.40" width="10.67" height="10.40" fill="#24848d"/>
<rect x="346.18" y="274.40" width="10.67" height="10.40" fill="#44be70"/>
<rect x="356.80" y="274.40" width="10.67" height="10.40" fill="#219c88"/>
<rect x="367.42" y="274.40" width="10.67" height="10.40" fill="#22a286"/>
<rect x="378.04" y="274.40" width="10.67" height="10.40" fill="#fde725"/>
<rect x="388.66" y="274.40" width="10.67" height="10.40" fill="#2e6b8e"/>
<rect x="399.28" y="274.40" width="10.67" height="10.40" fill="#440154"/>
<rect x="303.70" y="284.75" width="10.67" height="10.40" fill="#440154"/>
<rect x="314.32" y="284.75" width="10.67" height="10.40" fill="#440154"/>
<rect x="324.94" y="284.75" width="10.67" height="10.40" fill="#440154"/>
<rect x="335.56" y="284.75" width="10.67" height="10.40" fill="#345e8d"/>
<rect x="346.18" y="284.75" width="10.67" height="10.40" fill="#2b738e"/>
<rect x="356.80" y="284.75" width="10.67" height="10.40" fill="#2e6b8e"/>
<rect x="367.42" y="284.75" width="10.67" height="10.40" fill="#fde725"/>
<rect x="378.04" y="284.75" width="10.67" height="10.40" fill="#afdb2f"/>
<rect x="388.66" y="284.75" width="10.67" height="10.40" fill="#29788e"/>
<rect x="399.28" y="284.75" width="10.67" height="10.40" fill="#2e6b8e"/>
<rect x="303.70" y="295.10" width="10.67" height="10.40" fill="#440154"/>
<rect x="314.32" y="295.10" width="10.67" height="10.40" fill="#440154"/>
<rect x="324.94" y="295.10" width="10.67" height="10.40" fill="#440154"/>
<rect x="335.56" y="295.10" width="10.67" height="10.40" fill="#440154"/>
<rect x="346.18" y="295.10" width="10.67" height="10.40" fill="#440154"/>
<rect x="356.80" y="295.10" width="10.67" height="10.40" fill="#44337e"/>
<rect x="367.42" y="295.10" width="10.67" height="10.40" fill="#440154"/>
<rect x="378.04" y="295.10" width="10.67" height="10.40" fill="#450b5e"/>
<rect x="388.66" y="295.10" width="10.67" height="10.40" fill="#277d8e"/>
<rect x="399.28" y="295.10" width="10.67" height="10.40" fill="#fde725"/>
<path d="M314.32 253.70V305.45M324.94 253.70V305.45M335.56 253.70V305.45M346.18 253.70V305.45M356.80 253.70V305.45M367.42 253.70V305.45M378.04 253.70V305.45M388.66 253.70V305.45M399.28 253.70V305.45M303.70 264.05H409.90M303.70 274.40H409.90M303.70 284.75H409.90M303.70 295.10H409.90" stroke="#000" stroke-opacity="0.12" stroke-width="0.4" fill="none"/>
<rect x="412.30" y="253.70" width="10.74" height="13.00" fill="#fde725"/>
<rect x="422.99" y="253.70" width="10.74" height="13.00" fill="#33b27a"/>
<rect x="433.68" y="253.70" width="10.74" height="13.00" fill="#24848d"/>
<rect x="444.37" y="253.70" width="10.74" height="13.00" fill="#345e8d"/>
<rect x="455.06" y="253.70" width="10.74" height="13.00" fill="#440154"/>
<rect x="465.75" y="253.70" width="10.74" height="13.00" fill="#440154"/>
<rect x="476.44" y="253.70" width="10.74" height="13.00" fill="#440154"/>
<rect x="487.13" y="253.70" width="10.74" height="13.00" fill="#440154"/>
<rect x="497.82" y="253.70" width="10.74" height="13.00" fill="#440154"/>
<rect x="508.51" y="253.70" width="10.74" height="13.00" fill="#440154"/>
<rect x="412.30" y="266.65" width="10.74" height="13.00" fill="#462978"/>
<rect x="422.99" y="266.65" width="10.74" height="13.00" fill="#33b27a"/>
<rect x="433.68" y="266.65" width="10.74" height="13.00" fill="#79d151"/>
<rect x="444.37" y="266.65" width="10.74" height="13.00" fill="#fde725"/>
<rect x="455.06" y="266.65" width="10.74" height="13.00" fill="#fde725"/>
<rect x="465.75" y="266.65" width="10.74" height="13.00" fill="#482374"/>
<rect x="476.44" y="266.65" width="10.74" height="13.00" fill="#440154"/>
<rect x="487.13" y="266.65" width="10.74" height="13.00" fill="#24848d"/>
<rect x="497.82" y="266.65" width="10.74" height="13.00" fill="#345e8d"/>
<rect x="508.51" y="266.65" width="10.74" height="13.00" fill="#440154"/>
<rect x="412.30" y="279.60" width="10.74" height="13.00" fill="#450b5e"/>
<rect x="422.99" y="279.60" width="10.74" height="13.00" fill="#450b5e"/>
<rect x="433.68" y="279.60" width="10.74" height="13.00" fill="#450b5e"/>
<rect x="444.37" y="279.60" width="10.74" height="13.00" fill="#450b5e"/>
<rect x="455.06" y="279.60" width="10.74" height="13.00" fill="#450b5e"/>
<rect x="465.75" y="279.60" width="10.74" height="13.00" fill="#fde725"/>
<rect x="476.44" y="279.60" width="10.74" height="13.00" fill="#2b738e"/>
<rect x="487.13" y="279.60" width="10.74" height="13.00" fill="#33b27a"/>
<rect x="497.82" y="279.60" width="10.74" height="13.00" fill="#219c88"/>
<rect x="508.51" y="279.60" width="10.74" height="13.00" fill="#44337e"/>
<rect x="412.30" y="292.55" width="10.74" height="13.00" fill="#45085a"/>
<rect x="422.99" y="292.55" width="10.74" height="13.00" fill="#45085a"/>
<rect x="433.68" y="292.55" width="10.74" height="13.00" fill="#45085a"/>
<rect x="444.37" y="292.55" width="10.74" height="13.00" fill="#45085a"/>
<rect x="455.06" y="292.55" width="10.74" height="13.00" fill="#45085a"/>
<rect x="465.75" y="292.55" width="10.74" height="13.00" fill="#462978"/>
<rect x="476.44" y="292.55" width="10.74" height="13.00" fill="#fde725"/>
<rect x="487.13" y="292.55" width="10.74" height="13.00" fill="#482374"/>
<rect x="497.82" y="292.55" width="10.74" height="13.00" fill="#20908c"/>
<rect x="508.51" y="292.55" width="10.74" height="13.00" fill="#fde725"/>
<path d="M422.99 253.70V305.50M433.68 253.70V305.50M444.37 253.70V305.50M455.06 253.70V305.50M465.75 253.70V305.50M476.44 253.70V305.50M487.13 253.70V305.50M497.82 253.70V305.50M508.51 253.70V305.50M412.30 266.65H519.20M412.30 279.60H519.20M412.30 292.55H519.20" stroke="#000" stroke-opacity="0.12" stroke-width="0.4" fill="none"/>
<line x1="335.56" y1="253.70" x2="335.56" y2="305.45" stroke="#fff" stroke-width="0.5" stroke-opacity="0.8"/>
<line x1="346.18" y1="253.70" x2="346.18" y2="305.45" stroke="#fff" stroke-width="0.5" stroke-opacity="0.8"/>
<line x1="356.80" y1="253.70" x2="356.80" y2="305.45" stroke="#fff" stroke-width="0.5" stroke-opacity="0.8"/>
<line x1="367.42" y1="253.70" x2="367.42" y2="305.45" stroke="#fff" stroke-width="0.5" stroke-opacity="0.8"/>
<text x="301.00" y="261.32" font-size="6.8" text-anchor="end" fill="#222">9</text>
<text x="291.55" y="261.32" font-size="6.8" text-anchor="end" fill="#222">Day</text>
<text x="301.00" y="271.67" font-size="6.8" text-anchor="end" fill="#222">Day 11</text>
<text x="301.00" y="282.02" font-size="6.8" text-anchor="end" fill="#222">Day 13</text>
<text x="301.00" y="292.37" font-size="6.8" text-anchor="end" fill="#222">Day 15</text>
<text x="301.00" y="302.72" font-size="6.8" text-anchor="end" fill="#222">Day 17</text>
<text x="522.80" y="262.62" font-size="6.8" text-anchor="start" fill="#222">Day 4</text>
<text x="522.80" y="275.57" font-size="6.8" text-anchor="start" fill="#222">Day 5</text>
<text x="522.80" y="288.52" font-size="6.8" text-anchor="start" fill="#222">Day 6</text>
<text x="522.80" y="301.47" font-size="6.8" text-anchor="start" fill="#222">Day 7</text>
<defs><linearGradient id="vc2" x1="0" y1="1" x2="0" y2="0"><stop offset="0.0" stop-color="#440154"/><stop offset="0.1" stop-color="#482374"/><stop offset="0.2" stop-color="#404387"/><stop offset="0.3" stop-color="#345e8d"/><stop offset="0.4" stop-color="#29788e"/><stop offset="0.5" stop-color="#20908c"/><stop offset="0.6" stop-color="#22a784"/><stop offset="0.7" stop-color="#44be70"/><stop offset="0.8" stop-color="#79d151"/><stop offset="0.9" stop-color="#bdde26"/><stop offset="1.0" stop-color="#fde725"/></linearGradient></defs>
<rect x="257.5" y="253.5" width="6.0" height="51.89999999999998" fill="url(#vc2)"/>
<text x="256.00" y="255.59" font-size="5.8" text-anchor="end" fill="#333">0.5+</text>
<text x="256.00" y="268.56" font-size="5.8" text-anchor="end" fill="#333">0.4</text>
<text x="256.00" y="281.54" font-size="5.8" text-anchor="end" fill="#333">0.3</text>
<text x="256.00" y="294.51" font-size="5.8" text-anchor="end" fill="#333">0.2</text>
<text x="256.00" y="307.49" font-size="5.8" text-anchor="end" fill="#333">0.1-</text>
<text x="237.40" y="281.95" font-size="6.8" text-anchor="middle" fill="#333" transform="rotate(-90 237.40 279.50)">Enrichment</text>
<text x="273.80" y="325.00" font-size="10" text-anchor="start" fill="#000" font-weight="bold">f</text>
<text x="330.40" y="322.02" font-size="7" text-anchor="middle" fill="#222">Overlap</text>
<defs><linearGradient id="ovl"><stop offset="0.0" stop-color="#440154"/><stop offset="0.1" stop-color="#482374"/><stop offset="0.2" stop-color="#404387"/><stop offset="0.3" stop-color="#345e8d"/><stop offset="0.4" stop-color="#29788e"/><stop offset="0.5" stop-color="#20908c"/><stop offset="0.6" stop-color="#22a784"/><stop offset="0.7" stop-color="#44be70"/><stop offset="0.8" stop-color="#79d151"/><stop offset="0.9" stop-color="#bdde26"/><stop offset="1.0" stop-color="#fde725"/></linearGradient></defs>
<rect x="304.9" y="338" width="51" height="5.3" fill="url(#ovl)"/>
<text x="308.30" y="335.3" font-size="5.6" fill="#333" transform="rotate(-90 308.30 335.3)">0.2-</text>
<text x="318.38" y="335.3" font-size="5.6" fill="#333" transform="rotate(-90 318.38 335.3)">0.3</text>
<text x="328.46" y="335.3" font-size="5.6" fill="#333" transform="rotate(-90 328.46 335.3)">0.4</text>
<text x="338.54" y="335.3" font-size="5.6" fill="#333" transform="rotate(-90 338.54 335.3)">0.5</text>
<text x="348.62" y="335.3" font-size="5.6" fill="#333" transform="rotate(-90 348.62 335.3)">0.6</text>
<text x="358.70" y="335.3" font-size="5.6" fill="#333" transform="rotate(-90 358.70 335.3)">0.7+</text>
<rect x="303.70" y="347.20" width="10.67" height="7.40" fill="#f8c6cb"/>
<rect x="314.32" y="347.20" width="10.67" height="7.40" fill="#f8c6cb"/>
<rect x="324.94" y="347.20" width="10.67" height="7.40" fill="#f8c6cb"/>
<rect x="335.56" y="347.20" width="10.67" height="7.40" fill="#f8c6cb"/>
<rect x="346.18" y="347.20" width="10.67" height="7.40" fill="#f8c6cb"/>
<rect x="356.80" y="347.20" width="10.67" height="7.40" fill="#f8c6cb"/>
<rect x="367.42" y="347.20" width="10.67" height="7.40" fill="#f8c6cb"/>
<rect x="378.04" y="347.20" width="10.67" height="7.40" fill="#bcd8ee"/>
<rect x="388.66" y="347.20" width="10.67" height="7.40" fill="#bcd8ee"/>
<rect x="399.28" y="347.20" width="10.67" height="7.40" fill="#bcd8ee"/>
<text x="309.01" y="353.42" font-size="7" text-anchor="middle" fill="#222">H0</text>
<text x="319.63" y="353.42" font-size="7" text-anchor="middle" fill="#222">H1</text>
<text x="330.25" y="353.42" font-size="7" text-anchor="middle" fill="#222">H2</text>
<text x="340.87" y="353.42" font-size="7" text-anchor="middle" fill="#222">H3</text>
<text x="351.49" y="353.42" font-size="7" text-anchor="middle" fill="#222">H4</text>
<text x="362.11" y="353.42" font-size="7" text-anchor="middle" fill="#222">H5</text>
<text x="372.73" y="353.42" font-size="7" text-anchor="middle" fill="#222">H6</text>
<text x="383.35" y="353.42" font-size="7" text-anchor="middle" fill="#222">H7</text>
<text x="393.97" y="353.42" font-size="7" text-anchor="middle" fill="#222">H8</text>
<text x="404.59" y="353.42" font-size="7" text-anchor="middle" fill="#222">H9</text>
<rect x="412.30" y="347.20" width="10.74" height="7.40" fill="#f8c6cb"/>
<rect x="422.99" y="347.20" width="10.74" height="7.40" fill="#f8c6cb"/>
<rect x="433.68" y="347.20" width="10.74" height="7.40" fill="#f8c6cb"/>
<rect x="444.37" y="347.20" width="10.74" height="7.40" fill="#f8c6cb"/>
<rect x="455.06" y="347.20" width="10.74" height="7.40" fill="#f8c6cb"/>
<rect x="465.75" y="347.20" width="10.74" height="7.40" fill="#f8c6cb"/>
<rect x="476.44" y="347.20" width="10.74" height="7.40" fill="#f8c6cb"/>
<rect x="487.13" y="347.20" width="10.74" height="7.40" fill="#bcd8ee"/>
<rect x="497.82" y="347.20" width="10.74" height="7.40" fill="#bcd8ee"/>
<rect x="508.51" y="347.20" width="10.74" height="7.40" fill="#bcd8ee"/>
<text x="417.65" y="353.42" font-size="7" text-anchor="middle" fill="#222">M0</text>
<text x="428.34" y="353.42" font-size="7" text-anchor="middle" fill="#222">M1</text>
<text x="439.03" y="353.42" font-size="7" text-anchor="middle" fill="#222">M2</text>
<text x="449.72" y="353.42" font-size="7" text-anchor="middle" fill="#222">M3</text>
<text x="460.41" y="353.42" font-size="7" text-anchor="middle" fill="#222">M4</text>
<text x="471.10" y="353.42" font-size="7" text-anchor="middle" fill="#222">M5</text>
<text x="481.79" y="353.42" font-size="7" text-anchor="middle" fill="#222">M6</text>
<text x="492.48" y="353.42" font-size="7" text-anchor="middle" fill="#222">M7</text>
<text x="503.17" y="353.42" font-size="7" text-anchor="middle" fill="#222">M8</text>
<text x="513.86" y="353.42" font-size="7" text-anchor="middle" fill="#222">M9</text>
<rect x="303.70" y="355.00" width="10.67" height="10.71" fill="#45085a"/>
<rect x="314.32" y="355.00" width="10.67" height="10.71" fill="#45085a"/>
<rect x="324.94" y="355.00" width="10.67" height="10.71" fill="#45085a"/>
<rect x="335.56" y="355.00" width="10.67" height="10.71" fill="#45085a"/>
<rect x="346.18" y="355.00" width="10.67" height="10.71" fill="#45085a"/>
<rect x="356.80" y="355.00" width="10.67" height="10.71" fill="#45085a"/>
<rect x="367.42" y="355.00" width="10.67" height="10.71" fill="#45085a"/>
<rect x="378.04" y="355.00" width="10.67" height="10.71" fill="#45085a"/>
<rect x="388.66" y="355.00" width="10.67" height="10.71" fill="#45085a"/>
<rect x="399.28" y="355.00" width="10.67" height="10.71" fill="#45085a"/>
<rect x="303.70" y="365.66" width="10.67" height="10.71" fill="#2e6b8e"/>
<rect x="314.32" y="365.66" width="10.67" height="10.71" fill="#45085a"/>
<rect x="324.94" y="365.66" width="10.67" height="10.71" fill="#45085a"/>
<rect x="335.56" y="365.66" width="10.67" height="10.71" fill="#45085a"/>
<rect x="346.18" y="365.66" width="10.67" height="10.71" fill="#45085a"/>
<rect x="356.80" y="365.66" width="10.67" height="10.71" fill="#45085a"/>
<rect x="367.42" y="365.66" width="10.67" height="10.71" fill="#45085a"/>
<rect x="378.04" y="365.66" width="10.67" height="10.71" fill="#45085a"/>
<rect x="388.66" y="365.66" width="10.67" height="10.71" fill="#45085a"/>
<rect x="399.28" y="365.66" width="10.67" height="10.71" fill="#45085a"/>
<rect x="303.70" y="376.32" width="10.67" height="10.71" fill="#45085a"/>
<rect x="314.32" y="376.32" width="10.67" height="10.71" fill="#5ec860"/>
<rect x="324.94" y="376.32" width="10.67" height="10.71" fill="#45085a"/>
<rect x="335.56" y="376.32" width="10.67" height="10.71" fill="#45085a"/>
<rect x="346.18" y="376.32" width="10.67" height="10.71" fill="#45085a"/>
<rect x="356.80" y="376.32" width="10.67" height="10.71" fill="#45085a"/>
<rect x="367.42" y="376.32" width="10.67" height="10.71" fill="#45085a"/>
<rect x="378.04" y="376.32" width="10.67" height="10.71" fill="#45085a"/>
<rect x="388.66" y="376.32" width="10.67" height="10.71" fill="#45085a"/>
<rect x="399.28" y="376.32" width="10.67" height="10.71" fill="#45085a"/>
<rect x="303.70" y="386.98" width="10.67" height="10.71" fill="#404387"/>
<rect x="314.32" y="386.98" width="10.67" height="10.71" fill="#45085a"/>
<rect x="324.94" y="386.98" width="10.67" height="10.71" fill="#fde725"/>
<rect x="335.56" y="386.98" width="10.67" height="10.71" fill="#45085a"/>
<rect x="346.18" y="386.98" width="10.67" height="10.71" fill="#45085a"/>
<rect x="356.80" y="386.98" width="10.67" height="10.71" fill="#45085a"/>
<rect x="367.42" y="386.98" width="10.67" height="10.71" fill="#45085a"/>
<rect x="378.04" y="386.98" width="10.67" height="10.71" fill="#45085a"/>
<rect x="388.66" y="386.98" width="10.67" height="10.71" fill="#45085a"/>
<rect x="399.28" y="386.98" width="10.67" height="10.71" fill="#45085a"/>
<rect x="303.70" y="397.64" width="10.67" height="10.71" fill="#45085a"/>
<rect x="314.32" y="397.64" width="10.67" height="10.71" fill="#45085a"/>
<rect x="324.94" y="397.64" width="10.67" height="10.71" fill="#45085a"/>
<rect x="335.56" y="397.64" width="10.67" height="10.71" fill="#dde226"/>
<rect x="346.18" y="397.64" width="10.67" height="10.71" fill="#45085a"/>
<rect x="356.80" y="397.64" width="10.67" height="10.71" fill="#45085a"/>
<rect x="367.42" y="397.64" width="10.67" height="10.71" fill="#45085a"/>
<rect x="378.04" y="397.64" width="10.67" height="10.71" fill="#45085a"/>
<rect x="388.66" y="397.64" width="10.67" height="10.71" fill="#45085a"/>
<rect x="399.28" y="397.64" width="10.67" height="10.71" fill="#45085a"/>
<rect x="303.70" y="408.30" width="10.67" height="10.71" fill="#45085a"/>
<rect x="314.32" y="408.30" width="10.67" height="10.71" fill="#45085a"/>
<rect x="324.94" y="408.30" width="10.67" height="10.71" fill="#45085a"/>
<rect x="335.56" y="408.30" width="10.67" height="10.71" fill="#45085a"/>
<rect x="346.18" y="408.30" width="10.67" height="10.71" fill="#fde725"/>
<rect x="356.80" y="408.30" width="10.67" height="10.71" fill="#45085a"/>
<rect x="367.42" y="408.30" width="10.67" height="10.71" fill="#45085a"/>
<rect x="378.04" y="408.30" width="10.67" height="10.71" fill="#45085a"/>
<rect x="388.66" y="408.30" width="10.67" height="10.71" fill="#45085a"/>
<rect x="399.28" y="408.30" width="10.67" height="10.71" fill="#45085a"/>
<rect x="303.70" y="418.96" width="10.67" height="10.71" fill="#45085a"/>
<rect x="314.32" y="418.96" width="10.67" height="10.71" fill="#45085a"/>
<rect x="324.94" y="418.96" width="10.67" height="10.71" fill="#45085a"/>
<rect x="335.56" y="418.96" width="10.67" height="10.71" fill="#47196a"/>
<rect x="346.18" y="418.96" width="10.67" height="10.71" fill="#45085a"/>
<rect x="356.80" y="418.96" width="10.67" height="10.71" fill="#345e8d"/>
<rect x="367.42" y="418.96" width="10.67" height="10.71" fill="#45085a"/>
<rect x="378.04" y="418.96" width="10.67" height="10.71" fill="#45085a"/>
<rect x="388.66" y="418.96" width="10.67" height="10.71" fill="#45085a"/>
<rect x="399.28" y="418.96" width="10.67" height="10.71" fill="#45085a"/>
<rect x="303.70" y="429.62" width="10.67" height="10.71" fill="#45085a"/>
<rect x="314.32" y="429.62" width="10.67" height="10.71" fill="#45085a"/>
<rect x="324.94" y="429.62" width="10.67" height="10.71" fill="#45085a"/>
<rect x="335.56" y="429.62" width="10.67" height="10.71" fill="#45085a"/>
<rect x="346.18" y="429.62" width="10.67" height="10.71" fill="#45085a"/>
<rect x="356.80" y="429.62" width="10.67" height="10.71" fill="#24848d"/>
<rect x="367.42" y="429.62" width="10.67" height="10.71" fill="#fde725"/>
<rect x="378.04" y="429.62" width="10.67" height="10.71" fill="#45085a"/>
<rect x="388.66" y="429.62" width="10.67" height="10.71" fill="#45085a"/>
<rect x="399.28" y="429.62" width="10.67" height="10.71" fill="#45085a"/>
<rect x="303.70" y="440.28" width="10.67" height="10.71" fill="#45085a"/>
<rect x="314.32" y="440.28" width="10.67" height="10.71" fill="#45085a"/>
<rect x="324.94" y="440.28" width="10.67" height="10.71" fill="#45085a"/>
<rect x="335.56" y="440.28" width="10.67" height="10.71" fill="#45085a"/>
<rect x="346.18" y="440.28" width="10.67" height="10.71" fill="#45085a"/>
<rect x="356.80" y="440.28" width="10.67" height="10.71" fill="#45085a"/>
<rect x="367.42" y="440.28" width="10.67" height="10.71" fill="#45085a"/>
<rect x="378.04" y="440.28" width="10.67" height="10.71" fill="#fde725"/>
<rect x="388.66" y="440.28" width="10.67" height="10.71" fill="#45085a"/>
<rect x="399.28" y="440.28" width="10.67" height="10.71" fill="#45085a"/>
<rect x="303.70" y="450.94" width="10.67" height="10.71" fill="#45085a"/>
<rect x="314.32" y="450.94" width="10.67" height="10.71" fill="#45085a"/>
<rect x="324.94" y="450.94" width="10.67" height="10.71" fill="#45085a"/>
<rect x="335.56" y="450.94" width="10.67" height="10.71" fill="#45085a"/>
<rect x="346.18" y="450.94" width="10.67" height="10.71" fill="#45085a"/>
<rect x="356.80" y="450.94" width="10.67" height="10.71" fill="#45085a"/>
<rect x="367.42" y="450.94" width="10.67" height="10.71" fill="#45085a"/>
<rect x="378.04" y="450.94" width="10.67" height="10.71" fill="#3a508a"/>
<rect x="388.66" y="450.94" width="10.67" height="10.71" fill="#24848d"/>
<rect x="399.28" y="450.94" width="10.67" height="10.71" fill="#45085a"/>
<rect x="303.70" y="461.60" width="10.67" height="10.71" fill="#45085a"/>
<rect x="314.32" y="461.60" width="10.67" height="10.71" fill="#45085a"/>
<rect x="324.94" y="461.60" width="10.67" height="10.71" fill="#45085a"/>
<rect x="335.56" y="461.60" width="10.67" height="10.71" fill="#45085a"/>
<rect x="346.18" y="461.60" width="10.67" height="10.71" fill="#45085a"/>
<rect x="356.80" y="461.60" width="10.67" height="10.71" fill="#45085a"/>
<rect x="367.42" y="461.60" width="10.67" height="10.71" fill="#45085a"/>
<rect x="378.04" y="461.60" width="10.67" height="10.71" fill="#45085a"/>
<rect x="388.66" y="461.60" width="10.67" height="10.71" fill="#33b27a"/>
<rect x="399.28" y="461.60" width="10.67" height="10.71" fill="#20908c"/>
<rect x="303.70" y="472.26" width="10.67" height="10.71" fill="#45085a"/>
<rect x="314.32" y="472.26" width="10.67" height="10.71" fill="#45085a"/>
<rect x="324.94" y="472.26" width="10.67" height="10.71" fill="#45085a"/>
<rect x="335.56" y="472.26" width="10.67" height="10.71" fill="#45085a"/>
<rect x="346.18" y="472.26" width="10.67" height="10.71" fill="#45085a"/>
<rect x="356.80" y="472.26" width="10.67" height="10.71" fill="#45085a"/>
<rect x="367.42" y="472.26" width="10.67" height="10.71" fill="#45085a"/>
<rect x="378.04" y="472.26" width="10.67" height="10.71" fill="#45085a"/>
<rect x="388.66" y="472.26" width="10.67" height="10.71" fill="#45085a"/>
<rect x="399.28" y="472.26" width="10.67" height="10.71" fill="#22a784"/>
<path d="M314.32 355.00V482.92M324.94 355.00V482.92M335.56 355.00V482.92M346.18 355.00V482.92M356.80 355.00V482.92M367.42 355.00V482.92M378.04 355.00V482.92M388.66 355.00V482.92M399.28 355.00V482.92M303.70 365.66H409.90M303.70 376.32H409.90M303.70 386.98H409.90M303.70 397.64H409.90M303.70 408.30H409.90M303.70 418.96H409.90M303.70 429.62H409.90M303.70 440.28H409.90M303.70 450.94H409.90M303.70 461.60H409.90M303.70 472.26H409.90" stroke="#000" stroke-opacity="0.12" stroke-width="0.4" fill="none"/>
<rect x="412.30" y="355.00" width="10.74" height="10.71" fill="#5ec860"/>
<rect x="422.99" y="355.00" width="10.74" height="10.71" fill="#fde725"/>
<rect x="433.68" y="355.00" width="10.74" height="10.71" fill="#45085a"/>
<rect x="444.37" y="355.00" width="10.74" height="10.71" fill="#45085a"/>
<rect x="455.06" y="355.00" width="10.74" height="10.71" fill="#45085a"/>
<rect x="465.75" y="355.00" width="10.74" height="10.71" fill="#45085a"/>
<rect x="476.44" y="355.00" width="10.74" height="10.71" fill="#45085a"/>
<rect x="487.13" y="355.00" width="10.74" height="10.71" fill="#45085a"/>
<rect x="497.82" y="355.00" width="10.74" height="10.71" fill="#45085a"/>
<rect x="508.51" y="355.00" width="10.74" height="10.71" fill="#45085a"/>
<rect x="412.30" y="365.66" width="10.74" height="10.71" fill="#2b738e"/>
<rect x="422.99" y="365.66" width="10.74" height="10.71" fill="#45085a"/>
<rect x="433.68" y="365.66" width="10.74" height="10.71" fill="#fde725"/>
<rect x="444.37" y="365.66" width="10.74" height="10.71" fill="#45085a"/>
<rect x="455.06" y="365.66" width="10.74" height="10.71" fill="#45085a"/>
<rect x="465.75" y="365.66" width="10.74" height="10.71" fill="#45085a"/>
<rect x="476.44" y="365.66" width="10.74" height="10.71" fill="#45085a"/>
<rect x="487.13" y="365.66" width="10.74" height="10.71" fill="#45085a"/>
<rect x="497.82" y="365.66" width="10.74" height="10.71" fill="#45085a"/>
<rect x="508.51" y="365.66" width="10.74" height="10.71" fill="#45085a"/>
<rect x="412.30" y="376.32" width="10.74" height="10.71" fill="#45085a"/>
<rect x="422.99" y="376.32" width="10.74" height="10.71" fill="#45085a"/>
<rect x="433.68" y="376.32" width="10.74" height="10.71" fill="#45085a"/>
<rect x="444.37" y="376.32" width="10.74" height="10.71" fill="#fde725"/>
<rect x="455.06" y="376.32" width="10.74" height="10.71" fill="#45085a"/>
<rect x="465.75" y="376.32" width="10.74" height="10.71" fill="#45085a"/>
<rect x="476.44" y="376.32" width="10.74" height="10.71" fill="#45085a"/>
<rect x="487.13" y="376.32" width="10.74" height="10.71" fill="#45085a"/>
<rect x="497.82" y="376.32" width="10.74" height="10.71" fill="#45085a"/>
<rect x="508.51" y="376.32" width="10.74" height="10.71" fill="#45085a"/>
<rect x="412.30" y="386.98" width="10.74" height="10.71" fill="#45085a"/>
<rect x="422.99" y="386.98" width="10.74" height="10.71" fill="#471c6e"/>
<rect x="433.68" y="386.98" width="10.74" height="10.71" fill="#45085a"/>
<rect x="444.37" y="386.98" width="10.74" height="10.71" fill="#45085a"/>
<rect x="455.06" y="386.98" width="10.74" height="10.71" fill="#fde725"/>
<rect x="465.75" y="386.98" width="10.74" height="10.71" fill="#45085a"/>
<rect x="476.44" y="386.98" width="10.74" height="10.71" fill="#45085a"/>
<rect x="487.13" y="386.98" width="10.74" height="10.71" fill="#45085a"/>
<rect x="497.82" y="386.98" width="10.74" height="10.71" fill="#45085a"/>
<rect x="508.51" y="386.98" width="10.74" height="10.71" fill="#45085a"/>
<rect x="412.30" y="397.64" width="10.74" height="10.71" fill="#45085a"/>
<rect x="422.99" y="397.64" width="10.74" height="10.71" fill="#45085a"/>
<rect x="433.68" y="397.64" width="10.74" height="10.71" fill="#45085a"/>
<rect x="444.37" y="397.64" width="10.74" height="10.71" fill="#45085a"/>
<rect x="455.06" y="397.64" width="10.74" height="10.71" fill="#45085a"/>
<rect x="465.75" y="397.64" width="10.74" height="10.71" fill="#29788e"/>
<rect x="476.44" y="397.64" width="10.74" height="10.71" fill="#45085a"/>
<rect x="487.13" y="397.64" width="10.74" height="10.71" fill="#45085a"/>
<rect x="497.82" y="397.64" width="10.74" height="10.71" fill="#45085a"/>
<rect x="508.51" y="397.64" width="10.74" height="10.71" fill="#45085a"/>
<rect x="412.30" y="408.30" width="10.74" height="10.71" fill="#45085a"/>
<rect x="422.99" y="408.30" width="10.74" height="10.71" fill="#45085a"/>
<rect x="433.68" y="408.30" width="10.74" height="10.71" fill="#45085a"/>
<rect x="444.37" y="408.30" width="10.74" height="10.71" fill="#45085a"/>
<rect x="455.06" y="408.30" width="10.74" height="10.71" fill="#45085a"/>
<rect x="465.75" y="408.30" width="10.74" height="10.71" fill="#423d83"/>
<rect x="476.44" y="408.30" width="10.74" height="10.71" fill="#45085a"/>
<rect x="487.13" y="408.30" width="10.74" height="10.71" fill="#45085a"/>
<rect x="497.82" y="408.30" width="10.74" height="10.71" fill="#45085a"/>
<rect x="508.51" y="408.30" width="10.74" height="10.71" fill="#45085a"/>
<rect x="412.30" y="418.96" width="10.74" height="10.71" fill="#45085a"/>
<rect x="422.99" y="418.96" width="10.74" height="10.71" fill="#45085a"/>
<rect x="433.68" y="418.96" width="10.74" height="10.71" fill="#45085a"/>
<rect x="444.37" y="418.96" width="10.74" height="10.71" fill="#45085a"/>
<rect x="455.06" y="418.96" width="10.74" height="10.71" fill="#45085a"/>
<rect x="465.75" y="418.96" width="10.74" height="10.71" fill="#43367f"/>
<rect x="476.44" y="418.96" width="10.74" height="10.71" fill="#45085a"/>
<rect x="487.13" y="418.96" width="10.74" height="10.71" fill="#45085a"/>
<rect x="497.82" y="418.96" width="10.74" height="10.71" fill="#45085a"/>
<rect x="508.51" y="418.96" width="10.74" height="10.71" fill="#45085a"/>
<rect x="412.30" y="429.62" width="10.74" height="10.71" fill="#45085a"/>
<rect x="422.99" y="429.62" width="10.74" height="10.71" fill="#45085a"/>
<rect x="433.68" y="429.62" width="10.74" height="10.71" fill="#45085a"/>
<rect x="444.37" y="429.62" width="10.74" height="10.71" fill="#45085a"/>
<rect x="455.06" y="429.62" width="10.74" height="10.71" fill="#45085a"/>
<rect x="465.75" y="429.62" width="10.74" height="10.71" fill="#45085a"/>
<rect x="476.44" y="429.62" width="10.74" height="10.71" fill="#fde725"/>
<rect x="487.13" y="429.62" width="10.74" height="10.71" fill="#45085a"/>
<rect x="497.82" y="429.62" width="10.74" height="10.71" fill="#45085a"/>
<rect x="508.51" y="429.62" width="10.74" height="10.71" fill="#45085a"/>
<rect x="412.30" y="440.28" width="10.74" height="10.71" fill="#45085a"/>
<rect x="422.99" y="440.28" width="10.74" height="10.71" fill="#45085a"/>
<rect x="433.68" y="440.28" width="10.74" height="10.71" fill="#45085a"/>
<rect x="444.37" y="440.28" width="10.74" height="10.71" fill="#45085a"/>
<rect x="455.06" y="440.28" width="10.74" height="10.71" fill="#45085a"/>
<rect x="465.75" y="440.28" width="10.74" height="10.71" fill="#45085a"/>
<rect x="476.44" y="440.28" width="10.74" height="10.71" fill="#45085a"/>
<rect x="487.13" y="440.28" width="10.74" height="10.71" fill="#fde725"/>
<rect x="497.82" y="440.28" width="10.74" height="10.71" fill="#45085a"/>
<rect x="508.51" y="440.28" width="10.74" height="10.71" fill="#45085a"/>
<rect x="412.30" y="450.94" width="10.74" height="10.71" fill="#45085a"/>
<rect x="422.99" y="450.94" width="10.74" height="10.71" fill="#45085a"/>
<rect x="433.68" y="450.94" width="10.74" height="10.71" fill="#45085a"/>
<rect x="444.37" y="450.94" width="10.74" height="10.71" fill="#45085a"/>
<rect x="455.06" y="450.94" width="10.74" height="10.71" fill="#45085a"/>
<rect x="465.75" y="450.94" width="10.74" height="10.71" fill="#45085a"/>
<rect x="476.44" y="450.94" width="10.74" height="10.71" fill="#45085a"/>
<rect x="487.13" y="450.94" width="10.74" height="10.71" fill="#45085a"/>
<rect x="497.82" y="450.94" width="10.74" height="10.71" fill="#20908c"/>
<rect x="508.51" y="450.94" width="10.74" height="10.71" fill="#45085a"/>
<rect x="412.30" y="461.60" width="10.74" height="10.71" fill="#45085a"/>
<rect x="422.99" y="461.60" width="10.74" height="10.71" fill="#45085a"/>
<rect x="433.68" y="461.60" width="10.74" height="10.71" fill="#45085a"/>
<rect x="444.37" y="461.60" width="10.74" height="10.71" fill="#45085a"/>
<rect x="455.06" y="461.60" width="10.74" height="10.71" fill="#45085a"/>
<rect x="465.75" y="461.60" width="10.74" height="10.71" fill="#45085a"/>
<rect x="476.44" y="461.60" width="10.74" height="10.71" fill="#45085a"/>
<rect x="487.13" y="461.60" width="10.74" height="10.71" fill="#45085a"/>
<rect x="497.82" y="461.60" width="10.74" height="10.71" fill="#22a286"/>
<rect x="508.51" y="461.60" width="10.74" height="10.71" fill="#3a508a"/>
<rect x="412.30" y="472.26" width="10.74" height="10.71" fill="#45085a"/>
<rect x="422.99" y="472.26" width="10.74" height="10.71" fill="#45085a"/>
<rect x="433.68" y="472.26" width="10.74" height="10.71" fill="#45085a"/>
<rect x="444.37" y="472.26" width="10.74" height="10.71" fill="#45085a"/>
<rect x="455.06" y="472.26" width="10.74" height="10.71" fill="#45085a"/>
<rect x="465.75" y="472.26" width="10.74" height="10.71" fill="#45085a"/>
<rect x="476.44" y="472.26" width="10.74" height="10.71" fill="#45085a"/>
<rect x="487.13" y="472.26" width="10.74" height="10.71" fill="#45085a"/>
<rect x="497.82" y="472.26" width="10.74" height="10.71" fill="#45085a"/>
<rect x="508.51" y="472.26" width="10.74" height="10.71" fill="#fde725"/>
<path d="M422.99 355.00V482.92M433.68 355.00V482.92M444.37 355.00V482.92M455.06 355.00V482.92M465.75 355.00V482.92M476.44 355.00V482.92M487.13 355.00V482.92M497.82 355.00V482.92M508.51 355.00V482.92M412.30 365.66H519.20M412.30 376.32H519.20M412.30 386.98H519.20M412.30 397.64H519.20M412.30 408.30H519.20M412.30 418.96H519.20M412.30 429.62H519.20M412.30 440.28H519.20M412.30 450.94H519.20M412.30 461.60H519.20M412.30 472.26H519.20" stroke="#000" stroke-opacity="0.12" stroke-width="0.4" fill="none"/>
<line x1="335.56" y1="355.00" x2="335.56" y2="397.64" stroke="#fff" stroke-width="0.5" stroke-opacity="0.75"/>
<line x1="335.56" y1="397.64" x2="409.90" y2="397.64" stroke="#fff" stroke-width="0.5" stroke-opacity="0.75"/>
<line x1="412.30" y1="397.64" x2="519.20" y2="397.64" stroke="#fff" stroke-width="0.5" stroke-opacity="0.75"/>
<line x1="346.18" y1="355.00" x2="346.18" y2="408.30" stroke="#fff" stroke-width="0.5" stroke-opacity="0.75"/>
<line x1="346.18" y1="408.30" x2="409.90" y2="408.30" stroke="#fff" stroke-width="0.5" stroke-opacity="0.75"/>
<line x1="412.30" y1="408.30" x2="519.20" y2="408.30" stroke="#fff" stroke-width="0.5" stroke-opacity="0.75"/>
<line x1="356.80" y1="355.00" x2="356.80" y2="418.96" stroke="#fff" stroke-width="0.5" stroke-opacity="0.75"/>
<line x1="356.80" y1="418.96" x2="409.90" y2="418.96" stroke="#fff" stroke-width="0.5" stroke-opacity="0.75"/>
<line x1="412.30" y1="418.96" x2="519.20" y2="418.96" stroke="#fff" stroke-width="0.5" stroke-opacity="0.75"/>
<line x1="367.42" y1="355.00" x2="367.42" y2="429.62" stroke="#fff" stroke-width="0.5" stroke-opacity="0.75"/>
<line x1="367.42" y1="429.62" x2="409.90" y2="429.62" stroke="#fff" stroke-width="0.5" stroke-opacity="0.75"/>
<line x1="412.30" y1="429.62" x2="519.20" y2="429.62" stroke="#fff" stroke-width="0.5" stroke-opacity="0.75"/>
<rect x="288.80" y="355.00" width="14.20" height="10.71" fill="#df7a2a"/>
<rect x="519.60" y="355.00" width="14.20" height="10.71" fill="#df7a2a"/>
<text x="295.90" y="362.60" font-size="6.3" text-anchor="middle" fill="#222">C0</text>
<text x="526.70" y="362.60" font-size="6.3" text-anchor="middle" fill="#222">C0</text>
<rect x="288.80" y="365.66" width="14.20" height="10.71" fill="#e0812f"/>
<rect x="519.60" y="365.66" width="14.20" height="10.71" fill="#e0812f"/>
<text x="295.90" y="373.26" font-size="6.3" text-anchor="middle" fill="#222">C1</text>
<text x="526.70" y="373.26" font-size="6.3" text-anchor="middle" fill="#222">C1</text>
<rect x="288.80" y="376.32" width="14.20" height="10.71" fill="#c9b5a5"/>
<rect x="519.60" y="376.32" width="14.20" height="10.71" fill="#c9b5a5"/>
<text x="295.90" y="383.92" font-size="6.3" text-anchor="middle" fill="#222">C2</text>
<text x="526.70" y="383.92" font-size="6.3" text-anchor="middle" fill="#222">C2</text>
<rect x="288.80" y="386.98" width="14.20" height="10.71" fill="#abbcab"/>
<rect x="519.60" y="386.98" width="14.20" height="10.71" fill="#abbcab"/>
<text x="295.90" y="394.58" font-size="6.3" text-anchor="middle" fill="#222">C3</text>
<text x="526.70" y="394.58" font-size="6.3" text-anchor="middle" fill="#222">C3</text>
<rect x="288.80" y="397.64" width="14.20" height="10.71" fill="#2f9142"/>
<rect x="519.60" y="397.64" width="14.20" height="10.71" fill="#2f9142"/>
<text x="295.90" y="405.24" font-size="6.3" text-anchor="middle" fill="#222">C4</text>
<text x="526.70" y="405.24" font-size="6.3" text-anchor="middle" fill="#222">C4</text>
<rect x="288.80" y="408.30" width="14.20" height="10.71" fill="#319244"/>
<rect x="519.60" y="408.30" width="14.20" height="10.71" fill="#319244"/>
<text x="295.90" y="415.90" font-size="6.3" text-anchor="middle" fill="#222">C5</text>
<text x="526.70" y="415.90" font-size="6.3" text-anchor="middle" fill="#222">C5</text>
<rect x="288.80" y="418.96" width="14.20" height="10.71" fill="#7aa98a"/>
<rect x="519.60" y="418.96" width="14.20" height="10.71" fill="#7aa98a"/>
<text x="295.90" y="426.56" font-size="6.3" text-anchor="middle" fill="#222">C6</text>
<text x="526.70" y="426.56" font-size="6.3" text-anchor="middle" fill="#222">C6</text>
<rect x="288.80" y="429.62" width="14.20" height="10.71" fill="#b1bdb1"/>
<rect x="519.60" y="429.62" width="14.20" height="10.71" fill="#b1bdb1"/>
<text x="295.90" y="437.22" font-size="6.3" text-anchor="middle" fill="#222">C7</text>
<text x="526.70" y="437.22" font-size="6.3" text-anchor="middle" fill="#222">C7</text>
<rect x="288.80" y="440.28" width="14.20" height="10.71" fill="#c9ad99"/>
<rect x="519.60" y="440.28" width="14.20" height="10.71" fill="#c9ad99"/>
<text x="295.90" y="447.88" font-size="6.3" text-anchor="middle" fill="#222">C8</text>
<text x="526.70" y="447.88" font-size="6.3" text-anchor="middle" fill="#222">C8</text>
<rect x="288.80" y="450.94" width="14.20" height="10.71" fill="#c9b9ad"/>
<rect x="519.60" y="450.94" width="14.20" height="10.71" fill="#c9b9ad"/>
<text x="295.90" y="458.54" font-size="6.3" text-anchor="middle" fill="#222">C9</text>
<text x="526.70" y="458.54" font-size="6.3" text-anchor="middle" fill="#222">C9</text>
<rect x="288.80" y="461.60" width="14.20" height="10.71" fill="#9ab5a2"/>
<rect x="519.60" y="461.60" width="14.20" height="10.71" fill="#9ab5a2"/>
<text x="295.90" y="469.20" font-size="6.3" text-anchor="middle" fill="#222">C10</text>
<text x="526.70" y="469.20" font-size="6.3" text-anchor="middle" fill="#222">C10</text>
<rect x="288.80" y="472.26" width="14.20" height="10.71" fill="#c1a18d"/>
<rect x="519.60" y="472.26" width="14.20" height="10.71" fill="#c1a18d"/>
<text x="295.90" y="479.86" font-size="6.3" text-anchor="middle" fill="#222">C11</text>
<text x="526.70" y="479.86" font-size="6.3" text-anchor="middle" fill="#222">C11</text>
<text x="281.20" y="427.52" font-size="7" text-anchor="middle" fill="#333" transform="rotate(-90 281.20 425.00)">Combined clusters</text>
<line x1="285.30" y1="368.40" x2="285.30" y2="469.40" stroke="#555" stroke-width="0.5"/>
<text x="543.80" y="416.52" font-size="7" text-anchor="middle" fill="#333" transform="rotate(90 543.80 414.00)">Human enriched</text>
<path d="M535.5,394 C538.5,393 538,387 540.5,386 M535.5,434 C538.5,435 538,441 540.5,442" fill="none" stroke="#3a9a48" stroke-width="0.6"/>
<text x="476.00" y="327.02" font-size="7" text-anchor="middle" fill="#222">Mouse</text>
<text x="513.10" y="327.02" font-size="7" text-anchor="middle" fill="#222">Human</text>
<line x1="479.00" y1="329.00" x2="491.00" y2="329.00" stroke="#8090b0" stroke-width="0.5"/>
<line x1="496.00" y1="329.00" x2="509.00" y2="329.00" stroke="#8090b0" stroke-width="0.5"/>
<defs><linearGradient id="enr"><stop offset="0" stop-color="#e07a2a"/><stop offset="0.5" stop-color="#c9c2bb"/><stop offset="1" stop-color="#2e8f42"/></linearGradient></defs>
<rect x="477.2" y="331.8" width="33.2" height="4.1" fill="url(#enr)"/>
<text x="494.80" y="343.92" font-size="7" text-anchor="middle" fill="#222">Enrichment</text>
<text x="0.30" y="360.00" font-size="10" text-anchor="start" fill="#000" font-weight="bold">e</text>
<path d="M7.1,393 V373.7 Q7.1,362.2 18.6,362.2 H110.5 M150.8,362.2 H238 Q249.5,362.2 249.5,373.7 V456.5 Q249.5,468 238,468 H80.2" fill="none" stroke="#7c7c7c" stroke-width="0.8"/>
<text x="130.70" y="364.59" font-size="7.2" text-anchor="middle" fill="#222">Combined</text>
<text x="8.00" y="414.08" font-size="6.6" text-anchor="middle" fill="#333" transform="rotate(-90 8.00 411.70)">UMAP2</text>
<line x1="8.40" y1="467.60" x2="8.40" y2="431.00" stroke="#56637e" stroke-width="0.8"/>
<path d="M7.1,431.5 L8.4,429 L9.7,431.5z" fill="#56637e"/>
<line x1="8.40" y1="467.60" x2="46.50" y2="467.60" stroke="#56637e" stroke-width="0.8"/>
<path d="M46,466.3 L48.5,467.6 L46,468.9z" fill="#56637e"/>
<text x="52.20" y="470.18" font-size="6.6" text-anchor="start" fill="#333">UMAP1</text>
<path d="M38.8 373.6h1m-1.1.1h1m.1.6h1m-2.3.2h1m-.9 0h1m-.6 0h1m-1.9.2h1m.8.1h1m-.7.1h1m-.8 0h1m-9.6.1h1m5.5.3h1m-7.6.1h1m.3 0h1m-4.4.3h1m-1.8.1h1m3.3.1h1m-.4 0h1m10 0h1m-11.3.1h1m-1.1.1h1m3.2.2h1m-10.8.1h1m0 0h1m3.1 0h1m-.9 0h1m-4.9.2h1m8.3 0h1m-10.2.2h1m13.5 0h1m-17.1.1h1m4.1 0h1m2.8 0h1m3.3 0h1m-.1 0h1m-11.3.2h1m4.1 0h1m-9 .1h1m-.4.1h1m13.7 0h1m-2.8.1h1m1.5 0h1m-14.1.2h1m3.6 0h1m3 0h1m-10.4.1h1m5.7 0h1m7.1 0h1m-17.8.3h1m2.4 0h1m11.8 0h1m-8.1.1h1m-1.3.1h1m0 0h1m4.2.2h1m-9.8.1h1m6.3 0h1m-13.2.1h1m3.1.1h1m9.5.1h1m-16.8.1h1m5.8 0h1m-3.6.1h1m5.4 0h1m-10.7.1h1m1.2.2h1m1.4.1h1m4.2.1h1m4 0h1m-6.3.1h1m-3.4.1h1m6.2 0h1m-9.1.1h1m5 0h1m-.3.1h1m.8 0h1m-3.9.1h1m.8 0h1m-2.8.1h1m-14.1.2h1m-.2 0h1m.4 0h1m6.7 0h1m6.9 0h1m-13.5.1h1m.5 0h1m-8.3.1h1m4.6 0h1m-.3.1h1m-.9 0h1m6.4.1h1m1.2 0h1m-15.9.1h1m15.7 0h1m-15.1.1h1m5 0h1m6.2 0h1m-10.6.1h1m.6 0h1m-5.8.1h1m.4 0h1m-6.5.1h1m13.8 0h1m.7 0h1m-.4 0h1m-3.4.3h1m-6.6.1h1m4.3 0h1m-.9 0h1m-.5 0h1m-10.7.1h1m-2.9.1h1m2.2 0h1m5.7 0h1m-14.1.1h1m.5 0h1m11 0h1m-3.9.1h1m-10.1.1h1m-.4 0h1m11.8 0h1m.4.1h1m-14.4.1h1m.5 0h1m3.3 0h1m3.7 0h1m-13.6.1h1m1.4 0h1m.8.1h1m1.1 0h1m2.4 0h1m6 0h1m-4.1.1h1m2.5 0h1m-3.5.1h1m-15.6.1h1m10.7.1h1m-6.1.1h1m4.2 0h1m2.6.1h1m-8.3.1h1m-5.6.1h1m-.8 0h1m11.3.1h1m-9.5.1h1m-7.1.1h1m1.2 0h1m-5.5.1h1m1.4 0h1m11.9.1h1m-10.2.1h1m.3.1h1m2.5 0h1m-11.4.1h1m-.9 0h1m11.5 0h1m-.3 0h1m-14.6.2h1m12.3 0h1m-6.5.2h1m.2 0h1m-6.3.1h1m-1.4.1h1m8.3 0h1m2.3 0h1m-14.2.1h1m2.3 0h1m3.6 0h1m1.7 0h1m-6.5.2h1m.5 0h1m3.9 0h1m-7.8.1h1m.3 0h1m-.9 0h1m-6.3.1h1m-.3 0h1m5 .1h1m-3 .1h1m.3 0h1m.3 0h1m1.9 0h1m-12.4.1h1m9.7 0h1m-2.9.1h1m-5.8.1h1m4 0h1m-7 .1h1m4 0h1m-11.4.1h1m1.7 0h1m-.8 0h1m-.4 0h1m-2.2.1h1m7.3 0h1m-4.4.1h1m2.8.1h1m-9.1.1h1m3.2 0h1m-.3.3h1m.2 0h1m1.3.2h1m-6.4.1h1m1.5 0h1m-9 .1h1m5.7.2h1m-3.7.1h1m2.4 0h1m-3.5.1h1m4.1 0h1m-.6 0h1m.4.2h1m-.7 0h1m-6.4.2h1m-7.2.1h1m7.3 0h1m1 0h1m-2.7.1h1m.2 0h1m-11.1.2h1m8.4 0h1m.3 0h1m-4 .2h1m3.6.1h1m-9.5.1h1m5.5 0h1m-11.2.2h1m1.1 0h1m.3.1h1m-3.5.1h1m6.8 0h1m-.6 0h1m-.9 0h1m-8 .2h1m6.6 0h1m-4 .1h1m-1.5.1h1m-.7.1h1m-3.9.3h1m3 .1h1m-6.8.1h1m2.7.2h1m2.9.3h1m-7 .1h1m.7.3h1m-5.4.1h1m.7.2h1m2.3.3h1m1.8.1h1m-7.4.4h1m-1.7.3h1m4.1.1h1m1.9 0h1m-4.5.1h1m-.5 0h1m-3.5.1h1m-3.8.2h1m6.7.3h1m-3.8.1h1m-.6 0h1m.1 0h1m-.5 0h1m-4.9.3h1m1.2.1h1m-4.6.1h1m0 .3h1m3.8.5h1m-6.3.1h1m-.1 1.6h1m1.8 1h1" stroke="#a6a54e" stroke-width="1" fill="none"/>
<path d="M67 372.9h1m-4.7.4h1m4.4.1h1m-10.7.5h1m-1.6.1h1m10.2 0h1m1 .1h1m-10.7.1h1m.4 0h1m.4 0h1m-9 .1h1m4.9 0h1m3 0h1m-4.8.1h1m-3.2.1h1m.8 0h1m-5.7.1h1m11.5 0h1m-13.3.1h1m9.8 0h1m-.2 0h1m-11.6.1h1m13.6 0h1m-15.2.1h1m4.2 0h1m5.4 0h1m-13 .1h1m-.3 0h1m-4.6.1h1m6.2 0h1m7.6 0h1m-19.2.1h1m11 0h1m-10.8.1h1m2.2.1h1m.1 0h1m-3.6.2h1m2.9 0h1m6.2 0h1m1.5 0h1m1.6 0h1m-10.8.1h1m.5 0h1m-.8 0h1m-10.1.1h1m-4.7.1h1m-.1 0h1m7.3 0h1m-10.8.1h1m8.5 0h1m6.5 0h1m-13.7.1h1m12.4 0h1m2.5 0h1m.2 0h1m-23.1.1h1m5.1 0h1m0 .1h1m8.1 0h1m4.3 0h1m-17.8.1h1m8.1 0h1m6.7 0h1m-22.8.1h1m16.1 0h1m0 0h1m3.6 0h1m-23.7.1h1m1.2 0h1m3 0h1m13.1 0h1m-21.2.1h1m.3 0h1m2.3 0h1m10 0h1m5.6 0h1m-17 .1h1m.8 0h1m9.9 0h1m-19.2.1h1m6.9 0h1m-8.7.1h1m9.5 0h1m1 0h1m5.8 0h1m.7 0h1m-8.5.1h1m7.4 0h1m.1 0h1m-26.3.1h1m16.7 0h1m1.7 0h1m2.9 0h1m-15.1.1h1m-3.4.1h1m2.5 0h1m1.2 0h1m-.9 0h1m7.7 0h1m-.2 0h1m-16.8.2h1m14.7 0h1m-19.9.1h1m-.9 0h1m-6 .1h1m12.9 0h1m5.5 0h1m1.1 0h1m-.5 0h1m-23.5.1h1m.5 0h1m-.4 0h1m14.5 0h1m4.2.1h1m-24.8.1h1m.2 0h1m10 0h1m3.5 0h1m4.8 0h1m0 0h1m-24.2.1h1m-2.4.1h1m10.2 0h1m-9.7.1h1m8.1 0h1m1.4 0h1m2.7 0h1m-.9 0h1m7.3 0h1m-.5 0h1m-.8 0h1m-4.8.1h1m3.4 0h1m-27.6.1h1m2.9 0h1m2.2 0h1m7.4 0h1m-.5 0h1m-.6 0h1m1.9 0h1m-12.2.1h1m.9 0h1m-7.7.1h1m-.9 0h1m2.7 0h1m-.8 0h1m8.1 0h1m-.8 0h1m-3.5.1h1m-11.7.1h1m3.2 0h1m2.9 0h1m.3 0h1m-2.9.1h1m1.9 0h1m10.1 0h1m-25 .1h1m1.2 0h1m7.8 0h1m2.6 0h1m-.2 0h1m-.7 0h1m-18.2.1h1m-.7 0h1m5.6 0h1m.6 0h1m1.3 0h1m4.3 0h1m3.1 0h1m-11 .1h1m10 0h1m2.3 0h1m-1 0h1m0 0h1m-25.2.1h1m7.6.1h1m3 0h1m-14.5.1h1m24.9 0h1m-18.3.1h1m.2.1h1m10.9 0h1m-11.8.1h1m-9.1.1h1m18.5.1h1m-1.5.1h1m-.5 0h1m-19.8.1h1m4.5 0h1m.8 0h1m-10.5.1h1m-.3 0h1m3.6 0h1m-1.3.1h1m.7 0h1m16.4 0h1m-28.5.1h1m-.7.2h1m5 0h1m-7.8.1h1m0 0h1m8.6 0h1m-9 .2h1m.7 0h1m-1.8.1h1m.5.1h1m-3.2.1h1m-.3.1h1m-3.9.1h1m-1 0h1m3.7.1h1m2.9 0h1m-10.1.1h1m-1.5.1h1m2 0h1m4.3 0h1m-.5 0h1m-10 .3h1m6 0h1m-3.1.2h1m2.1 0h1m-1.6.3h1m-10.1.1h1m7.5 0h1m-6.3.1h1m-.8 0h1m1.6.1h1m3 .1h1m-11.3.2h1m3 0h1m3.5 0h1m-9 .3h1m7.7 0h1m-8.7.1h1m5.7 0h1m.3 0h1m-9.5.1h1m6.3 0h1m-5.6.1h1m.5 0h1m.7.2h1m-1 0h1m-8.2.2h1m-1.2.1h1m1.8 0h1m2.9.6h1m-7.4.2h1m.1 0h1m-.1 0h1m.2.2h1m-3.4.2h1m3.7.1h1m-4.1.1h1m2.9.2h1m-1.4.3h1m-2.3.1h1m1.3.5h1m-2.3.1h1m-1.8.3h1m-2.3.3h1" stroke="#a33b6e" stroke-width="1" fill="none"/>
<path d="M75.7 375.5h1m.2.2h1m3.6.3h1m-3.1.1h1m-4.8.1h1m-.4 0h1m-1.5.1h1m3.4 0h1m1.9.1h1m-.4 0h1m-.4.1h1m-9.7.1h1m8.2 0h1m-2 .2h1m-1 0h1m-5.8.1h1m-.7 0h1m1.9 0h1m2.7.2h1m1.4.1h1m-12 .1h1m10 0h1m-5.5.1h1m-6.8.2h1m7.8 0h1m-9.3.2h1m8.1 0h1m-7.1.1h1m6.6 0h1m-10 .1h1m2.7.2h1m4.4 0h1m-2.8.1h1m-10.2.1h1m13.4 0h1m-14 .1h1m7 0h1m-13.2.1h1m15.3 0h1m-13.2.1h1m-.1 0h1m1.2 0h1m2.7 0h1m2.4 0h1m1.1.1h1m-12.8.1h1m7.4 0h1m.6 0h1m1.2 0h1m-12.3.1h1m8.1 0h1m-13.2.1h1m1.9 0h1m5.3 0h1m-.7 0h1m5.5 0h1m-.2 0h1m-17.5.1h1m1 0h1m2.4.1h1m6 0h1m-2.7.1h1m3.5 0h1m-1.1.1h1m-18.7.1h1m4.6 0h1m9.8 0h1m.7 0h1m-9.1.1h1m.7 0h1m3.8.1h1m-16.6.2h1m10.8 0h1m2.2 0h1m-14.4.1h1m3 0h1m.2 0h1m-.2 0h1m8.3 0h1m-6.3.1h1m-8.5.3h1m2.4 0h1m4.3 0h1m4.8 0h1m1.4 0h1m-17.5.2h1m-4.6.2h1m5 0h1m3.7 0h1m-.3 0h1m-4.7.1h1m-.5 0h1m3.5 0h1m-6.3.1h1m5.9 0h1m-14.4.1h1m10.3 0h1m-.5 0h1m-15.1.1h1m11.7 0h1m.2 0h1m2.6.1h1m-9.2.1h1m-3.5.1h1m2.7 0h1m12.3 0h1m-10.4.2h1m-.7 0h1m5.8 0h1m-15.4.1h1m2.6 0h1m8.2 0h1m-10.9.1h1m2 0h1m-.4 0h1m4.2 0h1m1.8 0h1m-.2 0h1m-14.6.1h1m1.4.1h1m-.2.2h1m9.5 0h1m.3 0h1m-.5 0h1m-12.3.1h1m4 0h1m3.5.1h1m-1 .1h1m-.9 0h1m1.9 0h1m-3.5.1h1m.2 0h1m-10.8.1h1m-.5 0h1m8.6 0h1m-8.4.1h1m4.6 0h1m-4.8.1h1m4.4.1h1m-9.7.4h1m1.5 0h1m1.3.1h1m2 .1h1m-1.4.1h1m-.7 0h1m-.9.4h1m-2.7.1h1m-1.2.1h1m-.1 0h1m-1.9.3h1m1.1.4h1m-.3 0h1m-1.1.1h1m-5.4.1h1m1.8 0h1m-2.6.1h1m2.2 0h1m-3 .4h1m.6 0h1m-1.3.7h1" stroke="#5b3432" stroke-width="1" fill="none"/>
<path d="M100.7 384.1h1m-1.2.3h1m-1.4.2h1m2.2 0h1m-.1.1h1m-5.3.3h1m.7.2h1m.4.2h1m-.6.1h1m.7 0h1m-6 .6h1m0 0h1m1 0h1m-4.9.1h1m5.6 0h1m-5.9.1h1m3.8.2h1m-1.5.1h1m-4 .3h1m-4.1.3h1m5 0h1m-.4.1h1m.1 0h1m-7.2.4h1m-.8.1h1m6.2 0h1m-2.3.1h1m-.2.1h1m-.4 0h1m-4.2.4h1m-2.1.1h1m-1.6.2h1m4.3 0h1m-1.1.3h1m-.6 0h1m-7.3.3h1m5.8.1h1m-2 .1h1m-2.9.3h1m-.9 0h1m1.4.1h1m-6.2.1h1m2.5.1h1m-4.2.1h1m-1.6.3h1m3.4 0h1m.2 0h1m-1.5.2h1m1.7.2h1m-7.8.1h1m1.7.2h1m-2.2.1h1m1 0h1m-2.7.1h1m4.7.4h1m-7.5.1h1m2.8 0h1m-2.7.3h1m1.2 0h1m-1 .1h1m-1.8.1h1m2 .2h1m-2 .1h1m-2.1.5h1m-1.8.2h1m-1 0h1m1.9.1h1m-2.3.1h1m.4 0h1m-5.1.5h1m5 .1h1m-4.3.3h1m.1.1h1m-.1 0h1m-.2 0h1m-4.4.1h1m-.2 0h1m2.1.1h1m-4.7.1h1m-.8.4h1m1.6 0h1m-2 .3h1m1.1.4h1m-5.3.2h1m3.3 0h1m-5.1.1h1m-.5.1h1m.9 0h1m-2.4.1h1m2.2 0h1m.2.1h1m-5.8.3h1m.3.5h1m4 .1h1m-1.5.1h1m-2.5.2h1m-.9.4h1m-1 0h1m1.6.2h1m-3.7.2h1m1.6 0h1m-4.5.4h1m-1.7.2h1m1.3 0h1m-2.6.2h1m2.9.2h1m-4 .1h1m.2.2h1m1.1.3h1m-1.6.3h1m-.2.4h1m-1.5.6h1m-2.9.1h1m-1.4.3h1m-1 .1h1m1 0h1m-2.9.2h1m-.4.1h1m1 .1h1m-2.7.3h1m3.2.1h1m-4.2.1h1m-.4 0h1m1.5 0h1m-2.3.2h1m-3.3.1h1m1.8.1h1m-1.7.7h1m-1.4.1h1m-1.4.4h1" stroke="#7aa7d8" stroke-width="1" fill="none"/>
<path d="M120.4 401h1m-.9.3h1m-1.8.1h1m-.7.6h1m-2.8.7h1m-1.5.5h1m1.4.2h1m-3.7.2h1m4.5.2h1m-6.1.1h1m1.6.1h1m.6 0h1m-2.7.1h1m0 .2h1m.8.2h1m-.8 0h1m-5.8.2h1m-.8 0h1m-.4.2h1m-3.6.1h1m1.6.1h1m.6.1h1m1.5 0h1m-.1.1h1m-5.9.1h1m.5 0h1m-2.2.2h1m1.1.1h1m-.1.1h1m-4.9.1h1m6.5.4h1m-8.8.1h1m5.6 0h1m-.2.1h1m-8.2.1h1m3.3.2h1m2 .2h1m-1.7.2h1m.4 0h1m-5.3.2h1m1.7.1h1m-1.9.3h1m.7 0h1m-5.9.1h1m5.3 0h1m-.7 0h1m-6.1.2h1m.3 0h1m.2 0h1m0 0h1m-.1 0h1m-.7 0h1m-6.3.1h1m1 .1h1m3.3.1h1m-4.7.1h1m-.6.1h1m1.9 0h1m-7 .1h1m-.5.1h1m4.7 0h1m-.2.1h1m-4.5.4h1m-1.8.2h1m1.6.2h1m-2.8.1h1m-.6 0h1m-.9.1h1m-1.6.1h1m-1.1.3h1m-.4.1h1m.4 0h1m-2.9.6h1m-.4.3h1m-1.3.4h1" stroke="#a4a4a4" stroke-width="1" fill="none"/>
<path d="M47 382.3h1m-4 1.1h1m1.4.6h1m.3.3h1m-.5.2h1m-7.3.4h1m1.9 0h1m1.5.2h1m-4.1.1h1m1.8.4h1m-4.4.1h1m1.3.2h1m-.6.1h1m-.9.2h1m-.8.1h1m-.8.4h1m-2.5.1h1m2.3.1h1m-3.9.1h1m-.1.1h1m-.3.1h1m-.1.3h1m-.4.1h1m-2.5.2h1m-.9.2h1m-2 .1h1m1.5.1h1m-7 .2h1m.7 0h1m-3.6.1h1m1.2 0h1m-.6 0h1m.7.3h1m-3.6.1h1m1 0h1m-6.5.1h1m2.9.1h1m1.2.3h1m-3.6.2h1m2.4.1h1m-.2 0h1m-3 .1h1m.8 0h1m.9 0h1m-8 .1h1m5.3 0h1m-1.5.6h1m.2 0h1m-9.5.1h1m-.6.1h1m6.9.2h1m-4.5.1h1m-5.2.1h1m3.7 0h1m-6.9.4h1m2.4 0h1m4.8 0h1m-3.3.1h1m-.3 0h1m-10.3.2h1m7.9 0h1m-2.2.1h1m-7.3.1h1m.7 0h1m3.1 0h1m2.9 0h1m-1 .1h1m-2.8.2h1m.2 0h1m-1.8.1h1m-1.7.1h1m-9.7.2h1m-.9 0h1m5.8 0h1m-5.2.1h1m6.2 0h1m-7.8.1h1m-3.6.1h1m4.4.2h1m-3.7.1h1m4.7.3h1m1.4.1h1m-11.5.1h1m7 0h1m-8.2.5h1m2.6 0h1m.1 0h1m4.3 0h1m-2.6.1h1m-1.4.1h1m-9.6.1h1m.3.1h1m3.8 0h1m.7 0h1m1.4 0h1m-8.3.2h1m-.8 0h1m2 0h1m1.1 0h1m-11.3.1h1m2.5 0h1m6.4 0h1m-10.6.1h1m5.3.1h1m-.1 0h1m-.1 0h1m2.3 0h1m-11.5.3h1m-.3 0h1m2.9.1h1m1.9 0h1m-.4.2h1m-3.3.4h1m1.2 0h1m-7.3.1h1m6.5 0h1m-9.5.1h1m.4 0h1m4.6 0h1m-7.2.1h1m3.3.1h1m-1.7.1h1m3.5 0h1m-6.7.1h1m1.2.5h1m3.6 0h1m-5.9.1h1m-6.9.1h1m7.3 0h1m-6.2.1h1m.1 0h1m.7 0h1m-7.3.2h1m.1 0h1m8 0h1m-9.1.1h1m1.1 0h1m3.3 0h1m-9.1.1h1m2.5 0h1m3.8 0h1m-1.6.1h1m-6.3.3h1m2.4 0h1m-7 .1h1m4.3 0h1m-.7.1h1m1.6 0h1m-.2 0h1m-4.9.2h1m-.9 0h1m-4.9.1h1m6.9 0h1m1.4.1h1m-2.5.1h1m-.4 0h1m-8.4.1h1m1.4 0h1m4 0h1m-10.6.1h1m8.4 0h1m-4.5.2h1m-3.5.1h1m-4.4.1h1m-.1.1h1m.9.1h1m-5.6.2h1m2.2 0h1m2.2 0h1m5 .1h1m-4.5.1h1m-2.8.1h1m1.9 0h1m0 0h1m-3.9.1h1m-4.6.1h1m2.3 0h1m-6.7.1h1m-.5 0h1m.6.2h1m2.3 0h1m2.6.3h1m-12.6.2h1m12.2.1h1m-12.3.1h1m4.8 0h1m-1 .1h1m3.1.1h1m-7.1.1h1m.3.1h1m-.9 0h1m-.8 0h1m1.5 0h1m2.2 0h1m-.9 0h1m-8.1.1h1m-2.7.2h1m.6 0h1m-.3.1h1m-3.9.2h1m3.7 0h1m-6.5.2h1m2 0h1m-4.6.1h1m9.9 0h1m-8.6.3h1m0 .1h1m4.7 0h1m-11.4.1h1m7.1.2h1m-4.1.2h1m3.3.1h1m-4.6.1h1m-.3 0h1m-7.5.1h1m1 0h1m.5 0h1m1.5.1h1m3.2.3h1m-6.9.1h1m-4 .1h1m1.9.3h1m2.4.1h1m4 0h1m-10.7.1h1m1.4 0h1m2.8 0h1m-12.4.1h1m6.3 0h1m2.3.1h1m.4 0h1m-2.6.2h1m-3.3.1h1m-.3 0h1m-.5 0h1m-8.2.2h1m8.2.2h1m.1.1h1m-6.2.1h1m-.4.1h1m.1 0h1m-.3 0h1m2.3 0h1m-7.7.1h1m5 0h1m-4.3.1h1m-6.4.1h1m.4 0h1m2.5 0h1m-5 .2h1m6.6.1h1m-6.6.2h1m-.4 0h1m.8.1h1m2.7 0h1m.9 0h1m-6.5.2h1m-4.3.1h1m3.8 0h1m-5.6.1h1m8.2 0h1m-12.1.2h1m2.9 0h1m-.8.1h1m-.4.2h1m5.3 0h1m-6.2.1h1m-6.9.2h1m8.9 0h1m-10.6.2h1m8.7.2h1m-13.2.2h1m2.5 0h1m2 0h1m-.5 0h1m-.2.1h1m-6 .1h1m2.9 0h1m1.2 0h1m-1.3.2h1m2.8.2h1m-6.8.1h1m-.5 0h1m-.2 0h1m-6 .1h1m.3.1h1m4.8.1h1m-9.6.3h1m4 0h1m.1.1h1m2.3 0h1m-3.7.1h1m-6.5.3h1m3.7.2h1m.5.2h1m-7 .6h1m3.3.2h1m2.3.1h1m-4.1.2h1m-.8 0h1m-4.2 1.1h1" stroke="#5fbfa7" stroke-width="1" fill="none"/>
<path d="M31.1 393.6h1m.6.3h1m.5.5h1m-1.4.2h1m-1.2.3h1m-5 .4h1m3.5 0h1m-3.4.1h1m-.3.1h1m1.4 0h1m-2.4.2h1m2.4.2h1m-1.6.4h1m3 .1h1m-12.3.1h1m3.6 0h1m-.4.2h1m1.9 0h1m-7.7.3h1m.4 0h1m2.2 0h1m-3.3.2h1m-4.2.1h1m-2 .1h1m.8.2h1m6.3 0h1m-10 .2h1m-.9.1h1m8 .1h1m-2.5.4h1m-6.1.1h1m5 0h1m-9.2.1h1m-2.2.1h1m4.8 0h1m2.5 0h1m-9.9.2h1m2.1 0h1m-2.1.1h1m.8 0h1m-2.1.2h1m-4.3.3h1m6 .1h1m3.9.1h1m-4.2.3h1m-.1 0h1m-3.3.1h1m-1.6.3h1m-4.3.2h1m.8 0h1m-.3.1h1m7.8 0h1m-14.7.1h1m3.2 0h1m3.1 0h1m-7 .1h1m6.2.4h1m-10.6.1h1m3.7.1h1m3 .3h1m-11.7.1h1m-.8 0h1m-.4 0h1m5.5 0h1m2.3 0h1m-10.2.2h1m2.4 0h1m1.3 0h1m-.8.1h1m3.1 0h1m-5 .1h1m-8.1.1h1m7.4.1h1m-4.5.3h1m2.9 0h1m-7.6.1h1m0 0h1m-1 0h1m3.2 0h1m.8 0h1m3.6 0h1m-10.2.2h1m-1.2.2h1m4.1.1h1m-7.1.1h1m10.4.1h1m-3.8.1h1m.2.1h1m.4 0h1m-16 .1h1m6 0h1m-.1.1h1m-7.1.1h1m-.4 0h1m-.6 0h1m-.8 0h1m7.3 0h1m-2.1.1h1m.7 0h1m-12.4.1h1m10.7.1h1m-3.5.1h1m-8.9.1h1m4.6 0h1m3.4 0h1m-8.8.1h1m4.8 0h1m3.4 0h1m-5.6.1h1m2.5.1h1m.4 0h1m-2.6.2h1m-9.4.2h1m4.4 0h1m-.9 0h1m-6.7.2h1m7.1 0h1m-5.4.2h1m-.7 0h1m-1 0h1m-7.5.1h1m10.6 0h1m.3.1h1m-8.9.1h1m6.1 0h1m-.3 0h1m-13.5.1h1m6.9.1h1m-9.5.1h1m3.6 0h1m.3.1h1m-2.6.1h1m2.9 0h1m2.2 0h1m-7.9.1h1m3.2.1h1m.5 0h1m-11.5.1h1m8.8 0h1m-11 .1h1m1 0h1m4.2 0h1m2.3.1h1m2.2 0h1m.5 0h1m-13.5.2h1m3.3 0h1m5.7 0h1m-15.5.1h1m13.7 0h1m-11.7.2h1m.1 0h1m4.2 0h1m5.1 0h1m-12.3.1h1m-3 .1h1m.3 0h1m8.5 0h1m-16.4.1h1m0 .1h1m1.8 0h1m7.9 0h1m-9.4.1h1m3.5 0h1m9.3 0h1m-14.9.1h1m9.8 0h1m-10.3.1h1m1.1 0h1m-3.6.1h1m1.5.1h1m.3 0h1m-3.2.1h1m0 0h1m-7.4.1h1m.6 0h1m2.3.1h1m-1 0h1m1.1 0h1m-.3 0h1m3.5 0h1m.8 0h1m-13.8.1h1m.4 0h1m.1 0h1m4.4 0h1m-14 .1h1m4.5 0h1m4.4.2h1m-7.9.1h1m10.1 0h1m-6.4.1h1m-6.3.2h1m2.6 0h1m1.1.2h1m1.4 0h1m6.8 0h1m-15.6.1h1m9.6 0h1m-7.2.1h1m-7.3.2h1m3.3.1h1m4.2 0h1m1.9 0h1m3.7.1h1m-5.9.1h1m-4.5.1h1m-6.5.1h1m7.5.1h1m1.4 0h1m-7.6.1h1m1.3 0h1m1.5 0h1m-6.9.1h1m7.5 0h1m-8.5.2h1m-2 .1h1m-.3 0h1m-5.1.1h1m11.2.1h1m-.5 0h1m-5.4.1h1m-.1.1h1m.2 0h1m-7 .1h1m5.3 0h1m-9.1.2h1m-3.5.1h1m-.6.1h1m-.1 0h1m4 .1h1m-7.8.2h1m8.8 0h1m-10.7.2h1m5.4 0h1m-.6.1h1m-6.1.1h1m.6 0h1m3.2 0h1m-6.9.3h1m.8 0h1m-6.4.2h1m2.4 0h1m1.1 0h1m-3.5.1h1m6 0h1m.6 0h1m-9.1.1h1m2.3.1h1m4.2.1h1m-6.4.1h1m2 .2h1m-.6.1h1m.4 0h1m-5.6.2h1m-2.4.3h1m2.1.1h1m.3.1h1m-7.9.1h1m6.3.1h1m-6.3.1h1m1.2 0h1m2.1.1h1m-.6 0h1m-4.7.1h1m2.8 0h1m-6.9.2h1m.9 0h1m3 0h1m-2.7.2h1m-4.3.1h1m-.1.2h1m.8.4h1m-5.3.5h1m1.9 0h1m3.7 0h1m-.4.3h1m-5.6.7h1m-.9.9h1m.5 1h1" stroke="#c35fc3" stroke-width="1" fill="none"/>
<path d="M51.9 407.4h1m.9.2h1m-1.2.5h1m-.3 0h1m-3.8.2h1m2 .3h1m-1.7.1h1m-.5 0h1m-.3 0h1m-5.2.4h1m-1.3.1h1m4.3.3h1m-8.2.4h1m2.4 0h1m4.1.1h1m-1.7.2h1m-3.1.1h1m2.9 0h1m-3.2.3h1m.3 0h1m-2.6.1h1m-4.3.1h1m-5.8.1h1m-2.3.1h1m.3 0h1m5.5.1h1m-.1.1h1m-7 .1h1m-5.2.2h1m6.2 0h1m-5.5.1h1m2.9 0h1m6.1 0h1m-4 .2h1m-8.9.2h1m7.9.1h1m-5.7.1h1m2 .1h1m-6.7.2h1m0 .1h1m1.7.1h1m1.4 0h1m2.7.1h1m-10 .1h1m4.3 0h1m-8.4.1h1m3.1 0h1m-3.5.1h1m6.3.1h1m-13.7.1h1m4.7 0h1m.1 0h1m3 0h1m-3.2.1h1m-.8 0h1m-4.5.1h1m6.3 0h1m0 .3h1m-14.1.1h1m.3 0h1m.8 0h1m7.7.2h1m-3.2.1h1m-12.8.1h1m14.8 0h1m-11.3.2h1m-.9 0h1m-3.3.3h1m1 0h1m.2 0h1m5.8 0h1m-6 .1h1m-8.2.1h1m1.5 0h1m-1 0h1m10.8 0h1m-12.5.1h1m.3 0h1m-.5 0h1m.3 0h1m-8.7.1h1m8.7 0h1m-5.1.1h1m-1.3.1h1m7.6.1h1m1.6.2h1m-9.9.1h1m-5.3.1h1m2.2 0h1m-1 .1h1m4.2 0h1m3.5 0h1m-13.5.1h1m3.9 0h1m1 0h1m-6.6.1h1m-.9 0h1m.5 0h1m-6.8.1h1m10.1 0h1m-12.8.1h1m1.3 0h1m.3.1h1m2.9 0h1m-5 .1h1m11.6 0h1m-8.3.1h1m-.8 0h1m2.4 0h1m.4 0h1m-9.2.1h1m2.2.1h1m.7 0h1m3.9.1h1m-10.8.1h1m4.2 0h1m-2 .1h1m0 0h1m-2.7.2h1m-5.6.1h1m8.1 0h1m1 0h1m-5.6.1h1m3.4 0h1m-8 .2h1m.6 0h1m3.9 0h1m-7.4.1h1m-2.6.2h1m1.5 0h1m5.9 0h1m-14.7.1h1m4.2 0h1m-4 .1h1m4.1 0h1m-2.7.1h1m-2 .1h1m1.8 0h1m1.7.1h1m-10.1.1h1m3.8 0h1m-6.7.3h1m4.3 0h1m2 0h1m-6.6.1h1m2.8 0h1m-2.7.1h1m5.5 0h1m-10.4.1h1m3.9 0h1m-3.4.1h1m1.3.1h1m2.9 0h1m-3.5.1h1m2.4.1h1m-10.6.2h1m2.3.2h1m3.2 0h1m-.5 0h1m-3.6.2h1m-1.8.1h1m-.9.2h1m-3 .1h1m-2.8.1h1m1.2 0h1m1.9.2h1m-1.9.3h1m-2.3.3h1m.6.2h1" stroke="#4b4aa6" stroke-width="1" fill="none"/>
<path d="M26.2 408.3h1m2.5 0h1m-6.9 1.1h1m-1.3.1h1m-.8.1h1m.2 0h1m-1.2.1h1m-1.9.2h1m2.1 0h1m-4.7.6h1m1.1.2h1m-2.3.2h1m-3.7.5h1m4.7 0h1m.9.1h1m-5.8.5h1m.6.1h1m1.2 0h1m-6.9.1h1m7.6 0h1m-6.5.1h1m-.2 0h1m-3.4.2h1m2.8 0h1m1.7 0h1m-2.2.3h1m-8.1.2h1m-2.5.2h1m2.2 0h1m.9 0h1m-.2.1h1m1.1 0h1m-7.2.2h1m3 0h1m-.8 0h1m.7 0h1m-8.1.1h1m7.1 0h1m.8.1h1m-4.1.2h1m-1.1.1h1m-7.5.1h1m5.9 0h1m.8.1h1m-10.7.1h1m8.4 0h1m-4.1.1h1m-4.6.1h1m9.6 0h1m-9.2.1h1m-1.5.2h1m-3.4.1h1m8.1 0h1m-9.5.1h1m9 .1h1m-12 .3h1m3.1 0h1m6.3 0h1m-13.5.2h1m.6 0h1m6.4 0h1m2.2.1h1m-2.6.1h1m-8 .2h1m-5.3.1h1m2 0h1m6.1 0h1m-1.7.2h1m3.3 0h1m-10.8.1h1m-.7 0h1m-5.6.1h1m2.3 0h1m8.2.1h1m-9.1.1h1m3.6 0h1m-9.2.2h1m6.2 0h1m3.1 0h1m-6.5.1h1m-.9 0h1m-4.4.1h1m7.5.1h1m-.3.1h1m-11.5.1h1m10.2 0h1m1.5 0h1m-11.2.1h1m3.6 0h1m-.9 0h1m-11.5.1h1m10.3 0h1m1.9 0h1m-5.6.2h1m-.6 0h1m-7.3.2h1m-4 .1h1m4 0h1m6.7 0h1m-14.6.1h1m4.9.2h1m-4 .3h1m10.3 0h1m-3 .2h1m-.4.1h1m-13.1.1h1m.2 0h1m11.4 0h1m-14.8.1h1m10.1 0h1m-9.9.1h1m4.6 0h1m1.7 0h1m-10 .2h1m10.6 0h1m.9.1h1m-15.8.1h1m11.4 0h1m-.9 0h1m.2 0h1m-14.9.1h1m1.8 0h1m9.1 0h1m-12.5.1h1m-3 .1h1m6.9 0h1m1.4 0h1m-10.9.2h1m.4 0h1m6.5 0h1m-3.9.1h1m-3.8.2h1m4.5 0h1m5.7.1h1m-5.5.1h1m-2.5.1h1m0 0h1m-3.2.1h1m.8 0h1m.7.1h1m-11.6.1h1m4.1 0h1m2.4.1h1m-9.8.1h1m.2 0h1m4.8 0h1m-1.7.1h1m-3.2.1h1m3 .2h1m-.3 0h1m3 0h1m-9.8.1h1m3.2.1h1m-5.7.1h1m5.6 0h1m.7.1h1m-11.7.1h1m2.1 0h1m8.2 0h1m-10.6.1h1m1.9 0h1m-.4.2h1m-1.9.1h1m-.5 0h1m-8.9.1h1m1.9 0h1m7.5 0h1m-7.4.1h1m3 .1h1m-8.3.1h1m1.4 0h1m1.9 0h1m-7.6.1h1m1.9 0h1m-4.2.1h1m2.6.1h1m8.4.1h1m-.3 0h1m-10.2.1h1m2.5 0h1m6.9 0h1m-4.5.1h1m-10.5.1h1m4.4 0h1m-5.6.1h1m4.4 0h1m-.6 0h1m1.4 0h1m-8.1.2h1m.3 0h1m-2.3.2h1m8 0h1m-7.6.3h1m1.1 0h1m-3.9.1h1m3.9 0h1m-8 .1h1m-5.6.1h1m3.5 0h1m10.6 0h1m-16.1.1h1m6.4 0h1m-1.2.3h1m4.4 0h1m-4 .2h1m-.9 0h1m-8 .1h1m5.6.1h1m-3.3.1h1m-1 0h1m-1.6.1h1m-6.1.1h1m5.3 0h1m-3.9.1h1m.7 0h1m-7.3.1h1m1.3 0h1m7.8 0h1m-.1 0h1m-7 .1h1m-2.9.1h1m2.7 0h1m-7.8.2h1m.5.1h1m1.4 0h1m2.9 0h1m-6.6.3h1m.7 0h1m-3.8.2h1m2.7 0h1m-7.4.1h1m2.2 0h1m5.5.1h1m-9.3.2h1m9.8.1h1m.5 0h1m-12.1.1h1m2.3 0h1m2.8.1h1m-10.3.1h1m9.9 0h1m-11.7.1h1m.8 0h1m5.2 0h1m-10.3.1h1m1.9 0h1m.9 0h1m7.6 0h1m-9.5.2h1m1.1.1h1m-5.1.2h1m.2 0h1m3.5.1h1m-5.3.1h1m-1.9.2h1m10 0h1m-15 .3h1m8.7.1h1m-4.7.1h1m-6.4.1h1m.4.1h1m2.3.2h1m1.8 0h1m4.5.3h1m-11 .1h1m-4.4.3h1m11.7.1h1m-9.9.1h1m0 0h1m-.4.1h1m5.4 0h1m-5.3.1h1m3.4 0h1m1.5 0h1m-12.5.1h1m9.7 0h1m-3.8.1h1m-5.8.2h1m1.9 0h1m-10 .1h1m.1 0h1m7.1 0h1m1.4 0h1m-3 .1h1m-3.5.1h1m-7.5.2h1m4.1 0h1m-.6 0h1m6.2 0h1m-9.6.1h1m-4.6.1h1m11.7.1h1m-14.5.1h1m5.1.1h1m-.3 0h1m-6.7.2h1m1.9 0h1m.9.1h1m1.1 0h1m4.3 0h1m-14.4.4h1m1.8 0h1m2.7.1h1m2.2 0h1m-1 0h1m.3 0h1m0 0h1m-.3.3h1m-13.1.1h1m3.5 0h1m4.3 0h1m-.2 0h1m-10 .1h1m.7 0h1m.2 0h1m3.5 0h1m-8.1.1h1m10.4.3h1m-14.5.1h1m9.7 0h1m1.2 0h1m-14.6.1h1m-.7 0h1m6 0h1m-2.9.1h1m-3.6.1h1m-.2 0h1m6.9.2h1m-9.3.2h1m3.7.1h1m2.7 0h1m.8 0h1m-10.9.1h1m.7.2h1m-1.1.2h1m6.4.1h1m-11.6.1h1m6.8 0h1m.7 0h1m-10.4.1h1m5.3 0h1m-.2 0h1m-.9.1h1m-4.2.2h1m-.8 0h1m3.2 0h1m-.8 0h1m-8.2.1h1m-.8 0h1m3.8.1h1m-2.8.1h1m4.9 0h1m-5 .1h1m3.4 0h1m-12.1.1h1m1 0h1m4.7 0h1m-8.5.1h1m4.2 0h1m1.6 0h1m1.4.4h1m-7.7.2h1m-1.3.1h1m5.4.2h1m-3 .1h1m-4.4.1h1m-.1.1h1m-.3.1h1m1.5.1h1m1.3.1h1m-3.5.1h1m.1.1h1m-11.1.1h1m11.7.1h1m-10.4.1h1m3.3 0h1m3.2 0h1m-3.5.5h1m-5.4.2h1m1.7 0h1m-6.3.2h1m4.6.2h1m-1.3.8h1m.9.1h1" stroke="#2f8a55" stroke-width="1" fill="none"/>
<path d="M41.2 414.7h1m-2.9.2h1m-1.6.5h1m-3.5.1h1m2.1 0h1m-2.4.1h1m.5.2h1m1.1.3h1m-2.7.3h1m-2.8.1h1m.4 0h1m-3.7.2h1m1.7 0h1m-5.5.5h1m6.2.1h1m-1.5.4h1m-.8 0h1m-.1.2h1m-8.9.3h1m.9.2h1m1 0h1m-.7 0h1m-.8.3h1m-.6 0h1m-4.8.1h1m7 0h1m-11.3.1h1m8.7 0h1m-.3 0h1m-5.5.1h1m2.3 0h1m-6.8.1h1m.6.1h1m1.6 0h1m2.3 0h1m5.8.1h1m-17.6.1h1m1.7.1h1m8.7 0h1m-5 .1h1m4.5.1h1m-1.8.2h1m-10.2.1h1m-4.3.2h1m.9 0h1m8.4 0h1m-5.8.1h1m2.9.1h1m-10.5.1h1m4.9 0h1m-5.4.1h1m-.6 0h1m-.1 0h1m6.2 0h1m-9.5.1h1m5.7 0h1m-11.4.1h1m5.1 0h1m4.7.1h1m-13.2.1h1m2.3 0h1m14.6 0h1m-18.3.1h1m10.8 0h1m-2.7.2h1m3.8 0h1m-16.8.1h1m.7.1h1m-2 .1h1m6.6.1h1m5.1 0h1m-12 .2h1m9.8 0h1m.8.2h1m-4 .1h1m-14.8.1h1m5.4 0h1m-.5 0h1m-5.7.1h1m2.6 0h1m-.3 0h1m-.2 0h1m-6.2.1h1m-2.4.1h1m2 0h1m11.8 0h1m-19.2.1h1m3 0h1m-.5 0h1m3.2 0h1m4 0h1m-.9 0h1m.4.1h1m-10 .1h1m6.5 0h1m-13 .1h1m-.8.4h1m10.2 0h1m1.2 0h1m-6.8.1h1m3.3 0h1m2.6 0h1m-17.4.1h1m8.5 0h1m4 0h1m-7.8.1h1m5.5 0h1m1.5 0h1m-14.5.1h1m2.8 0h1m8 0h1m-8.1.1h1m1.7.2h1m-.1.2h1m2.3.1h1m-13.6.1h1m9.3.1h1m-6.1.3h1m3.2 0h1m-3 .1h1m-6.1.2h1m1.7 0h1m6.6 0h1m-10 .1h1m2.4.2h1m3.4.1h1m-1.5.1h1m-5.8.2h1m4.9.1h1m-5.2.1h1m-3 .1h1m-3.7.1h1m-7.1.1h1m13.6 0h1m-.4 0h1m-4.9.1h1m-11.6.2h1m10.7 0h1m.6 0h1m-3.5.1h1m-.6 0h1m-10.6.1h1m6.7 0h1m.7 0h1m-.9.1h1m-12.9.1h1m6.4 0h1m-4.5.1h1m7.2 0h1m-8.1.1h1m7.2 0h1m-13.3.2h1m.9 0h1m7.7 0h1m2.9 0h1m-12 .3h1m2.3.1h1m.4 0h1m-10.7.1h1m-.9 0h1m6.4.1h1m-.5 0h1m.6 0h1m.4.1h1m2 .1h1m-.5 0h1m-9.8.2h1m-.6 0h1m2.9.1h1m-.5 0h1m-9.6.1h1m6.1 0h1m2.1 0h1m.1 0h1m-13.4.1h1m1.3 0h1m2.2.1h1m-8 .2h1m.8 0h1m3.5.2h1m0 0h1m-6.2.1h1m-.5 0h1m5.1.1h1m-7 .1h1m3.7 0h1m-5.2.1h1m-.4 0h1m2.6 0h1m4.3 0h1m-3.9.1h1m5.2 0h1m-14.5.1h1m8.8.1h1m2.3 0h1m-9.3.1h1m4.1 0h1m-8.5.2h1m2.4 0h1m2 0h1m-1.2.1h1m-.3 0h1m-8.2.2h1m7 0h1m-.3.1h1m-6 .1h1m-.9 0h1m-3.1.3h1m3.4 0h1m1.9.1h1m-6.8.1h1m5.5.1h1m-12.7.1h1m7.1 0h1m1.5 0h1m.9 0h1m0 0h1m-4.8.1h1m1.2 0h1m-7.6.1h1m3.9 0h1m-.8 0h1m-.8.1h1m-4 .1h1m5.2 0h1m-7 .1h1m1.1 0h1m-9.4.1h1m10 0h1m-7.4.1h1m3.3 0h1m-11.9.1h1m7.2 0h1m-1.4.1h1m-5.9.4h1m6.1.1h1m1.7.1h1m-3.1.1h1m-11.2.2h1m2.8.1h1m-.7 0h1m1.9.1h1m-1.4.2h1m.1.1h1m-11.4.3h1m5.5 0h1m-5.5.1h1m9.3.1h1m-8.3.1h1m-6.2.4h1m6.9.1h1m-8.2.1h1m3.7 0h1m-1.1.3h1m-4.7.1h1m-.2.1h1m.8.5h1m3.1.1h1m-1.3.1h1m-5.7.1h1m3.8.2h1m-5.7.1h1m3.6.2h1m-7 .1h1m1.6.1h1m-1.2.1h1m-2.9.3h1m3.7.1h1m-2.9.1h1m-4.3.1h1m9.1.1h1m-.4 0h1m-12.7.1h1m1.9 0h1m2.4.1h1m-3.2.1h1m2.3 0h1m-4.2.3h1m-.4.4h1m-4.8.2h1m-1.6.2h1m-.4.1h1m.1.3h1m1.2.4h1m1 0h1m-2.8.1h1m-1.6.1h1m-5 .6h1m2.7.1h1m4.8.2h1m-7.3.6h1m-.7.8h1m-2.3.1h1m1.2.7h1m-1.7.5h1m.9.3h1" stroke="#dccb7c" stroke-width="1" fill="none"/>
<path d="M19.2 434.2h1m.5 1.8h1m3.6.3h1m-3.4.7h1m-4.2.1h1m6.7.3h1m-8.5.4h1m-.3.2h1m-.3.1h1m-.4.5h1m1.1.1h1m4.3 0h1m-5.7.1h1m-5 .1h1m6.2.3h1m-2 .2h1m-6.3.3h1m.3.3h1m-.5 0h1m4.9 0h1m-2.3.1h1m-1.7.1h1m5.1 0h1m-5.3.1h1m-3.1.1h1m.6 0h1m0 0h1m-8 .3h1m-1.8.1h1m.1 0h1m3.5 0h1m2 0h1m-.5.1h1m2.3.1h1m-13.3.3h1m3.1 0h1m8.4.1h1m-15.3.1h1m15 0h1m-15.3.1h1m13.6.1h1m-5.5.1h1m2.6 0h1m-14.8.1h1m5.2 0h1m2.2.1h1m-2 .1h1m-10.6.1h1m6.2 0h1m-3.9.1h1m5.3 0h1m2.7.1h1m-7.9.1h1m2.2 0h1m0 0h1m-11 .1h1m1.3 0h1m.7 0h1m4.2 0h1m-10.6.1h1m.7.3h1m10.5 0h1m-13.7.1h1m.8 0h1m5.2 0h1m1.6 0h1m-4.7.1h1m-8.6.1h1m5.3 0h1m0 0h1m4.9 0h1m-12.6.1h1m.6 0h1m-.7 0h1m5.5 0h1m-.8 0h1m.4 0h1m2.1 0h1m-15.7.2h1m6.6 0h1m0 0h1m3.7 0h1m-14.2.1h1m11.2.1h1m.9 0h1m-.8.1h1m-9.2.1h1m4.4 0h1m-3.7.1h1m4.2.1h1m-15.3.1h1m-.6 0h1m4.5 0h1m2.8 0h1m-5.2.1h1m-5 .1h1m1.6 0h1m1.7 0h1m1.8 0h1m-.5.1h1m1.6 0h1m-12.5.2h1m6.6 0h1m-1 0h1m-.2 0h1m3.7 0h1m-2.2.1h1m-11.8.1h1m4.9 0h1m-.4.1h1m-7.2.3h1m9.7 0h1m-8.3.1h1m-4.4.1h1m.6.1h1m4.3 0h1m-6.2.1h1m9.6.3h1m.2 0h1m-11.7.3h1m.5 0h1m.6 0h1m2.7.3h1m-7.3.1h1m2 .2h1m.7 0h1m-2.8.1h1m-.7.3h1m-3 .1h1m3.2 0h1m.9 0h1m-6.3.1h1m2.2 0h1m-2.8.1h1m3.9 0h1m-6.8.2h1m.8 0h1m1.6.4h1m-5.2.2h1m-.6.6h1m.7 0h1m-.8.1h1m1.3.2h1m-3.3.1h1m-1.7.3h1m-.2.5h1m.9 0h1m-.5.4h1" stroke="#9dd0ee" stroke-width="1" fill="none"/>
<path d="M46.6 433.2h1m.1 0h1m-.6.7h1m-1.7.6h1m-1.6.1h1m-.5 0h1m-.6.1h1m-7.7.4h1m4 .6h1m-2.6.1h1m.2 0h1m1.5.2h1m-1.2.4h1m-7.1.3h1m-1.1.1h1m5.3 0h1m-6.3.4h1m3.2.2h1m-6.8.1h1m4.6 0h1m-2.7.2h1m-5.8.5h1m.2.1h1m.5.3h1m-1.1.1h1m2.8 0h1m-6.2.1h1m6.2 0h1m-3.8.1h1m-6.6.1h1m.7 0h1m2.1 0h1m-2.6.1h1m-4.5.1h1m-1.3.3h1m1.8 0h1m-.4 0h1m-4.8.1h1m.8.1h1m2.6 0h1m-.2.1h1m-1.1.2h1m.3.2h1m-10.4.1h1m1.1 0h1m7.1 0h1m.3 0h1m-11.2.1h1m-.9 0h1m7.5 0h1m.4 0h1m-8.4.1h1m.7.2h1m1.2 0h1m-.8 0h1m-.2 0h1m-4.4.1h1m.9.1h1m-8 .1h1m5.8 0h1m.8.2h1m.2 0h1m-7.1.1h1m2.7 0h1m-5.1.1h1m5.5.2h1m-6.9.1h1m-5 .1h1m2.6 0h1m6.6 0h1m-7.7.2h1m3.4 0h1m1.2 0h1m-9.4.1h1m8.1 0h1m-10.3.1h1m-3 .1h1m8.5 0h1m-.9 0h1m-7.3.2h1m1.9 0h1m3.9 0h1m-12.1.1h1m6.3 0h1m3.1 0h1m-10.5.1h1m3.7.1h1m-3.5.1h1m-.4 0h1m2.2 0h1m-.4 0h1m-2.1.1h1m1 0h1m-.9 0h1m-5.9.2h1m3.8.1h1m.5 0h1m-1.5.1h1m-4.9.1h1m-.4 0h1m0 .1h1m-7.9.1h1m-1 .1h1m5.6 0h1m-3.1.3h1m2.5 0h1m-.8.3h1m-11.2.2h1m9.8.1h1m-2.5.2h1m-8.4.2h1m4.5.6h1m.1.1h1m1.1 0h1m-5.4.1h1m-.3 0h1m-3 .1h1m-8.2.1h1m7.1 0h1m-.7 0h1m-5.9.5h1m.5.1h1m.5 0h1m3.4.2h1m3.2.1h1m-8.9.1h1m6 0h1m-13.4.2h1m11.8 0h1m-2.6.1h1m-.9.2h1m-8 .2h1m2.2.1h1m-1 0h1m2 0h1m-11.5.2h1m4.2 0h1m2.2.1h1m-7.7.2h1m7.2.1h1m-5.1.1h1m.1 0h1m-4 .2h1m4.8 0h1m.4 0h1m1 0h1m-8.5.1h1m5 0h1m-10.2.1h1m9.1 0h1m-16.3.1h1m8.5 0h1m-.3.1h1m-7.5.1h1m8.3.4h1m-11.4.1h1m10.6 0h1m-10.9.2h1m5.6 0h1m-9.8.1h1m10.8.1h1m-7 .1h1m1.6 0h1m1.2 0h1m2.8 0h1m-.7 0h1m-7.6.1h1m-8.4.1h1m10.6.1h1m.9 0h1m-9.9.1h1m-7 .1h1m2.8 0h1m5.4.1h1m-10.6.1h1m4.2 0h1m6.7 0h1m-10.5.2h1m.4 0h1m-1.8.1h1m3.8 0h1m.2 0h1m-10.6.1h1m6.2 0h1m2.1 0h1m2.8 0h1m-14.1.2h1m12.6.1h1m-15.5.1h1m9.2 0h1m-.1 0h1m-9.1.1h1m4.1 0h1m-5.4.1h1m-4 .1h1m6.2 0h1m-6.6.1h1m1.1 0h1m-2.3.1h1m2.3 0h1m-1.4.2h1m6.2 0h1m-9.7.1h1m2.9 0h1m-7.7.1h1m2.4.1h1m-4.1.1h1m2 0h1m6.7 0h1m-10.3.1h1m6.9 0h1m-1.2.1h1m-4.2.1h1m3.5 0h1m1.2 0h1m-.6 0h1m-6.6.1h1m1.9 0h1m1.1.2h1m-10.4.1h1m1 0h1m7.1.1h1m-12.1.3h1m2.9.1h1m2.7 0h1m-6.6.1h1m-.2 0h1m-3.1.1h1m6.6.2h1m-3.3.1h1m3.9.1h1m-9.8.1h1m-.4 0h1m.9 0h1m0 0h1m.3 0h1m2.8 0h1m-7.4.1h1m-3.5.2h1m0 .1h1m6.7 0h1m-8.9.2h1m2.3.1h1m-3 .1h1m4.6.1h1m-5.4.4h1m.4 0h1m.7.1h1m-4.8.1h1m-.7.1h1m1.8.3h1m-2.1.4h1" stroke="#d8757f" stroke-width="1" fill="none"/>
<circle cx="82.00" cy="416.70" r="2.7" fill="#9dd0ee"/>
<text x="88.50" y="418.97" font-size="6.3" text-anchor="start" fill="#333">C0</text>
<circle cx="82.00" cy="424.70" r="2.7" fill="#d8757f"/>
<text x="88.50" y="426.97" font-size="6.3" text-anchor="start" fill="#333">C1</text>
<circle cx="82.00" cy="432.70" r="2.7" fill="#dccb7c"/>
<text x="88.50" y="434.97" font-size="6.3" text-anchor="start" fill="#333">C2</text>
<circle cx="82.00" cy="440.70" r="2.7" fill="#2f8a55"/>
<text x="88.50" y="442.97" font-size="6.3" text-anchor="start" fill="#333">C3</text>
<circle cx="82.00" cy="448.70" r="2.7" fill="#4b4aa6"/>
<text x="88.50" y="450.97" font-size="6.3" text-anchor="start" fill="#333">C4</text>
<circle cx="82.00" cy="456.70" r="2.7" fill="#c35fc3"/>
<text x="88.50" y="458.97" font-size="6.3" text-anchor="start" fill="#333">C5</text>
<circle cx="103.40" cy="416.70" r="2.7" fill="#5fbfa7"/>
<text x="109.30" y="418.97" font-size="6.3" text-anchor="start" fill="#333">C6</text>
<circle cx="103.40" cy="424.70" r="2.7" fill="#a6a54e"/>
<text x="109.30" y="426.97" font-size="6.3" text-anchor="start" fill="#333">C7</text>
<circle cx="103.40" cy="432.70" r="2.7" fill="#a33b6e"/>
<text x="109.30" y="434.97" font-size="6.3" text-anchor="start" fill="#333">C8</text>
<circle cx="103.40" cy="440.70" r="2.7" fill="#5b3432"/>
<text x="109.30" y="442.97" font-size="6.3" text-anchor="start" fill="#333">C9</text>
<circle cx="103.40" cy="448.70" r="2.7" fill="#7aa7d8"/>
<text x="109.30" y="450.97" font-size="6.3" text-anchor="start" fill="#333">C10</text>
<circle cx="103.40" cy="456.70" r="2.7" fill="#a4a4a4"/>
<text x="109.30" y="458.97" font-size="6.3" text-anchor="start" fill="#333">C11</text>
<path d="M24.2,398.7 L20.3,394.9 L20.8,397.5 L18.7,399.2z" fill="#3c4a6a"/>
<path d="M53.3,399.8 L58.5,401.6 L56.9,399.4 L58.1,397.0z" fill="#3c4a6a"/>
<path d="M62.2,419.0 L66.1,422.8 L65.6,420.2 L67.7,418.5z" fill="#3c4a6a"/>
<path d="M156.6 374h.9m.1.7h.9m-2.2.2h.9m-.8 0h.9m-.5 0h.9m-0 .3h.9m-.6.1h.9m-.7 0h.9m-9.5.1h.9m5.6.3h.9m-6.2.1h.9m-4.3.3h.9m-1.7.1h.9m3.4.1h.9m-.3 0h.9m-.3.2h.9m3.3.2h.9m-10.7.1h.9m4.2 0h.9m-4.7.2h.9m8.4 0h.9m-10.1.2h.9m13.6 0h.9m-3.8.1h.9m0 0h.9m-11.2.2h.9m4.2 0h.9m-8.9.1h.9m-.3.1h.9m13.8 0h.9m-2.7.1h.9m1.6 0h.9m-14 .2h.9m3.7 0h.9m3.1 0h.9m-10.3.1h.9m5.8 0h.9m-9.6.3h.9m2.5 0h.9m4.8.1h.9m3.5.4h.9m-13.1.1h.9m3.2.1h.9m-6.2.2h.9m5.9 0h.9m-3.5.1h.9m5.5 0h.9m-10.6.1h.9m1.3.2h.9m1.5.1h.9m4.3.1h.9m4.1 0h.9m-6.2.1h.9m-3.3.1h.9m-1.8.1h.9m5.8.1h.9m-.2.1h.9m-2.7.1h.9m-14 .2h.9m-.1 0h.9m.5 0h.9m6.8 0h.9m7 0h.9m-13.4.1h.9m.6 0h.9m-8.2.1h.9m4.7 0h.9m-.2.1h.9m-.8 0h.9m6.5.1h.9m1.3 0h.9m-15.8.1h.9m15.8 0h.9m-15 .1h.9m5.1 0h.9m6.3 0h.9m-8.9.1h.9m-5.7.1h.9m9.8.1h.9m1.4 0h.9m-8.9.4h.9m4.5 0h.9m-.4 0h.9m-10.6.1h.9m-2.8.1h.9m2.3 0h.9m5.8 0h.9m-3.4.2h.9m-10 .1h.9m-.3 0h.9m11.9 0h.9m.5.1h.9m-14.3.1h.9m.6 0h.9m3.4 0h.9m-8.8.1h.9m1.5 0h.9m6.4.1h.9m6.1 0h.9m-4 .1h.9m2.6 0h.9m-3.4.1h.9m-15.5.1h.9m10.8.1h.9m2.8.2h.9m-8.2.1h.9m-5.5.1h.9m11.6.1h.9m-9.4.1h.9m-7 .1h.9m1.3 0h.9m-5.4.1h.9m1.5 0h.9m12 .1h.9m-10.1.1h.9m.4.1h.9m2.6 0h.9m-11.3.1h.9m-.8 0h.9m11.6 0h.9m-.2 0h.9m-14.5.2h.9m12.4 0h.9m-6.4.2h.9m.3 0h.9m-6.6.2h.9m8.4 0h.9m2.4 0h.9m-10.8.1h.9m3.7 0h.9m1.8 0h.9m-6.4.2h.9m.6 0h.9m4 0h.9m-11.6.2h.9m-.2 0h.9m5.1.1h.9m-2.9.1h.9m.4 0h.9m.4 0h.9m-9.4.1h.9m3.1.2h.9m4.1 0h.9m-1.9.1h.9m-11.3.1h.9m1.8 0h.9m-.7 0h.9m-1.5.1h.9m7.4 0h.9m-4.3.1h.9m2.9.1h.9m-9 .1h.9m4 .3h.9m2.6.2h.9m-11.8.2h.9m3.1.3h.9m5.5.1h.9m.5.2h.9m-12.2.3h.9m7.4 0h.9m1.1 0h.9m-2.6.1h.9m.3 0h.9m-11 .2h.9m8.5 0h.9m-2.6.2h.9m3.7.1h.9m-9.4.1h.9m5.6 0h.9m-9 .2h.9m.4.1h.9m4.4.1h.9m-.4 0h.9m-3.8.4h.9m-3.5.4h.9m3.1.1h.9m-3 .3h.9m3 .3h.9m-6.9.1h.9m.8.3h.9m-5.3.1h.9m.8.2h.9m2.4.3h.9m1.9.1h.9m-7.3.4h.9m-1.6.3h.9m4.2.1h.9m2 0h.9m-4.4.1h.9m-.4 0h.9m-3.4.1h.9m-3.7.2h.9m6.8.3h.9m-3.7.1h.9m.6 0h.9m-.4 0h.9m-4.8.3h.9m1.3.1h.9m-4.5.1h.9m.1.3h.9m-.5 2.2h.9" stroke="#b8c4b8" stroke-width="0.9" fill="none"/>
<path d="M156.5 374.1h.8m-1.4 1h.8m-7.2.7h.8m12.2.5h.8m-11.1.1h.8m-5.5.4h.8m3.4 0h.8m-6.2.5h.8m4.3 0h.8m3 0h.8m8.1.8h.8m-1.4.3h.8m-8.2.2h.8m.2 0h.8m4.4.2h.8m-9.6.1h.8m8.9.3h.8m-1.4.9h.8m-2.9.1h.8m1.7.1h.8m-3.7.1h.8m-7.1 1h.8m-2.6.1h.8m-6.3.1h.8m15.7 0h.8m-2.6.3h.8m-1.1.1h.8m-15 .3h.8m.7 0h.8m11.2 0h.8m-.9.4h.8m-9.2.2h.8m1.3 0h.8m-.5.5h.8m4.4 0h.8m-8.9.3h.8m-1.5 1.3h.8m-1.8.2h.8m3.9.3h.8m.5 0h.8m-.7 0h.8m4.1.3h.8m-1.5.1h.8m-2.7.1h.8m-6.6.2h.8m-2.7.1h.8m2.8.4h.8m1.1.3h.8m-3.9.3h.8m1.7 0h.8m-2.1.3h.8m-.1.1h.8m-3.3.1h.8m4.3 0h.8m1.3.2h.8m-6.2.2h.8m3.4.4h.8m-11.4.6h.8m.1.2h.8m7.4 0h.8m-7.7.2h.8m6.8 0h.8m-3.8.1h.8m-1 .2h.8m-5.5.5h.8m3.8 3.2h.8m1.3 1.3h.8m-6.1.1h.8m2.9 2.6h.8" stroke="#c8c8c8" stroke-width="0.8" fill="none"/>
<path d="M184.8 373.3h.9m.8.5h.9m-10.6.5h.9m-1.5.1h.9m10.3 0h.9m1.1.1h.9m-10.6.1h.9m1.9 0h.9m-8.9.1h.9m5 0h.9m3.1 0h.9m-6.9.2h.9m.9 0h.9m-5.6.1h.9m11.6 0h.9m-13.2.1h.9m9.9 0h.9m-.1 0h.9m-11.5.1h.9m13.7 0h.9m-9.9.1h.9m-6.5.1h.9m-.2 0h.9m-4.5.1h.9m6.3 0h.9m-10.5.1h.9m11.1 0h.9m-7.5.2h.9m.2 0h.9m-3.5.2h.9m3 0h.9m6.3 0h.9m1.6 0h.9m1.7 0h.9m-10.7.1h.9m.6 0h.9m-13.5.2h.9m0 0h.9m7.4 0h.9m-10.7.1h.9m8.6 0h.9m-6.1.1h.9m12.5 0h.9m3.8 0h.9m-23 .1h.9m5.2 0h.9m-2.3.2h.9m15.9 0h.9m-22.7.1h.9m17.2 0h.9m3.7 0h.9m-17.4.1h.9m13.2 0h.9m-21.1.1h.9m.4 0h.9m2.4 0h.9m10.1 0h.9m5.7 0h.9m-16.9.1h.9m.9 0h.9m-8.2.1h.9m7 0h.9m10.7.1h.9m.8 0h.9m0 .1h.9m.2 0h.9m-8.5.1h.9m1.8 0h.9m3 0h.9m-15 .1h.9m2.4.1h.9m-.8 0h.9m8.6 0h.9m-16.7.2h.9m-4.1.1h.9m-.8 0h.9m-5.9.1h.9m13 0h.9m5.6 0h.9m1.2 0h.9m-.4 0h.9m-21.9.1h.9m-.3 0h.9m14.6 0h.9m4.3.1h.9m-24.7.1h.9m.3 0h.9m10.1 0h.9m3.6 0h.9m4.9 0h.9m.1 0h.9m-14.3.2h.9m-9.6.1h.9m8.2 0h.9m5.2 0h.9m-.8 0h.9m7.4 0h.9m-.4 0h.9m-.7 0h.9m-4.7.1h.9m3.5 0h.9m-27.5.1h.9m3 0h.9m2.3 0h.9m7.5 0h.9m-.4 0h.9m-8.8.1h.9m1 0h.9m-7.6.1h.9m-.8 0h.9m2.8 0h.9m-.7 0h.9m5.9.1h.9m-11.6.1h.9m7.2 0h.9m.4 0h.9m-2.8.1h.9m2 0h.9m10.2 0h.9m-24.9.1h.9m1.3 0h.9m7.9 0h.9m2.7 0h.9m.2 0h.9m-18.1.1h.9m-.6 0h.9m5.7 0h.9m.7 0h.9m1.4 0h.9m4.4 0h.9m3.2 0h.9m-10.9.1h.9m10.1 0h.9m2.4 0h.9m-.9 0h.9m-24.1.1h.9m7.7.1h.9m3.1 0h.9m-14.4.1h.9m25 0h.9m-18.2.1h.9m12.2.1h.9m-19.8.2h.9m18.6.1h.9m-1.4.1h.9m-.4 0h.9m-14.2.1h.9m.9 0h.9m-10.4.1h.9m-.2 0h.9m3.7 0h.9m-1.2.1h.9m.8 0h.9m-11 .1h.9m-.6.2h.9m-1.7.1h.9m.1 0h.9m8.7 0h.9m-8.9.2h.9m0 .1h.9m.6.1h.9m-3.1.1h.9m-.2.1h.9m-3.8.1h.9m3.8.1h.9m-6.1.1h.9m-1.4.1h.9m2.1 0h.9m4.9 0h.9m-9.9.3h.9m6.1 0h.9m.1.2h.9m-1.5.3h.9m-10 .1h.9m2.5.1h.9m1.7.1h.9m-7.2.3h.9m3.1 0h.9m3.6 0h.9m-.2.3h.9m-8.6.1h.9m5.8 0h.9m-8.1.1h.9m6.4 0h.9m-5.5.1h.9m2.3.2h.9m-.9 0h.9m-8.1.2h.9m-1.1.1h.9m1.9 0h.9m3 .6h.9m-5.3.2h.9m.3.2h.9m-3.3.2h.9m3.8.1h.9m-4 .1h.9m3 .2h.9m-1.3.3h.9m-2.2.1h.9m1.4.5h.9m-2.2.1h.9m-3 .6h.9" stroke="#c9ad99" stroke-width="0.9" fill="none"/>
<path d="M181.1 373.7h.8m-.8.9h.8m-1.3.2h.8m-4.3.5h.8m10.8 0h.8m.1.2h.8m-16.8.2h.8m9 .4h.8m-9.9.1h.8m11.9.2h.8m3.4.1h.8m-14.6.2h.8m8.3 0h.8m4.5 0h.8m-8.5.1h.8m2.2.1h.8m-17.9.1h.8m1.4 0h.8m16 .2h.8m-18.8.2h.8m9.7 0h.8m1.2 0h.8m.2.1h.8m-16.6.1h.8m7 .2h.8m2.7 0h.8m10.2 0h.8m-.1.2h.8m-24.1.3h.8m-1.5.3h.8m-2.2.1h.8m13.2.1h.8m2.4.2h.8m2.1 0h.8m-3.7.2h.8m-.6 0h.8m-9.8.2h.8m7.9.2h.8m7.8.2h.8m-16.1.5h.8m.3.1h.8m-8.2.4h.8m21.1.2h.8m-22 .3h.8m-3.3.3h.8m-4.5.5h.8m7.8.1h.8m-2.1.2h.8m-4.4.5h.8m1.1.4h.8m-6.1.1h.8m6 .2h.8m-10.6.5h.8m8.2.1h.8m-5.1.2h.8m-6.2 1.3h.8m.3 0h.8m2.9 2.1h.8" stroke="#c8c8c8" stroke-width="0.8" fill="none"/>
<path d="M194.7 376.1h.9m3.7.3h.9m-3 .1h.9m-4.7.1h.9m-.3 0h.9m-1.4.1h.9m3.5 0h.9m2 .1h.9m-8.4.2h.9m8.3 0h.9m-1.9.2h.9m-.9 0h.9m-2.5.1h.9m2.8.2h.9m1.5.1h.9m-11.9.1h.9m10.1 0h.9m-5.4.1h.9m-6.7.2h.9m-.4.2h.9m8.2 0h.9m-7 .1h.9m-2.3.1h.9m2.8.2h.9m4.5 0h.9m-2.7.1h.9m-10.1.1h.9m-3.7.2h.9m15.4 0h.9m-13.1.1h.9m0 0h.9m1.3 0h.9m2.8 0h.9m2.5 0h.9m1.2.1h.9m-12.7.1h.9m7.5 0h.9m.7 0h.9m-.9.1h.9m-13.1.1h.9m2 0h.9m5.4 0h.9m-.6 0h.9m5.6 0h.9m-.1 0h.9m-17.4.1h.9m1.1 0h.9m2.5.1h.9m6.1 0h.9m-2.6.1h.9m3.6 0h.9m-1 .1h.9m-18.6.1h.9m4.7 0h.9m9.9 0h.9m.8 0h.9m-9 .1h.9m.8 0h.9m3.9.1h.9m-1.5.2h.9m-14.3.1h.9m3.1 0h.9m.3 0h.9m-.1 0h.9m8.4 0h.9m-13.7.4h.9m2.5 0h.9m4.4 0h.9m4.9 0h.9m1.5 0h.9m-17.4.2h.9m-4.5.2h.9m9.8 0h.9m-.2 0h.9m-4.6.1h.9m-.4 0h.9m3.6 0h.9m-6.2.1h.9m6 0h.9m-14.3.1h.9m10.4 0h.9m-.4 0h.9m-2.3.1h.9m3.9.1h.9m-9.1.1h.9m4.2.3h.9m-.6 0h.9m5.9 0h.9m-15.3.1h.9m2.7 0h.9m8.3 0h.9m-7.8.1h.9m4.9 0h.9m-10.9.1h.9m1.5.1h.9m10.4.2h.9m.4 0h.9m-.4 0h.9m-12.2.1h.9m4.1 0h.9m3.6.1h.9m-.8.1h.9m2 0h.9m-3.4.1h.9m.3 0h.9m-10.2.1h.9m8.7 0h.9m-8.3.1h.9m4.7 0h.9m.7.2h.9m-7.1.4h.9m1.4.1h.9m2.1.1h.9m-1.3.1h.9m-.5.4h.9m-2.6.1h.9m-1.1.1h.9m-.9.3h.9m1.2.4h.9m-.2 0h.9m-1 .1h.9m-2.5.1h.9m-2.5.1h.9m2.3 0h.9m-1.3.4h.9m-1.2.7h.9" stroke="#c4b4a8" stroke-width="0.9" fill="none"/>
<path d="M193.5 375.9h.8m7.1.9h.8m-.2.1h.8m-6.1.4h.8m-.5 0h.8m6.7.7h.8m1.5.3h.8m2.7.5h.8m-13.8.1h.8m7.2 0h.8m3.8.4h.8m-12.1.1h.8m-5.3 1h.8m11 0h.8m-1 .2h.8m-5.5.7h.8m-8.2.4h.8m13.1 0h.8m-7.9.3h.8m2.9 0h.8m12.5 0h.8m-14.6.4h.8m2.8 0h.8m7.2 0h.8m0 0h.8m-11.2.4h.8m9.7.3h.8m-8.9.2h.8m3.7.2h.8m-4.1.5h.8m6.9.3h.8m-1.7.6h.8m-3.4.9h.8m1.6.5h.8" stroke="#c8c8c8" stroke-width="0.8" fill="none"/>
<path d="M218.5 384.5h.9m-1.1.3h.9m-1.3.2h.9m2.3 0h.9m-4.3.4h.9m.8.2h.9m.9.3h.9m.8 0h.9m-5.9.6h.9m.1 0h.9m1.1 0h.9m1.8.1h.9m-5.8.1h.9m3.9.2h.9m-1.4.1h.9m-1 .6h.9m-.3.1h.9m.2 0h.9m-7.1.4h.9m-.7.1h.9m6.3 0h.9m-1.4.2h.9m-.3 0h.9m-5.2.5h.9m-1.5.2h.9m4.4 0h.9m-1 .3h.9m-.5 0h.9m-7.2.3h.9m4.9.2h.9m-.3.4h.9m-6.1.1h.9m2.6.1h.9m-4.1.1h.9m-1.5.3h.9m3.5 0h.9m.3 0h.9m-1.4.2h.9m1.8.2h.9m-7.7.1h.9m1.8.2h.9m-2.1.1h.9m1.1 0h.9m-2.6.1h.9m4.8.4h.9m-7.4.1h.9m1.2.3h.9m1.3.1h.9m-1.7.1h.9m2.1.2h.9m-3.8.8h.9m2 .1h.9m-2.2.1h.9m.5 0h.9m-5 .5h.9m5.1.1h.9m-4.2.3h.9m.2.1h.9m0 0h.9m-.1 0h.9m-3.5.1h.9m-1.3.6h.9m2.8.7h.9m-.9.2h.9m-5 .1h.9m-.4.1h.9m-.4.1h.9m-1.3.4h.9m5.4.6h.9m-1.4.1h.9m-2.4.2h.9m-.8.4h.9m-.9 0h.9m1.6.4h.9m-4.4.4h.9m-1.6.2h.9m1.4 0h.9m1.4.4h.9m-3.9.1h.9m.3.2h.9m1.2.3h.9m-1.5.3h.9m-.6 1h.9m-2.8.1h.9m-1.3.3h.9m-.9.1h.9m1.1 0h.9m-2.2.3h.9m1.1.1h.9m-2.6.3h.9m3.3.1h.9m-4.1.1h.9m-1.4.3h.9m1.9.1h.9m-1.6.7h.9m-1.3.1h.9m-1.3.4h.9" stroke="#9ab5a2" stroke-width="0.9" fill="none"/>
<path d="M222 385.1h.8m-2 .7h.8m-4.6.8h.8m2.2.7h.8m-3.9.3h.8m6.8.7h.8m-2.6.5h.8m3.6 1h.8m-3.7.4h.8m-.7 0h.8m1.9 2.1h.8m-.3.3h.8m.4.5h.8m-1.9.5h.8m-1.6.2h.8m.2 1.3h.8m3.1.1h.8m-4.5.1h.8m2 .4h.8m-1.8.3h.8m-3 .6h.8m1.8.2h.8m1 .1h.8m.4.1h.8m-4.3.8h.8m4.9 1h.8m-3.5.2h.8m-1.7.8h.8m3.6 1.5h.8m-3.5 1.3h.8m1.7.7h.8m1.7 0h.8m-2.1.2h.8" stroke="#c8c8c8" stroke-width="0.8" fill="none"/>
<path d="M238.2 401.4h.9m-.8.3h.9m-1.7.1h.9m-.6.6h.9m-2.7.7h.9m-1.4.5h.9m1.5.2h.9m-3.6.2h.9m4.6.2h.9m-3.4.2h.9m.7 0h.9m-2.6.1h.9m.1.2h.9m1.1.2h.9m-5.7.2h.9m-.7 0h.9m-2.9.3h.9m1.7.1h.9m.7.1h.9m1.6 0h.9m0 .1h.9m-5.8.1h.9m.6 0h.9m-2.1.2h.9m1.2.1h.9m0 .1h.9m-4.8.1h.9m6.6.4h.9m-8.7.1h.9m5.7 0h.9m-.1.1h.9m-.8.5h.9m-1.6.2h.9m.5 0h.9m-5.2.2h.9m1.8.1h.9m-1.8.3h.9m-4.1.1h.9m5.4 0h.9m-.6 0h.9m-4.7.2h.9m.3 0h.9m.1 0h.9m-0 0h.9m-3.9.2h.9m3.4.1h.9m-4.6.1h.9m-.5.1h.9m2 0h.9m-6.9.1h.9m-.4.1h.9m4.8 0h.9m-.1.1h.9m-4.4.4h.9m-1.7.2h.9m1.7.2h.9m-2.3.1h.9m-.8.1h.9m-1.5.1h.9m1 .4h.9m-2.2.9h.9m-1.2.4h.9" stroke="#c1a18d" stroke-width="0.9" fill="none"/>
<path d="M235.6 404.3h.8m4.5.6h.8m-4.6.4h.8m-1.4 1.7h.8m3.5.2h.8m2.1 1h.8m-4.2.3h.8m3.9 0h.8m-6.1.1h.8m2.6 1.6h.8m-1 .5h.8m-.2.1h.8m-1.3.6h.8" stroke="#c8c8c8" stroke-width="0.8" fill="none"/>
<path d="M164.2 384.4h.9m0 1.1h.9m-1.9.9h.9m-.4.7h.9m-1.1.4h.9m-.2.1h.9m-1.8.9h.9m1.6.1h.9m-5.2.2h.9m-3.5.1h.9m.8.4h.9m-.5.2h.9m2.7.7h.9m-.2.7h.9m-7.6.6h.9m-3.8.7h.9m8.1.7h.9m-9.5.2h.9m5.9 0h.9m-7.3.3h.9m7.4.8h.9m-3.4.5h.9m-.1.4h.9m-2.3.9h.9m-4.8.8h.9m2.3.4h.9m5.9.5h.9m-11.7.2h.9m3.3.1h.9m.8 0h.9m-7.2.2h.9m.2 0h.9m8.1 0h.9m-9 .1h.9m5.5 0h.9m-9 .1h.9m2.6 0h.9m3.3.1h.9m-6.2.3h.9m1.8.1h.9m-.6.1h.9m1.7 0h.9m-.1 0h.9m-4.7.2h.9m-4.8.1h.9m7 0h.9m-0 .2h.9m-7.7.1h.9m1.5 0h.9m-5.5.1h.9m8.5 0h.9m-4.4.2h.9m-6.8.2h.9m0 .1h.9m-3.6.3h.9m2.3 0h.9m8.3.1h.9m-4.4.1h.9m-2.7.1h.9m2 0h.9m.1 0h.9m-3.8.1h.9m-4.5.1h.9m-3.3.1h.9m-.4 0h.9m.7.2h.9m2.4 0h.9m-8.9.5h.9m12.3.1h.9m-12.2.1h.9m4.9.1h.9m-2.9.2h.9m.4.1h.9m-.8 0h.9m-.7 0h.9m1.6 0h.9m2.3 0h.9m-.8 0h.9m-8 .1h.9m-2.6.2h.9m-1.5.3h.9m3.8 0h.9m-6.4.2h.9m2.1 0h.9m-4.5.1h.9m10 0h.9m-8.5.3h.9m-4.6.2h.9m7.2.2h.9m-4 .2h.9m3.4.1h.9m-4.5.1h.9m-.2 0h.9m-7.4.1h.9m2.6 0h.9m-.1.5h.9m-1 .4h.9m7.5.1h.9m-10.6.1h.9m1.5 0h.9m2.9 0h.9m-12.3.1h.9m6.4 0h.9m2.4.1h.9m.5 0h.9m-2.5.2h.9m-3.2.1h.9m-.2 0h.9m-.4 0h.9m-8.1.2h.9m8.3.2h.9m.2.1h.9m-6.1.1h.9m-.3.1h.9m.2 0h.9m3.1 0h.9m-7.6.1h.9m5.1 0h.9m-4.2.1h.9m-6.3.1h.9m4 0h.9m-4.9.2h.9m6.7.1h.9m-6.5.2h.9m-.3 0h.9m.9.1h.9m2.8 0h.9m1 0h.9m-9.7.3h.9m-.7.1h.9m8.3 0h.9m-8.1.2h.9m6.2.3h.9m-6.1.1h.9m-6.8.2h.9m-.6.2h.9m8.8.2h.9m-13.1.2h.9m6.1 0h.9m-5.1.2h.9m3 0h.9m1.3 0h.9m-1.2.2h.9m2.9.2h.9m-6.7.1h.9m-.4 0h.9m-.1 0h.9m-5.9.1h.9m.4.1h.9m4.9.1h.9m-9.5.3h.9m4.1 0h.9m.2.1h.9m2.4 0h.9m-3.6.1h.9m-1.7.5h.9m.6.2h.9m-6.9.6h.9m3.4.2h.9m2.4.1h.9m-4 .2h.9m-3.9 1.1h.9" stroke="#3f9850" stroke-width="0.9" fill="none"/>
<path d="M164.8 382.7h.9m-3.9 1.1h.9m2.8.9h.9m-.4.2h.9m-7.2.4h.9m2 0h.9m-1.5.3h.9m1.9.4h.9m-4.3.1h.9m1.4.2h.9m-.4.3h.9m-.7.1h.9m-2.2.5h.9m2.4.1h.9m-3.8.1h.9m1.6.5h.9m-.3.1h.9m-2.4.2h.9m-.8.2h.9m-5.4.4h.9m.4.1h.9m-.5 0h.9m.8.3h.9m-1.5.1h.9m-6.4.1h.9m5.2.4h.9m-3.5.2h.9m2.5.1h.9m-.1 0h.9m-2.9.1h.9m2.8 0h.9m-7.9.1h.9m5.4 0h.9m-.2.6h.9m-9.4.1h.9m-.5.1h.9m7 .2h.9m-4.4.1h.9m-.4.1h.9m-6.8.4h.9m2.5 0h.9m4.9 0h.9m-2.9.3h.9m-2.1.1h.9m-7.2.1h.9m.8 0h.9m3.2 0h.9m3 0h.9m-.9.1h.9m-2.7.2h.9m.3 0h.9m-1.7.1h.9m-10.3.3h.9m1.8.1h.9m6.3 0h.9m-7.7.1h.9m1.9.3h.9m-3.6.1h.9m4.8.3h.9m1.5.1h.9m-11.4.1h.9m-.1.5h.9m2.7 0h.9m5.5 0h.9m-2.5.1h.9m-1.3.1h.9m-9.5.1h.9m.4.1h.9m5.6 0h.9m-5.8.2h.9m-.7 0h.9m4.2 0h.9m-11.2.1h.9m2.6 0h.9m6.5 0h.9m-4.2.2h.9m0 0h.9m-0 0h.9m-8.1.3h.9m-.2 0h.9m5.9.1h.9m-.3.2h.9m-3.2.4h.9m1.3 0h.9m-7.2.1h.9m6.6 0h.9m-8 .1h.9m4.7 0h.9m-7.1.1h.9m3.4.1h.9m-1.6.1h.9m.1.6h.9m-1.2.1h.9m1.5.1h.9m-6.1.1h.9" stroke="#b9c7b9" stroke-width="0.9" fill="none"/>
<path d="M165.2 392h.8m-.1 0h.8m1.4 3.1h.8m-4.9.2h.8m-7.7.2h.8m10.6.1h.8m-1.7 1.5h.8m-6.8 1.2h.8m3.7.1h.8m-3.3.4h.8m-6.8.1h.8m4.3.3h.8m5.7.2h.8m-1.7.1h.8m-.8.1h.8m-7 .4h.8m-1.4.3h.8m1 .2h.8m.6.5h.8m2.5.6h.8m-4.7.4h.8m3.3.2h.8m-6.7.5h.8m-.1.1h.8m-.8.9h.8m4.9 0h.8m-9.3.8h.8m3.2.1h.8m3.4.3h.8m-9.7.2h.8m5.5.4h.8m-1.1 1.3h.8m-5.5.3h.8m3.2.8h.8m.7.1h.8m-7.3.3h.8m3.3.1h.8m-.2.2h.8m4.3.3h.8m-9.4.6h.8m2.2 0h.8m.5.1h.8m-6 1.7h.8m4.1 1.5h.8" stroke="#c8c8c8" stroke-width="0.8" fill="none"/>
<path d="M148.9 394h.9m.7.3h.9m.6.5h.9m-1.5.5h.9m-4.9.4h.9m3.6 0h.9m-2.6.2h.9m1.5 0h.9m-2.3.2h.9m2.5.2h.9m-1.5.4h.9m3.1.1h.9m-12.2.1h.9m3.7 0h.9m-.3.2h.9m2 0h.9m-6.2.3h.9m2.3 0h.9m-7.4.4h.9m8.2.2h.9m-.8.4h.9m-7.5.5h.9m5.1 0h.9m-9.1.1h.9m-2.1.1h.9m4.9 0h.9m2.6 0h.9m-9.8.2h.9m2.2 0h.9m-2 .1h.9m.9 0h.9m-2 .2h.9m-4.2.3h.9m7.8.5h.9m0 0h.9m-3.2.1h.9m-1.5.3h.9m-1.7.3h.9m7.9 0h.9m-14.6.1h.9m3.3 0h.9m3.2 0h.9m-6.9.1h.9m6.3.4h.9m-10.5.1h.9m-2.9.5h.9m-.7 0h.9m-.3 0h.9m5.6 0h.9m2.4 0h.9m-10.1.2h.9m2.5 0h.9m1.4 0h.9m-.7.1h.9m3.2 0h.9m-4.9.1h.9m.4.2h.9m-.5.3h.9m-7.5.1h.9m.1 0h.9m5.1 0h.9m3.7 0h.9m-10.1.2h.9m-2.1.4h.9m10.5.1h.9m-3.7.1h.9m1.7.1h.9m-15.9.1h.9m6.1 0h.9m0 .1h.9m-7 .1h.9m-.3 0h.9m-.5 0h.9m-.7 0h.9m7.4 0h.9m-2 .1h.9m.8 0h.9m-12.3.1h.9m10.8.1h.9m-3.4.1h.9m-8.8.1h.9m4.7 0h.9m3.5 0h.9m-8.7.1h.9m4.9 0h.9m3.5 0h.9m-5.5.1h.9m2.6.1h.9m.5 0h.9m-10.9.4h.9m4.5 0h.9m-6.5.2h.9m2.8.2h.9m-.6 0h.9m-7.4.1h.9m10.7 0h.9m-.4.2h.9m-.2 0h.9m-13.4.1h.9m7 .1h.9m-9.4.1h.9m3.7 0h.9m.4.1h.9m1.4.1h.9m-4.6.1h.9m4.8.1h.9m-11.4.1h.9m8.9 0h.9m-8.9.1h.9m4.3 0h.9m2.4.1h.9m2.3 0h.9m.6 0h.9m-13.4.2h.9m10.1 0h.9m-15.4.1h.9m13.8 0h.9m-10.5.2h.9m4.3 0h.9m5.2 0h.9m-12.2.1h.9m-2.9.1h.9m.4 0h.9m-6.8.1h.9m.1.1h.9m2.4.1h.9m3.6 0h.9m9.4 0h.9m-14.8.1h.9m9.9 0h.9m-10.2.1h.9m1.2 0h.9m-3.5.1h.9m2.9.1h.9m-3.1.1h.9m.1 0h.9m-7.3.1h.9m4 .1h.9m1.2 0h.9m4.3 0h.9m-10.5.1h.9m.2 0h.9m4.5 0h.9m-13.9.1h.9m4.6 0h.9m4.5.2h.9m-7.8.1h.9m10.2 0h.9m-6.3.1h.9m-2.6.2h.9m1.2.2h.9m1.5 0h.9m6.9 0h.9m-15.5.1h.9m9.7 0h.9m-7.1.1h.9m-7.2.2h.9m11.5.1h.9m3.8.1h.9m-5.8.1h.9m-4.4.1h.9m-6.4.1h.9m7.6.1h.9m1.5 0h.9m-7.5.1h.9m-2 .1h.9m7.6 0h.9m-8.4.2h.9m-1.9.1h.9m-.2 0h.9m-5 .1h.9m11.3.1h.9m-3.9.2h.9m.3 0h.9m-6.9.1h.9m5.4 0h.9m-11.5.3h.9m-.5.1h.9m0 0h.9m4.1.1h.9m-7.7.2h.9m8.9 0h.9m-10.6.2h.9m5.5 0h.9m-5.6.2h.9m.7 0h.9m3.3 0h.9m-6.8.3h.9m.9 0h.9m-6.3.2h.9m2.5 0h.9m1.2 0h.9m-3.4.1h.9m7.7 0h.9m-9 .1h.9m2.4.1h.9m4.3.1h.9m-6.3.1h.9m2.1.2h.9m-.5.1h.9m.5 0h.9m-6.9.5h.9m3.5.2h.9m-7.8.1h.9m6.4.1h.9m-4 .1h.9m2.2.1h.9m-.5 0h.9m-4.6.1h.9m2.9 0h.9m-4.9.2h.9m1.4.2h.9m-4.2.1h.9m0 .2h.9m.9.4h.9m2.4.5h.9m-.3.3h.9m-5.5.7h.9m-.8.9h.9m.6 1h.9" stroke="#2f9142" stroke-width="0.9" fill="none"/>
<path d="M151.6 395h.8m-2.9.8h.8m-2.2 1.6h.8m1.5.2h.8m-4 .1h.8m0 .3h.8m-2.5.2h.8m-.7.1h.8m6.7.5h.8m-2.5 1.2h.8m4.1.1h.8m-9.3.9h.8m1 0h.8m-.4.9h.8m3.2.3h.8m-11.2.6h.8m4.1.4h.8m-2.5.1h.8m3.4 0h.8m-3.8.4h.8m4.3.1h.8m2.9.4h.8m-1.5 1.3h.8m-3.7.2h.8m1.6.2h.8m-4.9.2h.8m5.6.2h.8m-8.7.1h.8m-1.8.5h.8m6.3 0h.8m-3.5.2h.8m-10 .2h.8m6.2.3h.8m-4.6.3h.8m9.1.2h.8m-12.4.2h.8m8.1 0h.8m-4.8.5h.8m-5.5.2h.8m2.5.1h.8m2 0h.8m5.5 0h.8m-13.6.1h.8m-1.5.7h.8m2.9.7h.8m4.4 0h.8m-.5.6h.8m1.7 0h.8m2.6.6h.8m-5.2.1h.8m-6.5.4h.8m3.1.8h.8m.4.7h.8m-4 .9h.8m.9.4h.8m-4.4.4h.8m-.9.4h.8m5.1 0h.8m-7.4 1.4h.8m2.1 0h.8" stroke="#c8c8c8" stroke-width="0.8" fill="none"/>
<path d="M169.7 407.8h.9m1 .2h.9m-1.1.5h.9m-3 .2h.9m2.1.3h.9m-.4.1h.9m-5.1.4h.9m-1.2.1h.9m4.4.3h.9m-4.7.4h.9m4.2.1h.9m-3.7.3h.9m3 0h.9m-1.8.3h.9m-2.5.1h.9m-4.2.1h.9m-5.7.1h.9m-2.2.1h.9m6.9.1h.9m0 .1h.9m-11.1.3h.9m6.3 0h.9m-5.4.1h.9m3 0h.9m6.2 0h.9m-3.9.2h.9m-8.8.2h.9m8 .1h.9m-5.6.1h.9m2.1.1h.9m-6.6.2h.9m.1.1h.9m1.8.1h.9m-3.8.2h.9m4.4 0h.9m-4.2.1h.9m3.9.2h.9m-6.8.1h.9m3.1 0h.9m-3.1.1h.9m-4.2.1h.9m6.4 0h.9m-13 .4h.9m.4 0h.9m.9 0h.9m5.6.3h.9m-12.7.1h.9m14.9 0h.9m-11.2.2h.9m-.8 0h.9m-3.2.3h.9m1.1 0h.9m.3 0h.9m5.9 0h.9m-5.9.1h.9m-8.1.1h.9m1.6 0h.9m-.9 0h.9m10.9 0h.9m-12.4.1h.9m.9 0h.9m.4 0h.9m-8.6.1h.9m8.8 0h.9m-5 .1h.9m-1.2.1h.9m1.4.4h.9m-2 .1h.9m-.9.1h.9m4.3 0h.9m3.6 0h.9m-13.4.1h.9m4 0h.9m-4.5.1h.9m-.8 0h.9m.6 0h.9m-6.7.1h.9m10.2 0h.9m-10.4.1h.9m.4.1h.9m3 0h.9m-4.9.1h.9m11.7 0h.9m-8.2.1h.9m4.1 0h.9m-9.1.1h.9m4 .1h.9m4 .1h.9m-5.5.1h.9m-1.9.1h.9m.1 0h.9m-2.6.2h.9m-5.5.1h.9m8.2 0h.9m1.1 0h.9m-5.5.1h.9m3.5 0h.9m-7.9.2h.9m.7 0h.9m4 0h.9m-7.3.1h.9m6.9.2h.9m-14.6.1h.9m4.3 0h.9m-.5.2h.9m-1.9.1h.9m1.9 0h.9m1.8.1h.9m-10 .1h.9m3.9 0h.9m-6.6.3h.9m4.4 0h.9m.3.1h.9m-2.6.1h.9m1.1.1h.9m.4.3h.9m2.5.1h.9m-10.5.2h.9m6.6.2h.9m-.4 0h.9m-3.5.2h.9m-1.7.1h.9m-2.8.3h.9m-2.7.1h.9m1.3 0h.9m2 .2h.9m-1.8.3h.9m-2.2.3h.9m.7.2h.9" stroke="#2f9142" stroke-width="0.9" fill="none"/>
<path d="M172.1 408.5h.8m-1.3.6h.8m-.3 0h.8m-6.5 1.2h.8m7 .3h.8m-1.2.4h.8m-9.2.4h.8m.6.3h.8m5.4 1.4h.8m2.9.1h.8m-11.9.2h.8m.8.1h.8m-6.2.2h.8m4.9 0h.8m2.3.1h.8m4 .4h.8m-2.1.3h.8m-9.6 1h.8m7.2.4h.8m1.8.2h.8m-14 .2h.8m6.5.2h.8m-11.3.3h.8m8.2.3h.8m2.6 0h.8m-4.4.2h.8m-4 .2h.8m.5 1h.8m1.7 0h.8m-5.4.2h.8m4.3 0h.8m.3.7h.8m-6.4.1h.8m7.8.1h.8m-10.2.1h.8m1.7.1h.8m1.5.1h.8m3.1 0h.8m-6.2.6h.8m.6.5h.8" stroke="#c8c8c8" stroke-width="0.8" fill="none"/>
<path d="M142.7 410h.9m1.1.3h.9m-.8 1.5h.9m1 .1h.9m-7.8.7h.9m7.7 0h.9m-5.6.1h.9m-3.3.2h.9m5.6 0h.9m-10.7.7h.9m2.3 0h.9m1 0h.9m2 .1h.9m-7.1.2h.9m3.1 0h.9m-.7 0h.9m.8 0h.9m1.9.2h.9m-4 .2h.9m-1 .1h.9m-7.4.1h.9m6 0h.9m-8.8.2h.9m8.5 0h.9m-5.2.3h.9m-1.4.2h.9m-3.3.1h.9m8.2 0h.9m-9.4.1h.9m9.1.1h.9m-11.9.3h.9m3.2 0h.9m6.4 0h.9m-13.4.2h.9m.7 0h.9m9.7.1h.9m-2.5.1h.9m-7.9.2h.9m-5.2.1h.9m2.1 0h.9m6.2 0h.9m-1.6.2h.9m-6.4.1h.9m-.6 0h.9m-5.5.1h.9m11.6.1h.9m-1.3.3h.9m-6.4.1h.9m-.8 0h.9m-4.3.1h.9m7.6.1h.9m-.2.1h.9m-11.4.1h.9m12.8 0h.9m-11.1.1h.9m3.7 0h.9m-.8 0h.9m-11.4.1h.9m10.4 0h.9m-2.6.2h.9m-6.8.2h.9m-3.9.1h.9m4.1 0h.9m6.8 0h.9m-11.6.6h.9m10.4 0h.9m-2.9.2h.9m-.3.1h.9m-13 .1h.9m.3 0h.9m11.5 0h.9m-14.7.1h.9m10.2 0h.9m-9.8.1h.9m4.7 0h.9m-7.2.2h.9m10.7 0h.9m1 .1h.9m-15.7.1h.9m11.6 0h.9m-13.6.1h.9m1.9 0h.9m9.2 0h.9m-12.4.1h.9m5 .1h.9m1.5 0h.9m-10.8.2h.9m.5 0h.9m6.6 0h.9m-3.8.1h.9m-3.7.2h.9m11.3.1h.9m-5.4.1h.9m-2.4.1h.9m.1 0h.9m-3.1.1h.9m.9 0h.9m.8.1h.9m-11.5.1h.9m4.2 0h.9m2.5.1h.9m-9.7.1h.9m.3 0h.9m4.9 0h.9m-1.6.1h.9m-3.1.1h.9m3.1.2h.9m-.2 0h.9m-1.5.2h.9m-5.6.1h.9m7.4.1h.9m-11.6.1h.9m2.2 0h.9m8.3 0h.9m-10.5.1h.9m2 0h.9m-.7.3h.9m-8.8.1h.9m10.5 0h.9m-7.3.1h.9m-1.8.2h.9m2 0h.9m-7.8.2h.9m2.7.1h.9m8.5.1h.9m-.2 0h.9m-10.1.1h.9m7 .1h.9m-10.4.1h.9m4.5 0h.9m2.7.1h.9m-6.7.2h.9m-2.2.2h.9m8.1 0h.9m-7.5.3h.9m1.2 0h.9m1.1.1h.9m-12.5.2h.9m3.6 0h.9m10.7 0h.9m-16 .1h.9m6.5 0h.9m-1.1.3h.9m4.5 0h.9m-3.9.2h.9m-1.2.2h.9m-3.2.1h.9m-6.6.2h.9m5.4 0h.9m-3.8.1h.9m.8 0h.9m-7.2.1h.9m1.4 0h.9m7.9 0h.9m0 0h.9m-6.9.1h.9m-2.8.1h.9m-.1.3h.9m3 0h.9m-6.5.3h.9m.8 0h.9m-3.7.2h.9m-3.6.1h.9m2.3 0h.9m5.6.1h.9m1.6.3h.9m.6 0h.9m-12 .1h.9m6.2.1h.9m-10.2.1h.9m10 0h.9m-11.6.1h.9m.9 0h.9m5.3 0h.9m-7.3.1h.9m9.6 0h.9m-9.4.2h.9m-2.9.3h.9m.3 0h.9m3.6.1h.9m-5.2.1h.9m-1.8.2h.9m10.1 0h.9m-5.2.4h.9m-4.6.1h.9m-6.3.1h.9m.5.1h.9m2.4.2h.9m7.4.3h.9m-10.9.1h.9m-4.3.3h.9m11.8.1h.9m-9.8.1h.9m.1 0h.9m-.3.1h.9m5.6.1h.9m1.6 0h.9m-12.4.1h.9m9.8 0h.9m-8.5.3h.9m2 0h.9m-8.8.1h.9m7.2 0h.9m1.5 0h.9m-2.9.1h.9m-3.4.1h.9m-2.3.2h.9m-.5 0h.9m6.3 0h.9m-9.5.1h.9m-4.5.1h.9m11.8.1h.9m-14.4.1h.9m5.2.1h.9m-.2 0h.9m-6.6.2h.9m3.9.1h.9m1.2 0h.9m4.4 0h.9m-11.5.4h.9m2.8.1h.9m2.3 0h.9m.4 0h.9m.1 0h.9m-.2.3h.9m-8.5.1h.9m4.4 0h.9m-.1 0h.9m-9.9.1h.9m.8 0h.9m.3 0h.9m3.6 0h.9m-8 .1h.9m10.5.3h.9m-14.4.1h.9m9.8 0h.9m1.3 0h.9m-10.9.3h.9m-1.3.4h.9m3.8.1h.9m2.8 0h.9m.9 0h.9m-10.8.1h.9m.7.4h.9m6.5.1h.9m-3.7.1h.9m.8 0h.9m-10.3.1h.9m5.4 0h.9m-.1 0h.9m-4 .3h.9m-.7 0h.9m3.3 0h.9m-.7 0h.9m-8.1.1h.9m-.7 0h.9m3.9.1h.9m3.2.1h.9m-4.9.1h.9m3.5 0h.9m-12 .1h.9m1.1 0h.9m4.8 0h.9m-8.4.1h.9m4.3 0h.9m1.7 0h.9m1.5.4h.9m-7.6.2h.9m-1.2.1h.9m5.5.2h.9m-2.9.1h.9m-4.3.1h.9m0 .1h.9m-.2.1h.9m1.6.1h.9m1.4.1h.9m-2.3.2h.9m-11 .1h.9m11.8.1h.9m-6 .1h.9m-3.6.7h.9m1.8 0h.9m1 1.3h.9" stroke="#b5c2b5" stroke-width="0.9" fill="none"/>
<path d="M141.6 409.8h.9m-1 .2h.9m.1.1h.9m-1.8.2h.9m-1.5.6h.9m1.2.2h.9m-4.9.7h.9" stroke="#5fa86c" stroke-width="0.9" fill="none"/>
<path d="M144 408.7h.8m2.7 0h.8m-7 1.2h.8m-.3 1.4h.8m-.7 1.1h.8m.8.1h.8m1.4 0h.8m-3.6.2h.8m1.4.2h.8m.7.3h.8m-7.9.2h.8m3.6.3h.8m-6.1.3h.8m7.3 0h.8m0 .6h.8m-4.2.2h.8m-4.4.1h.8m9.8 0h.8m-4.4 1.1h.8m3.2.7h.8m-11.6.2h.8m.3.2h.8m3.8 0h.8m-9 .2h.8m6.4 0h.8m4.4.5h.8m-.1.2h.8m-5 .2h.8m-11 .4h.8m5.1.2h.8m4.3.9h.8m1.3.4h.8m.5 0h.8m-15.3.3h.8m8.3.5h.8m4.1 1.2h.8m-9.6.1h.8m5.3.2h.8m-3.6.5h.8m-1.7.1h.8m-5.3.1h.8m5.3.2h.8m-8.1.1h.8m-2.1.1h.8m2.1 0h.8m4 .4h.8m7.1 0h.8m-13 .3h.8m4.6 0h.8m-.4 0h.8m-5.5.2h.8m.8.6h.8m-2.9.1h.8m5.3.7h.8m-7.8.1h.8m3.5.2h.8m-1.4.1h.8m.7.5h.8m-7.6.2h.8m.7.1h.8m2.5.5h.8m-5.8.4h.8m3.7.2h.8m-7.4.4h.8m4 0h.8m1.4.3h.8m-7.4.9h.8m7.3.6h.8m3.1 1h.8m-5.1.1h.8m2.5.2h.8m-11.7.3h.8m-.2.4h.8m2.9.7h.8m-4.9.5h.8m8.9.1h.8m-9.9.4h.8m-1.7.7h.8m-.5 0h.8m6.2 0h.8m-2.7.1h.8m-3.4.1h.8m7.9.2h.8m-7.1.6h.8m-4.1.4h.8m6.5.2h.8m-3.4.5h.8m2.7 1.9h.8m-6.5.4h.8m7.7 0h.8m-3.3.5h.8m-7.8.4h.8m4.8.2h.8m-1.1.8h.8" stroke="#c8c8c8" stroke-width="0.8" fill="none"/>
<path d="M159 415.1h.9m-2.8.2h.9m-1.5.5h.9m-3.4.1h.9m2.2 0h.9m-.8.3h.9m1.2.3h.9m-2.6.3h.9m-4 .3h.9m1.8 0h.9m-5.4.5h.9m5.8.5h.9m-.7 0h.9m0 .2h.9m-8.8.3h.9m1 .2h.9m1.6.3h.9m-.5 0h.9m-4.7.1h.9m7.1 0h.9m-1.5.1h.9m-.2 0h.9m-5.4.1h.9m.8.2h.9m2.4 0h.9m-10.7.2h.9m1.8.1h.9m8.8 0h.9m-4.9.1h.9m4.6.1h.9m-1.7.2h.9m-10.1.1h.9m7.1.2h.9m-5.7.1h.9m3 .1h.9m-10.4.1h.9m5 0h.9m-5.3.1h.9m-.5 0h.9m-0 0h.9m6.3 0h.9m-9.4.1h.9m5.8 0h.9m-5.2.1h.9m4.8.1h.9m-9.8.1h.9m-2.6.1h.9m9.2.2h.9m3.9 0h.9m-16.7.1h.9m.8.1h.9m-1.9.1h.9m6.7.1h.9m5.2 0h.9m-11.9.2h.9m9.9 0h.9m.9.2h.9m-3.9.1h.9m-14.7.1h.9m5.5 0h.9m-.4 0h.9m-5.6.1h.9m2.7 0h.9m-.2 0h.9m-.1 0h.9m-7.5.2h.9m14.9 0h.9m-19.1.1h.9m3.1 0h.9m-.4 0h.9m3.3 0h.9m4.1 0h.9m-.8 0h.9m.5.1h.9m-9.9.1h.9m6.6 0h.9m-12.9.1h.9m-.7.4h.9m10.3 0h.9m1.3 0h.9m-2.4.1h.9m2.7 0h.9m-7.8.1h.9m4.1 0h.9m-7.7.1h.9m5.6 0h.9m1.6 0h.9m-14.4.1h.9m2.9 0h.9m8.1 0h.9m-8 .1h.9m6 .5h.9m-13.5.1h.9m9.4.1h.9m-6 .3h.9m3.3 0h.9m-2.9.1h.9m-6 .2h.9m1.8 0h.9m6.7 0h.9m-9.9.1h.9m6.9.3h.9m-6.2.3h.9m5 .1h.9m-5.1.1h.9m-2.9.1h.9m-3.6.1h.9m-7 .1h.9m13.7 0h.9m-.3 0h.9m-4.8.1h.9m-11.5.2h.9m10.8 0h.9m.7 0h.9m-3.4.1h.9m-.5 0h.9m-10.5.1h.9m6.8 0h.9m.9.1h.9m-12.8.1h.9m11.2.1h.9m.2.1h.9m-13.2.2h.9m9.7 0h.9m3 0h.9m-7.2.4h.9m-10.6.1h.9m6.6.1h.9m-.4 0h.9m.7 0h.9m.5.1h.9m2.1.1h.9m-.4 0h.9m-9.3.2h.9m3.5.1h.9m-9.5.1h.9m9.3 0h.9m-12.2.1h.9m1.4 0h.9m2.3.1h.9m-7.9.2h.9m.9 0h.9m3.6.2h.9m.1 0h.9m-6.1.1h.9m-.4 0h.9m5.2.1h.9m-6.9.1h.9m3.8 0h.9m-5.1.1h.9m-.3 0h.9m8 0h.9m-3.8.1h.9m5.3 0h.9m-14.4.1h.9m8.9.1h.9m2.4 0h.9m-4.1.1h.9m-8.4.2h.9m2.5 0h.9m2.1 0h.9m-1.1.1h.9m-.2 0h.9m-8.1.2h.9m7.8.1h.9m-5.9.1h.9m-.8 0h.9m-3 .3h.9m3.5 0h.9m2 .1h.9m-6.7.1h.9m5.6.1h.9m-12.6.1h.9m7.2 0h.9m1.6 0h.9m1 0h.9m.1 0h.9m-4.7.1h.9m1.3 0h.9m-7.5.1h.9m4 0h.9m-.7 0h.9m-.7.1h.9m-3.7.2h.9m1.2 0h.9m1.7.1h.9m-7.3.1h.9m3.4 0h.9m-11.8.1h.9m7.3 0h.9m-1.3.1h.9m-5.8.4h.9m6.2.1h.9m-.3.2h.9m-11.1.2h.9m2.9.1h.9m-.6 0h.9m2 .1h.9m-1.3.2h.9m.2.1h.9m-11.3.3h.9m5.6 0h.9m-5.4.1h.9m9.4.1h.9m-8.2.1h.9m-6.1.4h.9m7 .1h.9m-3.4.1h.9m-1 .3h.9m-4.6.1h.9m1.7.6h.9m3.2.1h.9m-1.2.1h.9m-.8.3h.9m-5.6.1h.9m3.7.2h.9m-6.9.1h.9m1.7.1h.9m-1.1.1h.9m-2.8.3h.9m3.8.1h.9m-2.8.1h.9m-4.2.1h.9m9.2.1h.9m-.3 0h.9m-9.7.1h.9m2.5.1h.9m-3.1.1h.9m2.4 0h.9m-3.5.7h.9m-4.7.2h.9m.2.6h.9m1.3.4h.9m1.1 0h.9m-2.7.1h.9m-1.5.1h.9m-4.9.6h.9m2.8.1h.9m4.9.2h.9m-7.2.6h.9m-.6.8h.9m-2.2.1h.9m1.3.7h.9m-1.6.5h.9m1 .3h.9" stroke="#c9b8aa" stroke-width="0.9" fill="none"/>
<path d="M155.7 416h.8m-.7.9h.8m.6 0h.8m1.9.8h.8m-4.2 1.1h.8m-.5 0h.8m-6.3.5h.8m8.4.1h.8m-6.6.1h.8m.8.1h.8m11.9.1h.8m-16.8.9h.8m1.1 0h.8m-4 .6h.8m-1.2.2h.8m18.1 0h.8m-6.3.1h.8m-12.2 1.4h.8m.8.1h.8m3.3.9h.8m-9.3.1h.8m10.8.5h.8m.1.2h.8m-3.1 1.2h.8m3.1.2h.8m-3 1.2h.8m-5.2.2h.8m-4.3.1h.8m.3.1h.8m-3 .2h.8m.8.3h.8m2.5.1h.8m-9 .1h.8m4.8.5h.8m3.5.1h.8m-1.8.1h.8m3.4 0h.8m-7.3 1h.8m-.9.4h.8m4.5.5h.8m-3.2 1.3h.8m5.4 0h.8m-13.1.2h.8m9.9.9h.8m-15.3 2h.8m.9.5h.8m.1.8h.8m-3.1 1.6h.8m3.4.5h.8m-4.6.8h.8m-.2.1h.8" stroke="#c8c8c8" stroke-width="0.8" fill="none"/>
<path d="M137 434.6h.9m.6 1.8h.9m3.7.3h.9m-3.3.7h.9m-4.1.1h.9m-.7.7h.9m-.2.2h.9m.4.6h.9m1.2.1h.9m4.4 0h.9m-5.6.1h.9m2.3.4h.9m-1.9.2h.9m-6.2.3h.9m.4.3h.9m-.4 0h.9m5 0h.9m-2.2.1h.9m4.5.1h.9m-7.3.2h.9m.7 0h.9m-6.9.3h.9m-1.7.1h.9m.2 0h.9m3.6 0h.9m2.1 0h.9m2.9.2h.9m-13.2.3h.9m3.2 0h.9m8.5.1h.9m-15.2.1h.9m15.1 0h.9m-15.2.1h.9m13.7.1h.9m-5.4.1h.9m2.7 0h.9m-15.9.4h.9m6.3 0h.9m-3.8.1h.9m5.4 0h.9m2.8.1h.9m-7.8.1h.9m2.3 0h.9m.1 0h.9m-10.9.1h.9m1.4 0h.9m.8 0h.9m4.3 0h.9m-8.8.4h.9m10.6 0h.9m-13.6.1h.9m7.1 0h.9m1.7 0h.9m-4.6.1h.9m-8.5.1h.9m5.4 0h.9m.1 0h.9m-5 .1h.9m5.9 0h.9m-.7 0h.9m.5 0h.9m-12.5.2h.9m6.7 0h.9m.1 0h.9m3.8 0h.9m-14.1.1h.9m13.2.1h.9m-.7.1h.9m-9.1.1h.9m4.5 0h.9m-3.6.1h.9m4.3.1h.9m-15.2.1h.9m5 0h.9m2.9 0h.9m-5.1.1h.9m-4.9.1h.9m1.7 0h.9m1.8 0h.9m1.9 0h.9m-.4.1h.9m1.7 0h.9m-4.8.2h.9m-.1 0h.9m3.8 0h.9m-2.1.1h.9m-11.7.1h.9m5 0h.9m-.3.1h.9m-7.1.3h.9m9.8 0h.9m-11.6.2h.9m.7.1h.9m4.4 0h.9m-6.1.1h.9m9.7.3h.9m.3 0h.9m-11.6.3h.9m.6 0h.9m.7 0h.9m-3.5.4h.9m3.8.2h.9m-4.4.5h.9m3.3 0h.9m1 0h.9m-6.2.1h.9m2.3 0h.9m2.2.1h.9m-6.7.2h.9m.9 0h.9m1.7.4h.9m-5.1.2h.9m1.4.7h.9m1.4.2h.9m-3.2.1h.9m-1.6.3h.9m-.1.5h.9" stroke="#df7a2a" stroke-width="0.9" fill="none"/>
<path d="M145.2 437.8h.8m-6.9.7h.8m-1.5.8h.8m5.8 1.3h.8m1 .1h.8m-.3.1h.8m.5.5h.8m-9 1h.8m5.4 0h.8m2.4.1h.8m-1.8.1h.8m-9.2.6h.8m1.5.4h.8m9.9.2h.8m-12.4.1h.8m1.1 0h.8m10.4 0h.8m-3.2.4h.8m-12.9.5h.8m-0 .5h.8m6.8 0h.8m-3.6.7h.8m5.4 1.2h.8m-4.1.3h.8m-.9.1h.8m-.5.3h.8m-.6.3h.8m-1.1 1.4h.8m.9 0h.8m1.4 1.2h.8m-.3.4h.8" stroke="#c8c8c8" stroke-width="0.8" fill="none"/>
<path d="M164.4 433.6h.9m.2 0h.9m-.5.7h.9m-1.6.6h.9m-1.5.1h.9m-6.7.5h.9m4.1.6h.9m-2.5.1h.9m2.8.2h.9m-1.1.4h.9m-7.1.4h.9m5.4 0h.9m-6.2.4h.9m-2.5.3h.9m-1.8.7h.9m1.8.4h.9m-1 .1h.9m2.9 0h.9m-6.1.1h.9m6.3 0h.9m-9.3.2h.9m.8 0h.9m2.2 0h.9m-2.5.1h.9m-4.7.4h.9m1.9 0h.9m-.3 0h.9m-4.7.1h.9m.9.1h.9m2.7 0h.9m-.1.1h.9m-1 .2h.9m.4.2h.9m-10.3.1h.9m1.2 0h.9m7.2 0h.9m.4 0h.9m-11.1.1h.9m-.8 0h.9m7.6 0h.9m.5 0h.9m-6.6.3h.9m1.5 0h.9m-.1 0h.9m-4.3.1h.9m1 .1h.9m-7.9.1h.9m5.9 0h.9m2.1.2h.9m-3.3.1h.9m-5 .1h.9m-.3.3h.9m-4.9.1h.9m2.7 0h.9m6.7 0h.9m-7.6.2h.9m-2.7.1h.9m-1.1.1h.9m-2.9.1h.9m8.6 0h.9m-.8 0h.9m-7.2.2h.9m-4.2.1h.9m6.4 0h.9m3.2 0h.9m-10.4.1h.9m3.8.1h.9m-3.4.1h.9m-.3 0h.9m2.3 0h.9m-.3 0h.9m.1.1h.9m-5.8.2h.9m3.9.1h.9m.1.1h.9m-4.8.1h.9m.7.1h.9m-7.8.1h.9m5.7.1h.9m-3 .3h.9m2.6 0h.9m-.7.3h.9m-11.1.2h.9m8.4.3h.9m-2.8.8h.9m.2.1h.9m1.2 0h.9m-5.3.1h.9m-.2 0h.9m-2.9.1h.9m-0 .1h.9m-5.5.5h.9m2.1.1h.9m3.5.2h.9m3.3.1h.9m-14.2.3h.9m11.9 0h.9m-2.5.1h.9m-.8.2h.9m-4.7.3h.9m-.9 0h.9m2.1 0h.9m-11.4.2h.9m4.3 0h.9m3.8.4h.9m-5 .1h.9m-2.8.2h.9m6.3 0h.9m-6.4.1h.9m5.1 0h.9m-10.1.1h.9m-6.1.1h.9m8.6 0h.9m-.2.1h.9m-7.4.1h.9m8.4.4h.9m-11.3.1h.9m10.7 0h.9m-10.8.2h.9m5.7 0h.9m-9.7.1h.9m10.9.1h.9m-2.1.1h.9m2.9 0h.9m-.6 0h.9m-7.5.1h.9m-8.3.1h.9m10.7.1h.9m1 0h.9m-9.8.1h.9m-6.9.1h.9m2.9 0h.9m5.5.1h.9m-10.5.1h.9m4.3 0h.9m6.8 0h.9m-10.4.2h.9m.5 0h.9m-1.7.1h.9m3.9 0h.9m.3 0h.9m-3.3.1h.9m2.2 0h.9m2.9 0h.9m-.4.3h.9m-5.2.1h.9m-8.1.1h.9m4.2 0h.9m-8.3.2h.9m6.3 0h.9m-6.5.1h.9m1.2 0h.9m-2.2.1h.9m2.4 0h.9m5.9.2h.9m-9.6.1h.9m3 0h.9m-7.6.1h.9m2.5.1h.9m-4 .1h.9m9.8 0h.9m-10.2.1h.9m7 0h.9m-1.1.1h.9m-4.1.1h.9m3.6 0h.9m1.3 0h.9m-6.1.1h.9m2 0h.9m1.2.2h.9m-10.3.1h.9m1.1 0h.9m7.2.1h.9m-4.4.4h.9m-6.5.1h.9m-.1 0h.9m-3 .1h.9m9.3.4h.9m-9.7.1h.9m-.3 0h.9m1 0h.9m.1 0h.9m.4 0h.9m2.9 0h.9m-7.3.1h.9m-3.4.2h.9m.1.1h.9m6.8 0h.9m-8.8.2h.9m2.4.1h.9m-2.9.1h.9m4.7.1h.9m-5.3.4h.9m.5 0h.9m.8.1h.9m-4.4.2h.9m.8.7h.9" stroke="#e08a45" stroke-width="0.9" fill="none"/>
<path d="M165.1 435h.8m-.4.1h.8m-2.9 1.1h.8m-4.6.9h.8m4.3.7h.8m-1 .1h.8m-2.5.2h.8m-4.4.6h.8m3.6.6h.8m-6.7.3h.8m.4 1.3h.8m3.1.2h.8m.3.5h.8m-5.7.1h.8m5.3.3h.8m-1.8.4h.8m1.4 0h.8m-.1.1h.8m-5.9.4h.8m4.1 0h.8m-4.5.5h.8m1.2 0h.8m.7.3h.8m-4.6.2h.8m-6.7.3h.8m8 .9h.8m-9.7.4h.8m-5 1h.8m7.6 0h.8m-4.2.6h.8m1.4.4h.8m6.2 0h.8m-8.9.7h.8m3.3.4h.8m-7.5.2h.8m4.4.2h.8m2 .2h.8m2.6 0h.8m-1.4.2h.8m-8.2 1.3h.8m1.8 0h.8m-8.9 1.1h.8m.2.2h.8m-1.7.2h.8m10.3 0h.8m-8.2.2h.8m1.5.5h.8m-1.8.4h.8m9.2.3h.8m-11.8.8h.8m3.1.1h.8m3.6.4h.8m-3.1.1h.8m-2.4 1.7h.8m2.3.4h.8" stroke="#c8c8c8" stroke-width="0.8" fill="none"/>
<path d="M142.4,399.5 L138.5,395.7 L139.0,398.3 L136.9,400.0z" fill="#3c4a6a"/>
<path d="M171.5,398.8 L176.7,400.6 L175.1,398.4 L176.3,396.0z" fill="#3c4a6a"/>
<path d="M180.2,418.7 L184.1,422.5 L183.6,419.9 L185.7,418.2z" fill="#3c4a6a"/>
<text x="192.40" y="436.92" font-size="7" text-anchor="middle" fill="#222">Mouse</text>
<text x="232.00" y="436.92" font-size="7" text-anchor="middle" fill="#222">Human</text>
<line x1="195.00" y1="440.50" x2="209.40" y2="440.50" stroke="#6a7a9a" stroke-width="0.5"/>
<path d="M195,439.6 L193.3,440.5 L195,441.4z" fill="#6a7a9a"/>
<line x1="214.00" y1="440.50" x2="228.50" y2="440.50" stroke="#6a7a9a" stroke-width="0.5"/>
<path d="M228.5,439.6 L230.2,440.5 L228.5,441.4z" fill="#6a7a9a"/>
<rect x="193.3" y="443.4" width="36.7" height="4.7" fill="url(#enr)"/>
<text x="211.90" y="455.82" font-size="7" text-anchor="middle" fill="#222">Enrichment</text>
<text x="0.30" y="501.50" font-size="10" text-anchor="start" fill="#000" font-weight="bold">g</text>
<text x="55" y="508.45" font-size="6.8" font-style="italic"><tspan fill="#dd22dd">OLIG2</tspan><tspan fill="#333">/</tspan><tspan fill="#19a150">NKX2-2</tspan><tspan fill="#333">/</tspan><tspan fill="#4464ae">ISL1</tspan></text>
<text x="58.5" y="595.35" font-size="6.8" font-style="italic"><tspan fill="#dd22dd">Olig2</tspan><tspan fill="#333">/</tspan><tspan fill="#19a150">Nkx2-2</tspan><tspan fill="#333">/</tspan><tspan fill="#4464ae">Isl1</tspan></text>
<rect x="40.80" y="511.20" width="87.50" height="62.80" fill="#ebebeb"/>
<line x1="54.75" y1="511.20" x2="54.75" y2="574.00" stroke="#fff" stroke-width="0.7"/>
<line x1="79.62" y1="511.20" x2="79.62" y2="574.00" stroke="#fff" stroke-width="0.7"/>
<line x1="104.50" y1="511.20" x2="104.50" y2="574.00" stroke="#fff" stroke-width="0.7"/>
<line x1="42.31" y1="511.20" x2="42.31" y2="574.00" stroke="#fff" stroke-width="0.35"/>
<line x1="67.19" y1="511.20" x2="67.19" y2="574.00" stroke="#fff" stroke-width="0.35"/>
<line x1="92.06" y1="511.20" x2="92.06" y2="574.00" stroke="#fff" stroke-width="0.35"/>
<line x1="116.94" y1="511.20" x2="116.94" y2="574.00" stroke="#fff" stroke-width="0.35"/>
<line x1="40.80" y1="571.00" x2="128.30" y2="571.00" stroke="#fff" stroke-width="0.7"/>
<line x1="40.80" y1="553.80" x2="128.30" y2="553.80" stroke="#fff" stroke-width="0.7"/>
<line x1="40.80" y1="536.60" x2="128.30" y2="536.60" stroke="#fff" stroke-width="0.7"/>
<line x1="40.80" y1="519.40" x2="128.30" y2="519.40" stroke="#fff" stroke-width="0.7"/>
<line x1="40.80" y1="562.40" x2="128.30" y2="562.40" stroke="#fff" stroke-width="0.35"/>
<line x1="40.80" y1="545.20" x2="128.30" y2="545.20" stroke="#fff" stroke-width="0.35"/>
<line x1="40.80" y1="528.00" x2="128.30" y2="528.00" stroke="#fff" stroke-width="0.35"/>
<polygon points="44.8,556.7 45.3,555.3 45.9,553.5 46.6,551.4 47.4,549.1 48.2,546.6 49.2,544.1 50.1,541.5 51.1,538.9 52.0,536.4 53.0,534.1 53.9,532.1 54.8,530.3 55.6,528.8 56.4,527.3 57.2,525.9 58.1,524.6 58.9,523.4 59.7,522.4 60.6,521.4 61.4,520.6 62.2,519.9 63.0,519.4 63.9,519.1 64.7,518.9 65.5,519.0 66.4,519.4 67.2,519.9 68.0,520.7 68.8,521.6 69.7,522.6 70.5,523.7 71.3,524.9 72.2,526.0 73.0,527.0 73.8,528.0 74.6,528.8 75.5,529.6 76.3,530.4 77.1,531.3 78.0,532.2 78.8,533.1 79.6,533.9 80.5,534.7 81.3,535.4 82.1,536.0 82.9,536.5 83.8,536.8 84.6,536.9 85.4,536.8 86.3,536.6 87.1,536.1 87.9,535.5 88.7,534.8 89.6,534.1 90.4,533.2 91.2,532.4 92.1,531.6 92.9,530.8 93.7,530.2 94.5,529.6 95.4,529.1 96.2,528.6 97.0,528.0 97.9,527.5 98.7,527.0 99.5,526.5 100.4,526.1 101.2,525.7 102.0,525.4 102.8,525.1 103.7,524.9 104.5,524.8 105.3,524.8 106.2,524.9 107.0,525.1 107.8,525.3 108.6,525.6 109.5,526.0 110.3,526.3 111.1,526.8 112.0,527.2 112.8,527.6 113.6,528.0 114.4,528.4 115.3,528.8 116.2,529.3 117.2,529.8 118.1,530.3 119.1,530.8 120.0,531.4 121.0,531.9 121.8,532.4 122.6,532.9 123.3,533.3 123.9,533.8 124.4,534.1 124.4,542.5 123.9,542.5 123.3,542.5 122.6,542.4 121.8,542.3 121.0,542.2 120.0,542.1 119.1,541.9 118.1,541.8 117.2,541.6 116.2,541.5 115.3,541.4 114.4,541.3 113.6,541.3 112.8,541.2 112.0,541.1 111.1,541.0 110.3,541.0 109.5,540.9 108.6,540.9 107.8,540.9 107.0,540.9 106.2,541.0 105.3,541.2 104.5,541.5 103.7,541.9 102.8,542.3 102.0,542.8 101.2,543.4 100.4,544.0 99.5,544.6 98.7,545.3 97.9,546.0 97.0,546.7 96.2,547.4 95.4,548.1 94.5,548.8 93.7,549.5 92.9,550.3 92.1,551.2 91.2,552.1 90.4,553.0 89.6,553.9 88.7,554.7 87.9,555.4 87.1,556.1 86.3,556.5 85.4,556.8 84.6,556.9 83.8,556.8 82.9,556.4 82.1,555.9 81.3,555.3 80.5,554.5 79.6,553.7 78.8,552.7 78.0,551.8 77.1,550.8 76.3,549.7 75.5,548.8 74.6,547.8 73.8,546.8 73.0,545.7 72.2,544.5 71.3,543.2 70.5,541.9 69.7,540.6 68.8,539.3 68.0,538.2 67.2,537.1 66.4,536.3 65.5,535.7 64.7,535.3 63.9,535.2 63.0,535.3 62.2,535.5 61.4,535.8 60.6,536.3 59.7,537.0 58.9,537.7 58.1,538.6 57.2,539.5 56.4,540.6 55.6,541.7 54.8,542.9 53.9,544.3 53.0,546.0 52.0,547.9 51.1,550.0 50.1,552.2 49.2,554.4 48.2,556.6 47.4,558.7 46.6,560.6 45.9,562.3 45.3,563.7 44.8,564.7" fill="#19a150" fill-opacity="0.28"/>
<polygon points="44.8,520.7 45.3,520.5 45.9,520.4 46.6,520.1 47.4,519.9 48.2,519.6 49.2,519.3 50.1,519.1 51.1,518.8 52.0,518.5 53.0,518.3 53.9,518.1 54.8,517.9 55.6,517.7 56.4,517.6 57.2,517.4 58.1,517.3 58.9,517.2 59.7,517.1 60.6,517.0 61.4,516.9 62.2,516.9 63.0,516.8 63.9,516.8 64.7,516.8 65.5,516.8 66.4,516.7 67.2,516.8 68.0,516.8 68.8,516.8 69.7,516.9 70.5,516.9 71.3,517.0 72.2,517.1 73.0,517.2 73.8,517.3 74.6,517.4 75.5,517.5 76.3,517.6 77.1,517.8 78.0,517.9 78.8,518.1 79.6,518.3 80.5,518.5 81.3,518.7 82.1,518.9 82.9,519.2 83.8,519.4 84.6,519.7 85.4,520.0 86.3,520.3 87.1,520.7 87.9,521.1 88.7,521.4 89.6,521.8 90.4,522.3 91.2,522.7 92.1,523.2 92.9,523.6 93.7,524.1 94.5,524.6 95.4,525.1 96.2,525.7 97.0,526.2 97.9,526.8 98.7,527.3 99.5,527.9 100.4,528.6 101.2,529.2 102.0,529.9 102.8,530.6 103.7,531.3 104.5,532.1 105.3,532.9 106.2,533.8 107.0,534.7 107.8,535.7 108.6,536.6 109.5,537.6 110.3,538.7 111.1,539.7 112.0,540.7 112.8,541.8 113.6,542.9 114.4,543.9 115.3,545.0 116.2,546.2 117.2,547.5 118.1,548.8 119.1,550.1 120.0,551.4 121.0,552.7 121.8,553.9 122.6,555.0 123.3,555.9 123.9,556.8 124.4,557.4 124.4,567.4 123.9,566.7 123.3,565.8 122.6,564.8 121.8,563.7 121.0,562.4 120.0,561.1 119.1,559.8 118.1,558.4 117.2,557.1 116.2,555.8 115.3,554.5 114.4,553.4 113.6,552.3 112.8,551.2 112.0,550.1 111.1,549.0 110.3,547.9 109.5,546.9 108.6,545.8 107.8,544.8 107.0,543.8 106.2,542.9 105.3,542.0 104.5,541.1 103.7,540.3 102.8,539.5 102.0,538.7 101.2,538.0 100.4,537.3 99.5,536.7 98.7,536.0 97.9,535.4 97.0,534.8 96.2,534.2 95.4,533.7 94.5,533.1 93.7,532.5 92.9,532.0 92.1,531.5 91.2,531.0 90.4,530.5 89.6,530.1 88.7,529.6 87.9,529.2 87.1,528.8 86.3,528.4 85.4,528.0 84.6,527.7 83.8,527.4 82.9,527.0 82.1,526.8 81.3,526.5 80.5,526.2 79.6,526.0 78.8,525.8 78.0,525.6 77.1,525.4 76.3,525.2 75.5,525.0 74.6,524.9 73.8,524.7 73.0,524.6 72.2,524.4 71.3,524.3 70.5,524.2 69.7,524.1 68.8,524.0 68.0,523.9 67.2,523.9 66.4,523.8 65.5,523.8 64.7,523.8 63.9,523.7 63.0,523.7 62.2,523.7 61.4,523.8 60.6,523.8 59.7,523.8 58.9,523.9 58.1,524.0 57.2,524.1 56.4,524.1 55.6,524.3 54.8,524.4 53.9,524.5 53.0,524.7 52.0,524.9 51.1,525.1 50.1,525.3 49.2,525.6 48.2,525.8 47.4,526.0 46.6,526.3 45.9,526.4 45.3,526.6 44.8,526.7" fill="#dd22dd" fill-opacity="0.28"/>
<polygon points="44.8,564.5 45.3,564.3 45.9,564.1 46.6,563.8 47.4,563.6 48.2,563.2 49.2,562.9 50.1,562.6 51.1,562.2 52.0,561.9 53.0,561.6 53.9,561.3 54.8,561.0 55.6,560.8 56.4,560.6 57.2,560.3 58.1,560.1 58.9,559.9 59.7,559.7 60.6,559.6 61.4,559.4 62.2,559.2 63.0,559.1 63.9,558.9 64.7,558.8 65.5,558.6 66.4,558.5 67.2,558.4 68.0,558.3 68.8,558.2 69.7,558.1 70.5,558.1 71.3,558.0 72.2,557.9 73.0,557.8 73.8,557.8 74.6,557.7 75.5,557.6 76.3,557.6 77.1,557.5 78.0,557.4 78.8,557.4 79.6,557.3 80.5,557.3 81.3,557.2 82.1,557.2 82.9,557.1 83.8,557.1 84.6,557.0 85.4,557.0 86.3,556.9 87.1,556.9 87.9,556.8 88.7,556.8 89.6,556.7 90.4,556.7 91.2,556.6 92.1,556.6 92.9,556.5 93.7,556.4 94.5,556.2 95.4,556.1 96.2,556.1 97.0,556.0 97.9,556.0 98.7,556.0 99.5,555.9 100.4,555.8 101.2,555.6 102.0,555.3 102.8,554.9 103.7,554.4 104.5,553.7 105.3,552.8 106.2,551.9 107.0,550.8 107.8,549.7 108.6,548.4 109.5,547.1 110.3,545.6 111.1,544.2 112.0,542.6 112.8,541.0 113.6,539.4 114.4,537.7 115.3,535.9 116.2,533.8 117.2,531.6 118.1,529.2 119.1,526.8 120.0,524.4 121.0,522.0 121.8,519.8 122.6,517.7 123.3,515.9 123.9,514.3 124.4,513.0 124.4,522.3 123.9,523.5 123.3,524.9 122.6,526.7 121.8,528.7 121.0,530.8 120.0,533.1 119.1,535.4 118.1,537.7 117.2,540.0 116.2,542.1 115.3,544.1 114.4,545.8 113.6,547.4 112.8,549.0 112.0,550.5 111.1,552.0 110.3,553.4 109.5,554.7 108.6,555.9 107.8,557.1 107.0,558.2 106.2,559.2 105.3,560.1 104.5,560.8 103.7,561.4 102.8,561.9 102.0,562.2 101.2,562.4 100.4,562.6 99.5,562.6 98.7,562.6 97.9,562.6 97.0,562.5 96.2,562.5 95.4,562.5 94.5,562.5 93.7,562.6 92.9,562.7 92.1,562.7 91.2,562.7 90.4,562.7 89.6,562.7 88.7,562.7 87.9,562.7 87.1,562.6 86.3,562.6 85.4,562.6 84.6,562.6 83.8,562.6 82.9,562.6 82.1,562.7 81.3,562.7 80.5,562.7 79.6,562.7 78.8,562.7 78.0,562.7 77.1,562.7 76.3,562.7 75.5,562.8 74.6,562.8 73.8,562.8 73.0,562.9 72.2,562.9 71.3,562.9 70.5,563.0 69.7,563.0 68.8,563.1 68.0,563.1 67.2,563.2 66.4,563.3 65.5,563.4 64.7,563.5 63.9,563.6 63.0,563.7 62.2,563.8 61.4,564.0 60.6,564.1 59.7,564.3 58.9,564.5 58.1,564.7 57.2,564.9 56.4,565.1 55.6,565.3 54.8,565.5 53.9,565.7 53.0,566.0 52.0,566.3 51.1,566.7 50.1,567.0 49.2,567.3 48.2,567.7 47.4,568.0 46.6,568.3 45.9,568.5 45.3,568.7 44.8,568.9" fill="#4464ae" fill-opacity="0.28"/>
<polyline points="44.8,560.7 45.3,559.5 45.9,557.9 46.6,556.0 47.4,553.9 48.2,551.6 49.2,549.2 50.1,546.8 51.1,544.4 52.0,542.2 53.0,540.0 53.9,538.2 54.8,536.6 55.6,535.2 56.4,533.9 57.2,532.7 58.1,531.6 58.9,530.6 59.7,529.7 60.6,528.9 61.4,528.2 62.2,527.7 63.0,527.4 63.9,527.2 64.7,527.1 65.5,527.4 66.4,527.8 67.2,528.5 68.0,529.4 68.8,530.5 69.7,531.6 70.5,532.8 71.3,534.0 72.2,535.2 73.0,536.4 73.8,537.4 74.6,538.3 75.5,539.2 76.3,540.1 77.1,541.0 78.0,542.0 78.8,542.9 79.6,543.8 80.5,544.6 81.3,545.4 82.1,546.0 82.9,546.5 83.8,546.8 84.6,546.9 85.4,546.8 86.3,546.6 87.1,546.1 87.9,545.5 88.7,544.8 89.6,544.0 90.4,543.1 91.2,542.2 92.1,541.4 92.9,540.6 93.7,539.8 94.5,539.2 95.4,538.6 96.2,538.0 97.0,537.4 97.9,536.8 98.7,536.2 99.5,535.6 100.4,535.0 101.2,534.5 102.0,534.1 102.8,533.7 103.7,533.4 104.5,533.2 105.3,533.0 106.2,533.0 107.0,533.0 107.8,533.1 108.6,533.2 109.5,533.4 110.3,533.6 111.1,533.9 112.0,534.1 112.8,534.4 113.6,534.7 114.4,534.9 115.3,535.1 116.2,535.4 117.2,535.7 118.1,536.0 119.1,536.4 120.0,536.7 121.0,537.0 121.8,537.4 122.6,537.7 123.3,537.9 123.9,538.1 124.4,538.3" fill="none" stroke="#19a150" stroke-width="1.3"/>
<polyline points="44.8,523.7 45.3,523.6 45.9,523.4 46.6,523.2 47.4,523.0 48.2,522.7 49.2,522.5 50.1,522.2 51.1,521.9 52.0,521.7 53.0,521.5 53.9,521.3 54.8,521.1 55.6,521.0 56.4,520.9 57.2,520.7 58.1,520.6 58.9,520.6 59.7,520.5 60.6,520.4 61.4,520.4 62.2,520.3 63.0,520.3 63.9,520.3 64.7,520.3 65.5,520.3 66.4,520.3 67.2,520.3 68.0,520.4 68.8,520.4 69.7,520.5 70.5,520.6 71.3,520.6 72.2,520.7 73.0,520.9 73.8,521.0 74.6,521.1 75.5,521.3 76.3,521.4 77.1,521.6 78.0,521.8 78.8,521.9 79.6,522.1 80.5,522.4 81.3,522.6 82.1,522.8 82.9,523.1 83.8,523.4 84.6,523.7 85.4,524.0 86.3,524.4 87.1,524.7 87.9,525.1 88.7,525.5 89.6,526.0 90.4,526.4 91.2,526.9 92.1,527.3 92.9,527.8 93.7,528.3 94.5,528.9 95.4,529.4 96.2,530.0 97.0,530.5 97.9,531.1 98.7,531.7 99.5,532.3 100.4,532.9 101.2,533.6 102.0,534.3 102.8,535.0 103.7,535.8 104.5,536.6 105.3,537.4 106.2,538.3 107.0,539.3 107.8,540.2 108.6,541.2 109.5,542.2 110.3,543.3 111.1,544.3 112.0,545.4 112.8,546.5 113.6,547.6 114.4,548.6 115.3,549.8 116.2,551.0 117.2,552.3 118.1,553.6 119.1,554.9 120.0,556.3 121.0,557.6 121.8,558.8 122.6,559.9 123.3,560.9 123.9,561.7 124.4,562.4" fill="none" stroke="#dd22dd" stroke-width="1.3"/>
<polyline points="44.8,566.7 45.3,566.5 45.9,566.3 46.6,566.1 47.4,565.8 48.2,565.4 49.2,565.1 50.1,564.8 51.1,564.4 52.0,564.1 53.0,563.8 53.9,563.5 54.8,563.3 55.6,563.0 56.4,562.8 57.2,562.6 58.1,562.4 58.9,562.2 59.7,562.0 60.6,561.8 61.4,561.7 62.2,561.5 63.0,561.4 63.9,561.2 64.7,561.1 65.5,561.0 66.4,560.9 67.2,560.8 68.0,560.7 68.8,560.6 69.7,560.6 70.5,560.5 71.3,560.5 72.2,560.4 73.0,560.4 73.8,560.3 74.6,560.2 75.5,560.2 76.3,560.2 77.1,560.1 78.0,560.1 78.8,560.0 79.6,560.0 80.5,560.0 81.3,559.9 82.1,559.9 82.9,559.9 83.8,559.9 84.6,559.8 85.4,559.8 86.3,559.8 87.1,559.8 87.9,559.7 88.7,559.7 89.6,559.7 90.4,559.7 91.2,559.7 92.1,559.6 92.9,559.6 93.7,559.5 94.5,559.4 95.4,559.3 96.2,559.3 97.0,559.3 97.9,559.3 98.7,559.3 99.5,559.3 100.4,559.2 101.2,559.0 102.0,558.8 102.8,558.4 103.7,557.9 104.5,557.2 105.3,556.4 106.2,555.5 107.0,554.5 107.8,553.4 108.6,552.2 109.5,550.9 110.3,549.5 111.1,548.1 112.0,546.5 112.8,545.0 113.6,543.4 114.4,541.8 115.3,540.0 116.2,538.0 117.2,535.8 118.1,533.5 119.1,531.1 120.0,528.8 121.0,526.4 121.8,524.2 122.6,522.2 123.3,520.4 123.9,518.9 124.4,517.7" fill="none" stroke="#4464ae" stroke-width="1.3"/>
<text x="32.00" y="521.63" font-size="6.2" text-anchor="end" fill="#333">0.6</text>
<line x1="34.50" y1="519.40" x2="36.50" y2="519.40" stroke="#555" stroke-width="0.5"/>
<text x="32.00" y="538.83" font-size="6.2" text-anchor="end" fill="#333">0.4</text>
<line x1="34.50" y1="536.60" x2="36.50" y2="536.60" stroke="#555" stroke-width="0.5"/>
<text x="32.00" y="556.03" font-size="6.2" text-anchor="end" fill="#333">0.2</text>
<line x1="34.50" y1="553.80" x2="36.50" y2="553.80" stroke="#555" stroke-width="0.5"/>
<text x="32.00" y="573.23" font-size="6.2" text-anchor="end" fill="#333">0</text>
<line x1="34.50" y1="571.00" x2="36.50" y2="571.00" stroke="#555" stroke-width="0.5"/>
<text x="54.75" y="582.83" font-size="6.2" text-anchor="middle" fill="#333">10.0</text>
<line x1="54.75" y1="575.20" x2="54.75" y2="576.60" stroke="#555" stroke-width="0.5"/>
<text x="79.62" y="582.83" font-size="6.2" text-anchor="middle" fill="#333">12.5</text>
<line x1="79.62" y1="575.20" x2="79.62" y2="576.60" stroke="#555" stroke-width="0.5"/>
<text x="104.50" y="582.83" font-size="6.2" text-anchor="middle" fill="#333">15.0</text>
<line x1="104.50" y1="575.20" x2="104.50" y2="576.60" stroke="#555" stroke-width="0.5"/>
<rect x="40.80" y="597.60" width="87.50" height="61.80" fill="#ebebeb"/>
<line x1="44.30" y1="597.60" x2="44.30" y2="659.40" stroke="#fff" stroke-width="0.7"/>
<line x1="71.13" y1="597.60" x2="71.13" y2="659.40" stroke="#fff" stroke-width="0.7"/>
<line x1="97.96" y1="597.60" x2="97.96" y2="659.40" stroke="#fff" stroke-width="0.7"/>
<line x1="124.79" y1="597.60" x2="124.79" y2="659.40" stroke="#fff" stroke-width="0.7"/>
<line x1="57.71" y1="597.60" x2="57.71" y2="659.40" stroke="#fff" stroke-width="0.35"/>
<line x1="84.54" y1="597.60" x2="84.54" y2="659.40" stroke="#fff" stroke-width="0.35"/>
<line x1="111.37" y1="597.60" x2="111.37" y2="659.40" stroke="#fff" stroke-width="0.35"/>
<line x1="40.80" y1="650.30" x2="128.30" y2="650.30" stroke="#fff" stroke-width="0.7"/>
<line x1="40.80" y1="634.86" x2="128.30" y2="634.86" stroke="#fff" stroke-width="0.7"/>
<line x1="40.80" y1="619.42" x2="128.30" y2="619.42" stroke="#fff" stroke-width="0.7"/>
<line x1="40.80" y1="603.98" x2="128.30" y2="603.98" stroke="#fff" stroke-width="0.7"/>
<line x1="40.80" y1="642.58" x2="128.30" y2="642.58" stroke="#fff" stroke-width="0.35"/>
<line x1="40.80" y1="627.14" x2="128.30" y2="627.14" stroke="#fff" stroke-width="0.35"/>
<line x1="40.80" y1="611.70" x2="128.30" y2="611.70" stroke="#fff" stroke-width="0.35"/>
<polygon points="44.3,648.8 44.9,648.7 45.8,648.5 46.7,648.4 47.8,648.2 48.9,648.0 50.2,647.8 51.4,647.6 52.7,647.4 54.0,647.1 55.3,646.9 56.6,646.7 57.7,646.5 58.8,646.3 60.0,646.1 61.1,645.9 62.2,645.7 63.3,645.5 64.4,645.3 65.5,645.1 66.7,644.8 67.8,644.6 68.9,644.3 70.0,644.0 71.1,643.7 72.2,643.4 73.4,643.1 74.5,642.7 75.6,642.4 76.7,642.0 77.8,641.7 79.0,641.2 80.1,640.8 81.2,640.3 82.3,639.8 83.4,639.3 84.5,638.7 85.7,638.0 86.8,637.3 87.9,636.5 89.0,635.8 90.1,634.9 91.3,634.1 92.4,633.2 93.5,632.3 94.6,631.4 95.7,630.4 96.8,629.5 98.0,628.6 99.1,627.6 100.2,626.6 101.3,625.6 102.4,624.6 103.5,623.5 104.7,622.5 105.8,621.4 106.9,620.3 108.0,619.3 109.1,618.2 110.3,617.2 111.4,616.2 112.5,615.1 113.8,614.1 115.0,613.0 116.3,611.8 117.6,610.7 118.9,609.6 120.2,608.6 121.3,607.6 122.4,606.7 123.3,605.8 124.1,605.1 124.8,604.5 124.8,620.4 124.1,620.9 123.3,621.4 122.4,622.1 121.3,622.9 120.2,623.8 118.9,624.7 117.6,625.6 116.3,626.6 115.0,627.6 113.8,628.6 112.5,629.5 111.4,630.4 110.3,631.3 109.1,632.2 108.0,633.1 106.9,634.0 105.8,634.9 104.7,635.9 103.5,636.8 102.4,637.7 101.3,638.6 100.2,639.5 99.1,640.3 98.0,641.1 96.8,641.9 95.7,642.7 94.6,643.5 93.5,644.3 92.4,645.1 91.3,645.8 90.1,646.5 89.0,647.2 87.9,647.9 86.8,648.5 85.7,649.1 84.5,649.6 83.4,650.1 82.3,650.5 81.2,650.9 80.1,651.2 79.0,651.5 77.8,651.8 76.7,652.0 75.6,652.2 74.5,652.4 73.4,652.6 72.2,652.8 71.1,653.0 70.0,653.2 68.9,653.3 67.8,653.5 66.7,653.6 65.5,653.7 64.4,653.7 63.3,653.8 62.2,653.9 61.1,653.9 60.0,654.0 58.8,654.1 57.7,654.1 56.6,654.2 55.3,654.3 54.0,654.4 52.7,654.4 51.4,654.5 50.2,654.6 48.9,654.7 47.8,654.7 46.7,654.8 45.8,654.8 44.9,654.8 44.3,654.8" fill="#19a150" fill-opacity="0.28"/>
<polygon points="44.3,652.4 44.9,652.2 45.8,652.0 46.7,651.8 47.8,651.6 48.9,651.3 50.2,651.0 51.4,650.7 52.7,650.3 54.0,650.0 55.3,649.6 56.6,649.2 57.7,648.9 58.8,648.5 60.0,648.1 61.1,647.7 62.2,647.3 63.3,646.9 64.4,646.4 65.5,646.0 66.7,645.5 67.8,644.9 68.9,644.3 70.0,643.7 71.1,643.0 72.2,642.2 73.4,641.3 74.5,640.4 75.6,639.4 76.7,638.4 77.8,637.3 79.0,636.2 80.1,635.1 81.2,634.0 82.3,633.0 83.4,631.9 84.5,630.9 85.7,629.9 86.8,628.8 87.9,627.8 89.0,626.7 90.1,625.7 91.3,624.7 92.4,623.6 93.5,622.6 94.6,621.6 95.7,620.6 96.8,619.7 98.0,618.8 99.1,617.9 100.2,617.1 101.3,616.3 102.4,615.5 103.5,614.8 104.7,614.0 105.8,613.3 106.9,612.6 108.0,611.9 109.1,611.2 110.3,610.5 111.4,609.8 112.5,609.1 113.8,608.4 115.0,607.7 116.3,607.0 117.6,606.3 118.9,605.6 120.2,604.9 121.3,604.3 122.4,603.7 123.3,603.2 124.1,602.8 124.8,602.4 124.8,613.3 124.1,613.6 123.3,614.0 122.4,614.4 121.3,614.9 120.2,615.4 118.9,616.0 117.6,616.6 116.3,617.2 115.0,617.9 113.8,618.5 112.5,619.1 111.4,619.8 110.3,620.4 109.1,621.0 108.0,621.6 106.9,622.2 105.8,622.8 104.7,623.5 103.5,624.1 102.4,624.8 101.3,625.5 100.2,626.2 99.1,627.0 98.0,627.8 96.8,628.6 95.7,629.4 94.6,630.3 93.5,631.2 92.4,632.2 91.3,633.1 90.1,634.1 89.0,635.0 87.9,636.0 86.8,637.0 85.7,637.9 84.5,638.8 83.4,639.8 82.3,640.8 81.2,641.8 80.1,642.8 79.0,643.8 77.8,644.8 76.7,645.7 75.6,646.7 74.5,647.6 73.4,648.4 72.2,649.2 71.1,649.9 70.0,650.6 68.9,651.1 67.8,651.6 66.7,652.1 65.5,652.5 64.4,652.9 63.3,653.3 62.2,653.6 61.1,653.9 60.0,654.2 58.8,654.5 57.7,654.8 56.6,655.1 55.3,655.4 54.0,655.7 52.7,656.0 51.4,656.2 50.2,656.5 48.9,656.7 47.8,656.9 46.7,657.1 45.8,657.2 44.9,657.3 44.3,657.4" fill="#4464ae" fill-opacity="0.28"/>
<polygon points="44.3,649.3 44.9,649.1 45.8,648.8 46.7,648.5 47.8,648.1 48.9,647.7 50.2,647.2 51.4,646.8 52.7,646.2 54.0,645.7 55.3,645.1 56.6,644.5 57.7,643.8 58.8,643.2 60.0,642.5 61.1,641.8 62.2,641.0 63.3,640.2 64.4,639.4 65.5,638.5 66.7,637.6 67.8,636.7 68.9,635.7 70.0,634.6 71.1,633.5 72.2,632.3 73.4,630.9 74.5,629.5 75.6,628.1 76.7,626.5 77.8,625.0 79.0,623.4 80.1,621.8 81.2,620.3 82.3,618.8 83.4,617.3 84.5,615.9 85.7,614.6 86.8,613.1 87.9,611.5 89.0,610.0 90.1,608.5 91.3,607.0 92.4,605.6 93.5,604.4 94.6,603.3 95.7,602.4 96.8,601.7 98.0,601.3 99.1,601.1 100.2,601.1 101.3,601.3 102.4,601.6 103.5,602.1 104.7,602.8 105.8,603.6 106.9,604.5 108.0,605.6 109.1,606.8 110.3,608.1 111.4,609.6 112.5,611.3 113.8,613.5 115.0,615.9 116.3,618.6 117.6,621.4 118.9,624.3 120.2,627.1 121.3,629.8 122.4,632.3 123.3,634.5 124.1,636.4 124.8,637.7 124.8,650.5 124.1,648.9 123.3,646.9 122.4,644.5 121.3,641.7 120.2,638.8 118.9,635.8 117.6,632.7 116.3,629.7 115.0,626.9 113.8,624.2 112.5,621.9 111.4,620.0 110.3,618.4 109.1,616.8 108.0,615.5 106.9,614.2 105.8,613.1 104.7,612.1 103.5,611.3 102.4,610.7 101.3,610.2 100.2,609.9 99.1,609.7 98.0,609.8 96.8,610.0 95.7,610.6 94.6,611.3 93.5,612.3 92.4,613.4 91.3,614.7 90.1,616.0 89.0,617.4 87.9,618.8 86.8,620.2 85.7,621.6 84.5,622.9 83.4,624.2 82.3,625.5 81.2,626.9 80.1,628.4 79.0,629.9 77.8,631.3 76.7,632.8 75.6,634.2 74.5,635.6 73.4,636.9 72.2,638.2 71.1,639.3 70.0,640.4 68.9,641.4 67.8,642.3 66.7,643.2 65.5,644.1 64.4,644.9 63.3,645.7 62.2,646.4 61.1,647.1 60.0,647.8 58.8,648.4 57.7,649.0 56.6,649.7 55.3,650.2 54.0,650.8 52.7,651.3 51.4,651.8 50.2,652.3 48.9,652.7 47.8,653.1 46.7,653.5 45.8,653.8 44.9,654.1 44.3,654.3" fill="#dd22dd" fill-opacity="0.28"/>
<polyline points="44.3,651.8 44.9,651.8 45.8,651.7 46.7,651.6 47.8,651.5 48.9,651.3 50.2,651.2 51.4,651.0 52.7,650.9 54.0,650.7 55.3,650.6 56.6,650.4 57.7,650.3 58.8,650.2 60.0,650.0 61.1,649.9 62.2,649.8 63.3,649.6 64.4,649.5 65.5,649.4 66.7,649.2 67.8,649.0 68.9,648.8 70.0,648.6 71.1,648.4 72.2,648.1 73.4,647.9 74.5,647.6 75.6,647.3 76.7,647.0 77.8,646.7 79.0,646.4 80.1,646.0 81.2,645.6 82.3,645.1 83.4,644.7 84.5,644.1 85.7,643.5 86.8,642.9 87.9,642.2 89.0,641.5 90.1,640.7 91.3,640.0 92.4,639.1 93.5,638.3 94.6,637.5 95.7,636.6 96.8,635.7 98.0,634.9 99.1,634.0 100.2,633.1 101.3,632.1 102.4,631.1 103.5,630.2 104.7,629.2 105.8,628.2 106.9,627.2 108.0,626.2 109.1,625.2 110.3,624.2 111.4,623.3 112.5,622.3 113.8,621.3 115.0,620.3 116.3,619.2 117.6,618.2 118.9,617.2 120.2,616.2 121.3,615.2 122.4,614.4 123.3,613.6 124.1,613.0 124.8,612.5" fill="none" stroke="#19a150" stroke-width="1.3"/>
<polyline points="44.3,654.9 44.9,654.8 45.8,654.6 46.7,654.4 47.8,654.2 48.9,654.0 50.2,653.7 51.4,653.5 52.7,653.2 54.0,652.9 55.3,652.5 56.6,652.2 57.7,651.8 58.8,651.5 60.0,651.1 61.1,650.8 62.2,650.4 63.3,650.1 64.4,649.7 65.5,649.2 66.7,648.8 67.8,648.3 68.9,647.7 70.0,647.1 71.1,646.4 72.2,645.7 73.4,644.9 74.5,644.0 75.6,643.0 76.7,642.1 77.8,641.0 79.0,640.0 80.1,638.9 81.2,637.9 82.3,636.9 83.4,635.8 84.5,634.9 85.7,633.9 86.8,632.9 87.9,631.9 89.0,630.9 90.1,629.9 91.3,628.9 92.4,627.9 93.5,626.9 94.6,626.0 95.7,625.0 96.8,624.1 98.0,623.3 99.1,622.5 100.2,621.7 101.3,620.9 102.4,620.2 103.5,619.4 104.7,618.7 105.8,618.1 106.9,617.4 108.0,616.7 109.1,616.1 110.3,615.4 111.4,614.8 112.5,614.1 113.8,613.5 115.0,612.8 116.3,612.1 117.6,611.4 118.9,610.8 120.2,610.2 121.3,609.6 122.4,609.1 123.3,608.6 124.1,608.2 124.8,607.8" fill="none" stroke="#4464ae" stroke-width="1.3"/>
<polyline points="44.3,651.8 44.9,651.6 45.8,651.3 46.7,651.0 47.8,650.6 48.9,650.2 50.2,649.8 51.4,649.3 52.7,648.8 54.0,648.2 55.3,647.7 56.6,647.1 57.7,646.4 58.8,645.8 60.0,645.1 61.1,644.4 62.2,643.7 63.3,642.9 64.4,642.1 65.5,641.3 66.7,640.4 67.8,639.5 68.9,638.5 70.0,637.5 71.1,636.4 72.2,635.2 73.4,633.9 74.5,632.6 75.6,631.1 76.7,629.7 77.8,628.2 79.0,626.6 80.1,625.1 81.2,623.6 82.3,622.2 83.4,620.7 84.5,619.4 85.7,618.1 86.8,616.7 87.9,615.2 89.0,613.7 90.1,612.2 91.3,610.8 92.4,609.5 93.5,608.3 94.6,607.3 95.7,606.5 96.8,605.9 98.0,605.5 99.1,605.4 100.2,605.5 101.3,605.7 102.4,606.2 103.5,606.7 104.7,607.5 105.8,608.3 106.9,609.4 108.0,610.5 109.1,611.8 110.3,613.2 111.4,614.8 112.5,616.6 113.8,618.9 115.0,621.4 116.3,624.2 117.6,627.1 118.9,630.0 120.2,633.0 121.3,635.8 122.4,638.4 123.3,640.7 124.1,642.6 124.8,644.1" fill="none" stroke="#dd22dd" stroke-width="1.3"/>
<text x="32.00" y="606.21" font-size="6.2" text-anchor="end" fill="#333">0.8</text>
<line x1="34.50" y1="603.98" x2="36.50" y2="603.98" stroke="#555" stroke-width="0.5"/>
<text x="32.00" y="621.65" font-size="6.2" text-anchor="end" fill="#333">0.6</text>
<line x1="34.50" y1="619.42" x2="36.50" y2="619.42" stroke="#555" stroke-width="0.5"/>
<text x="32.00" y="637.09" font-size="6.2" text-anchor="end" fill="#333">0.4</text>
<line x1="34.50" y1="634.86" x2="36.50" y2="634.86" stroke="#555" stroke-width="0.5"/>
<text x="32.00" y="652.53" font-size="6.2" text-anchor="end" fill="#333">0.2</text>
<line x1="34.50" y1="650.30" x2="36.50" y2="650.30" stroke="#555" stroke-width="0.5"/>
<text x="44.30" y="669.03" font-size="6.2" text-anchor="middle" fill="#333">4</text>
<line x1="44.30" y1="660.20" x2="44.30" y2="661.60" stroke="#555" stroke-width="0.5"/>
<text x="71.13" y="669.03" font-size="6.2" text-anchor="middle" fill="#333">5</text>
<line x1="71.13" y1="660.20" x2="71.13" y2="661.60" stroke="#555" stroke-width="0.5"/>
<text x="97.96" y="669.03" font-size="6.2" text-anchor="middle" fill="#333">6</text>
<line x1="97.96" y1="660.20" x2="97.96" y2="661.60" stroke="#555" stroke-width="0.5"/>
<text x="124.79" y="669.03" font-size="6.2" text-anchor="middle" fill="#333">7</text>
<line x1="124.79" y1="660.20" x2="124.79" y2="661.60" stroke="#555" stroke-width="0.5"/>
<line x1="40.70" y1="671.20" x2="129.00" y2="671.20" stroke="#555" stroke-width="0.6"/>
<text x="85.00" y="679.82" font-size="7" text-anchor="middle" fill="#333">Time (d)</text>
<line x1="23.30" y1="512.70" x2="23.30" y2="655.50" stroke="#c8c8c8" stroke-width="1.0"/>
<text x="15.20" y="587.59" font-size="7.2" text-anchor="middle" fill="#333" transform="rotate(-90 15.20 585.00)">Normalized RNA levels</text>
<text x="4.00" y="543.52" font-size="7" text-anchor="middle" fill="#333" transform="rotate(-90 4.00 541.00)">Human</text>
<text x="4.00" y="631.12" font-size="7" text-anchor="middle" fill="#333" transform="rotate(-90 4.00 628.60)">Mouse</text>
<text x="177.20" y="501.40" font-size="10" text-anchor="start" fill="#000" font-weight="bold">h</text>
<text x="181.10" y="547.08" font-size="6.6" text-anchor="middle" fill="#333" transform="rotate(-90 181.10 544.70)">Human</text>
<text x="181.10" y="639.68" font-size="6.6" text-anchor="middle" fill="#333" transform="rotate(-90 181.10 637.30)">Mouse</text>
<defs><clipPath id="hc0"><rect x="188.1" y="506.1" width="77.2" height="77.2"/></clipPath></defs>
<g clip-path="url(#hc0)">
<rect x="188.10" y="506.10" width="77.20" height="77.20" fill="#000"/>
<circle cx="238.1" cy="601.1" r="96.5" fill="#26002a"/><path d="M249.9 512.6l1.3 .4M228.9 509.8l.2 .2M239.6 541.3l-1.6 0M253.6 561.2l.5 .4M192.7 565.8l-.7 .4M263.0 572.2l1.2 .9M224.3 582.7l1.1 .3M248.8 526.5l.8 1.3M247.1 514.4l.4 .1M250.2 519.2l.1 .5M213.2 528.6l1 .3M251.9 524.9l-1 1.1M234.9 538.5l1.5 .2M206.0 560.9l-.9 .6M209.3 577.8l.6 0M222.4 509.9l.4 1M233.4 516.2l1.5 .1M242.6 581.4l-.4 .8M249.9 577.6l-.8 1.2M260.0 525.4l.7 1M213.0 557.8l.3 1.3M259.5 574.8l-.2 .7M209.0 518.5l.4 .4M222.9 511.0l-.3 .1M243.2 550.3l-.3 .2M197.9 541.1l-.5 .3M263.0 559.3l0 .5M201.3 526.7l-.6 .8M237.9 561.9l-1.5 .5M214.7 511.7l-.2 1.3M192.2 568.4l.7 1.2M198.2 516.9l-.9 1.1M241.7 580.0l-.4 .1M204.6 546.8l-.7 .9M227.0 553.0l-1 .1M226.0 559.8l-.1 .8M262.9 578.2l0 .5M224.8 530.2l-.5 1.4M197.4 566.8l.5 .3M241.5 530.6l-.2 .4M245.0 514.8l.4 .4M229.1 539.7l.3 1M258.6 530.1l-.6 .1M266.2 575.4l.9 .9M220.5 567.7l.4 1.1M226.9 559.4l.4 .1M265.5 578.5l1.5 .3M221.2 552.7l-.8 1.1M219.2 520.6l-0 .3M255.3 554.9l-.3 .9M264.9 568.8l-1.2 .3M248.7 569.6l-1.4 .5M219.2 562.3l.4 .8M261.9 557.9l-.5 .9M235.8 563.6l.1 .3M202.6 534.9l1 1M234.4 565.2l-.5 .1M224.5 518.5l-.1 .4M209.6 561.9l.6 0M251.8 552.9l-.3 .8M228.9 514.9l-.4 .8M249.2 554.6l.8 .9M256.7 508.2l.6 .6M236.5 513.2l.4 .1M260.0 539.0l1.4 .4M210.8 566.5l.9 .7M261.5 577.4l-.6 .4M258.0 524.8l.3 .7M218.4 535.8l-.3 1.3M250.8 510.2l-.3 .3M193.8 555.3l-.8 .8M250.6 538.5l1.1 .6M265.6 534.8l.7 .5M210.2 581.9l.3 .4M238.4 566.6l.9 .2M233.4 577.1l.5 .2M201.8 527.4l-.5 .5M259.5 532.2l-.9 .1M262.1 568.6l-.1 1M243.6 553.1l.6 .3M208.2 547.4l-.2 .2M194.3 570.5l-.1 1M199.6 571.0l.2 .3M215.6 559.5l.3 .9M250.4 521.5l.5 .6M229.8 528.7l.4 1.1M231.7 562.4l-.4 .2M240.8 561.2l.4 1.3M234.0 512.2l.4 .2M247.8 570.1l.4 .7M239.4 553.3l.4 .6M238.6 513.5l-0 1.3M252.5 553.5l-1.1 1M230.5 533.0l1.1 .5M236.8 520.8l.8 .7M215.7 541.8l-.5 0M210.0 576.1l-.3 1.3M201.8 548.5l.5 .1M188.4 520.9l.7 .3M232.2 518.9l.7 .8M213.4 555.9l-.2 .4M263.1 552.6l.3 1.1M254.8 537.5l-.3 1.4M228.8 546.7l-.7 .2M211.2 552.1l.8 .3M226.9 536.5l-.6 .8M206.0 529.4l.3 .3M187.1 524.4l.2 .3M258.0 569.7l.5 1M258.3 529.5l-1.5 .3M224.5 521.5l-1.4 .4M202.6 571.5l0 .5M256.8 583.9l-.2 .5M256.8 509.1l-.5 .5M222.4 511.4l.7 1M202.7 519.4l-.7 1.2M233.8 523.2l-1.1 .3M209.0 555.8l-.9 0M228.9 547.1l-.2 .6M207.0 568.7l.8 1M206.6 527.2l1.2 .8M200.9 566.8l-.2 .6M249.8 523.8l.8 .7M226.6 507.9l-.7 .8M256.2 519.4l.9 .1M221.5 540.1l-.3 .2M198.7 529.7l.6 .9M228.7 526.1l1.3 .4M200.7 525.3l-.8 1.1M249.4 509.9l.2 .5M264.0 508.4l-1.2 1.1M198.3 536.2l.1 .4M245.2 523.3l-.1 .6M223.7 579.0l.8 1.4M235.5 508.2l-.2 .3M217.3 567.0l.2 .5M230.6 518.1l.7 .6M240.9 573.4l.1 .4M241.9 533.8l.5 0M243.7 526.4l1.3 .7M212.6 535.5l-.7 .3M248.1 546.2l.2 .6M234.3 507.6l.2 1M197.9 561.1l-.8 .9M198.8 521.3l-.5 .6M217.7 573.7l.5 .6M262.7 573.9l-.2 .4M221.0 536.2l.3 .7M226.5 527.3l.3 .9M200.3 557.8l.7 .2M220.5 517.0l-.6 .8M242.6 506.9l.2 .3M219.1 509.4l-.2 .9M212.9 525.2l.7 1.3M217.3 577.1l.9 .4M199.0 520.3l-.3 .5M187.2 548.2l.7 .6M263.8 531.5l-.7 .2M263.4 570.4l-.3 .9M231.8 534.4l-.7 .7M205.9 524.8l.8 .5M242.9 514.0l-.7 .6M191.3 525.2l-.6 .5M191.0 561.6l.7 .1M245.0 583.8l.2 .3M230.1 543.4l.8 1.1M253.5 527.6l-.5 1.2M198.7 519.0l-.6 .1M225.8 514.6l1 .1M198.5 554.6l.7 .6M216.1 525.7l1.4 .3M211.6 511.3l.1 1.6M203.1 573.8l.4 1.3M218.5 509.7l-.5 1M244.5 519.0l.4 .2M249.8 563.3l-1.1 .8M247.9 583.2l-.8 .1M189.0 550.8l.3 .7M209.2 576.8l.7 .2M201.1 513.5l.4 .8M187.8 544.9l.5 .8M212.5 564.8l-.9 0M263.3 522.5l-.3 .4M212.6 519.6l-.5 0M260.9 517.1l-1.3 0M218.9 573.8l-.9 0M229.6 573.7l.7 .9M199.1 534.1l.7 .1M255.6 571.1l.7 .4M192.8 583.3l-.6 1.3M242.1 519.4l-.5 .7M235.4 533.4l-1.2 0M245.4 533.6l.1 .5M209.7 574.2l-1.1 .5M223.1 579.0l-.7 .8M222.6 510.2l.6 .7M233.9 548.3l-.4 .1M258.2 580.3l-.4 .8M192.4 541.7l-.3 .5M265.5 521.7l.7 .4M245.9 511.7l-.5 1M245.0 566.6l0 .3M189.0 532.9l-0 .4M249.6 529.0l1 .4M206.6 537.9l.7 .6M195.4 572.4l-1 .1M263.4 537.8l1.2 .6M245.3 561.5l-0 .3M238.0 572.2l.1 .4M191.0 571.3l-.1 1M218.8 522.7l.3 .7M219.3 581.6l-.4 1.5M233.8 530.1l-.1 1.3M220.8 573.2l.7 .9M249.5 556.0l-.3 .2M246.7 551.0l-.6 .6M193.0 567.0l-.6 .6M222.6 539.7l.7 1.1M196.9 574.3l.9 .1M245.9 518.3l.6 .4M200.1 532.8l-.1 .8M244.9 550.6l1.3 .3M264.4 577.1l0 .6M246.7 513.2l-.3 .2M194.8 567.2l.8 .6M260.3 559.7l-1.2 .2M208.1 524.8l-.1 .6M210.3 525.1l0 .7M209.7 527.1l-.5 .2M248.5 525.7l-.8 .2M249.5 523.6l.5 1.1M195.2 549.9l-.7 0M242.9 538.1l.9 .2M197.8 528.9l-.9 1.2M255.1 579.1l0 1.1M228.2 581.1l1.3 .5M253.1 537.4l.1 .3M248.1 525.9l-.1 .7M240.6 541.1l-.5 .2M199.0 525.2l-.6 .5M206.0 556.9l-0 .6M256.6 519.7l.4 .6M219.9 583.5l.6 1.3M265.5 535.8l-1 .8M188.2 544.6l1.5 .3M263.2 578.9l-.5 .1M243.7 580.0l1.1 .5M223.0 534.6l1 1.2M192.8 519.7l.7 .1M201.6 514.8l-.1 1M193.6 522.8l.7 1.1M260.3 545.0l.5 .9M247.5 536.8l.5 .3M245.4 521.9l1 .9M254.7 575.0l-0 1.6M199.6 580.1l1.1 .4M260.2 545.8l.9 0M223.7 512.2l.1 1.1M263.9 527.3l1.3 .4M262.0 543.9l.9 1.1M226.9 532.2l1.1 .9M251.2 568.6l-.6 .4M206.4 577.9l-0 .7M261.0 556.1l-.2 .4M264.9 574.1l1 .7M226.1 535.6l.5 0M228.0 530.1l1 .6M241.5 579.7l-1.4 .3M213.5 527.2l0 .3M255.4 547.5l-.4 .4M202.9 551.1l.2 .3M191.2 533.2l-1.1 .2M219.9 537.3l.1 1.5M223.3 539.4l.1 1.5M257.5 509.5l.8 .9M221.8 515.2l-.3 1.2M224.6 506.4l.3 .9M227.4 537.6l-.6 .2M249.8 561.2l.4 .8M248.3 541.1l-.8 .3M247.8 525.7l.6 .5M253.4 536.1l-.8 1M246.2 551.0l-.6 .8M230.2 583.3l-.6 .5M244.6 580.4l-.2 1M252.7 535.2l.4 .9M256.2 579.0l.4 .2M213.8 574.7l.1 .7M204.8 522.7l1.4 .7M240.7 518.7l-.4 .5M257.0 574.2l.2 .5M230.1 551.3l.8 .1M188.8 560.3l.8 .9M242.2 530.6l.6 .8M215.3 533.6l.4 .5M188.4 529.7l.3 .3M241.9 544.7l.3 .9M249.6 575.8l.7 0M253.3 511.0l-1 .1M228.0 583.5l-.3 0M234.0 551.2l.2 1.5M240.5 522.3l-.1 .7M232.9 555.1l.9 .7M244.5 565.2l1.3 .1M198.2 521.1l.8 .4M263.0 530.5l-.5 .3M190.6 549.7l-.5 .3M243.7 519.8l-.6 .1M192.3 519.9l.9 1.1M226.1 535.5l.3 .1M264.9 534.5l1 .5M259.5 519.4l0 1.3M231.9 524.0l-.3 .3M255.6 507.7l.1 1.4M198.8 518.0l1.4 .1M217.3 512.0l-1 .5M259.7 508.1l.3 .4M229.5 534.8l-.2 .9M217.8 542.7l-.2 .5M257.4 551.6l-.2 1.5M259.0 508.3l.8 1M245.7 573.7l-.5 1.5M263.2 516.5l-.1 .5M235.2 520.3l-1.4 .7M187.3 531.1l-1.1 0M192.3 561.8l.1 1.2M254.9 579.2l.4 .7M263.7 521.2l.3 .2M263.8 509.7l.9 .1M196.0 555.9l.3 .2M229.2 515.2l-.6 .4M237.2 542.2l0 .6M249.9 528.1l-0 1.3M218.3 578.0l.3 .9M215.4 584.3l.1 .4M240.8 517.0l.3 1.1M247.6 540.3l.6 1.3M257.3 543.3l1.3 .6M249.7 521.5l-.3 .9M210.9 577.7l-.2 .4M258.7 568.1l-0 .5M247.2 531.8l-.7 1M223.8 514.5l1.2 .7M264.3 553.1l-.6 .9M256.5 581.9l-.4 .7M211.1 535.1l1 .5M257.7 511.7l-.4 .4M256.6 533.0l.5 .4M250.7 530.9l.4 .1M249.8 552.9l.2 1.1M194.2 549.2l.8 .2M247.1 556.2l-.9 .8M252.5 512.4l.5 .1M263.1 529.6l.1 1M187.2 548.5l-.4 .1M207.5 558.6l.5 .2M229.3 551.2l-1.4 .1M203.6 514.6l1.1 1M259.2 542.6l.3 .5M243.4 530.9l.3 .2M217.7 533.6l.8 .2M261.7 571.4l.4 .7M211.7 516.0l-.7 .4M201.1 513.4l-.4 .4M244.4 567.7l.6 .4M248.0 563.5l.1 .8M224.5 568.0l-1.2 .8M200.7 583.6l-.4 .3M255.6 545.5l.4 .5M240.5 531.7l.2 .6M191.2 528.6l.3 .1M249.3 549.2l.6 1.1M191.0 542.7l-.5 .1M211.4 575.1l1 .8M256.7 566.7l1.2 .3M228.9 507.8l.2 .4M257.2 579.1l.1 .6M240.3 513.8l.3 .9M205.2 524.5l-.5 1M214.8 583.6l.4 0M190.4 523.9l-1.1 .9M264.0 561.9l-.9 .9M227.4 526.6l-.4 .6M253.3 571.5l1.2 .2M241.0 548.5l.8 0M206.5 523.1l.3 1.2M259.4 558.7l-1 .4M245.1 553.7l.2 .3M251.5 583.5l1.1 .1M218.4 514.9l.3 1.3M214.0 582.5l-.1 .6M208.2 547.5l.3 .6M248.5 517.6l-.4 1M207.2 570.4l-.1 .4M195.0 580.2l-.6 .8M187.2 567.9l-1.3 .5M226.4 540.4l-.2 .3M219.9 546.7l.9 1.1M233.8 510.0l1.1 .2M236.4 580.8l.4 .4M226.2 538.4l-.7 .1M252.6 547.3l1.1 .1M253.1 562.7l1.4 .7M259.2 510.4l1.4 .2M215.1 511.6l.7 .5M235.9 557.2l-0 .4M222.1 569.1l-.5 .3M218.2 567.9l-.2 1M204.8 520.9l.6 .8M194.2 560.1l.5 .1M218.0 583.1l-1 1.2M250.7 553.1l1.1 .4M197.9 515.7l-.6 1.2M252.6 516.0l.8 .4M204.2 532.5l-.7 .6M265.2 528.0l-1.4 .6M208.6 553.9l-.8 1.3M227.2 516.6l.9 .2M245.7 572.7l.1 .4M249.6 550.2l.8 .4M193.4 538.8l-.9 .6M255.8 548.9l.9 1.1M233.9 525.6l-.2 .8M260.8 521.5l.3 0M251.0 574.1l1 .1M246.3 527.3l.8 1M190.2 553.4l1.2 .4M198.3 564.9l.6 1.4M233.2 530.7l-.1 .6M231.3 548.9l.8 .3M257.3 580.1l-.2 .9M193.9 523.2l.4 .3M193.4 546.6l-.5 1M209.9 534.6l-.8 .9M263.9 543.2l-0 .8M200.2 575.5l-.3 .4M228.1 584.0l-.3 .1M264.5 577.1l-.4 .8M200.1 533.3l-.4 .2M199.7 523.5l.3 1M250.1 568.8l-1 .1M207.4 573.2l-.8 .3M251.9 526.9l.8 .5M253.9 506.7l.4 0M259.2 558.4l.4 .9M195.8 578.3l.8 .6M250.9 526.8l.6 .2M246.6 584.0l-.9 0M227.5 519.2l-.2 .4M230.1 520.6l-.7 .6M195.3 515.3l.9 .6M209.6 579.8l-1.3 .8M207.2 537.0l-.3 .8M230.7 513.4l.5 .5M199.5 555.0l.4 .3M245.2 557.6l-.3 .3M234.9 546.7l.5 .1M228.6 552.3l-.4 .9" stroke="#ff1cff" stroke-width="1.9" stroke-linecap="round" fill="none"/>
<path d="M263.5 556.9l.3 .2M245.1 515.5l.8 .3M206.3 552.7l.2 1.5M210.3 519.0l.6 .1M255.5 550.5l.4 1M235.3 511.5l-1.4 0M244.8 535.9l-.2 .8M253.5 511.7l1.1 .1M225.2 523.3l0 1.1M236.9 540.5l-.6 1.2M235.8 565.0l-1.2 .9M197.4 541.0l-.8 .2M263.8 546.6l.8 .6M199.8 521.3l-.4 .9M188.5 521.0l-1.5 .4M190.1 548.8l-.1 .5M223.7 565.7l.1 1M187.9 533.3l-.2 .6M232.1 583.9l-.3 .2M262.0 538.4l-.2 .7M190.5 517.5l.5 1.4M207.9 551.2l-.8 .6M231.8 552.0l-.4 .4M240.7 548.7l.4 .8M203.8 532.3l-.3 .2M196.6 569.2l-.4 .4M193.6 529.2l-.4 .5M198.4 533.4l.2 .4M227.9 548.2l-1.1 .1M206.5 522.6l-.1 1.3M240.4 544.2l-.8 .9M204.3 523.7l-.2 .6M230.5 569.8l1 1.1M207.6 573.9l-.7 1.4M193.6 526.5l.9 .3M224.2 580.8l-.6 .3M188.1 535.0l.8 .7M207.4 520.9l.8 1.3M188.3 536.8l-1.3 .1M258.7 548.1l-.1 .6M223.7 564.5l-.9 .2M259.0 550.2l-.5 .4M233.9 575.3l.5 1.3M189.0 555.0l-1.3 .9M231.9 525.8l.8 .5M235.8 580.7l-.4 1.5M248.2 554.8l.2 .8M238.6 548.5l-.3 1.4M243.8 525.0l.4 .6M197.0 535.0l.4 .4M264.0 515.7l.3 1.1M264.8 535.9l-.2 1.3M193.0 533.5l.5 .8M239.1 569.3l-.3 .7M245.8 521.8l-.2 1.2M237.4 535.0l.9 .7M257.4 572.9l-0 1M223.0 557.8l.2 .6M234.7 550.5l1.1 .1M205.6 571.6l-1.4 .3M254.8 566.1l-1.3 .4M244.7 520.7l.1 .3M214.0 530.1l.7 .8M261.7 532.5l.8 .7M262.7 528.3l-.3 .5M207.0 538.4l-1.2 .8M215.9 534.8l-.4 .6M215.8 541.9l-.6 .9M218.4 570.7l-.9 1.3M257.3 580.1l-0 1.5M218.3 528.8l.5 .6M221.1 542.9l.2 .9M225.4 523.3l0 .3M216.1 552.5l.6 .9M253.2 557.9l.4 .2M211.7 580.6l-.6 .1M226.2 559.7l-.3 .3M232.6 571.8l-.2 .9M264.8 531.1l.5 .4M217.0 561.8l-.4 1M242.4 550.1l.2 .4M235.4 514.7l-.4 1.4M255.2 572.8l-.2 1.2M261.8 545.1l.3 .5M256.2 510.0l.3 .1M254.8 567.3l1 .2M201.7 546.8l0 .6M241.4 553.6l-.4 .1M229.9 511.3l.4 .4M213.9 567.7l.7 .8M207.7 554.1l.1 1.1M233.1 538.1l.1 .7M210.0 518.6l.8 .7M207.3 576.6l.2 1M247.1 583.1l1.1 .5M249.3 574.3l-1.1 .2M250.1 523.2l-.9 .8M210.1 580.5l-1.3 .2M247.5 549.1l-1.4 .3M228.9 520.1l.5 .1M230.8 526.7l-.5 .5M235.9 508.8l.3 .1M225.6 551.7l-.5 0M223.0 530.1l.2 .7M249.3 536.9l-.5 .5M264.7 532.2l.8 0M226.3 518.3l-1.1 .4M210.0 568.9l1 .5M232.2 580.6l-.3 .3M189.0 534.8l.6 .3M222.1 569.4l-.5 1.5M214.1 540.0l-1.3 .8M244.0 508.8l1.4 .3M254.1 542.3l.8 1.2M189.6 568.2l.3 .4M241.9 564.1l.3 1M198.8 535.9l1 .4M204.1 510.9l.8 1.3M231.4 513.1l.9 1M236.8 535.4l0 .4M196.0 521.0l.4 .3M197.6 535.5l.5 1.1M248.9 510.0l.5 .6M207.9 534.1l1.2 .8M202.8 549.2l.3 0M219.9 519.6l-.3 1.1M252.4 559.3l-.7 .3M257.1 549.0l-1.1 .5M234.7 545.4l.5 .1M246.4 510.2l.7 .5M260.2 580.2l.7 1M206.8 548.8l1.1 .6M226.4 556.1l.2 .5M219.6 534.1l.3 .7M253.9 535.7l.5 .5M220.7 527.1l1.1 .1M199.5 583.7l-1.5 .5M199.6 547.1l-.1 1.2M209.2 566.8l-1.2 .6M239.9 537.8l.7 .5M264.5 519.2l-1.3 .8M220.3 579.8l-.3 .2M206.5 563.0l.3 .3M191.1 537.8l.3 1M191.2 564.7l-.5 1.4M231.7 516.5l0 1.3M254.3 570.1l1.2 .3M242.0 534.2l1.4 .3M244.4 568.7l.7 .5M239.7 509.4l-1.1 .3M218.4 526.9l.7 .2M197.7 581.8l1 1.2M217.6 510.6l.4 .4M211.1 553.2l-.7 1.3M214.8 566.2l.2 .2M256.3 509.1l.9 .8M259.6 578.2l.8 .1M233.4 556.3l.6 .1M233.2 525.5l.3 .4M230.4 546.1l-.2 1.2M236.6 543.2l.5 .7M241.6 522.2l-.4 1.5M226.3 583.9l.1 .4M235.9 567.1l-.7 .8M231.5 512.3l-.5 .7M229.8 542.4l-.9 .7M212.7 580.7l.7 .8M255.8 508.8l0 .7M213.6 525.3l.2 1.2M236.4 540.3l-.8 1.1M218.7 514.9l-1.2 .3M212.2 546.7l.4 1.2M187.6 543.2l1.1 .6" stroke="#c414c8" stroke-width="1.9" stroke-linecap="round" fill="none"/>
</g>
<rect x="240.60" y="509.20" width="20.40" height="1.90" fill="#fff"/>
<text x="188.90" y="503.01" font-size="6.7" text-anchor="start" fill="#222">Day 9</text>
<defs><clipPath id="hc1"><rect x="275.1" y="506.1" width="77.2" height="77.2"/></clipPath></defs>
<g clip-path="url(#hc1)">
<rect x="275.10" y="506.10" width="77.20" height="77.20" fill="#000"/>
<rect x="275.10" y="506.10" width="77.20" height="77.20" fill="#4a0c58"/><path d="M325.2 537.7l.8-2.4M345.6 582.1l.6 .7M343.3 519.3l.9-1.3M313.0 528.6l-.1-1.5M339.9 556.7l1.4 .5M333.0 519.0l.4-1.7M280.6 571.4l-1.6 1.2M346.6 547.1l2.1-.1M346.4 522.6l2.3-1M342.9 569.0l.6 .5M337.6 533.1l1.4-1.5M338.6 514.9l1.2-1M289.0 541.5l-1.6 .2M349.8 516.0l.7-.4M340.2 571.2l.8 .7M343.3 521.8l.5-.3M342.4 584.2l1.1 1.3M341.6 519.0l.5-.9M279.0 525.9l-.8-.5M317.3 518.8l.6-2.3M278.5 523.4l-1.1-.7M288.6 533.2l-1.5-.8M339.6 559.0l2.2 1.1M350.5 567.1l1.4 .5M351.6 547.3l.7 .1M344.6 543.1l1.9-.4M325.7 521.5l.5-2.4M283.0 511.6l-1.5-1.2M351.6 555.8l1.7-.2M316.9 556.5l.4 .8M320.0 547.1l1.6-.5M282.6 574.6l-1.6 1.1M342.1 547.5l2.4-.3M344.4 562.0l2.3 .9M291.4 517.1l-1.6-1.3M286.8 516.6l-.3-.1M346.1 580.5l1.6 1M296.4 529.6l-.4-.6M352.5 525.2l1.3-1.5M318.5 548.6l1.9-.3M338.6 547.6l.5-.1M289.5 520.8l-1.3-1.5M287.3 524.5l-.5-.4M342.0 547.6l.8-.2M279.2 570.9l-1.8 1.3M309.8 518.8l-.7-2.5M277.7 519.5l-.8-.4M349.7 554.8l.9-.1M276.1 521.7l-.8-.8M350.7 518.1l1.3-.8M350.9 548.7l.3 .1M352.1 521.9l1.2-1.5M298.9 534.7l-1.1-1.1M339.8 561.8l.2 .2M342.9 515.9l1-.5M346.4 533.8l2.2-.1M286.8 573.9l-.8 .8M350.4 552.1l1.7 .2M313.3 527.5l0-.4M341.2 514.5l.2-.4M341.7 536.8l1.5-1M342.3 529.2l1.8-1.4M351.5 559.6l.7 .2M293.6 523.6l-1.4-1.1M352.2 535.2l1-.8M318.2 511.1l0-1.5M345.1 578.6l1.1 .8M351.4 569.8l.5 .4M287.8 532.7l-.9-.8M335.3 583.1l1 1.5M346.2 520.7l1-.3M324.5 547.9l1.2 .1M280.5 534.6l-.3-.1M333.8 524.6l.3-.6M282.4 574.3l-1.8 1.1M352.9 535.5l.5 0M339.8 524.1l.3-.2M334.1 581.7l.1 .4M336.0 567.6l1.6 .9M297.2 540.5l-1.8-1.4M316.9 542.1l.7-.6M341.0 535.3l1.5-.6M300.8 558.1l-.5 .3M350.0 519.6l1.4-1.2M346.9 520.5l.8-1.1M277.1 527.4l-.6-.4M352.4 520.5l.9-.5M347.8 521.4l1.8-.9M296.3 519.2l-.2-.3M287.5 565.0l-.4 .5M289.6 530.6l-1.5-1.4M334.5 566.1l.6 1.1M340.8 552.5l1.3 .2M346.0 553.0l2.3-.1M320.9 539.3l.3-.1M288.4 580.7l-.7 1.2M339.7 556.9l2 .4M319.3 567.3l.5 1.6M353.1 537.5l.3-.2M349.2 524.1l1.1-.5M339.7 529.1l2.2-1.1M325.5 556.1l.6 .1M338.5 541.7l.6-.1M307.3 542.3l-.4-1M283.1 528.1l-.3-.3M329.6 545.8l2.4-.5M343.1 539.9l1.2-.6M339.1 532.5l.7-.3M346.7 546.2l2.3-0M343.6 535.2l.8-.6M346.6 538.2l.7-.4M331.3 538.4l1-.7M284.6 545.4l-2.5 .6M333.5 582.8l1 1.7M330.5 552.2l1 .7M340.2 521.2l.8-1.4M305.1 515.5l0-2.1M286.5 520.0l-1.7-1.9M316.8 515.1l.2-1.5M344.0 526.5l.6-.5M316.9 553.8l1.1 .8M320.7 583.3l-.3 1M341.4 571.1l.2 .5M287.0 518.4l-.4-1.6M353.0 577.0l1.6 1.8M305.7 561.4l-1.4 1.8M343.3 519.8l.7-1.3M298.5 557.1l-1.2 .7M300.0 570.6l-.3 1.9M281.9 554.1l-1.8 .3M343.9 551.8l1.6-.9M326.2 509.2l.3-1.7M346.4 562.0l1.1 .6M306.5 532.1l-1-2.2M319.2 559.3l.2 .3M343.2 524.4l.7-.3M288.2 559.1l-.9 0M322.9 527.1l.7-1.6M347.5 583.2l1.3 1.4M341.8 532.1l1.7-1.3M280.1 581.9l-1.5 .6M349.0 520.1l.2-.2M284.7 576.2l-.3 .2M279.0 582.1l-.2 .2M291.8 508.6l-1-1.1M341.6 576.5l1 1.1M342.8 543.7l1-.3M343.5 559.7l.4 .4M339.0 577.5l2.2 1.1M298.4 555.5l-2.3 .5M353.2 525.6l1.5-.8M280.4 559.1l-1.6-0M322.2 583.7l1.2 2M310.2 549.2l-1.8-1M279.8 566.7l-1.5 1.3M344.4 523.9l1.3-1.6M349.1 550.1l.5 .1M346.2 525.7l2.5-.4M352.3 535.5l.4-0M347.7 528.0l1.4-1.1M305.3 566.0l-.4 .6M337.1 509.2l1.5-1.7M307.2 552.5l-1.4 .7M326.8 536.7l.3-.3M282.5 511.6l-.7-1.1M340.7 539.6l1-.5M338.8 560.4l.9 .6M346.7 533.4l1.5-1.8M348.9 538.3l.8-.2M350.0 528.6l.9-.9M290.8 552.6l-1.5 .5M307.3 545.6l-1.5-1.8M348.2 534.5l.5-.2M347.4 515.8l.9-.3M291.0 581.3l.1 .4M305.7 552.3l-2 .4M343.6 562.5l1.1 .9M350.3 528.6l1.9-1.6M348.4 547.6l.6-.3M333.1 582.9l1.1 2M303.3 567.3l-.9 1.8M338.7 542.6l1.4-.4M347.5 542.8l.3 .1M344.6 545.9l1.2-.1M343.1 555.7l.3 .1M345.6 541.5l.3-.3M349.2 528.1l1.5-1.8M339.5 539.8l.8-.3M333.4 508.7l.9-2M343.2 549.6l2.2-.5M319.8 509.2l.4-2.4M275.8 530.3l-1.4-1M340.3 524.0l1.3-1.6M274.8 570.5l-1.1 .9M317.2 582.2l.3 .9M339.7 557.1l2.4 .5M306.2 579.8l-.7 1.3M320.8 549.3l2.1 0M346.4 514.6l.4-.5M341.4 550.4l2.3-.9M343.3 557.6l2.1 1.3M289.7 509.8l-.1-.6M342.7 544.7l1.8-1M349.7 541.1l.5-.2M340.4 520.8l.2-.3M345.9 529.3l2-1.5M324.6 525.6l.7-1.6M278.1 506.3l-.5-.6M350.5 529.8l1.4-1.3M322.6 544.5l1.6-1.6M343.5 534.1l1.7-1M349.0 544.9l1.1-.4M343.7 514.9l.7-1.8M343.7 530.3l2.1-.5M281.7 517.2l-.2-.4M345.8 536.7l2.3-.3M309.4 558.5l-1.7 1.8M292.2 575.3l-1.7 1.3M304.1 565.6l-.1 .7M340.4 513.6l1.4-.8M278.5 531.9l-1.4-.5M325.4 520.6l.5-.6M344.7 529.3l.3-.1" stroke="#2b2bff" stroke-width="1.6" stroke-linecap="round" fill="none"/>
<path d="M339.7 566.3l1.4 .7M293.7 513.2l-.7-1.4M322.2 539.1l.9-.5M321.6 580.8l-.4 1.3M290.4 565.5l-2 1M293.4 580.5l-.4 .5M312.5 571.8l-.2 .8M315.3 528.1l.1-.3M278.5 524.3l-.5-.4M311.8 583.9l.1 2.5M287.4 508.4l-1.5-2M298.5 510.6l-.2-.5M324.5 511.0l.1-.4M306.8 572.6l-.1 .8M324.6 567.5l1.5 1.9M315.5 529.2l.4-1.1M336.9 533.5l1.2-1.3M291.5 552.2l-1.2 .2M301.8 516.2l-1.1-1.9M287.8 528.1l-.3-.4M285.4 522.5l-1.3-1.4M298.6 552.6l-.8 .3M285.7 581.6l-.9 .7M321.5 577.1l.9 1.7M333.7 528.4l2.3-1M281.5 554.7l-2.3 1M287.6 511.0l-.5-2.4M300.9 520.8l-.1-.4M337.1 563.7l.1 .3M281.6 538.9l-1.4-.8M279.5 550.2l-2.4-0M299.2 549.5l-1.3-.4M343.9 566.2l.6 .7M300.2 523.4l-1.4-2M326.0 507.4l1.7-2M297.2 523.1l-.3-.4M319.5 578.7l.2 .3M309.5 574.1l.9 1.8M305.9 567.9l-1.1 1M286.4 557.2l-.8-0M341.8 569.8l.6 .3M337.5 548.1l1.9-1.2M288.2 576.5l-1 .6M291.8 515.4l-1-1.4M335.7 562.2l1.5 1M286.3 525.0l-.8-.8M322.4 515.4l.9-1.7M277.1 552.1l-.8 .6M287.0 523.2l-.9-.4M332.0 514.9l1.1-2.2M306.5 517.2l-.5-1M281.4 572.4l-1.3 1.4M301.9 533.9l-1.1-1.2M320.1 510.0l.6-2.1M310.7 579.5l-.3 1.3M318.0 523.5l0-.7M333.1 579.0l1 2.3M309.9 569.8l0 .4M350.2 569.3l1.9 1M304.3 549.6l-1.8-0M306.9 514.1l-.1-2.5M325.8 528.2l.6-.7M328.1 571.2l.1 .3M310.5 549.9l-.7-.5M280.1 559.8l-.9 .3M286.9 530.1l-.3-.2M336.5 528.7l1.9-1.2M317.2 525.5l.7-2.3M329.9 550.3l.4 .1M288.8 571.4l-1.2 1.8M323.3 546.4l.3 0M312.0 560.0l-.2 2.4M299.7 551.2l-1-0M275.9 522.7l-.9-.5M296.8 548.5l-1.1-.4M281.0 563.2l-1.8-.2M340.3 569.6l.6 .6M283.7 580.7l-1.7 .6M315.4 540.0l.3-.7M304.0 525.5l-.4-1.2M322.3 551.8l1.7 .8M290.2 569.7l-1.3 1.3M333.2 555.9l1.6 .6M329.2 584.0l.7 .8M293.1 519.9l-1.1-1.7M275.3 547.7l-1.5-1M348.2 574.9l.2 .2M317.0 544.3l.6-1.2M304.1 565.5l-1.9 1.1M321.7 535.6l.2-1.8M286.0 540.5l-1.4-1.6M290.3 527.1l-.6-.5M309.5 545.7l-.2-.9M294.3 580.2l-.6 2.1M303.3 550.9l-.8 .5M328.5 559.5l1.2 1.2M311.1 565.3l-0 .4M317.6 583.4l.6 1.7M348.0 572.3l.7 1.2M331.4 576.0l1.2 1.6M324.3 528.1l.4-.9M318.7 552.0l1.4 .8M313.2 539.6l.5-2.2M295.5 558.0l-1.6 1.8M278.8 550.1l-2.5 .2M311.3 551.9l-1.2 1.8M298.9 560.7l-.9 .6M323.4 533.8l.3-.9M307.2 533.0l-.8-1M278.9 576.6l-1.5 .6M333.9 534.9l1.8-1.4M308.6 511.3l-.4-2.2M337.9 566.5l1.9 .6M285.2 505.8l-.6-1.6M346.0 507.3l1.9-1M286.2 542.4l-1.4-1.1M279.2 538.4l-1.8-1M333.3 559.1l.8 .6M323.3 578.7l1 2M337.9 520.2l.6-.3M318.6 521.5l1.2-1.8M334.0 524.7l.6-1.9M325.9 518.3l.9-1.8M333.6 556.1l1.3 .4M320.2 513.7l.1-1.2M337.3 567.3l1.6 1.3M335.9 538.4l1.4-.5M291.6 550.0l-2.2 .7M304.3 514.3l-1.1-1.8M324.5 509.4l1.3-1.6M329.8 536.2l.8-.2M306.2 530.3l-.7-.8M337.7 524.9l1.1-1.1M343.2 583.5l1.4 1M334.5 558.1l.8 .2M308.4 522.4l-.2-2.1M291.4 505.7l-.7-2M289.6 544.9l-1.9-.4M320.5 555.9l.3 .3M321.1 546.5l1.1-.4M288.3 560.4l-1.1 .5M276.0 582.5l-.7 .8M336.7 512.5l.4-.2M300.3 507.7l-1.7-1.3M298.6 531.1l-.3-.3M329.2 523.5l.5-.6M350.8 510.6l1.7-1.1M299.5 536.5l-1.4-.9M331.9 536.6l.8-.1M315.7 541.5l.5-1M297.8 579.5l-.8 1.9M296.5 535.1l-.4-.2M315.1 507.1l.2-.6M312.8 561.5l.1 2.4M285.1 508.9l-0-.6M334.8 576.4l1 1.9M296.7 581.1l-.2 .7M336.5 549.0l1.9 .2M293.4 575.5l-.4 .7M316.4 528.5l.1-2.3M313.7 513.7l.1-.6M333.7 533.1l.9-1.4M275.1 571.4l-1.9 1.3M287.8 575.2l-1.3 1.1M352.2 575.6l2.2 1.3M316.0 512.1l.1-2.2M319.5 562.1l.3 .7M296.2 519.7l-1.1-1.9M282.9 528.6l-.4-.4M317.7 555.0l1.4 1.3M297.2 582.2l-1.6 2M327.5 539.3l.3-.2M296.5 563.1l-.5 .1M344.9 512.2l.6-.8M303.0 507.2l-.3-1.2M286.0 535.5l-1.1-1.2M336.9 543.7l2.2-1.1M289.5 509.7l-.6-1.2M334.6 562.0l.8 .6M279.3 538.1l-.4-0M294.5 568.8l-.6 .8M314.7 560.5l.3 2.4M303.8 510.7l.1-1.7M291.9 577.3l-.4 2.1M328.2 506.8l.5-2M281.3 540.3l-1.1-.3M303.1 536.2l-.7-1.5M321.8 507.1l.2-1.1M333.0 543.0l1.3-.1M307.4 523.5l0-2.5M308.3 510.1l-.5-1.5M349.4 513.3l1.1-1.1M278.1 579.1l-1.6 .9M326.3 522.4l.3-2.5M288.5 580.0l-.5 .4M318.0 577.0l0 1.5M293.7 549.1l-1.2-.2M285.1 543.7l-1.2 0M309.8 546.3l-1.7-1.3M316.0 525.3l.1-.6M330.0 579.8l.2 .4M330.7 529.7l.4-.7M342.5 508.2l.8-1.6M285.0 573.5l-2 .5M341.6 579.9l1.3 .7M305.5 573.5l-.1 .3M333.2 542.9l1.7-1.3M291.9 565.8l-1.2 .6M309.4 548.4l-2-1M328.6 580.6l.3 .8M295.2 565.3l-.8 .4M303.7 567.8l-.2 .3M283.3 569.3l-.4 0M306.2 540.2l-.7-1.4M288.4 548.3l-.6-.2M313.2 558.8l.9 2.3M312.6 572.9l-0 .4M283.4 528.7l-.6-.2M311.8 518.5l-.7-1.1M287.4 576.5l-.9 1.1M300.1 550.3l-.7 .4M348.3 505.9l1.5-1.1" stroke="#f2b8ff" stroke-width="1.6" stroke-linecap="round" fill="none"/>
<path d="M329.3 575.3l.8 1M331.6 582.1l.8 .6M339.8 538.2l1.4-.4M302.9 505.9l-.4-.4M275.6 574.8l-1.3 1.3M339.3 571.1l.5 1.4M281.6 535.1l-1.6-.9M285.3 525.4l-1.4-.9M320.5 561.6l.4 1.6M317.8 525.3l-0-1.6M285.9 525.1l-.2-.3M315.7 563.5l-0 1.8M296.8 576.3l-.7 2.1M304.6 535.1l-.1-1.1M286.8 536.8l-1.7-1M306.8 552.1l-1.5 .8M274.7 564.8l-1.2 .3M309.7 526.6l.5-2.5M301.7 524.3l-.3-.4M300.2 562.4l-.5 1.8M296.8 514.2l-.3-1.5M282.5 539.3l-.7-.1M353.3 548.2l.7-.2M324.9 540.2l.3-.3M308.7 553.5l-1.2 1.4M301.3 557.0l-1 1.1M311.2 526.6l-.1-1.5M328.9 511.4l-.2-2.4M322.8 543.9l.6-.5M337.0 545.9l1.7-.1M310.5 518.2l-.1-.7M274.9 518.8l-2.1-1.3M318.9 511.8l-.6-1.7M340.0 565.2l.9 .9M323.2 581.1l.6 1.9M334.3 518.4l.4-.8M302.8 563.3l-.7 .8M296.4 541.7l-2.2-.2M290.3 506.3l-.7-1.6M322.0 548.0l1.6-.3M320.5 558.5l.9 1.4M294.6 564.2l-1.1 1.8M284.3 519.1l-1.9-1.5M338.0 547.2l1-.3M304.2 566.5l-.7 1.2M300.9 558.8l-.4 .3M324.3 549.9l.6-.2M280.6 539.3l-1.9-.8M280.1 538.6l-2-1.4M323.3 520.7l.3-.4M285.0 545.4l-.8-.2M320.3 529.8l1-.9M288.9 519.2l-.9-1.5M293.0 511.8l-1-1.3M298.6 510.4l-.1-.3M309.6 543.2l.2-1.4M302.0 563.7l-.4 .4M331.0 525.0l1.7-1.4M346.9 552.2l1.5-.5M316.4 579.6l0 1M330.7 555.5l.7 .4M323.1 536.5l1-1.6M351.2 512.4l1.3-1.2M322.6 545.1l1.3 .1M338.9 578.3l1.9 .6M281.3 581.6l-1.3 1.2M299.7 516.9l-.3-1.8M335.4 563.4l1.3 .7M281.3 530.0l-1-.4M284.1 553.9l-2.2 .5M284.1 526.4l-.9-1.7M283.4 554.3l-1.5-0M281.5 527.4l-2.3-.7M300.6 532.8l-1.3-1.5M303.2 521.9l-.9-1M338.5 542.4l.9-0M306.5 562.5l-.2 .9M293.0 526.0l-1.1-2.1M284.6 520.0l-1.3-.7M308.0 505.6l-.1-.6M308.9 522.6l.8-2.5M330.7 563.4l.5 1.7M292.1 509.0l-.7-1.2M316.8 543.8l1.1-.6M277.8 536.9l-1-1M294.4 564.5l-2.1 1.2M331.1 550.0l1-.1M335.9 561.6l1.1 .6M338.5 512.5l1.3-2.1M324.1 575.1l.8 .9M351.4 563.2l.5 .1M306.4 543.8l-.4-.7M280.6 547.6l-2.5 .2M313.3 545.2l.8-2.2M297.5 565.3l-1.3 .9M330.7 532.3l.3-.4M292.5 513.2l-.5-1.6M324.9 555.0l.5 0M274.2 521.4l-1.1-.4M320.8 560.2l.7 .6M301.5 542.7l-1.9-1.6M352.1 577.5l.6 .5M341.0 530.3l1.1-2.2M275.1 530.4l-1.8-1.1M325.6 577.2l.1 1M332.7 569.9l1.4 1.3M341.7 571.0l1.2 1.8M340.1 580.0l.6 1.8M317.6 577.6l.8 2.1M299.5 577.3l-1.2 2M299.6 551.9l-1.4-.4M342.1 524.1l1-.6M334.8 557.3l1.4 .1M318.1 559.8l.7 1.3M329.5 534.3l1.2-.8M349.5 544.8l.7-.2M319.1 539.0l.5-2M290.4 534.4l-.8-1.1M284.1 534.6l-1.3-.4M327.9 546.0l1.6-.9M321.0 508.9l.2-.9M314.3 514.1l-0-.8M304.2 551.4l-2.5-.1M275.9 541.9l-1.6 0M292.0 511.0l-1.2-2.1M309.2 571.1l-.3 2.5M333.1 538.5l1.6-1.8M326.9 512.6l.2-.7M297.7 525.1l-.3-1.6M342.5 555.9l1.3 .3M316.6 547.6l1.6-.6M292.7 581.1l-.7 2.4M309.1 550.9l-1.9 .3M279.3 547.2l-2.5-.1M308.9 571.6l-.2 1.1M277.1 525.7l-.3-1.5M304.3 529.2l-.7-1.3M291.0 579.8l-.6 1.1M290.8 573.3l-1.3 .9M341.8 579.5l.7 1.1M313.3 574.0l.8 2.1M330.2 546.0l2.3 .4M292.7 566.6l-.8 1.2M298.1 545.1l-2-.2M300.0 538.7l-.6-.7M297.5 546.2l-1.6 .8M275.5 513.6l-.5-1.9M345.5 555.1l1.6 .1M275.3 531.3l-1.6-.8M317.7 545.2l.6-1.6M335.0 545.4l.9-.4M296.5 576.7l-1 1.9M294.7 575.4l-.8 2.3M318.7 547.4l1.2-.6M295.5 540.3l-.3-.2M299.2 526.6l-.4-.9M328.6 526.0l.4-.9M315.1 557.2l.8 1.8M325.8 507.5l.3-.7M339.8 570.5l.9 1.3M301.2 553.5l-1.8-.7M284.4 557.6l-1.2 .6M305.9 548.6l-1.8 0M308.2 567.2l-.1 .4M291.1 506.4l-.4-1.1M281.6 570.9l-.9 .6M331.1 583.8l.4 2M301.2 546.0l-.9 .1M307.7 577.0l-1 2M316.4 532.8l.3-2.6M311.6 564.4l.3 1.2M332.7 560.2l2.1 0M312.5 514.6l0-1.4M296.9 517.4l.4-1.9M297.0 520.0l0-1.2M283.4 579.7l-.3 .3M288.4 558.0l-.3 .2M290.8 534.7l-.8-0M333.7 505.5l.5-.8M314.3 562.3l1.2 2.2M332.7 568.5l1.4 2.1M309.2 580.4l.1 1.5M352.4 562.5l.9 .5M281.0 534.8l-1.1-.7M339.5 508.8l.5-.6M284.2 519.0l-.5-1M312.1 567.2l-.6 1.3M319.0 529.0l0-1.8M289.1 570.6l-1.6 1.4M309.4 544.8l-.2-.9M282.5 554.2l-2 .2M317.5 550.2l.9 .2M340.0 505.5l1.2-1.1M289.0 583.3l-.3 .2M282.6 575.2l-1 .1M290.7 521.7l-0-.8M310.9 563.8l.1 1.1M352.5 556.2l2.3 .2M287.4 538.3l-.9-.1M312.8 559.3l-.1 1.5M288.0 557.4l-2.5 .1M292.4 583.7l-1.1 2.2M331.0 545.4l1.2-.5M277.7 549.7l-2.6 .2M308.8 528.8l0-1M296.9 571.2l-.2 .7M275.7 506.7l-1.8-.3M350.1 514.2l1.7-1.7M323.7 509.7l1.1-1.8M290.7 506.6l-.9-.7M329.3 518.1l.7-1.3M299.1 567.2l-1.2 1.2M350.0 524.1l1.1-1.7M329.4 518.1l.6-.7M289.3 567.1l-.4 .2M340.7 575.5l.9 1.7M325.5 582.5l.6 .7M334.0 519.7l1.2-1M326.1 562.1l.9 .8M288.1 554.7l-2 .3M282.0 521.8l-.1-.3M274.8 549.4l-1.6 .1M340.7 571.4l.8 1.1M286.1 524.0l-.7-.6M308.8 540.9l-.7-2.5M275.1 567.2l-1.2 .6M297.3 526.8l-.4-.5M293.3 578.2l-1.4 1.4M312.9 526.1l-.3-1.5M276.1 535.8l-1.3-.5M303.2 547.8l-2.3-.4M289.7 520.0l-1.1-1.1M347.9 536.7l1.7 .4M314.8 573.6l.2 .6M293.0 529.2l-1.7-1.7M306.9 509.9l-.3-1.5M283.0 563.7l-.5 .2M294.4 515.4l-.9-1.9M280.2 541.5l-.7 .3M278.0 575.6l-1.6 .7M315.1 582.9l.2 .9M306.9 521.4l.5-1.4M334.8 560.0l2.1 .5M277.6 527.6l-1.8 .2M344.3 559.5l1.5-.2M337.4 517.4l.9-1.5M321.4 542.7l.8-1.5M300.9 568.3l-.5 1.9M274.1 514.7l-1.1-.8M302.6 543.5l-.5-.3M325.5 523.5l.8-.7M329.5 515.4l.4-1.3M339.3 566.2l.8 .7M292.8 535.6l-.8-.5M282.2 560.2l-1.4 .6M276.7 549.9l-1-.1M342.9 509.9l.8-1.2M297.1 518.4l-.4-.9M277.2 563.9l-1.4 .2M310.4 560.7l0 .9M294.3 583.0l-.3 .7M343.4 570.3l1.4 2M322.0 550.4l1.2-.2M286.8 573.1l-1 2.3M323.5 530.8l.3-.4M290.4 563.2l-2.5 .7M286.4 551.2l-1.7 0M279.8 564.9l-1.3 .7M282.8 545.0l-2.1-.2M328.9 576.5l1.9 1.7M276.4 566.2l-1.3 .6M324.0 511.3l.3-1.5M305.5 517.2l-1-2.3M345.1 570.0l1.1 .8M301.7 507.0l-.6-2.5M302.0 505.6l-.1-.5M294.5 534.2l-1.4-1.6M289.1 511.1l-.1-1.4M312.3 527.8l0-.9M336.3 530.3l.5-.4M306.1 575.3l-.6 1.7M286.3 548.2l-2.4-.9M284.2 583.5l-.4 .9M333.5 519.9l1.8-1.1M290.8 540.2l-1.5-1M329.4 509.8l1.2-2.1M295.7 506.4l-.9-1.8M289.3 573.2l-1 .4M284.5 505.4l-.4-1.3M313.4 551.2l.4 1.2M291.6 521.9l0-.8M302.1 580.8l-.1 .8M352.6 575.3l1.3 .4M298.7 533.8l-1.2-2M325.3 544.3l1.5-1M277.6 542.4l-.8-.1M308.7 514.6l0-2M282.2 572.1l-1 .6M303.2 505.2l.5-2.4M296.3 582.9l-.6 1.5M294.3 533.2l-1.8-1.6M312.8 532.9l.5-1.5M334.8 545.5l1.6-.5M309.0 509.9l.2-1M277.1 577.0l-.9 .6M335.5 559.3l1.8 1.3M314.0 577.0l.1 2.6M306.6 526.4l.1-1.7M283.6 521.8l-1.3-.9M285.8 533.1l-2.5-.5M310.6 571.5l-.1 1.2M328.4 548.8l.6 0M295.7 566.0l-.7 .2M274.3 570.4l-1.6 .9M313.9 537.8l1.2-1.9M350.1 564.9l1.1 .4M351.3 582.2l.8 1M318.0 571.2l-.3 .9M319.9 580.8l1.3 2.2M313.8 558.2l.4 .7M351.0 536.5l2.1-.2M320.3 540.5l.8-1.4M296.5 511.4l-1.1-2.2M286.4 529.1l-1-.5M297.5 513.3l-.9-2.4M281.6 542.5l-.4-.1M346.0 533.6l2-1.2M347.5 576.3l.9 .6M304.5 581.1l-.5 1M317.5 553.5l.6 .3M346.2 521.5l1.4-2M315.2 582.6l-.8 2.2M305.9 556.4l-1.2 1.5M334.3 522.0l.6-2M333.2 519.2l1.7-.5M293.6 552.8l-1.6 .1M326.3 547.7l2.3-.3M351.2 570.8l1.5 .9M330.4 560.4l1 .5M286.5 521.9l-.8-.9M300.9 516.2l-.4-.9M277.6 563.6l-1.3 .4M292.5 577.7l-.7 1.6M282.3 558.3l-.9 .1M309.4 548.6l-.7-.3M290.7 520.2l-.5-.7M337.0 524.1l1.3-1.2M312.3 547.9l.3-1.4M285.5 575.1l-.3 .2M348.1 568.1l1 .8M290.5 555.1l-.6 .3M320.8 562.6l.3 .5M322.8 554.4l1.6 1.3M321.5 579.5l1.1 1M290.4 530.6l-.5-.5M282.3 549.2l-2.1-.5M280.6 516.0l-1.1-2.1M285.4 505.5l0-2.3M299.7 550.2l-2.3 .8M320.7 552.4l1.7 1.1M350.9 542.7l2.2-.9M339.7 506.9l1.2-1.8M339.7 560.9l1.3-0M294.9 520.5l-.4-.9M283.3 516.2l-.8-1.7M347.1 549.3l2.2-1.2M326.7 543.8l1-1M307.6 558.9l-.9 1.8M319.3 566.1l.3 1.3M283.3 518.8l-.4-.4M282.3 572.9l-1.1 0M281.9 554.7l-.9 .3M325.6 561.2l2.2 1M301.3 515.3l0-.6M333.6 569.1l1.5 .9M301.6 528.6l-.4-1.3M287.6 546.7l-1.8-.7M328.2 541.7l.5-.2M309.8 571.6l.3 .5M291.3 531.9l-.8-2.1M278.2 539.4l-2.5-.7M290.4 545.4l-.4-.3M314.9 513.9l.1-.5M329.6 507.9l1.8-1.7M333.1 541.2l1.9-.8M280.2 533.2l-.9-.6M285.1 551.7l-.6-.1M316.5 523.0l-0-1.7M333.6 538.8l.9-.3M308.2 555.8l-1.8 1.4M313.5 576.6l0 .9M286.7 539.2l-2.1-1.4M300.5 554.1l-.8 .6M290.0 561.8l-.6 .3M347.5 522.2l1.3-.4M308.0 536.9l-1-1.9M315.3 565.6l.1 .6M331.1 544.8l2.5-.2M303.0 533.3l-.7-1.3M321.3 578.8l.5 2.1M284.6 549.0l-2.5 .3M300.0 530.1l-.4-.4M293.7 516.9l-1.1-1.3M346.3 582.9l.4 .4M276.0 578.5l-.5 .7M326.4 571.5l.9 1.2M294.8 576.2l-.8 .9M340.3 571.2l1.9 1.5M347.6 522.9l2-1.2M298.1 570.1l-1.1 2.2M332.0 547.5l.6 0M286.3 568.0l-1 .5M280.9 526.8l-.8-.6M331.4 514.8l1.1-1.4M343.3 508.4l1.1-1.2M326.2 540.7l.3-.4M295.4 544.2l-1.5-.7M305.2 581.8l-.5 2.1M282.2 527.9l-2-1.4M343.1 568.5l.8 .2M306.3 581.5l-.5 1.9M287.4 572.5l-1.4 .6M328.5 573.6l.4 1.4M320.2 557.9l1.4 1.2M322.1 560.9l.8 .9M308.0 506.0l1-2.2M328.9 550.1l2.3 0M322.9 526.6l.6-.8M342.5 550.4l.3 .2M296.2 514.6l-.7-1.3M324.2 553.8l.5-.1M304.1 524.3l-0-.6M299.6 561.2l-1.9 1.7M293.7 563.7l-.3 .2M332.0 514.7l.4-.7M314.7 520.1l-.3-2.1M292.7 509.1l.1-2.5M278.0 529.8l-1.8-1.4M289.5 548.5l-2.2 .9M274.8 581.2l-2.1 .5M308.3 561.6l-.1 .4M283.1 545.7l-1.1 .2M300.7 578.5l-.3 .3M347.6 574.6l.4 .8M343.5 580.8l1 1.8M290.8 545.6l-1.3-.1M291.9 567.2l-.8 .8M311.1 571.6l-0 .4M295.1 560.9l-.9 .4M315.3 523.6l.6-.8M279.9 578.4l-.4 .3M307.4 565.6l-.9 1.6M311.0 560.9l.5 2.4M279.7 574.0l-.6 .6M309.6 527.5l.4-2.1M278.5 543.5l-2 .2M315.0 530.3l0-2.3M330.5 554.1l1.9 .3M310.5 508.1l-.6-1.5M286.4 530.9l-1-.9M338.2 505.1l.2-.3M287.3 562.2l-.9 .7M333.9 575.9l.6 1.1M323.3 547.3l1.5-.7M344.8 511.3l1-.9M304.7 520.3l0-1M307.8 543.2l-.8-1.2M289.6 583.0l-.4 .7M313.9 510.5l.2-1.7M334.8 532.2l1.7-2M278.0 545.6l-1 .2M338.0 561.5l.8 .1M333.3 506.9l.6-1.4M318.7 572.8l.7 .5M285.1 516.1l-2.2-1.1M317.9 512.2l.7-2.4M280.3 540.1l-.4-.1M288.9 546.7l-2.2-0M276.1 544.0l-2-0M294.5 583.0l-.6 .8M320.8 527.8l1.6-2M303.3 514.1l-1.8-1.7M308.9 566.2l-0 1.7M336.6 565.7l2 1.2M275.2 528.5l-1.5-.7M325.5 578.0l1.1 1.3M308.1 574.5l.3 1.1M313.8 542.4l.3-1.2M302.0 519.9l-.2-.4M352.7 571.9l1 .9M337.6 505.4l.5-.9M339.4 511.4l1.1-.8M304.0 551.9l-1.8 .5M285.8 548.8l-1.9 1.4M292.2 512.2l-.9-1.2M315.8 578.9l-.2 1.9M292.6 557.2l-1.8 .5M275.0 561.2l-.4 .4M352.0 569.6l2.2 .2M303.2 557.5l-.4 .4M284.3 524.8l-1.4-.7M314.2 537.7l.2-1.5M279.9 540.0l-1.8-1.6M349.9 563.1l1.2 .8M310.8 577.4l-.1 1.9M312.6 522.5l.6-1.6M284.8 572.1l-1.8 1.6M293.2 583.6l-.6 1.9M296.9 520.7l-.7-1.4M307.8 541.6l-.8-1.8M294.0 530.1l-.1-.3M291.5 537.8l-2.2-1.4M278.2 560.4l-1.7 .1M288.5 509.6l-.2-.8M279.6 510.1l-1.2-1.9M352.2 539.0l1.1-.4M311.0 572.3l-0 .3M281.2 568.5l-1.7 .5M300.9 520.8l-.8-1.7M327.1 564.0l1 1.2M324.9 559.3l1.5 .7M284.9 541.5l-1.8-1M301.1 529.6l-.3-.4M275.8 584.1l-1.7 1.9M301.1 528.0l-.4-1.7M336.0 559.7l1.5 .1M305.3 569.1l0 .6M276.9 528.1l-.3-.2M278.3 513.2l-.3-.5M286.6 551.1l-1.9-.2M292.4 556.7l-.4 .2M278.6 513.2l-.7-.8M298.5 566.7l-1.9 1.4M329.7 575.1l1.8 1.8M283.9 584.2l-.5 .3M345.4 550.7l2.1-.3M277.0 542.1l-2.3-.4M301.9 516.0l-.1-.6M333.3 548.3l.8-.1M350.1 581.4l.9 1.2M302.1 522.2l-.3-2.5M298.5 524.5l-1.6-1.2M295.3 576.9l-.4 .6M284.5 529.8l-1.1-1.3M317.5 516.4l-.3-2.3M275.9 522.8l-.4-.4M320.5 506.0l.6-1.6M327.1 557.2l1 .1M324.8 546.3l1.5-.6M324.8 515.2l.4-.9M287.5 541.4l-2.4-1M277.6 534.5l-1.8-1.3M309.5 509.5l.6-2.2M319.3 578.7l.6 .9M284.4 582.4l-1.4 1.2M300.4 547.5l-2 .3M311.3 541.8l-.3-1.1M321.9 572.4l.3 .6M330.3 520.0l1.4-1.7M309.5 539.0l-.4-1.5M300.9 550.1l-1.9-.4M278.2 541.0l-1.7-.8M340.8 538.2l2-1.5M292.8 552.3l-2.4-.2M278.5 539.0l-.7-.1M306.8 524.4l-.1-.6M343.3 568.7l1.2 1.2M324.1 564.4l.8 .7M287.8 508.9l-.4-.6M310.3 571.9l-.4 1.4M348.5 569.1l.6 .2M275.3 506.4l-.8-.8M282.7 577.5l-1.1 .9M321.2 536.7l.8-1.1M341.0 512.3l.7-.8M280.8 580.6l-.4 .4M335.7 567.7l.8 .8M294.7 559.9l-.7 .4M301.5 533.1l-.2-.4M285.3 520.6l-.4-.5M285.7 551.1l-1.5 .2M290.5 573.4l-.6 .3M313.6 508.8l.3-1.4M282.9 570.1l-.5 .6M337.2 522.5l.5-.3M353.0 576.8l1.4 1.9M275.9 505.7l-.7-.4M279.7 505.3l-.5-.6M290.9 541.1l-2-1.5M307.5 508.5l-.3-1.6M349.7 575.8l1.1 .8M330.2 573.7l1.3 1.4M278.9 510.6l-.5-.9M318.2 577.0l.5 2.2M306.6 571.6l-.1 1.2M292.7 535.6l-1.4-.7M352.1 545.5l1.7-.6M297.3 515.5l-.3-.5M292.3 543.7l-1.5-1M345.9 567.9l.5 .3M295.0 570.1l-2.3 1.1M280.0 509.8l-.4-.8M340.8 572.1l1.1 .2M334.5 583.7l.7 2.1M337.2 543.7l2-.1M337.1 552.8l1.4-.1M303.0 581.4l-0 .5M284.4 507.7l-1-.9M279.0 515.1l-.9-1.4M296.7 548.3l-.8-.2M279.9 532.4l-1-.5M336.9 506.5l.2-.3M340.0 576.1l1.3 .9M297.9 561.4l-.7 .3M274.3 582.3l-.7 .6M326.6 512.4l.1-1.2M296.4 583.8l-.6 .5M320.8 546.2l.3-.3M311.8 556.8l-.1 .8M288.1 509.8l-.3-1.4M327.3 550.2l.8-.3M283.4 542.4l-2.2-.3M275.6 535.8l-1.1-1M303.4 561.9l-.7 .6M305.6 566.9l-.4 .5M307.3 514.4l0-2.2M283.6 525.8l-1.5-1.3M304.6 507.8l-.1-1.2M345.8 531.8l1.3-.6M313.6 570.8l-0 1.1M296.8 522.8l-.6-1.6M302.7 555.0l-1.9 1.2M295.7 529.0l-.8-1.4M295.7 559.0l-1.8 1.6M293.7 572.6l-.8 1.4M283.0 538.5l-1.7-.9M329.1 567.7l1.2 .5M337.6 566.0l.4 .5M334.5 539.7l2.1-.6M295.9 520.3l-.1-1.1M306.9 575.2l-.2 .5M312.5 550.7l.7 2.5M324.5 573.4l.8 2M287.9 539.0l-1.9-1.3M314.9 543.5l.9-2.1M308.1 517.1l.1-.9M287.2 548.2l-2.2 1.1M321.3 579.6l.1 1.1M288.5 546.2l-.6-.3M274.8 512.3l-1.6-1.1M305.7 511.9l.1-1.9M336.6 571.9l.4 .3M312.9 532.5l.3-1.2M317.2 577.7l.1 .8M298.9 564.6l-.2 .3M291.0 513.2l-.6-1M353.0 582.8l.6 .5M291.2 516.1l-.3-.3M279.4 559.5l-1.9 .8M306.9 563.8l-1.2 1.2M289.3 524.3l-.9-1.1M314.4 523.4l.2-.9M289.8 538.3l-1-.5M313.6 525.3l.3-1M320.5 583.5l.2 .6M339.2 583.1l.4 .7M326.7 562.1l1.9 .9M284.2 556.8l-2.5-.1M315.1 554.3l.7 1.1M308.0 580.2l-.2 1.6M308.4 557.8l-1 .9M320.4 548.2l2.3-.8M341.9 523.9l.9-.9M282.2 576.5l-.9 .7M296.2 535.5l-.8-.8M333.1 533.4l.7-.7M308.2 569.3l.2 2M292.1 557.2l-2.1 .9M343.6 569.6l1.1 .6M324.7 571.9l.8 .6M325.6 568.3l1 2.1M318.3 563.5l.7 1M304.8 578.3l-.6 2.4M290.2 516.1l-1.1-2M311.5 574.2l.3 2.2M274.2 526.9l-1.1-.4M279.0 576.6l-1.2 1.1M333.8 516.7l1.9-1.6M287.0 545.7l-.5-.1M283.5 554.9l-1 .4M350.6 536.7l1.4-1.2M278.8 539.5l-2.2 .4M333.8 514.1l.9-1.3M277.0 547.4l-2.4 .4M338.4 538.2l.8-.4M306.3 521.0l-.2-1.3M299.5 542.6l-2.1-1.1M281.0 548.4l-2.1 .5M289.0 558.1l-.7-.4M347.5 572.8l1.4 1M310.6 553.5l-1.4 .7M285.0 516.4l-1.1-2M293.6 522.4l-.2-.3M336.5 555.2l2.4-.2M324.9 548.9l1.7 .2M341.1 572.8l1.7 1.8M318.5 559.1l.5 1.1M299.9 579.9l-.3 1M298.1 514.4l-.3-.9M346.2 511.4l.4-.3M315.8 551.4l.7 .2M344.4 556.5l1.8 .9M327.3 523.0l1.1-2.1M320.9 559.1l.2 .3M298.2 579.8l-.2 1.9M334.4 575.6l1 1.3M292.1 567.1l-1.5 1.2M312.4 553.0l0 1.4M332.2 558.2l1.4 .8M352.0 579.3l1.1 2.2M274.7 564.1l-2.2 1M283.9 545.6l-.6 .4M330.1 579.3l.1 .5M334.7 548.6l1.5-0M330.9 518.9l.1-.4M336.4 555.6l1 .4M299.4 583.2l-.5 .8M299.5 533.8l-.3-.3M349.0 579.6l.8 .6M298.8 510.8l-0-.8M334.0 563.0l1.9 1.6M322.0 551.9l2.4 .1M345.3 557.1l2.4 .1M325.9 518.8l.5-.8M282.4 513.7l-.2-.3M325.1 562.3l.1 .7M315.5 552.3l1.9 .9M280.6 568.4l-2.1 .6M310.1 580.9l-.1 .8M333.7 552.1l2.3 .5M353.1 525.3l1.1-.2" stroke="#ff1cff" stroke-width="1.6" stroke-linecap="round" fill="none"/>
<path d="M324.2 565.0l.9 2M327.5 512.4l.3-.6M334.1 517.7l.3-.5M315.5 534.7l.7-2.1M297.4 514.0l-1.2-1.7M304.8 536.4l-.3-.2M325.5 542.0l1.5-1.3M334.5 526.3l2.2-1M278.5 567.5l-.4 .1M353.1 510.8l.6-.6M331.6 527.3l1.2-1.1M348.6 510.0l.2-.6M326.4 509.2l-0-.5M329.4 533.3l1.9-1.3M297.2 544.6l-1.4-1.8M324.3 539.2l1.6-.6M336.0 558.1l.3 .1M315.3 507.7l.2-.5M343.7 506.3l.6-2.4M345.4 582.0l.8 1M289.1 572.5l-.5 .4M337.6 507.9l.6-.6M338.8 506.9l.8-2.1M320.2 541.8l1.6-.7M309.0 534.4l-.9-2.2M319.8 550.5l1.3 .1M313.3 573.1l-.2 1.2M326.2 527.1l.4-.8M295.0 556.6l-.8 .4M323.6 522.9l.1-1.4M315.7 537.1l.3-2.4M314.2 509.9l.1-.5M326.8 519.0l.3-.3M318.5 544.4l1.4-.8M353.3 510.2l.2-1.3M295.6 523.2l-.4-.9M313.8 548.6l1.6-.4M319.9 514.9l.3-2.5M335.5 536.8l.7-.2M341.5 507.2l.8-1.3M345.2 512.5l1-1.9M348.9 512.2l1.3-.6M316.9 530.6l-.3-2.4M289.0 537.4l-1.5-.8M320.1 543.6l.5-.5M321.7 525.8l.3-1.1M317.6 517.6l.1-.4M334.2 516.4l.6-.5M320.3 540.0l.6-.4M333.1 521.2l.4-.8M329.9 511.9l.3-.4M325.3 557.7l1.9-0M323.8 527.3l1.2-2.1M319.4 536.0l.5-1M274.3 531.7l-.7-.8M275.8 570.0l-.4 .2M314.6 512.4l-.3-2.2M345.8 569.1l.6 .5M293.4 571.0l-.9 .8M316.7 522.3l.5-1.2M324.7 514.9l.3-2.2M313.9 517.6l-.1-1.8M321.3 511.4l1.5-1.3M325.5 511.4l.3-.8M342.8 508.0l.8-2.4M313.2 538.5l.1-2.1M289.8 511.0l-.3-1.2M313.0 583.0l-.1 1.2M351.8 509.3l.5-.5M318.7 531.7l-.5-2.5M317.3 508.5l.2-2.5M330.9 558.7l1.6 .8M321.9 517.0l-.2-1.9M343.4 506.7l.2-.3M292.4 566.0l-1.1 .7M337.5 505.6l.4-1.3M336.6 528.3l1.6-1.7M335.4 532.8l1.8-1M337.9 554.9l1.1 .2M325.8 508.1l.3-1.3M335.3 536.2l1.1-.6M350.3 571.4l1.4 2M310.1 568.9l-0 2.6M327.6 537.3l.7-1" stroke="#ffffff" stroke-width="1.6" stroke-linecap="round" fill="none"/>
<path d="M308.0 582.3l.2 1.9M295.6 576.1l-.9 1.5M277.0 547.8l-1.7-.1M291.9 560.7l-.3 .1M284.7 560.9l-.4-0M319.2 550.0l2.1-1.2M301.7 526.4l.2-.7M316.1 577.3l-.1 1M276.5 568.1l-2.4 .9M318.0 562.1l.5 1.3M274.2 571.6l-.8 .4M274.4 527.5l-1-1.1M331.7 571.7l1 .5M310.0 573.0l.3 1.4M307.8 512.0l-0-.7M275.4 547.5l-1.7-.7M304.1 560.1l-.8 1.2M276.7 540.0l-2.4-.3M289.6 583.2l-.5 1.1M301.7 515.8l-.1-1.2M347.0 577.5l.6 .7M318.6 578.9l.3 .6M288.2 540.7l-1.8-.5M306.0 557.7l-1.3 1.5M308.8 580.0l-1.6 1.3M295.2 511.4l-.8-.8" stroke="#2cff4a" stroke-width="1.6" stroke-linecap="round" fill="none"/>
<path d="M343.7 548.2l.5-.2M339.3 563.4l1.8 .9M344.9 532.8l.3-.2M350.9 532.4l1.5-.7M350.6 553.2l1.6-.5M351.6 525.7l2.2-1.1M345.1 528.2l1.1-.8M344.9 519.4l.9-.8M351.6 530.1l1.7-.5M344.2 541.2l1.8-.1" stroke="#1a1ac0" stroke-width="1.6" stroke-linecap="round" fill="none"/><path d="M311.1,547.1 C314.1,546.1 316.1,550.1 313.6,556.1 C312.1,561.1 313.1,566.1 316.1,572.1 L322.1,584.1 L318.1,584.1 C313.1,576.1 308.1,568.1 308.1,561.1 C309.1,556.1 308.1,551.1 311.1,547.1z" fill="#0a000c"/>
</g>
<rect x="327.60" y="509.20" width="20.40" height="1.90" fill="#fff"/>
<text x="275.90" y="503.01" font-size="6.7" text-anchor="start" fill="#222">Day 11</text>
<defs><clipPath id="hc2"><rect x="362.2" y="506.1" width="77.2" height="77.2"/></clipPath></defs>
<g clip-path="url(#hc2)">
<rect x="362.20" y="506.10" width="77.20" height="77.20" fill="#000"/>
<rect x="362.20" y="506.10" width="77.20" height="77.20" fill="#100c48"/><path d="M400.8 526.4l.2-.2M377.9 526.6l-.1-1.3M381.6 536.9l.3-.8M389.9 547.3l.2-.3M422.2 566.3l.8-.4M422.1 574.2l.4-.1M390.6 559.1l.9-.3M404.2 530.5l.6-1.2M424.0 567.5l.3-.2M363.7 517.3l-.1-.3M440.1 551.9l1-.6M413.6 515.7l1.3-1.1M426.4 542.6l1.4-.5M422.3 564.3l1 .2M384.2 520.3l.2-.3M397.2 574.0l1.6 .1M396.5 528.5l1-1.4M365.1 524.1l-.3-1.9M369.7 565.0l-.5-.8M373.3 541.8l0-.9M408.7 576.1l1.3 .2M396.7 518.7l.3-1.3M362.4 524.9l-.1-.5M433.2 564.9l1.4-.4M390.1 515.7l.1-.7M427.0 510.2l.4-1.9M434.6 572.1l.8-0M383.7 525.9l.6-.9M408.4 575.2l1.3-0M430.8 582.6l.5 .2M410.4 532.9l.3-.2M406.6 518.7l.2-1.1M416.4 551.4l.9-.4M362.1 533.9l-.4-1.1M363.8 509.9l-.3-1.1M390.1 508.3l.7-1.3M420.5 554.5l2-.3M430.4 550.4l1.6-.3M413.1 506.0l.8-1.4M384.5 515.7l-.3-1M436.3 533.7l1-.5M379.7 534.9l.2-2M406.4 532.9l.2-.2M384.7 543.0l.1-.6M402.2 528.7l.7-1.6M434.7 573.9l.9-.1M381.7 531.3l.5-1.9M368.1 572.7l-1.5 .3M424.6 534.8l.4-.3M432.1 574.4l1.2 0M409.8 582.9l1.3 .6M415.1 580.1l.5 .2M407.0 530.3l.5-.3M431.1 517.4l.8-.9M365.1 579.4l-.4 .5M415.8 524.7l1.3-1M413.7 568.7l.8 .1M409.4 521.3l.4-.5M424.6 550.7l.6-.7M411.3 551.7l1.4-.1M434.5 570.5l.6 .2M392.5 570.5l.6-.1M377.7 559.0l.2-.5M364.7 554.3l-.8-.8M364.2 514.6l.1-1M434.4 519.9l1.7-.8M400.3 534.3l.9-.5M427.4 582.3l.9 0M405.8 513.3l1.1-.9M430.1 546.1l.7-.2M368.4 510.6l-.2-1.6M377.0 515.9l-.3-1.1M361.4 525.6l-.8-1M415.5 572.1l.7-.1M437.4 530.7l.7-.7M379.5 541.3l-.1-.9M380.2 515.1l-.2-.7M427.6 547.7l1.8-.9M411.5 558.4l.3-.2M430.2 525.9l.5-.6M412.1 522.1l.4-.7M418.2 548.7l.9-.3M374.3 519.9l-.3-.8M382.8 505.3l.2-.4M415.0 510.1l.7-1.2M366.5 529.8l-1-1.1M388.7 572.2l.6 .1M431.6 515.1l.3-.4M413.5 576.5l1.5 .5M393.0 507.5l.4-1.6M389.3 526.9l.8-1.6M408.6 563.0l1.8-.4M381.5 559.7l1.2-1.5M367.4 561.4l-1-1.7M400.5 535.8l1-.6M378.6 505.6l-.2-1.7M418.5 584.1l1.9 .5M421.1 574.9l1.7 0M404.9 517.0l.3-.6M394.2 507.5l1.2-1.6M369.3 521.8l-.1-1.3M439.8 575.3l1.1 .5M391.0 540.1l1-1.3M435.4 555.4l.4-.2M403.1 528.5l.4-.6M417.3 554.2l.6-.4M431.5 559.3l.4-.1M374.6 519.2l-.6-1M410.6 505.8l.6-1M404.0 520.4l.2-.3M386.5 511.7l.4-1.3M412.4 562.5l1.8-.5M402.9 526.2l.2-.4M384.3 575.0l1.8 .1M420.6 522.9l.4-.1M417.5 552.2l1-.2M376.0 508.3l-.2-1.4M415.7 563.3l1.3-1.1M377.3 578.2l1.3 .6M419.6 562.7l.9-.5M419.1 583.5l.3 .1M425.7 573.0l1.9 .2M403.5 526.2l.6-1.5M367.9 533.2l-.1-1M411.9 545.9l.7-.5M365.6 511.5l-.3-1.3M383.9 573.8l.4-0M421.9 515.8l.2-.3M380.6 514.7l0-1.2M366.3 568.5l-1.4-.2M433.9 524.0l.6-.3M410.7 515.0l1.2-1.5M407.5 568.7l.6-.1M408.4 574.1l.8 .1M378.6 574.2l1.9 0M411.2 552.0l.3-.5M418.1 524.1l.5-.8M406.2 558.8l.3-.2M381.8 508.8l.3-1.8M402.2 511.1l1.2-1.4M384.7 519.1l-.1-1M372.2 529.8l-.1-.5M396.6 559.0l.2-.2M391.6 532.5l.1-1.2M364.3 507.4l-1-1.5M439.6 554.4l1.6-.4M405.2 559.4l1.4-.5M419.5 525.0l.2-.7M432.2 564.5l.7-.3M427.6 542.8l1.1-.7M402.9 511.3l.5-.8M402.3 550.2l1-.3M365.9 520.3l-.4-.6M439.7 554.2l.3-.2M410.7 527.4l.4-.4M435.0 532.2l.7-.7M389.5 554.7l.8-1.2M400.0 509.1l.5-.7M395.5 514.7l.5-1.2M428.7 533.0l.3-.3M430.1 533.3l1.3-1.5M416.7 567.6l.4-.1M402.6 580.2l1.3 0M369.1 523.2l.1-.7M392.7 529.8l.2-.7M420.8 555.7l.8-.4M406.2 515.6l1.2-1.1M374.7 529.6l-.6-1.2M422.9 513.1l.5-.7M415.8 558.4l1.3-.6M393.9 518.9l.5-1M416.4 582.8l1.5 .2M393.2 518.5l.5-.5M398.8 529.8l.4-1.7M397.8 548.1l.2-.2M405.5 531.7l.9-1.6M420.7 579.3l1.9-.4M371.1 559.0l-.2-1.2M412.1 511.1l.3-.3M418.7 583.3l1.1-.2M381.2 520.3l.4-1.6M381.0 510.5l.3-1.7M411.0 513.8l.9-1.5M428.7 574.5l.8-0M409.3 506.3l.3-.5M394.0 546.4l.7-1.5M403.0 521.3l.7-.8M368.0 575.7l-.6 .5M407.5 581.8l.4-.1M385.4 528.4l-0-.4M394.4 516.2l.3-.9M412.6 520.9l.8-1.5M430.0 556.1l.3-.2M425.4 546.5l1.5-1M371.9 507.7l-.2-.8M409.6 578.1l.5 .4M418.5 577.4l1.2 .6M408.0 547.6l1.7-.7M398.1 572.4l.5-.1M434.1 523.5l1.1-.8M374.3 542.8l.2-.7M433.8 543.6l1.2-.4M423.7 517.2l1.3-1.2M421.4 557.8l1.7 .1M402.9 543.1l.7-.7M430.4 562.3l.7-.3M394.3 528.2l.5-1.3M361.5 519.6l-0-.8M398.8 520.3l-.1-.5M411.6 550.9l1.9-.6M398.9 516.5l.5-.8M437.2 519.7l.3-.4M409.5 580.3l.8 .4M422.9 511.8l.5-.3M380.7 519.6l-.6-1.6M429.1 506.6l.3-1.2M421.7 580.8l1.5-0M426.1 574.7l1.6-0M415.5 554.7l1.8-.2M424.2 564.4l2-.2M416.3 546.5l.6-.4M362.1 509.9l0-.5M400.7 517.8l.5-1M419.5 526.3l.7-.5M395.1 520.4l.4-1.5M389.1 516.0l.3-1.5M365.4 558.6l-.1-.4M433.6 521.5l.2-.4M428.7 532.3l1.2-.7M440.4 574.6l.3-.2M435.5 528.4l.6-.2M398.6 518.2l.4-.6M368.1 529.1l.5-1.4M373.9 547.3l.3-.9M393.4 518.7l-0-.6M424.3 532.3l1.3-1.1M376.2 510.7l.1-1.3M437.5 509.2l.7-.8M363.5 510.2l-.4-1.3M415.1 524.6l.9-.8M409.2 568.8l.4-.1M382.4 554.0l1.3-1.2M438.1 548.9l.7-.6M372.4 549.9l-0-.4M428.1 542.6l1.7-.4M408.1 570.8l1.8 .7M425.0 518.0l.9-.6M365.8 516.2l.3-1M433.3 575.5l.9-.2M416.5 558.3l.6 0M372.7 570.1l.1-.8M408.5 582.3l.4 .1M419.8 512.9l.4-.2M373.9 531.5l-0-.4M416.0 573.8l1.5 .4M429.9 514.2l.3-.3M381.6 583.1l1.4 1.3M379.1 574.8l1.5-.3M375.6 556.4l.1-.4M378.9 552.0l.3-.8M435.3 565.6l1.7 .1M368.8 566.8l-.8-1.8M423.5 507.3l1.6-.5M372.0 521.1l-.1-.7M403.4 575.0l1.9 .3M434.6 569.2l.8 .2M428.8 544.0l.5-.2M417.9 525.7l.3-.3M435.9 570.2l2-.2M413.0 582.8l.3 0M396.9 582.7l1.1 .8M431.3 571.3l1.7 .1M436.2 570.8l.4 .1M425.2 577.2l1-.2M416.8 576.6l.7 0M389.9 518.9l.1-1.8M428.2 582.0l1.4 .6M384.4 524.6l.5-1.3M411.5 529.0l.5-.8M426.2 529.2l.5-.5M400.4 563.7l1.9-0M371.9 529.1l0-.9M430.0 581.2l.8-0M375.9 552.1l.4-.8M413.8 560.7l1.7-.4M439.5 530.8l.4-.3M434.4 552.7l.8-0M418.3 562.0l1.5 0M374.4 569.6l.9-.6M424.0 527.8l1-.7M440.3 551.3l1.1-.2M427.1 518.0l.2-.4M434.2 562.1l1.2-.9M406.1 550.4l1.1-1.4M436.2 531.2l.4-.3M398.7 515.2l.7-1.7M430.6 512.6l.5-1.2M365.3 552.2l-0-.9M414.8 522.1l.8-.5M431.5 531.7l.8-.3M408.3 507.8l.2-.3M427.3 523.5l1.4-.6M369.6 523.4l.2-1.7M407.2 521.0l1-.8M374.0 530.3l.4-1.3M435.4 558.4l1-.1M391.4 573.2l1.2 .2M404.9 579.7l1.5 .6M433.8 573.1l.4-0M424.8 518.0l.4-.5M433.3 542.7l.5-.2M419.3 582.9l1.6-.1M423.9 523.5l.6-.4M374.2 509.7l-.5-1.6M415.9 515.1l1-1.7M431.3 578.4l.7-.1M428.3 515.5l.3-.1M417.9 542.1l.3-.3M407.1 533.9l.2-.3M439.5 565.9l1.2-.4M435.8 528.6l1-.4M419.0 546.9l.7-.4M411.7 564.3l.3-.1M439.5 582.9l.6 .1M432.2 568.5l1.7 .1M402.7 507.3l.2-.3M414.2 563.1l.6-.1M405.7 573.0l1.9-.4M419.5 521.7l.2-.3M431.7 568.8l1.9-.2M427.8 529.8l.3-.4M406.0 524.6l.4-.5M425.3 542.7l1.4 .1M418.6 569.0l1 .2M373.2 522.1l.5-.9M382.4 565.4l1.7-.6M365.2 569.7l-.7-.6M432.8 581.6l1.1 .2M433.7 568.2l1.6-.3M425.9 509.0l.6-.6M430.6 507.9l.2-.8M401.5 532.3l.2-1.3M431.1 533.0l.9-.9M416.6 567.7l.6-.4M429.0 520.5l1.4-1.1M412.9 569.4l1.6-.2M380.6 519.8l0-.3M431.0 563.0l.8-.3M394.8 578.7l.4 .4M377.4 571.2l1.3-0M436.4 507.5l.2-.4M434.7 505.3l.6-.7M374.6 571.7l1.7-.9M389.1 523.2l.5-1.1M417.0 576.1l.9-0M412.6 523.3l1.3-1.1M380.5 517.2l.4-1.3M422.8 521.2l.5-.6M436.8 518.4l1-1M426.6 508.5l1.2-1.4M384.0 507.7l-.2-1.1M365.3 555.4l-.6-1M395.2 514.6l1.1-1.2M389.4 563.6l.8-.6M440.3 541.7l1.3 .1M372.8 513.3l0-1.6M405.6 509.2l1-1.5M407.6 509.3l.9-1.4M439.7 574.3l1.7 .4M398.3 521.8l.8-1.5M385.3 520.1l-.1-1.5M393.8 520.4l.2-1.8M429.0 540.9l.4-.5M400.4 513.0l.9-1.5M426.8 580.6l1.8 .3M428.9 529.7l1-1.4M414.7 553.8l1.5-1.2M410.3 565.9l1.5-.4M438.3 578.8l.9 .1M419.5 569.1l.8 .1M380.0 580.4l1 1.3M421.6 578.3l.9 .2M433.4 523.2l1.1-.7M418.8 556.9l1.2-.5M423.5 523.6l.3-.2M401.6 555.5l.6-.4M368.2 513.4l-.5-1.2M410.1 519.7l.7-.8M380.2 516.2l-.3-1.8M388.2 527.2l1-1.5M437.8 513.6l.5-.5M429.0 582.7l1.7-.1M384.3 522.2l.4-1.5M409.4 555.0l1.6-.6M418.4 565.3l.7-.2M377.3 525.4l-.1-1.1M382.0 510.1l-.1-.8M418.9 517.8l.3-.1M408.5 544.7l1.5-.7M408.0 551.9l1.3-.8M434.0 513.2l.9-1.1M396.2 515.7l.3-.6M436.7 512.5l1.3-.2M410.4 541.0l.7-.2M408.4 523.6l1.7-1M434.1 557.4l.8-.5M387.0 546.0l.4-.4M369.4 506.0l-.4-1.3M434.5 530.8l.9-.7M384.7 517.9l-0-.7M408.5 509.2l.2-.5M422.5 534.7l1.4-.6M408.2 514.0l1.1-1.3M375.9 519.6l.2-1.4M391.0 529.7l0-1.4M417.9 511.7l1.7-.9M438.1 525.2l.3-.1M420.2 519.7l.5-.5M424.9 553.9l1.2-.6M425.9 535.8l1-.8M368.0 519.1l.1-1.5M380.9 530.5l-0-.4M409.0 559.9l.6 0M409.5 559.2l1.6-.4M368.0 547.8l.6-1.8M393.7 516.5l.6-1M370.7 516.8l-.6-1.5M401.6 533.4l.8-.9M383.0 550.1l.2-.6M369.8 583.1l-.7 1.3M415.6 553.0l.7-.5M409.8 567.6l.5-.2M437.0 563.9l1.3 .5M373.4 505.2l.2-1.9M376.7 506.5l.1-1.1M433.0 577.1l1.8 .7M426.1 549.1l1.3 0M381.7 506.6l.1-.5M438.1 508.3l.6-.8M362.8 568.6l-1.8-.7M433.3 522.7l1.1-1.5M436.8 530.4l1-.7M430.9 541.9l.5-.3M424.6 566.1l1.6-0M421.8 580.9l.8 .3M425.2 571.9l1.6 .4M421.4 564.9l.8-.2" stroke="#ff1cff" stroke-width="1.7" stroke-linecap="round" fill="none"/>
<path d="M397.6 534.6l.4-1.1M414.1 559.7l1.4-1M437.0 573.5l1.3 .4M402.0 545.6l1.1-1M432.7 527.2l1.5-.5M427.2 579.3l1.9-.4M398.5 534.7l.3-.5M372.6 512.8l.6-1.7M392.4 547.4l.6-1M400.3 583.7l1 .2M437.0 546.8l1.2-.6M417.2 522.9l.5-1.5M362.8 542.4l-.1-.5M410.5 575.7l.8 0M434.5 580.7l1.8 .4M393.5 532.7l.7-1.1M387.4 536.4l.6-.9M370.4 508.2l-.1-1.8M395.9 582.2l1.7 .4M423.0 525.8l.6-.7M437.2 521.3l.7-.7M402.2 561.0l1.8 .1M398.2 520.3l.1-.3M367.7 540.1l-.2-1.1M385.6 562.4l1.4-.8M370.1 543.7l-.1-.4M375.5 539.0l-.5-1.5M365.6 542.3l-.2-.5M392.8 580.0l1.8 .6M400.9 545.6l.3-.5M394.7 548.4l1.6-1.1M381.1 537.8l.1-1.2M403.3 553.3l.5-.3M390.5 561.5l.8-.4M408.1 562.9l1.8 .1M406.0 558.4l.4-.4M393.8 529.2l.3-.6M408.1 509.7l.6-1.4M368.8 541.4l-.1-.9M417.8 524.9l.8-.7M416.1 512.2l.4-.5M362.7 519.1l-.7-1.2M361.8 520.2l-0-.9M419.6 578.9l.8 .2M382.0 539.6l.1-1.8M420.3 575.5l1.2 .5M435.9 551.0l.4 0M411.7 564.9l.7 .2M406.7 572.3l1.4-.3M436.0 562.3l1.6 .4M386.7 531.6l.6-1M366.7 511.1l-.6-1.5M413.2 537.3l.8-.8M429.6 571.8l1.5-1M388.3 534.6l.1-.5M432.5 537.4l.5-.4M429.3 575.5l1.5 .3M407.5 539.3l.8-.5M388.7 524.6l.4-.7M414.5 535.5l.8-.6M398.1 529.2l.8-1.3M417.1 522.4l.1-1.1M416.7 537.1l.9-.5M389.7 548.9l.7-.9M370.7 538.9l.4-1M415.6 583.2l.9 .2M387.8 528.7l.4-.8M378.5 506.3l.1-1.3M379.3 518.8l.5-1.6M400.8 514.4l.5-.8M439.3 534.8l1.2-1.3M378.2 508.2l-.4-1.9M435.8 535.5l1.4-.6M385.3 523.1l.5-1.5M404.4 533.9l.4-1.3M416.0 514.7l.6-1.5M391.2 536.8l1.1-1M361.7 521.2l-.2-.8M392.8 581.2l1.2 .8M410.5 572.8l1.2 .1M428.8 569.7l1.7-0M376.6 541.1l.3-1.4M422.7 579.9l.8 .1M437.7 537.6l1.7-.1M419.8 532.1l1.3-.8M422.1 537.2l1.9-.6M369.4 537.9l-.1-.4M389.6 582.0l.5 .5M425.4 567.7l.9-.2M434.7 583.6l1.8 .2M383.9 509.7l.4-1.1M434.4 565.2l.9-.7M396.4 545.5l.9-1.3M380.3 537.5l.8-1.1M403.1 575.6l2-0M375.3 566.1l1.5-1.2M400.8 571.1l1-0M422.1 573.5l.5-.4M395.3 543.0l.4-.7M362.1 518.0l-.1-1M365.8 523.8l.1-1.1M387.5 538.2l.6-1.4M398.5 579.9l1.1 .3M364.5 519.3l-0-1.3M429.1 560.4l1.8-.9M404.9 550.4l.8-.3M414.0 560.1l.6-.4M414.6 526.7l.4-.6M401.7 582.4l.5 .2M388.2 525.6l.7-.8M403.5 525.1l-.1-1M373.7 535.7l-.1-.8M362.3 531.4l-.2-1.2M415.0 509.5l.4-.2M399.2 545.1l.5-.5M435.6 533.6l.9-.8M425.9 536.8l1-.8M369.4 512.6l.2-.7M418.3 547.1l1.4-.6M425.2 508.3l.4-.5M407.1 506.6l1.1-.9M424.2 558.8l.7-.2M427.8 543.8l.5-.5M381.6 524.7l.7-1.6M394.3 529.0l.2-1.3M377.3 513.3l.5-1.2M422.9 507.3l.7-1.2M406.2 583.1l.4 .3M404.9 528.6l.1-.3M391.6 583.6l.4 .2M380.5 521.4l.4-1.7M411.7 529.8l.3-.5M378.1 536.7l-.2-1.8M389.0 539.4l.6-.6M418.0 543.3l1-.3M409.5 538.1l1.5-1.2M363.3 540.8l-.3-1.7M372.9 561.1l.2-1.7M409.4 564.4l1.9-.2M418.1 563.9l.5 .1M425.6 542.8l1.1-.2M365.4 526.6l-.2-1.5M367.6 554.4l-.2-1.9M405.9 576.0l.8 0M389.4 583.0l1.5 .5M434.1 550.1l.6-.1M424.8 514.0l1.1-1M376.4 514.1l-.2-1.7M369.6 554.5l-.2-.5M439.1 553.4l1.5-.6M406.2 541.2l.3-1M397.2 546.3l1.3-1.1M426.6 511.1l.2-.4M377.6 508.3l-.3-1.9M402.9 572.0l.8 .1M436.1 561.2l.5-.1M388.9 509.6l-.5-1.9M437.5 553.7l.7-.4M395.1 550.3l.6-1.5M414.8 557.0l1.1-.4M419.6 542.7l1-.1M397.6 573.0l.5-.2M430.4 555.1l2-.3M406.8 542.8l.8-.9M386.3 520.6l.2-1.9M420.2 570.8l1 .2M427.3 582.8l1.9 .3M410.2 577.4l1-.4M390.4 568.9l.7-.1M423.6 570.7l1.3 .1M388.3 577.1l.7 .3M405.5 546.7l.5-.5M397.6 519.4l.2-.5M428.1 560.7l1.4 0M403.5 520.6l.7-1M428.4 562.7l.6 .2M399.8 581.5l1.7 .5M407.1 522.3l.8-1.1M415.3 536.2l.8-1.1M390.6 519.5l.7-1M388.3 537.6l.1-.4M394.6 521.9l-0-1.2M423.4 577.7l1.2 .1M411.8 581.6l.9 .5M392.9 511.6l.2-1.9M375.4 580.3l.9 1.6M389.7 522.5l.3-.9M372.5 510.8l.3-1.5M435.9 539.0l1.8-.7M385.0 552.0l1.3-1.2M399.8 541.0l.6-.9M439.5 579.8l.3 0M371.4 511.8l-0-.6M413.3 541.7l.5-.4M418.5 549.4l.5-.4M363.4 530.7l-.1-.4M388.1 583.6l.3 .2M417.2 540.6l.5-.4M403.4 543.2l1.3-1.5M414.6 583.7l1.7 .4M386.2 515.0l-.5-1.8M364.9 539.8l.5-1.8M389.2 521.5l0-1.4M393.8 535.7l.3-.2M422.6 544.3l1.2-1.1M394.7 534.8l.5-1.6M365.2 572.9l-1.3 .5M416.1 527.2l1.3-.3M431.2 537.8l1.4-.6M402.6 569.7l.5 .1M412.4 540.9l.3-.5M409.4 579.5l.4 .1M417.0 571.6l.4 0M411.4 533.6l.9-1.3M395.8 511.0l.1-.8M396.9 545.8l.6-.6M434.5 555.8l1.8-.5M403.8 538.2l.4-.4M397.6 579.5l1.9 .3M437.0 520.9l.7-.5M400.4 573.2l.7-.1M400.1 541.4l1-.7M418.0 536.9l.4-.8M384.4 544.8l.5-1.1M367.7 529.3l-1.1-1.5M408.1 511.6l.8-1.7M416.5 574.5l1.8-.3M388.5 514.1l.9-1.6M398.5 570.4l.5-.1M404.2 523.1l.2-.5M390.1 572.9l1.3-.3M434.6 556.8l.3 0M432.0 576.5l1.1 .1M415.8 568.6l.5 0M394.7 522.0l.5-1.8M388.2 544.8l.6-1.5M385.1 520.5l.7-1M431.6 569.4l.3 0M366.4 547.8l-.3-1M402.4 574.6l.5 .1M402.8 511.3l0-.3M427.2 519.4l.6-1.1M372.7 523.6l-0-1.2M369.8 539.9l-.1-1.3M364.6 536.1l-.1-1.6M428.8 513.7l.4-.4M439.7 529.9l.4-.3M415.8 556.6l.6-.2M431.1 559.0l1 .1M373.4 505.4l-.1-.8M404.5 579.0l1.1-.1M415.0 534.8l.9-.6M366.2 538.3l.1-1.5M393.1 531.1l.1-.5M438.2 518.9l.5-.2M434.7 551.5l.3 0M433.7 534.8l.5-.1M387.3 519.3l.1-.4M406.5 513.9l1.1-1.5M386.5 527.8l.5-1.8M421.3 549.1l1.6-1M380.2 547.6l.3-1.5M435.6 535.4l.3-.1M378.1 534.8l.3-1.2M404.6 558.1l.5-.1M399.9 551.0l.7-.7M409.3 547.7l.5-.7M366.9 574.7l-.6 .2M396.0 536.7l.4-.7M430.8 542.2l1.8-.4M401.5 553.3l2-0M397.0 555.0l1.7-.8M396.2 576.9l.7 .2M373.2 510.3l-0-.5M371.7 541.1l-0-1.4M430.5 572.6l.7-0M411.2 517.3l.3-1.8M418.7 512.1l.5-1.5M411.9 537.8l1.4-1.2M413.2 506.7l.5-.9M361.4 561.0l-.4-.2M417.4 560.9l1.4-.2M372.1 522.0l.4-1.9M400.5 567.2l1.9-.4M427.9 535.0l1.5-.7M395.2 572.2l1.2 .1M387.1 524.4l.3-1.5M402.2 579.2l1.1 0M378.9 542.6l0-1.7M384.1 515.8l-.1-1.1M415.0 521.0l.2-.8M403.3 570.4l1.5 .3M397.9 536.0l.6-.6M396.6 510.0l.2-1.3M438.2 534.6l.9-.8M431.8 561.7l1.5-.4M425.9 543.3l.9-.5M377.7 542.2l0-.3M409.6 549.4l1.2-.3M394.2 515.3l0-1.7M381.8 512.3l.5-.8M382.2 527.2l.2-.6M423.8 534.1l1.3-.1M398.4 519.8l0-.9M374.3 524.1l.1-.5M437.1 536.4l1.9-.3M368.1 512.7l.2-.4M404.0 578.0l1.7 .8M417.0 555.0l.8-.2M395.5 574.2l1.8 .6M373.1 538.5l.2-1M386.3 507.2l.3-.5M404.4 514.0l1.1-.8M437.8 532.4l1.4-.9M389.4 525.2l.3-1.6M405.6 568.6l.7-.3M400.4 539.0l.6-1.4M435.7 551.2l1.3-.4M404.7 553.6l1.7-.3M392.4 506.9l.4-.4M423.6 541.9l1.4-.2M402.8 568.0l1.4 .4M404.3 578.1l1.2 .1M394.2 538.0l.2-.3M435.9 542.5l.7-.2M409.6 520.7l.8-.5M391.8 563.9l1.8-.3M437.1 522.7l.7-1M380.3 545.3l.8-1.5M409.7 546.5l.5-.2M418.1 572.1l1.8 .6M372.9 512.5l.4-1.7M430.0 581.8l.5 0M404.6 533.2l.3-.6M391.1 527.1l1.1-1.3M420.6 572.4l.6 0M405.1 560.7l1.3-1M412.6 541.6l1.4-.8M403.2 560.1l.6-.1M362.6 522.9l-.2-1M397.0 521.0l.7-1.7M380.1 507.5l.4-.7M420.8 527.3l.6-.9M432.8 567.3l1.9-.3M433.6 573.1l.3-0M396.0 559.5l1.6-.8M363.2 513.3l-.1-1.2M423.6 551.0l1-.4M372.3 528.4l-.4-.7M397.1 543.6l1.2-1.1M391.3 542.3l1.1-1.6M438.3 522.6l.6-.9M373.7 543.7l-.5-1.9" stroke="#2b2bff" stroke-width="1.7" stroke-linecap="round" fill="none"/>
<path d="M384.8 548.3l.5-1M369.3 547.1l.2-1.2M379.0 572.4l.6-.1M384.4 564.1l.9-.7M384.8 565.8l.6-.3M389.7 560.8l1-1.1M370.7 575.7l-.4 .6M383.3 566.2l1.1-.4M378.7 554.6l.3-.5M367.9 579.2l-1.1 .9M362.9 552.3l.1-.9M369.2 555.8l.1-.6M389.5 573.3l.7 .4" stroke="#2cff4a" stroke-width="1.7" stroke-linecap="round" fill="none"/>
<path d="M393.9 555.5l1.8-.2M401.9 550.0l.5-.7M396.9 550.0l1.3-.7M363.8 539.6l0-.9M403.2 539.4l.3-.3M401.7 574.3l.4 0M388.9 534.8l1.2-1.5M397.1 578.1l2 .3M404.9 537.6l.5-.8M395.6 568.5l1.8-.3M387.6 534.4l.5-.8M418.8 540.3l.4-.4M404.1 583.3l1.3 .3M390.3 505.6l.9-1.6M396.2 555.7l1-.1M398.0 546.6l.5-1.1M397.4 539.2l1-1.6M428.9 534.8l1.3-.9M395.0 573.5l1.2-.4M399.7 547.9l.5-1.1M388.0 529.6l.7-1.8M380.4 536.0l.2-.8M438.4 538.4l1.4-.4M401.3 582.8l1.5 1M439.6 540.0l.5-.2M391.4 506.3l-.1-.8" stroke="#1a1ac0" stroke-width="1.7" stroke-linecap="round" fill="none"/>
<path d="M362.8 560.7l-1-1.4M393.3 573.9l.9 .3M370.2 557.9l-.3-.6M365.8 568.5l-.9-.4M370.6 584.3l-.8 1.8M383.4 568.2l1.6-.6M370.1 550.8l0-.5M414.1 507.2l.4-.6M423.9 510.1l.5-.5M435.4 508.2l.4-.3M382.2 520.4l.2-2M389.5 569.5l1-.1M413.1 522.4l.4-.6M370.2 551.6l-.1-1.9M387.9 562.0l.3-.3M384.8 565.8l1.7-.8M364.0 557.4l-.2-.3M385.9 576.5l.7 1M372.6 550.2l-.4-1.3M376.9 527.7l.1-.7M376.8 580.5l.4 .7M421.9 508.2l.2-.8M375.8 560.8l-.2-2M372.8 510.8l-.1-.9M371.1 527.6l.6-1.2M372.2 545.8l0-.5M419.9 513.1l1-1.1M366.4 573.4l-1 .1M392.5 575.5l.8 .2M376.7 579.5l.6 1M364.2 552.7l-.8-1.1M424.3 521.3l1.2-.8M372.6 565.7l-0-.6M371.9 523.3l.2-1.6M438.1 521.0l.4-.5M373.7 550.8l-0-1.5M382.2 532.1l-.1-1.5M365.9 563.7l-.2-.5M390.0 566.8l1-.1M374.6 544.5l.1-.4M373.0 513.1l.5-1.6M384.6 551.0l.1-.3M362.9 555.2l-.8-1M380.8 549.3l.8-1.5M372.6 582.7l0 1.1M379.9 565.3l.3-.1M389.8 552.7l.7-.4M371.3 530.9l-.2-1.1M373.6 514.6l.2-.7M361.7 515.3l0-.6M412.8 509.6l.4-.6M383.9 518.9l.1-.5M363.7 519.2l-1.2-1.5M372.2 547.4l.2-.4M417.3 506.7l.5-.7M373.2 510.5l-.2-1.1M372.5 520.3l-0-1.6M431.4 506.8l1.1-1.4M382.8 559.6l1.2-.7M417.1 524.1l.8-.7M391.8 571.8l.7 .1M362.5 583.1l-1.3 .8M368.7 516.4l-.1-1.8M378.2 532.4l.1-1.2M379.2 546.8l.1-.7M371.1 581.6l-.3 1.7M393.2 571.7l.3 .1M383.0 560.5l.4-.5M381.6 571.0l.5-.1M380.8 521.5l.4-.8M432.3 523.1l1.6-.5M374.3 583.4l-.4 1.9M370.5 568.9l-.3-1M430.9 508.7l1-.8M364.2 572.9l-1.2 .6" stroke="#f2b8ff" stroke-width="1.7" stroke-linecap="round" fill="none"/>
<path d="M427.9 514.9l1.1-1.3M369.9 572.5l-1.3 .6M418.5 522.9l.3-.2M381.3 554.5l.9-1.2M434.6 508.3l.9-.9M388.6 560.5l1.5-.3M375.1 562.7l1.1-1M385.3 577.9l.9 .7M415.8 579.0l1.3-.3M431.6 514.8l.8-.6M422.8 508.3l.6-1.3M406.1 557.5l1-.1M427.6 581.8l1.2 .1M429.8 567.5l1.5 .1M409.3 521.8l.5-.7M367.2 550.8l-.2-.3M438.4 506.8l1-.9M383.0 548.7l.5-1.5M388.1 568.8l1.7-.3M426.4 572.9l1.7-.2M377.1 571.5l.5-.1M389.6 558.5l.5-1.2M380.5 564.6l1-.4M364.7 573.5l-1.2 .5M428.1 522.8l1.4-1.4M381.3 546.8l.6-1.6M361.5 557.7l-.3-.4M378.1 582.2l.3 .5M368.9 546.2l.1-.8M378.8 575.7l.2 .3M370.0 546.7l.4-1.7M439.4 523.9l1-.8M368.9 574.6l-.7 .8M364.4 552.9l-.6-1.3M392.4 556.0l.2-.3M385.6 559.2l.3-.3M365.2 576.0l-1.4 .9M373.6 545.7l.2-1.2M380.8 564.7l1.1-1.5M430.5 546.4l1.4-.7M433.7 520.6l2-.1M439.4 525.1l1-.5M367.7 573.4l-.9 .5M390.3 559.5l.9-.5M381.2 576.9l1 .9M418.9 516.7l1.1-.9M427.0 516.1l.6-.4M379.9 576.0l.6 .2M392.3 570.2l1.3 .1M372.0 582.9l-.2 1.2M380.8 573.3l1.1-.2M421.9 583.4l1.2 .4M413.9 512.9l.7-1.4M417.9 506.9l.2-1M431.5 571.8l.7 .2M416.4 516.9l.6-.7M438.5 544.3l1.3-.9M379.7 583.2l.9 .9M409.3 524.1l.2-.2M429.9 508.4l.3-.5M382.4 569.3l1.4-.9M371.0 554.5l.2-.8M363.7 554.1l-.1-.4M376.6 567.9l.7-.2M416.5 507.8l.6-1.1M383.5 572.0l1.2 0M363.8 558.9l-.3-1.5M372.9 571.8l1-1.1M386.6 568.1l.9-.2M368.9 560.7l-.1-.4M369.9 576.8l-.3 1.1M416.6 520.3l.3-.5M364.7 573.6l-1 .1M387.5 574.0l.5-.1M373.4 581.9l.6 1.2M420.1 513.1l.2-1M420.0 505.5l.5-.5M371.9 545.8l-.3-1.2M386.3 576.2l.8 .1M386.2 571.7l1.8 0M406.0 550.7l.5-.4M378.6 581.5l.3 .2M377.8 579.7l.4 .5M420.9 520.4l.7-1.1M363.1 558.1l-.3-.6M368.0 556.7l-.5-.7M367.8 551.7l-.2-.8M417.9 523.5l.7-.5M416.5 511.6l1.3-1.4M366.9 576.0l-1.2 .4M380.2 577.9l.6 .3M394.0 572.4l.8 .6" stroke="#ffffff" stroke-width="1.7" stroke-linecap="round" fill="none"/>
</g>
<rect x="414.70" y="509.20" width="20.40" height="1.90" fill="#fff"/>
<text x="363.00" y="503.01" font-size="6.7" text-anchor="start" fill="#222">Day 13</text>
<defs><clipPath id="hc3"><rect x="449.3" y="506.1" width="77.2" height="77.2"/></clipPath></defs>
<g clip-path="url(#hc3)">
<rect x="449.30" y="506.10" width="77.20" height="77.20" fill="#000"/>
<rect x="449.30" y="506.10" width="77.20" height="77.20" fill="#080840"/><path d="M511.4 528.5l.6-.7M493.4 514.4l.2-.7M514.4 542.5l.6-.4M510.4 557.1l.5-0M503.4 563.8l.3-.1M510.0 538.0l.3-.3M494.2 542.1l.6-1.2M478.6 523.9l-.1-1.2M508.6 522.8l.4-.4M500.9 579.8l.9 1M494.6 546.7l.6-.5M455.0 528.7l-1-1.1M455.4 572.9l-.9 .1M461.3 583.7l-.5 1M501.8 551.3l1.2-.2M495.7 519.6l.2-1M501.6 521.7l.1-.5M477.7 580.4l-.5 1.1M498.7 505.5l.2-1.2M525.3 519.8l.3-.5M483.6 570.1l.5 .8M504.6 537.2l.6-.5M480.4 512.6l-.1-1.6M486.1 508.8l.1-.5M486.2 578.7l.4 1.1M495.4 552.1l.9-.8M506.5 567.2l.3 0M502.4 540.1l.4-.6M500.5 559.3l1.2-.7M521.8 508.6l.7-.7M472.9 539.9l-.1-.3M463.9 508.8l.2-.5M515.1 565.6l1.4 .2M463.2 576.3l-.5 .2M514.1 508.6l.6-.3M520.0 563.3l1.2-.5M470.2 575.4l-.7 .9M468.9 514.1l-.3-1.1M513.9 514.4l.6-.8M492.9 575.1l.4 .5M521.7 509.2l.4-.8M487.5 550.0l.1-.8M481.1 530.7l.2-.4M518.7 542.7l1 0M488.2 568.1l1.3 .2M506.9 567.6l1.1 0M501.0 529.7l.4-1.1M496.8 526.9l.9-.8M462.5 507.8l-.5-.7M450.1 515.6l-.4-.7M525.6 567.7l1.4 .4M450.1 513.6l-1-1.2M498.0 528.2l.3-.3M477.7 523.0l.1-1.5M498.9 542.9l.6-.9M515.2 557.9l1.5-.3M460.8 519.7l-.3-.4M455.4 578.9l-.4 .3M471.0 545.5l-.3-.8M526.7 505.7l.8-.7M495.6 561.1l1-.2M501.5 557.9l.8-.2M488.4 505.9l-.2-1.2M497.7 535.3l.2-.3M497.4 536.5l.3-.7M503.9 560.7l1.1-.3M505.0 541.9l.6-.3M497.0 519.4l.3-1.3M495.8 558.8l1.2-.6M471.8 508.5l-0-.6M487.6 515.3l.5-1.5M505.9 579.8l.8 .7M496.0 509.7l-.1-.3M492.1 509.8l-0-1.5M504.7 565.3l1-.5M452.3 577.8l-.8 .5M463.8 582.9l-.8 1.1M523.7 546.1l1.2-.3M471.2 546.8l-0-1.1M460.4 564.5l-.3 .1M512.2 527.5l1-1.1M523.6 559.8l.4 0M499.6 520.0l1-.7M500.8 522.7l.4-1M512.1 552.6l.4-.1M520.3 569.7l.6 .1M479.7 581.6l-.2 .5M491.6 561.5l.7-.2M524.1 570.9l1.4 .5M470.4 546.4l-.3-.2M454.6 511.5l-.1-1.4M510.1 528.7l.8-1.4M471.7 514.8l-.4-.9M456.2 509.3l-.1-.3M482.5 579.9l-.5 1.1M451.6 578.8l-.9 .3M510.5 561.4l.4-0M498.7 531.5l.5-.6M515.0 539.8l.8-.8M495.5 508.4l.6-.8M486.9 559.6l.4-.2M522.0 532.8l.5-.3M456.8 527.1l-.3-.9M465.8 575.4l-.3 .3M480.1 524.8l.1-.7M506.9 551.1l.5-.1M503.1 558.9l1.4 0M452.2 514.0l-.6-.6M459.8 510.4l-.5-1M482.7 528.1l0-1.3M504.1 510.7l.3-.6M496.3 579.3l.5 1.2M490.5 527.4l.5-.9M507.5 516.4l.7-.5M450.9 574.5l-1.3-0M511.3 537.0l.8-.5M453.0 523.7l-.5-1.5M521.2 555.6l.4-.1M493.8 508.7l-.1-1M477.6 524.9l-.1-.9M480.4 519.0l.3-1.5M505.2 520.1l.4-.3M467.0 529.3l-.6-1.3M477.6 557.6l-.4-.9M486.7 520.6l0-.8M494.0 543.2l.6-1.4M515.4 535.6l.5-.6M505.2 552.4l.6-.6M456.4 525.9l-.6-1.4M510.0 538.1l.7-.3M484.9 582.7l.4 1.2M492.7 578.8l.7 .9M494.6 520.0l.4-.7M492.4 537.2l0-1.4M454.7 507.1l-1.1-1M451.7 540.1l-.8-.3M517.3 550.9l1.1-.2M515.9 570.4l1.3 .1M458.4 524.9l-.6-1.3M500.1 519.3l.2-.6M475.7 520.8l.1-.6M449.1 536.9l-.7-1.3M524.4 570.4l1.6-.1M506.9 527.5l.3-.5M490.8 508.9l.2-1.3M467.5 559.9l-1.1 .3M506.5 584.1l1.1 .8M468.2 509.0l-.6-1.5M527.1 545.7l.9-.5M518.2 544.1l.7-.3M455.9 544.7l-.9-.7M507.2 562.9l.5-0M495.0 527.8l.3-.5M471.2 526.3l-.6-1.1M482.3 518.9l.3-1.1M513.5 518.1l.4-.5M506.5 558.0l.4-.2M501.8 539.2l.7-1M519.3 521.6l.2-.3M468.6 576.6l-.3 .6M449.5 572.2l-1.4 .7M521.3 522.1l.9-1.1M485.6 508.2l-.1-1.4M524.8 550.9l.9-.4M481.3 512.2l.4-1.1M499.9 511.5l0-.4M522.7 512.8l.3-.5M495.6 579.3l.9 .6M492.3 538.1l.1-.4M526.1 528.5l.7-.4M481.4 511.2l-.4-1.3M450.3 519.5l-1.2-.8M525.0 571.2l.3 .1M459.8 583.1l-.7 .7M462.3 528.9l-.4-.7M455.0 526.6l-.5-.6M473.5 572.9l-.6 .8M496.2 539.4l.2-.3M496.4 548.5l.3-.4M501.4 572.0l.5 .1M451.6 574.6l-1-0M500.3 550.7l.4-.3M500.9 515.4l.1-.4M491.9 580.3l.2 1.4M496.4 548.4l.6-.8M481.8 545.1l.8-.9M479.1 568.3l.5 .6M505.1 554.5l.6-.4M501.4 560.0l1.2-.3M463.8 520.0l-.1-.3M473.0 532.5l.1-.9M504.6 563.5l.3-.1M464.9 555.2l-1.4-.5M455.1 550.4l-1.1-.6M451.9 519.1l-.4-1M510.4 546.7l.5-.4M483.8 527.2l.6-.8M449.0 550.0l-.5-.3M454.9 509.0l-.3-1M492.6 567.8l.3 .1M451.1 511.0l-.4-.4M499.9 576.9l.4 .3M501.1 563.8l.7 .1M510.7 506.3l.5-1M450.9 526.3l-1.3-.4M457.2 578.9l-.3 .3M521.4 518.5l.8-.4M476.5 522.3l-.2-.3M469.7 565.2l-1.2 .1M523.3 566.8l1 .1M510.1 574.9l.3 0M449.0 526.0l-.5-1.1M476.8 514.9l-.2-.5M504.0 546.8l.6-1.1M484.0 580.5l.2 .6M473.0 512.3l-.4-.8M504.3 553.1l.9-.2M464.6 578.9l-.4 1M467.6 582.9l-.9 .8M463.2 524.5l-.1-.6M525.4 505.9l.3-.6M453.8 541.0l-.2-.9M488.6 506.9l0-.4M496.8 549.7l.6-.5M516.9 520.5l.6-.8M459.4 582.8l-1 .9M494.8 536.5l.5-.8M448.7 576.0l-1.2 .2M498.7 545.3l.4-.6M508.5 567.7l1.2-0M518.0 525.2l.7-.6M500.0 559.3l.4-0M475.6 523.3l-.4-1.1M508.4 544.0l.2-.3M511.6 535.3l.6-.4M472.9 521.4l-.1-.6M494.3 544.4l1-1M517.6 548.3l1.2-1M508.5 543.8l.7-.5M522.2 546.3l.5-.1M505.2 548.0l1.2-.9M455.1 518.3l-.2-.4M506.7 514.6l.6-1.2M465.2 510.4l-0-.5M471.3 543.9l-.4-.8M502.5 515.3l.5-1.1M453.5 579.1l-.9 1.1M464.6 555.3l-1.3-.7M523.3 569.3l1.4 .6M472.3 516.1l-.1-.7M497.3 575.8l.6 .7M462.3 562.4l-1-.3M454.1 571.5l-.7 .4M468.3 526.7l0-.9M456.4 583.7l-.7 1M504.3 540.5l1.1-1.1M527.3 562.1l1.5 0M501.8 570.4l1.4-.3M517.8 564.5l1.1 .3M504.3 584.3l1.4 .6M449.1 534.7l-1.1-.4M451.6 513.6l-.7-1.3M471.1 580.3l-.9 .7M504.0 576.7l1.1 .5M504.4 525.4l.4-.3M500.7 545.7l.6-1.1M461.6 572.7l-.4 .5M494.8 516.5l.3-1.1M489.2 539.9l.4-.7M508.6 556.7l1-.4M483.1 583.9l.6 .7M474.4 539.0l.2-1.5M472.1 515.0l-.5-1.4M480.1 580.3l-.1 1.2M493.0 524.7l.2-1M478.6 576.8l.1 .4M503.1 566.4l.7-.3M481.7 517.2l0-.3M513.6 549.5l1-.7M470.4 558.4l-.5-.4M448.8 581.1l-1.1 .4M467.1 531.7l-.5-.9M514.7 570.4l1.2-.2M456.8 510.7l.1-.3M522.4 522.0l.3-.3M461.1 523.0l-.1-.4M460.9 526.5l-.7-.7M498.1 525.3l.7-1M523.5 533.5l.2-.5M515.1 555.7l.5-0M454.7 513.6l-.1-.4M524.8 525.4l.7-.3M524.8 544.6l1-.7M487.2 509.8l-0-.4M469.2 512.8l-.1-.5M499.1 575.8l.6 .5M508.9 573.9l.7 .1M510.0 584.1l.3 .3M515.8 549.7l.3-.2M485.5 517.0l.2-.9M508.9 576.8l.4-0M516.8 545.0l1.5-.3M480.9 526.6l-.5-1.4M483.3 517.5l.5-1.2M521.6 565.9l1 .3M480.8 507.5l.3-1.5M466.5 543.9l-.3-.6M454.2 530.2l-1.3-.8M510.6 530.1l.6-.8M508.0 516.8l.6-1M513.3 559.2l.8-.3M526.1 516.2l.5-.6M499.5 580.1l.7 .3M513.1 560.8l1.4-.2M467.2 547.7l-.3-.3M454.6 533.8l-.6-.7M508.8 507.8l1.1-1M522.6 558.7l.8-.2M527.3 553.8l.9-.1M475.5 578.6l-.1 1M492.6 510.6l.6-1.2M483.5 526.7l-.1-1.5M496.7 541.2l.2-.5M525.0 533.9l.5-.7M510.8 545.8l1.4-.4M517.1 507.8l.7-1.2M479.6 529.3l0-1M478.8 517.5l-.2-.4M454.8 571.1l-.7 .1M513.4 544.1l.3-.4M474.4 511.9l.2-.6M475.0 523.0l-0-1.2M509.7 562.9l1.4-.1M525.7 541.2l1-.3M523.9 527.4l.7-.6M501.8 558.7l.7-.1M502.5 537.3l.5-1.3M513.9 518.7l.8-1.3M497.3 575.5l.4 .5M507.9 577.8l.4 .4M491.8 576.5l1.5 .3M514.9 521.2l.6-1.4M525.7 505.4l.1-.4M512.1 556.6l1.1-.1M455.3 517.9l-.7-.9M514.9 505.2l.7-.7M450.6 575.8l-.9 .7M494.9 526.3l.4-.5M526.3 537.8l.4-.2M514.4 551.0l1.1-.7M450.5 524.2l-.8-1.3M481.1 522.0l-.6-1.4M483.2 519.7l.4-.6M506.3 554.6l.3 0M467.0 515.0l0-.6M507.2 569.0l.8 .2M478.0 579.2l.1 .6M460.7 512.3l-.4-.6M499.6 565.8l.6 .2M452.2 584.2l-.3 .3M505.6 511.2l.4-1.3M461.7 580.5l-.2 .3M453.0 516.2l-.2-.5M478.7 515.5l.1-.8M491.7 565.8l1.3-.1M519.7 559.9l1.4 .6M510.0 577.9l.8 0M523.9 526.0l.6-.3M525.4 542.6l.9-.3M515.2 560.2l.8 0M450.0 514.3l-.2-.3M527.4 552.8l1.2-.3M490.9 532.6l-0-1.5M461.1 554.2l-.7-.5M516.2 570.3l1 .2M499.2 549.9l.4-.8M509.4 510.3l.5-1.3M512.5 525.2l.6-1M493.9 564.5l1.4-.2M498.1 578.0l.4 .7M486.2 578.4l.4 1M466.0 513.1l-.1-.3M470.9 519.3l-0-1.2M499.8 552.9l.9-1M519.0 524.1l.7-.4M479.3 515.3l.2-1.2M520.7 542.2l.2-.5M504.2 550.7l.3-.2M450.6 554.8l-.6-.3M518.1 561.8l.7 .1M507.3 569.6l1.3-.1M478.5 570.6l.2 1.1M518.5 535.5l.9-.8M472.8 505.1l-.2-1.1" stroke="#2b2bff" stroke-width="1.7" stroke-linecap="round" fill="none"/>
<path d="M523.0 574.7l1.2-.4M449.4 550.1l-1.5-.2M481.2 557.5l.2-1M493.7 544.5l.5-1.3M484.7 571.6l.6 .4M464.3 537.0l-.3-.5M453.0 539.5l-.3-.4M458.8 542.5l-1.3-.7M476.6 535.5l-.3-.8M480.7 572.5l-.3 1.3M463.0 568.9l-.3-0M467.4 556.7l-1.5-.6M481.9 548.5l-.2-1.1M474.8 549.2l-.2-1M481.7 550.4l.1-1.2M463.3 557.1l-.3-.3M523.5 577.8l.5 .3M479.4 571.9l-.1 .6M524.7 575.5l.3 .1M461.4 534.9l-.9-1.3M523.6 576.3l.3 .1M466.4 568.7l-.5 .1M487.3 563.4l.9 .1M480.0 566.8l0 .4M464.4 539.0l-.7-.9M483.4 549.6l.3-.9M473.4 539.3l0-.7M469.4 569.5l-.4 .2M460.7 571.7l-1.3 .4M466.2 530.3l-0-.8M470.6 558.2l-1.2-.8M488.3 537.8l.6-1.3M488.9 544.9l1.2-1M470.3 555.9l-1.1-1.1M486.6 537.6l.4-.5M469.7 540.3l-.3-.6M451.4 559.9l-1.4 .7M483.3 559.8l.4-1.3M477.2 562.8l-.3-.4M474.8 566.6l-1 .6M461.9 550.1l-.4-.3M473.1 554.2l-.3-.9M523.8 576.1l.4 .1M513.9 582.4l.8 .2M478.1 540.1l0-.5M483.7 555.8l.4-.4M465.0 554.8l-1.2-.8M448.4 558.7l-.6-.2M483.3 564.1l.3-.2M450.0 556.0l-.6-.3M494.1 558.9l.8-.4M517.0 573.4l.8-.2M485.5 572.4l.4 .6M485.7 563.4l.9 0M460.5 532.5l-.8-.6M465.7 536.6l-.2-.7M479.4 553.3l.1-1M459.0 549.2l-.8-.5M462.5 561.6l-1.3-.3M474.5 564.1l-1.1-.2M471.3 564.3l-1.2 .1M456.1 545.7l-1.2-.7M456.3 571.2l-1.3 .6M482.5 545.2l.4-.9M470.1 566.0l-.8 .4M514.7 574.1l1.5 .2M452.3 555.6l-.7-.1M474.1 540.4l-.1-.3M511.3 579.3l.5 .2M491.2 548.4l.9-.7M522.1 577.7l1.1 .5M458.4 545.5l-.4-.4M468.0 548.4l-.1-.4M476.9 566.9l-1.1 .5M485.2 567.8l.3 .2M515.0 575.9l1 0M460.5 543.7l-.5 0M473.9 565.5l-.8 .3M482.3 558.0l.5-.8M457.0 565.5l-.6-.2M462.5 532.4l-.9-1M470.0 563.9l-1 .2M470.1 560.8l-.3-.2M481.7 564.5l1.1-.4M520.6 572.1l1.4-.6M489.9 541.5l.6-1.4M512.6 576.8l1.2-.3M518.7 572.3l.3-0M472.8 545.8l-.2-1.1M478.9 546.3l-.2-1.4" stroke="#ffffff" stroke-width="1.7" stroke-linecap="round" fill="none"/>
<path d="M505.3 522.1l.6-1.1M507.6 538.2l.4-1.1M451.3 556.2l-.5-.2M480.3 513.4l-.4-1.4M498.7 539.3l.6-1.2M488.3 546.7l.4-.7M514.9 542.9l1.1-.6M497.1 515.9l-0-1.3M466.1 542.9l-.5-.6M478.2 535.3l.3-1.6M467.4 514.0l.2-.5M479.4 559.7l0-.8M452.4 561.8l-1.3-.4M480.6 519.4l-0-.6M500.2 509.6l-.3-1M508.9 524.8l1.2-.5M497.4 530.9l.3-.7M471.6 534.7l-.4-1M470.0 577.3l-.5 .5M524.3 539.2l.5-.5M508.0 514.2l.6-.7M449.5 538.3l-.5-.7M483.8 572.5l.1 1M488.3 543.8l.2-.3M459.2 556.5l-1-.4M450.3 560.6l-.6 .1M515.9 518.2l.6-.6M482.0 570.6l.6 1.1M449.4 530.2l-.4-.3M454.8 540.8l-.2-.4M480.3 565.5l.3 .3M503.4 542.9l.6-.5M497.8 520.6l.4-.9M483.8 554.0l.4-.9M524.0 513.1l.8-1.2M468.9 566.8l-.3-0M489.1 581.9l.6 .9M498.1 517.7l.1-1.1M486.2 554.5l.2-.7M503.6 534.5l.8-1.2M479.6 552.1l-.2-1.2M474.8 579.9l-.3 .5M454.2 566.6l-.7-.2M455.5 554.1l-1.5-.3M484.8 580.6l.5 .8M485.9 523.9l0-.6M458.1 518.3l-.5-1.1M467.8 575.7l-1.2 .9M520.5 569.8l1.2 .2M470.2 573.3l-.6 1.1M448.9 539.6l-1-.9M453.0 565.4l-.8-0M486.2 579.9l.6 1M470.9 547.5l-.3-.5M464.5 566.8l-.9-.1M478.0 557.1l-.3-.5M499.8 508.2l.1-.4M487.0 566.4l1.4 .5M469.0 572.4l-.2 .3M451.2 523.7l-.9-.8M482.0 552.3l-.1-1.4M495.9 542.8l1-.7M465.9 567.5l-.8 0M465.6 564.8l-1.4-.8M515.3 558.0l.8-.4M492.4 530.9l-.1-.9M503.4 552.5l1.6-.2M490.9 563.4l.5 .1M477.0 535.9l.2-.6M515.9 509.4l.4-.4M485.2 559.4l.6-.4M453.4 513.9l-.5-.7M479.5 526.2l.1-.5M523.1 529.6l.4-.4M478.3 546.6l.1-1.1M474.8 571.6l-.6 1M454.9 558.2l-.6-.3M501.6 545.5l.4-.3M481.1 552.1l.2-.7M466.5 568.4l-1.5 0M466.7 557.0l-1-.8M475.0 569.9l-.7 .4M500.9 533.8l.7-1.2M462.7 572.5l-.5-0M450.8 513.7l-.6-1.1M449.3 552.6l-1.3-.9" stroke="#ff1cff" stroke-width="1.7" stroke-linecap="round" fill="none"/>
<path d="M513.5 579.2l.4 .2M523.9 573.2l1.3-.1M469.8 537.5l-.3-.5M481.0 568.0l.1 .4M462.2 553.4l-.4-.3M485.8 541.8l.7-1.2M522.8 577.9l1.3 .2M513.2 583.5l.8 .4M472.4 559.4l-1.3-.6M480.8 567.3l.2 .3M490.8 542.7l-.1-.5M482.5 539.2l0-.7M479.4 535.8l-.1-.3M523.4 579.2l.6 .2M473.8 556.5l-.5-.6M514.6 577.9l.5-.1M522.2 575.0l1.3 .2M453.0 557.4l-.9 .2M454.6 536.3l-.8-.7M466.5 569.2l-1 1M482.5 538.5l.3-1.5M480.9 536.1l.2-.4M455.4 564.2l-.5 0M459.2 558.6l-.6-.2" stroke="#f2b8ff" stroke-width="1.7" stroke-linecap="round" fill="none"/>
<path d="M472.4 569.6l-1 .8M463.5 553.7l-.5-.3M461.7 544.8l-.3-.9M465.6 572.5l-.8 .4M478.0 532.0l.1-1.6M457.6 535.0l-.3-.7M486.2 537.2l.2-1.5M466.1 537.6l-1.1-1.1M459.7 566.9l-1.3-.2M482.7 557.8l.8-.6M460.8 533.8l-.5-.7M488.7 552.7l.1-.5M460.7 537.5l-.6-.9M465.5 550.3l-.6-.6M485.0 545.3l0-.7M470.2 532.0l.2-1M475.2 568.2l-1.4 .2M465.5 571.0l-.9 1.2M459.0 557.7l-.6 0M466.1 570.4l-.9 .5M473.9 550.0l.1-.8M473.0 570.7l-1 .7M452.0 544.0l-.2-.3M472.4 559.7l-1-.6M472.2 549.2l-.4-1.2M460.5 549.2l-1.3-.1M482.8 546.7l.1-.4M469.6 545.1l-.6-.8M477.3 541.2l-.3-1.6M469.1 571.3l-1.1 1.1M468.4 529.6l.1-.6M487.6 560.6l.8-.3M454.6 548.0l-1.4-.2M470.8 557.9l-.9-.6M455.0 540.7l-.5-.7M466.0 553.5l-.7-.6M467.3 567.3l-1.3 .2M468.9 556.0l-.8-.4M471.0 548.8l-0-.5M490.3 565.5l1.1 .1M460.2 539.0l-.7-.4M483.0 543.0l0-1M452.0 546.6l-.3-.3M478.6 556.4l.1-1.5M482.1 533.9l-.3-1.1M464.8 545.7l-.4-.5M486.5 553.8l.2-.3M455.7 569.3l-1.2 .3M478.8 551.9l-.4-.7M470.5 550.6l.1-.8M470.4 563.1l-1.5-.1M455.9 554.1l-.9-.5M487.9 560.3l.3-.2M464.8 539.9l-.3-.5M469.3 567.0l-.5 .1M478.7 559.4l.2-.6M466.2 548.5l-.4-.7M483.7 570.6l.7 1.2M461.4 553.3l-1.1-.8M456.0 543.3l-.2-.4M472.3 538.6l-.3-.7M457.7 556.7l-.4 0M453.6 562.8l-1.3-.1M477.8 571.0l-.4 .7M463.9 560.1l-1.1-.1M472.1 548.6l-.8-.9M492.1 554.7l.3-.3M458.1 564.6l-1.4 .3M484.9 564.2l.7 .1M456.1 546.8l-1.4-.5M461.8 550.5l-.6-.6M477.4 559.0l-.1-.8M479.3 570.8l.1 .7M472.8 530.2l-.4-1.1M480.4 536.2l.1-1.5M465.0 553.1l-.9-.5M487.3 537.5l-0-.7M457.9 565.1l-1.2-.2M472.1 558.0l-.8-.5M486.9 549.3l.5-.8M464.3 553.2l-.7-1M474.8 565.5l-1.1 .4M478.2 574.0l-.1 .5M475.0 534.9l-.5-1.3" stroke="#2cff4a" stroke-width="1.7" stroke-linecap="round" fill="none"/><path d="M499.3,584.1 C509.3,571.1 519.3,561.1 529.3,554.1" stroke="#3030e0" stroke-width="2.5" fill="none" opacity="0.6"/>
</g>
<rect x="501.80" y="509.20" width="20.40" height="1.90" fill="#fff"/>
<text x="450.10" y="503.01" font-size="6.7" text-anchor="start" fill="#222">Day 17</text>
<defs><clipPath id="hc4"><rect x="188.1" y="598.7" width="77.2" height="77.2"/></clipPath></defs>
<g clip-path="url(#hc4)">
<rect x="188.10" y="598.70" width="77.20" height="77.20" fill="#000"/>
<ellipse cx="222.1" cy="637.2" rx="32.5" ry="36" fill="#26002a"/><path d="M208.3 669.7l.4 .3M222.2 604.1l-.7 .7M242.9 610.2l.4 .1M228.3 617.3l-.3 .1M249.0 656.3l-1.3 .1M211.0 665.0l-.4 1.3M194.3 646.1l.5 .9M219.2 612.9l.4 .7M239.9 657.1l1.2 .8M229.6 641.1l1 .3M249.0 630.2l-0 1M205.8 609.8l.8 .4M243.1 657.3l.4 .4M248.1 624.0l-.5 .3M251.5 647.2l0 .5M232.3 624.0l-.1 1.3M192.7 647.8l-.5 .6M213.9 629.9l-.1 1.3M236.2 614.2l-.5 .1M238.7 625.2l.7 1.2M218.9 639.0l.3 .6M197.2 625.9l.8 .2M231.3 657.4l.7 0M212.4 657.5l-1.2 .7M197.6 641.6l-.9 .1M215.6 618.2l-.9 .4M209.8 659.6l-.1 .4M196.7 640.8l.3 .2M242.9 618.5l1 1M237.1 626.6l-.5 .3M231.1 620.7l-1.4 .3M206.3 646.0l.7 .8M193.2 628.5l1 1M237.6 633.0l.9 .9M229.2 625.0l-.4 .3M240.4 628.5l-.4 1M200.8 643.0l-.5 .2M232.3 607.3l-1.1 .3M245.5 613.1l.2 1.2M244.3 630.4l.2 1.5M232.4 656.1l-1.4 .2M207.6 665.1l.4 .4M203.6 612.6l-.1 .3M234.6 624.1l.8 .4M238.8 623.9l.5 .6M238.8 664.0l-.1 1M213.0 670.9l-.2 .6M214.5 670.9l-.1 .4M205.6 642.4l.6 .6M204.2 660.5l.3 .4M239.1 640.1l-.7 1.3M198.4 619.6l1 .9M230.5 663.9l-1.3 .2M211.3 631.9l1.1 .3M211.4 637.2l.4 .5M222.8 665.6l0 .7M218.6 634.9l.4 1M231.2 658.5l-.1 1.1M201.5 664.2l.9 .3M240.0 667.1l.1 1.2M208.9 666.1l-0 .4M245.2 655.5l.6 1.2M214.6 612.4l-.1 .4M194.6 637.0l.7 .9M245.1 639.3l.5 .2M217.1 671.6l.2 1M223.1 611.9l.8 1.3M216.2 609.3l.5 1.1M222.1 623.5l-.9 .6M193.8 633.4l-.2 1M207.7 631.9l.4 .4M199.8 614.8l-1.4 .4M195.5 622.6l-.6 .5M229.8 633.8l-1.1 .2M227.1 645.1l-.3 1.1M223.9 620.7l-.1 .6M238.3 666.5l.2 .3M209.9 612.6l.9 .6M209.1 613.4l-1 .4M205.9 623.7l1 1.1M241.1 637.9l-.1 .5M232.7 643.3l.2 .6M217.5 653.9l1.4 .5M241.0 618.8l0 .6M239.3 608.7l-.4 .1M241.6 645.6l.2 .6M245.2 622.1l-.4 0M197.8 645.8l.6 .5M233.4 629.5l-.4 .3M216.4 623.2l-.9 .8M227.2 654.1l-.1 .3M208.2 628.7l.5 1M195.8 651.8l-.2 .3M224.3 673.0l-.1 .7M231.4 643.3l.4 1.3M210.7 611.7l1 .9M236.1 654.2l.1 .9M242.3 622.8l1 .3M225.0 622.7l-.1 1M226.5 601.9l-.8 .6M237.8 645.8l.2 .4M205.7 616.9l1.3 .5M239.5 629.5l1.5 0M213.5 657.7l-.5 0M219.6 642.2l-.8 .5M229.3 655.4l-.4 0M224.6 640.8l-.1 1M194.0 630.9l.7 .3M221.8 648.2l.8 .6M224.0 602.4l1.3 .7M207.6 614.1l.4 .5M217.3 613.7l-.3 .8M222.9 626.5l-.6 .3M233.4 633.3l-.3 1M223.7 672.2l.2 .3M249.1 625.4l-.2 .6M195.5 622.6l1.4 .6M228.0 631.2l.9 .8M220.5 627.5l.8 .8M204.7 634.7l.5 .2M233.1 625.6l.4 .3M234.4 613.1l.7 .7M212.2 641.3l-.7 .7M254.2 632.3l-.2 1.3M235.1 637.7l-1.2 .2M245.0 658.2l-0 .8M253.5 630.1l-1.2 .5M233.9 652.5l-.7 1.2M233.7 668.2l.1 1.1M232.4 636.1l.4 .3M247.3 636.2l.8 .4M222.4 663.9l.5 .3M218.7 613.8l.1 .5M211.0 669.5l-.6 .1M193.2 625.9l.3 .7M221.9 639.2l.7 .3M195.7 634.0l-1 .7M211.6 628.4l-1.2 .1M249.0 633.4l-.6 0M239.3 664.5l-.1 .4M212.5 612.2l-.5 .2M198.5 619.3l-.2 .5M192.0 629.0l1.1 .1M199.0 630.1l-.8 .3M247.1 647.0l.3 .6M226.7 607.1l-.4 .6M213.1 606.4l-.3 .4M224.9 628.5l1.2 .2M222.5 607.9l1 .6M214.0 612.0l-1 1.1M209.0 621.5l.1 1.2M232.0 665.2l-.7 .7M225.1 639.4l-.6 1.1M200.7 643.3l.3 .7M238.5 614.5l.2 .7M196.0 643.0l-.4 .5M196.4 651.2l1.2 .5M243.8 647.5l-1.1 0M224.3 645.7l.3 .2M219.0 668.2l0 .8M245.8 636.1l.4 .1M203.4 637.8l-.7 1.3M234.4 626.7l1 .3M207.4 613.9l.7 .6M201.8 657.1l.9 .3M198.3 627.8l-.6 .2M206.0 638.3l1.1 1M213.0 648.9l.2 .5M200.0 648.0l.7 .9M232.7 648.2l-.4 .8M222.9 603.6l-.8 .5M203.0 623.9l.8 1.1M219.3 605.4l.3 .6M237.1 623.1l.7 .4M243.1 622.6l-1.2 .1M228.0 613.5l.7 1M227.3 631.5l.6 1M246.4 634.4l.7 .4M231.7 671.2l.4 .3M232.4 656.5l-.6 .4M249.1 630.2l.4 0M194.5 645.5l-.3 .6M205.7 632.7l-.5 .7M238.5 621.6l.3 .5M218.5 617.8l.2 1.3M196.6 634.4l-1.2 .4M229.0 661.6l.8 .5M200.5 652.0l-.3 .1M227.4 654.7l-.9 .3M220.9 643.5l-.1 .7M220.3 623.3l1.2 .1M208.2 622.8l1 .4M221.5 601.3l.2 .6M232.2 647.3l-0 .8M230.9 616.1l-.6 1.3M228.3 619.7l-.5 .1M238.1 623.8l1 1M200.5 613.0l.6 .4M203.4 638.1l.4 .1M213.0 664.8l-.2 .5M221.5 625.9l-.8 0M231.0 632.9l.5 .1M238.9 631.5l-1.3 .5M248.7 622.4l-.2 .5M218.9 640.3l-0 .9M209.4 666.4l-.5 .2M232.9 657.9l-.8 1.2M244.4 642.6l-1.1 .1M193.6 644.8l.6 .1M213.9 611.8l.2 .7M232.7 609.0l-.8 .7M199.3 615.9l-.5 1.2M232.1 628.2l.7 .8M195.2 639.8l-.6 .4M200.5 620.2l1.2 .5M229.5 608.9l-1.2 .3M216.7 655.1l0 .8M215.7 662.0l0 .4M213.7 667.0l.9 .5M226.7 610.4l-.1 .6M245.5 650.4l.7 .2M213.5 649.4l-.7 .4M232.5 666.8l-1 0M243.0 633.4l-.7 .3M218.6 657.1l.9 .4M193.5 635.5l-1.3 .7M229.2 607.6l.5 .7M210.7 627.3l-0 .6M210.0 658.8l-1.1 .9M213.8 627.0l-1 .8M227.9 653.6l1.3 0M251.5 650.5l.5 .6M197.1 621.4l.8 1M243.9 658.3l1.4 .4M212.2 646.8l.2 1.1M245.9 630.9l.8 .8M218.6 650.6l.3 .4M222.5 628.6l-.2 .8M252.7 630.0l-.3 .9M223.8 643.7l-.2 .6M229.6 633.4l-.1 .3M237.7 626.4l-.7 .2M245.9 618.4l-.6 .7M224.6 662.5l-1.2 .1M190.2 633.9l1.1 .8M232.4 637.2l-.1 .4M208.6 649.3l.4 .6M212.7 661.0l.5 .1M246.7 655.2l-.5 .1M248.7 635.0l-.5 .3M227.1 653.3l-0 .8M216.4 602.1l.3 .9M252.1 626.1l-.2 1.1M251.2 645.5l-.4 .1M222.5 655.8l-.1 .9M217.3 618.0l.1 .6M248.0 638.5l.1 1.2M253.1 643.9l.9 .8M222.3 638.8l1 .2M248.2 645.8l.6 .7M253.2 641.9l-.3 .3M210.6 623.0l-1.3 .6M210.2 663.9l-.6 .7M199.7 628.3l-.5 .9M232.3 633.0l-.1 .5M249.0 650.3l-1.1 .8M244.6 644.7l1.2 .5M208.5 611.1l.2 .6M218.4 642.0l-.2 1.3M228.0 665.9l-.3 .4M210.8 619.4l1.2 .2M229.6 657.1l1.2 .4M243.5 626.6l.1 1.2M231.1 619.7l-1 .5M204.3 664.7l.2 1.1M197.1 650.9l.4 .4M229.7 627.2l-.6 .6M224.9 632.5l-1.2 .8M221.8 614.7l-.4 1M206.8 655.7l1.1 .3M228.6 646.5l-.1 1.5M248.3 653.5l0 .5M251.7 630.7l-.7 .8M230.0 627.0l-.7 .9M248.7 617.5l-.6 .2M202.9 661.4l-1 .3M208.3 612.9l-.2 .7M251.7 626.7l.6 1.3M209.2 611.7l.3 .6M233.0 642.8l-1 1M213.5 667.7l-1.4 .1M229.0 658.6l.3 .7M208.1 624.1l.5 1.4M217.6 649.2l.1 .9M197.4 653.4l-.4 .5M244.0 636.6l.5 .1M220.7 603.3l1.1 .6M206.3 667.3l-.9 .5M193.6 637.0l-.4 .4M229.2 615.3l0 1.5M210.6 642.6l-0 1.4M224.9 618.6l.4 1.1M213.1 625.0l-.4 .7M245.2 613.2l.4 .3M231.2 629.2l.4 .2M219.6 649.5l.5 .5M220.1 658.3l-.4 .2M244.8 621.2l1 .2M235.5 625.7l-.2 .6M208.9 648.7l-.3 .1" stroke="#ff1cff" stroke-width="2.0" stroke-linecap="round" fill="none"/>
<path d="M189.8 640.2l0 .5M226.9 607.2l-.1 .5M214.9 642.3l-.9 .1M237.0 641.3l1.2 .3M233.8 607.2l-.2 .6M221.0 651.5l-.9 0M247.7 637.3l-.2 .2M200.3 626.3l-.5 .7M198.6 657.7l1.1 .7M219.5 616.3l-1.4 .4M211.4 608.6l-1 .7M231.8 620.3l.1 1.2M228.8 649.0l-.3 .4M232.5 671.1l.1 .4M231.8 611.9l-1.2 .8M240.9 626.7l-.7 .3M253.2 641.3l-.5 .1M218.4 612.4l-.8 .4M215.0 649.3l1.1 1M221.3 655.2l1.2 .7M210.7 627.1l.7 .6M219.6 645.1l.3 1.2M236.7 616.0l-.2 .7M215.8 663.6l1.3 .8M236.1 618.5l-.8 1.3M244.9 632.3l-.9 .1M232.6 637.8l1.1 .8M238.7 627.0l.3 .1M228.2 634.3l-.2 .5M210.7 605.2l-0 .8M239.2 660.3l1.1 .4M225.6 609.6l-.6 .4M221.9 602.9l-.3 1.4M224.9 617.0l-1.1 .3" stroke="#c414c8" stroke-width="2.0" stroke-linecap="round" fill="none"/>
<path d="M206.3 611.8l.7 .2M205.9 610.8l-.9 .6M211.0 605.7l0 .7M210.8 613.6l.5 .5M205.8 612.4l.3 .5M209.2 617.6l1.1 .3M210.7 614.0l1.1 .9M202.6 614.7l.3 .8" stroke="#2b2bff" stroke-width="2.0" stroke-linecap="round" fill="none"/>
</g>
<rect x="240.60" y="601.80" width="20.40" height="1.90" fill="#fff"/>
<text x="188.90" y="595.61" font-size="6.7" text-anchor="start" fill="#222">Day 4</text>
<defs><clipPath id="hc5"><rect x="275.1" y="598.7" width="77.2" height="77.2"/></clipPath></defs>
<g clip-path="url(#hc5)">
<rect x="275.10" y="598.70" width="77.20" height="77.20" fill="#000"/>
<circle cx="310.1" cy="645.7" r="45" fill="#180a34"/><path d="M296.8 615.2l-1.2 .6M316.4 608.0l-.3 .2M285.2 629.8l.3 .8M319.4 618.6l-.6 .4M342.7 658.5l1.2 .9M320.0 637.2l.3 .8M352.1 643.9l-.4 1.1M281.0 625.9l-.1 1.3M302.7 633.5l.7 .1M278.3 632.0l.8 .9M293.9 653.0l.8 .5M350.1 655.9l.2 .3M325.9 614.5l.3 .2M277.2 638.2l.3 .5M347.9 669.8l.7 .7M309.1 646.4l-.4 .4M311.8 637.6l1.1 .4M311.8 613.2l.3 .7M305.9 665.2l.4 .3M328.6 646.4l-.5 1.4M297.4 629.7l1 .9M276.0 631.5l-.3 .7M300.3 644.9l.4 .8M321.9 662.4l-.6 .6M290.2 647.2l.5 .8M325.6 633.0l-0 .8M274.4 647.7l-.1 .3M288.1 674.8l.8 .5M332.6 625.6l-.2 .3M309.8 671.4l-.8 .6M345.2 621.0l.5 1.2M306.0 666.4l-0 .3M299.8 642.1l-1.1 .5M335.5 638.4l1.1 .2M326.8 671.1l-.2 .9M328.6 639.5l-.5 .4M322.8 655.6l-.8 .2M338.8 672.9l-.5 .4M282.6 660.4l1.2 .8M278.8 644.3l.5 .4M334.2 642.6l-.6 .7M331.8 622.4l-.4 .1M327.0 609.7l-.2 .8M338.5 657.2l.5 .4M279.8 658.0l1.3 .1M275.1 668.9l.8 .9M298.3 670.0l.8 .6M306.0 676.1l-.7 .5M292.4 646.9l-.2 .4M350.1 665.7l.4 .8M283.5 653.5l.9 .2M275.6 632.7l.1 .4M337.8 628.8l.7 0M304.5 638.3l.4 .5M309.6 644.6l.3 .3M308.7 638.7l-1.3 .6M348.5 665.9l.8 .8M304.2 618.4l.5 .9M293.9 636.0l-1.1 .8M314.6 649.5l-.3 .2M326.4 614.6l-.4 .1M276.8 664.3l-1.5 .2M319.3 629.5l.2 .5M304.7 650.8l1.2 .7M287.0 648.4l-.3 .2M349.9 639.3l-.9 .4M303.7 653.3l-.3 .1M318.2 623.0l-.8 .2M331.9 615.5l-1.3 .1M329.5 653.0l.8 .8M336.1 674.1l.8 .6M300.1 628.2l.5 .2M321.4 639.1l-.5 .8M344.6 617.1l-.5 .3M279.2 641.2l-.8 .2M291.6 617.0l-.1 1M307.2 632.1l.7 .6M351.4 634.9l.8 0M295.5 622.7l1.4 .1M285.3 650.3l.1 .4M296.0 654.3l-.6 .4M285.1 668.1l-1 1M288.4 665.8l.1 .6M318.5 662.6l.3 .2M285.9 608.9l-1.1 .4M285.6 644.0l-.7 .8M336.5 675.3l-.5 .1M279.1 632.7l-.8 .3M328.0 673.6l.5 .9M300.7 616.9l-0 .8M319.9 639.5l-.6 0M292.0 630.5l.2 .6M294.3 642.5l-1 .6M302.1 642.6l-1 .1M283.2 628.5l-.4 1.5M293.3 650.5l-.5 .6M309.6 641.3l-.3 .3M292.3 645.7l.5 .4M351.4 642.7l.9 .8M320.4 632.6l.2 .4M286.0 676.0l-.6 .2M336.9 614.5l-.4 .8M298.7 662.8l-.2 1.3M323.3 672.4l.7 .1M287.0 656.3l0 .6M305.7 648.7l-.2 .4M324.2 637.4l.9 .7M288.4 650.2l.6 .1M332.8 648.8l-.7 1.2M337.1 654.1l-.7 .2M299.3 616.8l1.1 .4M276.2 661.6l-.9 .5M276.6 620.7l-.4 .4M280.8 613.4l-1 .3M286.0 659.2l-.7 1.2M303.8 624.0l-0 .8M308.4 630.8l-.5 .7M288.9 643.7l.1 .6M347.1 650.4l.5 1.2M328.8 648.7l.2 1.2M307.4 650.2l.3 .8M326.0 613.3l.8 .4M315.8 675.9l0 .5M297.7 654.8l1.2 .7M333.9 674.1l1 .2M301.1 634.9l-1.3 .3M290.2 676.9l1 .3M346.9 647.3l.2 .9M295.5 627.6l-.3 .4M306.7 622.2l.9 .5M282.6 626.8l.5 .8M330.4 631.1l1.1 .3M330.3 606.3l-1 .9M284.6 621.5l.4 .4M323.9 615.2l-.6 0M299.3 625.2l-.3 .2M282.9 639.5l-.1 .4M281.6 671.8l.6 0M275.8 627.6l-.1 .8M319.1 629.9l-0 1.2M323.2 605.6l1.3 .1M303.2 664.7l-1 .5M280.8 670.3l-1.4 .3M324.5 631.6l.2 .2M286.7 623.0l.4 .5M280.8 643.9l-.1 .3M333.3 635.8l.2 .8M282.8 669.8l-.2 .4M282.1 626.6l-.8 1.1M295.5 654.4l-1 .4M298.9 623.9l0 .5M302.3 647.0l-.1 .5M290.8 631.1l.6 .9M325.4 611.0l-.3 .5M305.7 636.6l-.5 .9M299.2 642.7l.6 1.4M298.1 672.3l-.7 .5M332.0 615.6l-0 .5M334.4 622.6l.8 1.2M324.5 671.3l.5 1.2M288.9 621.2l-.5 .7M319.9 651.2l-1.2 .5M295.8 669.3l-.6 .3M309.8 636.3l-.3 .5M348.2 650.5l-1.1 .3M335.7 620.3l-.2 .3M345.6 630.0l1 .9M304.8 669.7l.7 .2M274.7 667.9l-1.1 .2M276.3 622.5l1.3 .7M289.6 615.3l-.8 .2M309.8 639.9l.6 .4M309.8 642.8l1.3 .6M303.9 611.8l.6 .2M325.6 665.9l1.1 .9M322.7 668.3l.6 1.3M296.4 649.3l.5 1.1M307.7 617.2l-.5 .7M290.3 664.3l.3 0M331.5 652.5l.3 .6M290.2 638.8l-1.2 .9M315.4 641.0l-.2 1.2M346.0 636.6l-.8 1.2M281.6 639.2l1.2 .8M295.4 653.3l.9 .1M310.0 626.8l-.2 .6M281.3 625.1l.3 .3M303.1 637.9l-.1 .7M336.3 661.8l-.6 1.2M304.4 636.1l.3 .2M294.8 625.0l.9 1.2M294.1 631.7l-.9 .7M281.3 612.6l-.2 1.4M303.9 673.0l.8 .7M309.3 635.9l.7 .8M316.4 648.1l.1 .8M308.0 623.7l-.9 .4M351.5 634.6l-.3 .1M313.7 609.7l1.1 .1M314.1 649.9l.2 .3M305.4 637.1l-.5 .7M344.4 624.5l-.4 .1M288.7 618.1l.5 .9M314.6 633.4l.7 .7M303.2 672.2l-1.1 .7M329.2 671.7l-.6 .6M303.6 675.3l-1.1 .5M299.9 629.6l.8 .7M316.9 652.9l1.2 .5M332.9 647.2l.4 1.1M301.3 668.1l.2 1.2M290.2 625.1l.8 .4M338.5 634.7l.3 1.2M284.0 663.4l-1.2 .7M323.8 622.0l1 .9M323.5 663.2l.3 .1M302.3 634.0l-.1 1.4M314.9 665.8l-1.2 .6M321.9 630.4l.1 .6M296.7 644.2l.3 .8M306.8 620.3l1.4 .3M328.3 665.0l-0 .5M280.9 655.8l-.1 .4M310.1 620.9l.5 1M318.3 607.3l-1 .9M336.1 616.4l-1 1M289.9 625.8l-.8 .5M338.6 656.1l.3 .9M303.0 650.9l.5 0M311.6 651.8l-1.2 .7M283.0 641.8l-.3 .6M278.5 615.5l.8 .8M289.8 626.8l0 .6M313.3 632.9l.8 .6M299.5 651.7l.5 0M296.4 661.1l-1.2 .7M347.7 657.4l-.3 .2M282.0 661.0l-.4 1.1M279.1 648.0l-.1 1.3M297.4 644.5l-.5 0M316.9 672.4l.2 .7M314.0 674.9l-.5 0M275.8 659.1l.4 .2M281.7 618.3l-.4 .7M307.3 648.5l.2 .3M296.9 667.2l.1 .4M321.9 614.6l.1 1.3M308.7 607.0l.5 .3M307.1 624.6l-.3 .5M342.5 615.5l-.1 .9M353.1 639.8l.7 .2M282.5 641.9l-.6 1.1M282.4 655.6l.1 .6M325.8 675.4l-.5 1.3M340.7 674.3l.3 .1M305.6 639.8l.1 .3M299.1 615.2l.1 .5M294.2 637.5l-.1 .6M298.9 630.4l.5 .4M322.1 635.4l-1.2 .2M288.7 627.6l.6 .3M333.6 675.3l-.3 .5M311.3 668.3l-.9 .4M339.6 673.0l1.3 .4M275.4 645.3l-.9 .1M322.2 656.6l-.4 .9M349.0 667.7l.9 .1M312.5 629.2l.9 .1M284.8 633.5l.3 .3M306.9 612.2l-.4 .5M298.7 636.3l-.2 .5M321.7 670.9l.6 .2M306.5 662.1l.6 1M321.1 657.2l-.8 .6M326.4 668.5l1.2 .2M319.3 623.0l.7 .1M315.6 674.3l-.7 .6M326.8 669.7l.6 1.2M313.0 609.9l-.4 1M283.8 625.3l.6 .2M275.4 659.5l.2 .4M324.7 616.6l-.7 1.2M296.3 668.0l-.3 .2M303.7 642.3l-.2 1.3M344.8 629.6l-1.2 .1M304.5 643.2l-.4 .3M309.9 623.1l.1 .7M296.4 640.5l.8 .5M275.6 642.4l-1.3 .3M287.1 632.0l.6 .2M286.1 674.3l-.1 .4M325.4 638.5l-.8 .3M337.4 676.1l1.1 .1M306.1 655.4l-1.3 .1M301.2 640.7l1.3 .6M313.0 633.5l.1 .4M290.9 656.6l.5 .2M310.6 669.4l-.3 1.4M295.2 606.1l-1.4 .4M330.5 656.0l-.1 .8M315.2 636.7l-.4 .1M276.7 635.5l.5 .1M297.4 668.3l0 .7M305.1 651.7l-.9 .6M311.5 669.3l1.1 .2M282.7 656.8l.5 .4M324.7 639.5l-.3 .1M280.3 665.8l.3 1.2M342.5 631.4l-.4 1.4M341.9 622.8l.1 .8M298.7 670.4l-.2 .3M298.8 634.6l-1.1 .8M328.2 670.9l-.9 .1M279.6 654.3l1.2 .9M325.6 638.2l-.8 .3M280.7 644.8l.5 .2M318.1 657.6l.1 1.3M306.5 619.7l-.9 .2M299.3 651.2l.6 .3M301.1 617.2l1.2 .4M289.9 665.4l.9 .2M300.9 611.5l-.3 .1M278.8 651.2l.4 1.1M315.3 602.2l.5 .1M338.1 669.1l-.5 .3M349.2 633.5l-.4 .3M322.9 619.9l-.3 .3M283.0 617.9l1.2 .2M332.8 635.9l-.8 .4" stroke="#2b2bff" stroke-width="2.0" stroke-linecap="round" fill="none"/>
<path d="M299.3 609.1l.2 .2M306.9 616.3l-.4 1M286.2 613.3l.5 .7M316.9 673.6l.2 .5M311.6 636.3l.8 .3M280.0 675.0l1.2 .7M335.0 610.3l-.3 1.1M296.9 615.9l0 .8M339.3 640.4l-.3 0M298.0 622.4l-.5 1.1M297.5 639.2l.5 1.1M314.4 604.8l.7 1.1M330.8 624.4l.3 .7M339.5 612.6l-.3 .9M330.7 624.1l-.2 1.1M326.5 654.2l-.6 .5M329.0 626.7l.4 .7M346.6 639.0l.1 .4M309.1 618.0l-.1 1.3M329.2 656.7l-.4 .3M345.5 656.1l1.2 .3M343.3 642.1l.5 1.3M328.8 619.3l-.3 .7M322.3 642.8l-.3 .3M321.4 648.4l.4 .2M324.8 615.5l.3 .9M290.4 607.7l-.3 .2M335.0 615.9l-.6 .2M306.5 659.2l-.9 .3M286.6 612.8l-.7 .5M294.1 661.0l.2 .4M315.9 612.8l1.4 .3M332.4 616.7l1.2 0M316.7 630.7l-.9 1M301.9 671.5l-.3 .3M328.6 673.6l0 .8M289.1 621.0l.2 .6M330.3 614.6l.3 .4M288.7 613.6l1.1 .6M306.9 628.9l.6 1.1M334.1 616.0l-.3 .5M324.9 658.4l-.7 .3M281.2 646.3l-0 1.3M336.2 659.3l.1 1.2M298.2 619.9l-.3 .9M297.7 613.7l-1.2 0M293.0 610.5l-0 .4M319.2 666.2l.1 .4M318.5 614.7l-.2 .5M310.3 601.3l-.9 .5M341.0 647.1l-.6 .3M332.8 624.1l.6 1M298.1 665.2l.1 .3M309.5 629.0l.5 .5M328.3 671.8l-.8 .4M288.8 636.6l-1.2 .7M340.1 626.9l1.4 .2M301.0 617.4l1.3 .1M337.3 655.7l-.1 .4M298.5 620.5l-.5 .4M339.7 637.6l1 .1M328.0 653.6l-1.4 .2M296.5 620.1l-.9 .9M332.6 632.7l-.9 .6M316.5 669.3l1.3 .7M328.5 608.9l1.3 .5M318.6 645.4l.9 .8M280.3 663.4l1.2 .5M322.0 605.7l.9 .2M293.0 627.5l.1 .7M329.0 611.9l0 .4M343.7 656.5l-.8 1.1M329.8 619.1l.7 .6M335.5 634.3l1.1 .6M336.4 610.0l.1 .6M315.5 634.2l-.2 .4M291.1 606.2l.1 .6M320.6 636.6l.8 .4M312.2 621.5l-.1 1.1M345.7 671.8l-1.2 .8M319.7 609.5l-.7 0M323.6 616.5l-.6 .6M315.6 647.7l1.4 .4M342.6 624.0l-.5 .9M333.8 621.8l.6 .3M315.1 624.2l-1 .7M289.1 636.5l-.1 .7M315.8 624.5l-0 .9M329.3 641.2l-.2 .3M327.7 653.9l.5 .7M346.7 655.9l1 .6M340.4 614.8l1 1.1M344.4 661.1l-.3 .6M324.5 645.1l1 1M286.2 650.0l.5 .1M300.2 620.1l-1.3 .5M304.6 640.9l-.3 1M329.2 630.2l-.5 1.3M296.9 674.0l.4 1M280.5 639.2l-.7 .5M325.8 669.2l-1 .3M304.2 613.5l1.2 .6M348.4 657.8l-.3 .6M314.6 674.8l.2 .9M332.1 633.6l.2 .4M323.7 611.6l.8 .7M315.1 613.1l-1.1 .3M326.7 608.9l-.1 .8M310.5 608.4l.1 .9M284.1 617.4l1.2 .6M312.0 621.2l.8 .9M338.2 645.7l-.8 .1M323.8 658.5l-.4 .9M299.1 634.3l.3 .8M332.1 633.6l.8 .8M313.7 637.3l-.3 .5M349.3 635.6l-.3 .3M296.4 615.1l.5 .2M314.4 640.0l-.4 .2M329.1 611.2l.5 .3M341.4 627.7l.4 .6M344.2 627.2l.6 .9M303.5 605.6l-.1 .5M340.8 660.7l.4 1.4M289.6 617.3l0 1.2M314.3 640.4l-0 .6M312.8 621.6l-.3 1.4M349.6 655.2l-0 .7M337.9 623.8l1 .7M322.0 623.2l-.4 .6M313.5 617.5l.1 .3M322.7 649.3l.8 .8M342.4 636.5l-.7 1.1M321.1 635.2l.1 .6M275.9 620.3l.7 1M291.3 610.2l.2 .9M301.1 612.4l-.4 .1M352.9 635.7l.3 1.4M283.1 610.3l.6 .4M339.9 634.6l.1 .9M331.6 668.3l-.1 1.2M302.4 608.2l1 0M297.7 627.4l-1 .7M300.3 656.1l-.5 .7M306.9 610.6l1.4 .3M331.0 615.2l1.1 .6M286.0 675.4l.3 .4M300.2 618.1l.4 0M315.5 671.7l.3 .6M322.8 619.6l1 .1M332.9 611.0l.6 .5M288.2 620.7l.1 1.1M274.7 648.2l-.5 1M344.2 665.8l1 .5M344.2 639.2l-.4 1.2M325.9 607.0l-.3 1.1M314.8 663.4l-.4 .5M276.3 647.5l-.2 .3M330.9 665.4l.8 .2M340.0 651.7l1.4 .4M330.2 620.0l-.8 1M292.2 611.9l.3 .1M290.7 621.3l-.8 1.1M349.4 654.1l-.6 1M274.9 625.3l.6 .6M318.9 642.5l.7 1M331.2 641.0l.5 1.2M282.4 646.1l.3 .5M316.1 622.3l-.3 .8M350.5 628.8l-.3 0M302.2 642.3l-.5 .1M333.8 625.8l-.9 .8M338.5 652.8l.5 .1M345.6 665.5l.3 .1M335.7 672.7l-.2 .8M302.1 673.5l-1.1 .3M308.6 626.1l-1.2 .1M336.2 634.8l0 .4M324.0 618.5l1.3 .4M352.7 649.8l.8 .3M331.2 611.9l.5 .1M301.5 615.6l-1.1 .2M309.5 617.9l1 .2M316.3 651.1l-.3 0M314.6 634.1l.2 1M277.1 617.1l-.9 .8M352.1 631.6l.1 .4M303.9 632.2l-1.2 .7M319.8 618.8l1 .6M276.2 630.4l-.6 .7M316.2 608.1l.1 1.4M282.3 643.8l.2 .8M346.5 642.2l-.9 .2M349.9 632.4l-.2 1.2M331.1 636.9l.7 0M322.9 666.4l-.3 .7M333.7 640.5l.4 .2M338.5 676.7l.1 .7M335.5 656.2l1.1 .5M345.4 638.1l-.3 .3M307.3 649.9l-.6 .5M313.6 614.7l.1 1.2M337.0 641.1l-.9 .3M346.0 663.8l-1.1 .3M322.0 660.6l.3 .2M314.1 654.8l1.3 .7M303.9 672.6l.4 1.4M289.8 617.6l-.9 .4M301.3 601.8l-.4 0M345.6 626.3l-.5 1.3M341.9 646.0l-.5 .9M342.5 615.3l.3 .5M324.5 645.1l-.8 .7M280.4 615.5l.2 .4M309.6 665.9l.3 .1M337.4 662.7l-1.3 .1M322.3 658.8l1.2 .2M321.5 626.2l.4 .9M350.6 626.7l.1 .3M282.2 626.8l1 .9M334.2 628.1l.3 .5M304.0 657.7l-1.3 .7M295.5 619.4l-.2 .4M308.8 645.3l.5 .1M312.8 648.7l-1.2 .7M300.1 607.6l-.4 .2M305.0 611.4l1 .9M345.0 662.2l-.3 .5M310.7 669.5l.1 .8M274.3 625.4l1.1 .5M310.5 643.9l-.4 .3M320.7 622.5l.5 .4M316.2 664.8l-.1 .5M279.9 634.1l-.1 .5M284.6 637.1l.5 .4M353.0 636.5l.7 .1M296.0 605.9l-1.2 .4M278.9 616.1l-.3 1.4M289.6 610.1l.7 .3M335.2 662.2l.7 .9M334.7 639.4l-.1 1.1M316.1 670.8l-.1 1.1M324.0 671.3l-.1 .8M327.5 673.3l-.4 1.2M331.2 673.4l.3 .1M323.8 637.1l-.6 1.2M276.5 623.9l1.2 0M315.9 603.7l.6 .8M334.5 617.2l.4 1.3M331.0 659.3l-1.4 .3M328.9 656.1l-.3 .9M295.4 618.9l.4 .6M353.3 652.5l.4 .3M300.7 602.6l-.1 1.1M312.4 625.7l.1 .7M306.2 612.9l1 .6M338.5 655.5l-.7 .8M343.5 630.3l.9 .9M278.7 617.0l1.4 0M309.1 663.8l.8 .2M337.7 616.0l-.5 1.1M284.1 610.1l.4 .6M339.7 619.8l-.7 1.3M316.2 609.3l.5 .3M344.9 633.7l-.8 1.2M342.8 634.8l-1 .2M290.1 645.5l-.3 1M323.0 649.7l.5 .3M335.0 666.8l-.1 .6M338.9 622.9l-.4 .4M324.2 638.2l-.3 .2M315.8 615.7l1.3 .3M312.2 606.5l.4 .9M342.6 650.3l-.4 .4M276.2 655.3l0 .6M323.6 653.0l.1 .4M337.8 653.4l.4 1M329.9 672.5l.4 .2M297.6 638.9l.5 .4M278.1 660.6l1 .6M283.5 611.2l-1.2 .3M292.4 662.8l-.4 .1M297.5 664.4l.2 .5M337.9 641.9l-.6 .6M280.0 648.4l-.5 .6M334.4 629.1l0 .3M278.3 650.7l.4 .4M332.9 639.5l0 1M340.3 670.9l-.3 .5M346.0 624.4l0 .5M283.3 645.3l-.3 .1M277.6 615.2l.8 1.1M293.9 639.7l-.7 .5M274.5 621.7l.2 .3M348.4 631.7l.7 .4M314.1 641.7l-.4 .5M275.3 623.6l-1.2 .7M325.1 648.4l-.6 .7M330.6 653.3l.1 .8M317.4 602.6l.6 .7M322.0 654.9l0 .6M323.2 627.8l.4 1.1M304.7 627.9l-.8 .9M329.4 634.0l-.7 .5M321.6 652.4l.9 .5M283.0 661.8l-1 .2M331.5 630.8l-1.3 .5M301.3 658.9l-.2 .3M288.8 624.2l.4 .2M312.6 620.2l.4 0M299.1 616.8l-1.3 .1M304.4 671.7l-.6 .5M292.3 640.8l-.7 .6M345.1 673.7l-.5 .3M302.4 613.6l1 1M300.6 658.3l.4 .3M335.0 639.5l-.2 .5M307.7 661.1l1.1 .1M343.9 616.5l.2 .9M275.8 650.6l1.3 .6M337.3 670.8l.3 1.3M331.3 644.5l1.1 .3M317.0 665.5l-.6 .4M330.5 652.9l.4 1.4M304.0 669.8l.5 .1M340.6 673.7l.7 .5M324.0 643.6l.1 1M333.4 620.3l.4 0M291.0 624.0l-1.1 .7M285.2 637.0l1.2 .6M276.7 631.9l.3 .2M305.5 668.9l1 .3M309.4 611.5l.6 1.1M347.4 642.4l0 .8M312.8 603.3l.6 .2M275.1 619.0l-.5 .6M327.8 638.2l-.2 .7M350.6 632.1l-.4 .4M352.9 653.5l.8 1.2M314.6 603.2l-.2 1.5M314.7 636.0l1.1 .5M303.1 604.6l1.3 .1M335.6 660.3l1 .3M327.1 675.7l1.2 .5M307.2 650.2l-.1 1M332.9 665.2l.1 1.2M296.9 613.7l.2 1.5M320.2 640.9l-.3 0M315.9 664.9l-.1 .4M348.3 661.3l-.2 .6M309.9 629.4l.3 .2M322.4 640.1l.3 1M314.8 625.4l-1.2 .2M281.9 615.2l-.4 .8M333.1 631.6l-1.2 .5M325.1 644.1l-.7 1.1M289.0 618.5l-.1 .4M337.5 673.1l-.4 .1M344.6 636.4l.6 1M276.6 638.6l.8 .8M303.9 613.4l-.1 .3M351.7 638.8l-.1 1.5M289.9 620.7l-.3 1.4M290.3 620.4l-.8 .6M344.1 630.7l-.3 .6M330.8 652.5l0 .4M329.2 639.4l.3 1.3M324.1 644.7l.2 .9M310.2 668.4l-1.1 0M320.7 622.6l1.1 .5M317.4 631.9l.2 1.1M349.8 643.1l-.1 1M291.0 641.3l.3 .6M303.8 633.0l-.3 .6M317.6 608.7l.2 1M331.5 668.1l.1 1.5M279.9 675.7l-.3 .7M323.6 649.3l-.1 .8M298.4 649.3l-.7 1.2M329.5 614.9l.4 .9M309.6 656.4l-1.1 .2M311.5 603.4l-.3 .3M310.5 665.6l.9 1M304.5 602.3l-.3 .7M312.5 611.8l.4 0M325.4 676.0l-.7 .8M352.5 634.7l.3 .7M279.1 616.1l.5 0M277.2 667.4l.8 .2M314.2 654.2l-.7 .7M348.6 633.8l1.3 0M327.4 614.0l-.6 .8M280.4 638.7l1.1 0M307.7 627.8l-.1 1.1M310.6 618.4l.8 .8M287.1 612.2l1.2 .2M346.3 643.4l0 .4M314.0 611.6l.7 1.1M303.9 619.8l.9 .1M343.3 671.9l1.2 .5M326.8 609.7l.8 .5M336.3 617.7l.9 0M301.7 629.8l.5 .5M323.3 621.6l-.2 1.1M320.5 671.7l-0 .6M331.7 615.0l1.2 .7M321.6 643.3l.5 .7M314.7 601.0l.2 .3M350.6 628.4l-.2 .3M334.2 664.2l-.6 .1M310.2 648.9l.5 .6M321.3 614.3l1.4 .2M325.5 663.1l.3 .7M326.8 633.9l1.1 .1M336.7 655.6l.5 .3M286.1 613.4l-1.2 .7M289.4 615.9l-.5 0M321.2 655.1l-1.2 .9M349.2 645.6l.3 .1M323.8 624.3l-.4 1M295.0 650.2l.2 1.1M328.1 618.7l1.1 0M334.0 653.1l-.5 .2M334.5 609.2l-1.3 0M332.2 654.7l-.4 .1M344.2 626.8l.5 .6M325.6 628.6l1 .8M347.7 623.7l-1.5 0M307.0 613.2l.7 .7M329.1 645.5l-1 .4M302.1 616.1l-1.3 .7M330.0 606.5l-1.3 .2M330.1 645.7l1.1 .9M334.0 666.9l-.4 .1M280.7 621.9l-.2 1.3M292.5 616.0l-.9 .4M319.0 646.0l-.2 .3M305.2 669.4l.6 .6M297.9 617.9l-1.1 .7M303.2 655.8l.5 .5M345.0 647.0l.7 1.3M341.5 639.9l-.9 .6M322.6 652.3l-.7 0M323.7 653.1l0 .4M321.8 658.0l.5 .1M302.9 617.1l-.4 .7M347.0 634.9l-.1 .5M316.5 605.7l-.3 0M335.8 651.7l.5 .7M324.0 625.9l-.5 .3" stroke="#ff1cff" stroke-width="2.0" stroke-linecap="round" fill="none"/>
<path d="M300.2 647.6l.5 .4M337.6 621.7l.4 0M285.4 626.7l.4 .5M291.1 655.3l1 .3M276.3 633.4l.3 .5M297.7 617.9l.2 .7M306.2 631.5l-.4 .4M330.2 647.7l.8 .3M293.3 635.2l.7 .5M304.3 654.5l-.6 .1M280.5 671.1l-.3 .2M325.0 666.0l.1 1.1M297.1 605.7l.6 .3M276.1 666.7l-.2 .6M293.4 641.6l1.2 0M314.5 666.3l-.9 1M283.1 616.3l-.5 .2M317.6 664.4l-.6 1.1M289.5 671.5l-.7 .1M303.4 619.4l.5 .8M304.0 670.0l.6 .4M320.4 643.0l-.7 .7M320.1 604.2l.5 .3" stroke="#f2b8ff" stroke-width="2.0" stroke-linecap="round" fill="none"/>
<path d="M343.6 666.9l-.2 .6M341.6 673.5l-.7 .5M283.2 676.7l-.1 .3M310.6 654.1l-0 .7M290.4 613.6l.9 .5M309.9 610.9l-0 1M331.9 612.5l.6 0M294.2 659.7l.3 .2M330.6 630.1l.4 .2M336.1 618.5l-1.3 .6" stroke="#2cff4a" stroke-width="2.0" stroke-linecap="round" fill="none"/>
</g>
<rect x="327.60" y="601.80" width="20.40" height="1.90" fill="#fff"/>
<text x="275.90" y="595.61" font-size="6.7" text-anchor="start" fill="#222">Day 5</text>
<defs><clipPath id="hc6"><rect x="362.2" y="598.7" width="77.2" height="77.2"/></clipPath></defs>
<g clip-path="url(#hc6)">
<rect x="362.20" y="598.70" width="77.20" height="77.20" fill="#000"/>
<circle cx="382.2" cy="628.7" r="50.5" fill="#0c0c5a"/><circle cx="447.2" cy="688.7" r="28" fill="#0c0c5a"/><path d="M373.5 639.6l-.3 .2M372.1 644.9l.4 .5M425.7 615.2l-.6 1.3M438.3 666.4l-.7 1.3M419.6 602.3l.6 .4M404.6 659.0l-.8 .9M423.9 643.4l-.5 .1M414.9 647.0l.6 .3M391.3 619.8l.6 .2M436.9 665.7l-.1 1M389.2 646.5l.1 .6M361.8 623.2l0 .5M362.0 643.1l.8 1M391.2 601.5l-.3 .6M415.7 649.9l-1.1 .4M417.1 651.8l-.6 .5M366.0 598.2l.5 1.1M364.7 614.0l-0 .4M379.0 626.4l.5 1.4M402.9 635.8l-.2 .7M384.4 616.2l-.4 1.1M370.1 620.2l-.4 .5M375.4 670.0l.8 .7M364.8 664.9l1 .9M368.8 605.1l-0 .5M385.6 617.2l0 1.1M395.2 644.5l1.5 .1M380.3 599.1l-1.4 .4M407.8 661.1l-.4 .7M390.9 622.6l.7 1.2M423.9 635.4l-.1 .8M430.5 616.6l.2 .5M387.9 659.9l-.8 1.3M405.1 637.4l-.3 1.1M419.8 600.0l.2 .6M432.2 675.1l.7 1M364.2 606.1l.6 .2M371.4 624.8l-.1 .4M388.6 641.4l.5 .6M403.5 673.6l-.5 1.1M410.7 598.4l.6 1.2M417.6 637.7l.2 .8M413.7 606.6l-.9 .6M387.9 664.5l.5 .4M413.5 662.6l-.6 .1M372.6 644.5l1.1 .8M440.0 672.7l.6 .2M386.9 615.9l.3 .7M424.2 612.7l-0 .5M387.6 648.4l-.1 1M366.4 620.5l-.5 .6M373.8 672.9l-.4 0M422.6 650.1l.4 .9M418.0 657.1l-.8 .9M424.7 608.1l-.8 .3M403.9 659.0l1.3 .6M368.4 639.2l-1.1 .4M366.6 605.5l-1.1 .4M365.6 604.0l-.6 .8M386.5 619.2l-1.2 0M429.1 644.8l-.2 .5M404.8 636.5l-.4 1M413.6 649.2l-.6 .9M382.8 620.0l.2 1.3M394.7 644.3l.3 0M386.3 624.6l.3 0M378.6 611.7l-.9 .5M386.1 608.7l.3 .4M413.7 634.3l-.5 .2M375.9 646.6l.2 1M363.1 666.9l.4 .2M373.1 604.1l0 .4M379.2 613.1l1 .8M390.5 618.6l.3 .5M428.1 622.3l.7 .1M380.5 604.3l.8 1.2M425.4 628.4l.2 .3M427.3 676.6l-.6 1.3M367.2 607.3l.4 .2M391.1 643.5l.1 .8M402.9 670.4l.6 .6M391.9 600.8l-.6 .4M424.2 675.0l-.9 .5M423.7 656.4l-.5 .6M367.4 676.1l-.7 1.2M417.7 652.9l-.4 .3M369.9 623.8l1.1 .8M390.9 618.0l-.7 .2M408.9 650.3l-.4 0M366.8 670.2l-.8 .7M417.8 606.5l1.1 .9M427.8 676.0l1 .3M407.3 670.4l.5 .8M380.9 619.2l.5 .2M370.6 619.2l-1 .5M367.2 604.2l.8 0M406.2 664.4l-.3 1.4M390.1 600.7l.3 .3M361.3 615.6l-.7 0M377.0 602.7l.2 .8M424.4 608.3l-.5 .2M389.1 606.2l.5 .4M382.2 644.3l-.2 .3M429.1 668.4l.7 1.2M426.0 636.6l-.3 1.4M370.5 672.8l1 1M384.0 675.3l.3 .1M365.2 624.8l-.5 .1M401.7 653.8l-.1 .3M394.9 649.5l.3 .8M363.2 604.5l.7 0M415.1 645.8l-.2 .6M415.1 660.4l-.6 .8M416.8 601.5l-.3 .1M407.2 651.8l.4 .5M386.3 616.9l-.4 .8M402.1 667.5l-1.1 .6M379.6 613.0l-.3 .3M368.3 672.3l-.1 .8M385.8 605.3l.8 .8M423.1 614.1l-.3 .3M432.0 627.3l1.3 .4M431.0 625.2l.2 .5M370.1 612.1l-.9 1.2M392.9 606.8l.4 .7M376.9 606.3l-.9 .2M434.2 666.7l-.6 .5M370.5 647.0l-.2 .9M426.4 610.9l-.5 .1M384.0 611.6l-1.2 .6M410.0 635.3l1.1 .8M386.7 672.6l-.2 .6M431.3 637.2l-.7 .3M369.1 617.8l.2 .4M437.6 665.0l-0 .6M364.5 601.6l-.6 .5M430.7 620.6l-.7 .2M368.3 657.9l-1.4 .3M391.5 644.6l1.1 1M389.6 597.9l-.2 .7M419.1 605.6l.1 .5M403.9 664.1l.6 .2M366.4 612.7l-.1 .8M365.3 616.5l.4 0M364.5 600.2l-.3 .4M403.1 670.9l-.2 1M423.4 650.4l0 1.3M426.5 633.1l-.4 .1M402.6 666.9l.7 1.1M388.5 612.1l-.3 1M362.0 614.8l.4 .4M388.4 598.2l-.2 .5M402.0 671.4l1 .5M406.5 646.8l-1 .7M413.4 662.6l-.3 .6M369.7 599.7l-.2 .4M388.5 600.2l.2 .2M430.4 621.5l-0 1.1M376.5 624.7l-1.1 .8M384.9 603.1l-.2 .3M387.6 675.9l.5 .5M378.8 638.8l-.7 1.3M379.6 603.2l.1 1.4M422.8 609.0l.7 0M384.2 611.5l-.6 1.2M384.6 601.7l-.4 1.2M380.1 624.2l-.2 .5M376.0 600.7l-.6 .7M397.0 642.7l.8 0M384.8 616.5l.8 1.2M369.5 621.7l1.1 .2M401.1 669.7l0 .9" stroke="#2cff4a" stroke-width="1.9" stroke-linecap="round" fill="none"/>
<path d="M383.0 608.0l1.2 .3M421.0 620.5l-.4 .2M418.2 652.3l.6 .7M413.9 653.8l-.2 .5M388.5 623.7l.2 .4M372.1 651.1l.4 .3M382.5 622.3l.1 1.4M405.7 656.9l-.5 .1M392.0 643.5l-.1 .4M434.7 666.0l1.1 .1M374.2 643.5l1 .4M426.2 616.6l.4 .6M380.4 654.8l.9 .3M389.1 648.1l.4 .7M381.9 601.7l-.4 .2M411.3 669.1l-.7 .5M421.9 628.5l-1.1 .3M414.2 652.6l.2 .5M381.8 674.3l-.5 .4M435.1 676.3l.9 .9M415.7 664.5l.3 .1M386.1 644.8l.2 .3M386.8 672.2l-0 .3M382.7 667.7l-.6 .1M378.8 641.7l-1 .4M373.8 600.7l.3 .7M409.4 601.9l-.5 .9M413.0 662.1l-.4 .9M417.3 621.3l-.4 .8M410.1 645.6l-.1 .4M403.5 670.0l1.3 .1M425.1 628.7l1.3 .6M365.3 606.1l.1 .4M409.7 656.5l-.6 .5M407.1 640.6l.2 1.4M390.6 650.7l-.9 .5M370.8 653.6l.5 1.4M415.7 647.4l-.4 .7M413.6 627.2l.6 1M366.9 638.5l.6 .7M412.0 635.0l-0 1M393.1 650.8l-1.2 .8M406.5 649.7l.5 .5M385.7 673.0l.6 .2M396.0 648.0l-.5 0M422.2 625.0l-.4 .2M421.5 655.9l-1.2 .6M391.1 608.8l-.8 .4M423.5 601.2l.2 .5M420.9 647.9l0 1.5M419.3 610.0l.9 .3M414.4 643.8l-.9 .7M408.2 641.1l-.7 1.3M402.8 638.5l.3 1M371.6 669.7l-1.1 .1M428.5 673.8l.9 .3M417.3 613.7l-.3 .1M376.2 659.3l-.9 .9M366.3 676.0l-1.3 .7M385.8 646.2l-1.2 0M365.6 639.2l.5 1.2M394.3 640.2l-.5 .4M413.5 653.5l-.5 .7M398.6 653.9l-.9 .3M420.1 646.7l-.7 .6M431.0 627.9l.3 .6M396.9 654.8l-.2 1.3M392.5 624.6l.6 .3M396.4 598.8l0 .5M397.1 652.3l-.5 .9M410.8 651.8l.2 .8M388.2 653.4l.1 .3M425.8 675.3l.1 .4M409.8 645.1l-1 .3M418.7 658.6l1.3 .2M397.0 637.7l-.6 .3M409.0 654.3l-1 .9M417.1 661.3l.5 .6M409.5 644.1l-.3 .1M406.7 651.4l-.2 .3M423.3 657.9l-0 .9M429.2 623.2l-.5 1M393.9 616.9l.5 1.3M392.1 649.1l.3 .3M369.4 670.0l.5 .8M416.3 611.2l.1 .7M401.3 653.6l-1.1 .2M374.1 612.7l.1 .6M427.1 623.4l-1.1 0M404.5 645.1l-.1 .4M379.7 676.5l.2 1M430.2 629.8l1.5 0M415.8 658.4l.2 .6M392.0 673.0l-.3 .2M422.8 608.5l-.2 .3M377.4 620.2l-.5 .3M366.1 605.3l.7 .4M431.0 633.9l-.4 0M376.1 627.5l.8 .9M405.4 645.3l.3 .9M362.2 606.6l-.4 1.2M417.4 635.6l-1 .6M428.9 671.3l.3 .6M389.9 656.3l.3 1.1M415.3 630.0l.5 .5" stroke="#ff1cff" stroke-width="1.9" stroke-linecap="round" fill="none"/>
<path d="M378.8 664.5l-.7 .3M377.0 612.7l-.4 1.1M418.1 659.4l-1.2 .8M372.2 646.7l.9 1M391.4 658.5l.8 1.3M406.1 662.2l-1.1 .7M402.8 669.2l.1 .9M405.1 635.3l-1.3 .2M373.5 669.0l.8 .7M409.7 666.3l-0 .9M366.7 663.2l-.3 1.3M384.3 662.0l1 .7M420.5 654.6l-.4 .6M402.6 636.1l.6 1.3M387.6 645.6l1 .6M404.0 629.1l-.6 1M394.7 625.8l1.3 .6M407.7 634.0l.1 .5M385.6 607.7l-.3 .3M377.7 654.9l-.1 .8M421.3 611.4l-0 1.1M410.1 664.3l.4 .5M369.0 618.5l-.8 .5M363.9 636.1l.6 .3M412.0 667.0l1.1 .9M402.4 604.5l-.1 .8M364.7 666.6l-.2 1.2M366.6 604.4l.5 .4M368.0 661.6l-.2 .7M372.2 651.2l1.1 .6M421.9 637.3l-.3 .6M382.2 673.5l.5 .4M369.1 674.5l-1.1 .9M421.2 616.2l.4 .6M405.2 619.5l0 .5M383.5 666.4l-.9 .1M429.1 646.8l0 .9M409.7 657.6l-.9 .2M386.8 662.2l.1 .3M416.6 648.5l.3 1.3M406.6 602.6l-.3 .2M390.1 667.3l.5 .4M386.3 660.5l.1 1.2M419.0 620.3l-0 1.4M426.6 629.6l.1 1M401.6 670.5l-.3 .2M372.9 636.4l0 .8M367.2 598.1l-.1 .8M381.4 667.9l1.1 .8M415.0 611.2l0 1.2M382.8 674.6l1.1 .7M373.3 664.1l1.5 .2M405.9 630.5l.4 0M412.7 619.8l-.1 .8M364.6 631.0l-.4 .4M422.3 644.5l.5 .5M380.6 667.7l-.5 .2M408.3 598.1l.2 .6M395.9 654.3l-.5 .1M385.4 639.2l-.3 .2M379.0 633.5l.3 1.2M384.6 641.3l.5 .6M376.5 659.4l0 .4M375.3 609.1l.4 .2M394.4 629.6l.4 .7M415.8 628.9l.1 .6M371.2 676.7l-.4 .1M405.7 599.9l.4 .1M385.5 673.8l-1.3 .7M377.1 620.2l1 .2M393.6 614.3l.5 0M405.1 660.2l.4 .3M411.8 634.4l.6 .7M418.6 629.6l-.2 1.4M387.5 631.2l-.7 .6M398.1 644.1l.3 .2M400.2 634.2l1.2 .7M431.8 620.0l.8 .8M382.3 647.1l-.2 .8M397.7 657.8l-.6 .8M374.7 660.2l1 .5M393.1 604.8l-.4 .3M386.8 612.8l-.2 .7M405.0 644.7l-.8 .8M362.8 619.9l-.2 1.2M398.4 641.3l.1 .4M403.7 606.3l.4 .2M388.1 637.8l.4 0M422.6 654.8l-1.2 .2M385.1 647.7l-.2 .5M404.2 622.3l-.4 .9M371.3 650.6l-.3 .6M378.1 670.2l-.1 1.1M416.1 630.0l-0 .6M396.5 633.5l-.4 .2M396.0 658.4l.3 .8M364.2 634.2l-.1 .3M409.5 652.0l0 1.3M386.3 632.9l-.3 .1M390.8 666.5l.5 1M384.3 667.9l.4 .9M408.0 614.7l-1.4 .4M385.8 671.6l.6 .1M415.9 655.1l-.4 .1M426.5 675.7l-.6 .9M406.3 666.0l.4 .3M377.6 648.1l-.5 .2M411.7 603.1l.6 .6M401.3 606.4l.7 .8M437.2 670.0l-.3 0M403.5 642.4l-.5 .4M365.6 652.7l-.5 .3M369.6 631.1l.8 .7M429.6 633.2l-.2 1.5M370.2 651.2l.8 0M374.5 657.3l-.2 .4M393.8 619.0l1.3 .5M383.0 640.0l-.3 .1M380.1 641.6l.3 .4M364.9 640.1l.9 .4M409.8 603.2l-.2 .7M363.5 662.0l-.1 .5M363.0 651.8l-.3 0M380.7 640.5l.8 1.1M396.5 610.2l-.2 .7M395.8 651.1l0 1.2M438.4 675.5l1.4 .3M409.7 625.8l-.6 .1M414.6 664.7l.2 .3M404.2 660.7l.5 .9M402.4 602.6l.8 .6M363.5 654.5l.3 .9M362.4 650.2l-0 1.2M391.9 628.5l.4 .4M415.5 621.8l-.7 1M376.2 658.6l-.1 .5M365.7 614.7l.5 1.3M404.9 646.7l.2 .5M426.1 638.0l.2 .4M398.5 664.2l-.6 1.3M377.0 673.6l-.1 .4M416.8 598.7l-.2 .5M401.6 605.7l.4 .5M414.8 616.2l-1.2 .3M414.5 619.6l-.6 .9M393.7 661.6l-1 .1M412.9 615.5l-.8 .9M361.6 634.5l-.3 .5M389.6 656.1l-.4 .1M376.6 646.4l-.4 .6M418.1 618.3l-.4 1.2M369.8 645.6l-1.2 .3M426.0 645.8l.8 .2M407.0 610.9l-1.3 .2M406.8 599.0l.3 .8M390.0 667.9l-.7 0M404.4 607.9l-.6 .1M371.0 639.7l.1 .3M384.9 669.0l.3 1.1M407.6 658.8l.2 .4M380.5 634.6l.7 1.1M376.4 668.2l.6 .9M371.3 661.4l-1 .6M372.6 667.4l.3 .6M409.3 646.9l.3 .1M414.9 663.4l1.3 0M415.5 619.7l1.4 .2M365.9 651.3l.3 1.1M396.5 661.5l1.1 .2M369.3 671.2l.5 .1M413.8 599.8l.6 .9M373.2 634.9l1.2 .3M400.8 659.4l-.6 .7M369.6 670.8l.4 .7M391.4 664.7l-.9 .1M392.1 627.8l-.6 1.4M407.4 612.7l-.5 .2M407.8 611.5l.3 .6M363.2 646.4l.6 .2M381.4 662.8l.8 .4M376.0 646.6l-.1 .4M399.1 625.5l-.9 .6M374.5 627.1l-1.2 .5M387.2 629.7l-.4 .9M406.3 632.9l-1 .5M379.4 640.8l.1 .8M364.9 638.2l.9 .7M400.7 598.9l-1.4 .1M409.7 609.7l-.1 .7M390.9 667.2l-.3 .6M394.9 622.5l.6 .2M364.6 665.5l-1 .3M418.7 601.0l-0 1.3M363.7 621.2l-.4 .2M374.9 608.1l0 1.5M413.9 617.9l-.2 .4M385.8 605.2l.4 1.4M404.0 611.5l.4 1.2M392.3 629.0l-1 .2M367.3 600.6l1 .2M403.2 649.6l-.8 .4M419.0 647.8l-.2 .9M400.1 636.5l0 1.4M414.2 607.9l-.9 .5M374.1 629.3l.2 .6M390.7 661.5l1.1 .2M367.0 601.3l-.3 .5M412.4 627.7l.3 .2M404.4 625.2l-.6 1.2M419.3 638.4l.3 1.2M392.0 598.8l.8 .7M366.3 605.7l-1.3 .1M422.4 640.9l-1 .8M413.7 646.5l1.3 .7M397.9 611.0l.2 1.2M403.3 647.2l-1 .7M394.0 613.9l.4 .8M394.2 668.0l1 .1M410.8 608.6l1.3 .3M388.6 669.9l-.3 .2M363.7 637.2l-.4 .6M365.7 662.1l-0 .3M375.2 673.2l.5 .3M428.6 640.5l.3 .1M379.2 619.5l-.8 .2M382.8 634.4l-1.3 .4M384.8 621.5l-.7 1.2M385.3 646.3l1.3 .2M413.2 626.9l-.6 .4M404.8 659.3l-.6 .1M400.5 601.0l-.9 1M403.6 626.7l-.1 .5M410.1 624.3l.1 .3M399.2 602.3l-.2 .9M408.8 614.1l-1.1 .7M375.3 636.4l.9 1M421.1 626.7l-.9 0M392.0 626.2l.5 1M373.6 631.6l-1.5 .2M400.0 620.8l.5 .3M375.2 667.2l-.7 .6M416.0 628.1l-1.3 .2M367.2 658.5l.1 .5M417.3 608.6l-.8 1.1M430.4 616.2l1 .7M405.3 641.2l1.1 .1M396.6 623.7l.4 1.3M411.7 632.8l-.5 .7M369.0 672.3l.7 .9M387.9 653.4l1.2 .1M390.3 655.6l.4 .6M430.7 673.5l1.4 .4M411.2 608.6l-.8 .4M407.2 603.5l.2 1.1M382.8 628.9l-.8 .2M429.3 619.7l.3 1.2M414.3 639.3l-1.1 0M398.8 670.5l-.2 .8M424.0 606.2l.5 .1M365.2 636.9l.9 .1M375.2 629.9l.6 .6M383.7 658.9l.4 0M370.5 659.0l1.2 .2M413.7 622.4l-.3 1.3M419.5 661.3l1.2 .5M361.3 640.7l.5 .6M388.3 674.4l-1.2 0M399.6 628.3l.3 1M405.3 609.5l.4 .1M421.3 645.1l.7 1.3M430.7 638.7l-.4 .5M394.0 625.7l-.6 1.1M417.4 607.4l.3 0M419.0 649.5l-.8 1M388.8 642.0l1.2 .6M401.6 603.0l-.5 1.1M395.3 658.7l.6 .1M383.1 639.1l.2 1.2M393.3 658.0l-0 .4M406.1 617.4l-.5 .8M365.3 655.8l.6 .2M411.8 600.2l.3 .4M403.9 613.9l-1.2 .3M412.4 601.5l.8 .3M413.3 622.8l-.7 .5M375.2 633.7l-.3 .1M367.1 605.6l1.3 .1M394.0 660.6l-.3 0M398.2 602.1l-.8 1M439.8 662.1l-.7 .5M386.5 609.7l-.7 .5M385.0 625.8l-1.4 .5M407.9 605.5l.6 1M390.9 600.7l-.7 0M378.7 646.3l.3 1.2M394.1 607.6l.3 .8M407.1 628.7l-.2 .3M387.8 662.3l.2 1.2M381.6 670.3l-.8 1M387.1 657.2l.7 .2M382.2 660.8l.4 1.1M380.5 636.0l1 1M372.8 629.5l.4 .3M377.1 636.3l.1 .6M394.3 609.4l-.4 .7M408.9 626.8l.1 .6M399.3 655.2l-.5 .4M361.3 633.3l-.6 1M369.9 643.2l.4 .9M408.2 621.2l-.1 .3M417.0 612.5l.4 .8M361.9 649.4l1.1 .1M401.4 605.1l-.3 .4M400.3 643.8l1 .8M405.2 619.0l-1.1 .6M374.0 646.5l.4 .1M426.1 671.5l.6 .4M369.8 636.7l.8 .7M382.8 628.4l.6 .6M412.2 631.5l-.1 .3M366.9 663.9l.2 .3M433.2 668.5l1.2 .2M423.3 607.4l0 .3M419.1 627.4l.3 .1M400.6 599.4l.3 .6M403.1 652.1l-.6 .2M390.5 651.7l-0 .4M372.0 601.9l-.4 .3M371.4 654.9l-.3 .8M388.1 655.8l.5 .2M384.9 653.8l-1.5 .1M401.5 673.4l.6 .9M401.2 623.6l.8 .8M414.8 661.9l.8 .7M369.8 622.1l-.4 .6M416.2 635.6l.8 .4M395.0 620.0l.1 1M380.0 647.2l.3 1.5M366.6 651.0l.7 .8M406.1 654.4l-.9 .1M367.9 613.6l.3 .2M379.7 627.4l-.5 1.1M372.8 628.1l1.3 .1M384.7 641.9l-0 1.1M403.8 624.3l.2 .8M397.3 610.1l-1.4 .3M396.9 628.5l-1.1 .3M379.2 668.7l.2 .5M369.3 603.4l0 .7M377.6 650.1l.2 .6M372.1 649.6l.6 1.3M366.4 671.4l.8 .3M424.9 673.3l.5 .1M379.5 600.9l.9 1.1M375.3 654.6l1 .6M411.7 600.1l-.1 .6M373.6 664.8l.6 .4M373.7 633.3l.3 .1M412.6 629.7l-.6 .3M418.5 647.9l-.1 .9M391.6 667.4l-1.2 .3M401.5 619.8l.1 1.4M417.1 623.9l1.1 .1M425.7 627.1l.7 .5M361.2 667.9l-.8 .4M388.1 599.0l-.2 1.3M409.0 652.3l-.4 1M375.6 661.8l.8 .1M381.1 609.1l-.7 .3M387.7 613.1l-.2 .5M425.4 641.0l-.1 .8M363.6 662.9l.3 .3M380.0 640.0l.3 .1M394.3 667.5l.1 .5M375.4 647.1l-.9 .2M427.2 616.8l.9 .5M369.3 675.9l.5 .3M392.8 638.5l-0 .5M406.9 613.7l.3 .9M424.4 642.4l1.2 .2M372.3 608.6l.2 .8M401.8 660.2l1.2 .1M402.3 607.5l.1 .5M398.3 612.3l-.3 .3M380.9 633.5l-.9 .1" stroke="#2b2bff" stroke-width="1.9" stroke-linecap="round" fill="none"/>
<path d="M413.6 647.4l.9 .7M399.3 641.3l.2 .5M406.9 652.1l-.3 .3M401.0 634.3l.2 1.4M412.8 633.7l-.6 1.2M406.8 649.6l.1 .5" stroke="#f2b8ff" stroke-width="1.9" stroke-linecap="round" fill="none"/>
</g>
<rect x="414.70" y="601.80" width="20.40" height="1.90" fill="#fff"/>
<text x="363.00" y="595.61" font-size="6.7" text-anchor="start" fill="#222">Day 6</text>
<defs><clipPath id="hc7"><rect x="449.3" y="598.7" width="77.2" height="77.2"/></clipPath></defs>
<g clip-path="url(#hc7)">
<rect x="449.30" y="598.70" width="77.20" height="77.20" fill="#000"/>
<circle cx="532.7" cy="613.2" r="84.4" fill="#1e0626"/><path d="M465.4 607.2l-1.5 .1M466.7 602.8l-1.4 .4M485.6 623.5l1.5 .3M520.8 604.5l1.2 1M515.3 620.8l-1.3 .8M520.1 609.2l-0 .5M483.1 636.5l.6 1.2M495.1 648.2l-.2 .7M496.5 660.5l.6 1.1M495.3 608.0l-.4 .9M503.8 646.6l-.3 .1M498.2 654.0l.2 .9M522.9 676.1l1.8 .4M525.2 629.3l.2 1.2M493.7 628.8l-.1 1M527.3 656.1l.6 .5M464.0 601.5l.5 0M513.0 658.2l-0 .7M525.0 622.6l.3 .7M522.9 664.1l0 .7M524.2 621.8l.7 .9M475.1 642.0l1.5 .1M520.5 614.9l-.7 .3M485.7 642.1l-.1 .3M485.9 660.8l-.8 1M499.6 602.6l.8 0M480.5 623.1l-.4 1.3M516.6 655.2l0 1.6M494.7 640.4l-1.6 .4M469.3 642.9l-1.5 .6M471.0 668.5l1.1 .3M452.4 604.5l.1 .3M482.1 606.9l-.5 1.1M526.5 600.1l.6 .2M506.8 656.9l-.7 .5M461.2 602.1l-.4 .8M510.5 645.9l1.4 1M476.7 608.1l-.7 .2M508.6 615.4l0 .4M496.4 641.7l.4 .6M496.5 613.3l.5 .8M526.3 670.5l-1.4 .8M503.9 620.9l.2 .3M461.5 614.2l-1 1.5M509.6 599.1l-.8 .9M508.6 627.1l1.5 .3M504.9 641.4l-.3 1.5M494.9 639.5l1.3 1.1M496.2 646.3l-.7 1.1M467.3 606.0l.2 .9M511.4 605.9l.6 1M455.1 601.0l0 1.2M457.3 611.9l-0 .6M465.5 620.2l-1.2 .7M512.8 675.8l1.4 .3M527.1 641.1l-.5 1.6M478.9 619.6l-.4 1.4M519.1 637.0l-.2 .4M481.9 601.4l1.2 1M522.8 653.1l.9 .7M464.3 641.4l1.7 .2M515.7 628.5l.2 .3M512.2 644.5l.3 .1M492.4 640.2l-.7 .5M484.6 604.2l.3 .4M462.4 637.9l-1.8 0M508.6 648.7l-.2 .2M509.1 602.7l.6 .8M514.5 615.9l-.5 .3M481.1 600.5l1 1.4M472.1 606.5l-.8 .3M459.3 626.6l.4 .8M510.9 610.7l-.8 .4M505.1 618.0l1.6 .2M501.3 663.0l.2 .7M520.7 648.2l-1.7 .3M482.1 629.6l-.1 .3M517.8 606.8l-.3 .6M510.9 601.4l-0 1.1M510.4 648.8l-.5 .2M495.4 621.4l.4 .5M499.6 617.3l-.5 .5M480.5 610.0l-.7 .6M518.2 669.7l1.4 .6M496.3 669.5l-.3 .2M463.0 623.9l.2 .8M507.8 607.8l1.5 .2M503.3 635.3l.1 .4M467.7 599.4l-.6 .1M471.9 611.6l1.5 .4M509.1 654.8l1.2 .3M509.8 642.2l-1.5 .7M464.2 621.5l-.6 .1M506.1 633.9l1.5 1M525.5 638.4l1 .2M527.4 672.0l.2 .8M523.5 638.5l.1 .4M486.9 630.2l-.2 .4M481.7 641.2l-.8 1.1M490.6 670.1l.6 1.4M480.7 610.0l.2 1.5M501.8 659.6l-1 1M470.9 625.9l.3 .4M522.9 668.2l.4 .7M493.2 627.8l-.3 .4M483.0 658.5l.5 .1M483.3 611.5l-.9 .2M521.1 638.3l-1.7 .6M467.2 623.1l.7 1.5M520.5 636.4l-.1 .8M521.3 628.5l.8 1.4M481.8 603.0l-.3 1.6M479.7 676.2l.5 .2M476.2 631.8l-.3 1.3M484.7 650.2l-.1 .8M516.4 637.0l-.7 .4M458.8 616.7l-1.4 .4M518.3 633.6l-.6 .5M516.9 638.3l.7 0M511.9 640.8l-.2 .3M515.2 637.9l-.4 .3M488.6 624.3l.2 1.3M494.4 607.2l.8 .6M496.4 623.4l-.4 1.4M513.6 667.8l-.2 .4M482.5 643.5l-1 .2M483.7 611.4l.2 .7M497.8 604.0l.8 .1M454.7 612.2l1 1.3M509.8 614.2l-.9 .1M494.1 598.6l.1 .7M495.2 622.0l.5 1M453.8 616.5l-1.7 .7M476.8 675.5l1.3 .6M522.4 614.2l.1 1.3M465.4 602.6l.9 .4M517.7 637.1l1.3 .2M490.8 641.8l1.2 .4M520.0 663.0l.1 1.5M503.0 616.2l-.8 .3M476.8 634.1l.1 .3M512.1 643.3l-.5 .5M479.8 637.5l-.5 .4M513.5 664.1l-1.5 .1M525.1 668.4l-1 1.1M518.9 662.1l1.1 .3M485.8 619.0l-.6 .7M509.9 647.5l-.6 .2M473.9 619.5l-.9 .9M453.4 598.2l.9 .1M502.4 654.0l1.8 .2M527.1 635.2l-.8 1M508.5 626.9l1.1 1.4M506.2 627.0l.5 1.5M503.1 623.5l-.1 .3M511.3 645.4l-.5 .2M481.0 619.4l-.4 1.6M525.2 629.8l.4 .3M456.1 644.7l-1.6 0M523.6 633.1l.4 .4M514.3 660.4l-1.1 1.3M523.3 619.4l-1.7 .3M476.4 612.4l-.5 1.6M520.5 600.6l-1 0M490.4 632.0l.7 1.2M525.9 599.3l1.5 .8M472.3 625.2l.7 1.2M462.8 644.7l-1.6 .6M495.9 666.0l1 1.5M450.6 615.7l.5 .3M475.3 662.2l-1.3 .4M500.7 637.0l.3 0M483.6 648.7l-1.3 .6M489.8 615.0l-.5 .2M473.2 639.2l.6 1.6M514.8 635.9l.8 .4M449.1 607.2l1.3 .3M526.6 676.2l-.6 1.1M474.5 613.9l1 1.1M458.6 635.1l.3 .6M504.1 609.1l.4 1.5M502.1 632.6l.8 1.2M490.2 656.5l.2 .6M518.1 669.0l-.5 .4M489.3 601.6l-.5 .8M506.3 598.0l.5 .2M519.1 629.8l.5 1.5M481.9 600.0l0 1M519.4 598.9l.1 1M503.7 603.9l.5 1.2M479.6 611.0l-1.1 .2M476.3 618.9l1 .6M490.1 651.5l1.3 .9M478.8 616.9l.7 .5M512.0 670.4l-.1 .6M475.9 635.4l-.5 .4M477.7 661.7l.3 .2M466.2 606.3l-.5 .8M489.9 639.4l-1 1M452.9 628.8l-0 .5M475.6 638.5l-1 .2M466.9 600.9l-.6 .9M506.7 601.6l-0 1.7M454.8 629.5l-1.6 .7M497.0 634.8l-.1 1.1M520.1 633.4l-.7 .1M479.5 646.2l.1 1.3M522.6 652.1l.6 .6M485.3 635.7l-1.2 1M483.1 604.7l-1 .1M477.7 648.2l-.2 .8M455.7 607.6l-.4 1M512.7 634.7l-1.3 .2M500.0 628.5l1.4 0M487.1 642.3l.3 .1M472.9 634.2l-.2 .5M521.4 642.5l.3 .5M480.6 674.3l.4 1.1M517.4 659.0l-.1 .7M517.3 647.1l-.3 .2M477.0 632.9l.4 .1M460.3 606.9l.1 1.3M495.9 643.0l.3 1.6M499.8 663.2l-.1 .9M472.3 620.6l.8 .4M522.9 610.6l-.6 1.5M515.7 633.6l.7 1.3M485.4 615.9l1 .3M476.1 606.8l.3 1.2M493.7 667.3l.5 1M489.9 631.6l.1 .5M484.9 604.4l1.4 .8M461.0 639.9l.3 .7M501.7 658.6l0 1.2M514.2 633.6l.9 .4M475.1 617.8l-.5 0M483.2 654.7l-.6 1.2M524.1 635.5l-.8 .5M449.8 602.2l-1.3 .1M509.5 646.3l.4 .1M474.6 609.8l-.3 1.6M464.0 615.1l.7 .4M487.6 645.2l-1 .6M483.2 616.2l-.3 1.7M487.2 630.9l-.9 1M478.0 608.8l.2 .6M492.3 633.6l-.4 .1M486.9 622.9l.2 1.6M476.1 652.5l-1 1.2M481.7 628.9l-.7 0M504.4 658.6l-.7 .1M486.3 614.2l-.6 .6M496.5 645.5l-1.7 .2M499.7 637.3l-.3 .3M508.1 601.6l-.4 .2M489.1 652.6l-.8 1.3M518.4 602.0l-.3 .6M507.4 623.6l-.1 .9M499.1 627.8l1.6 .2M520.2 624.2l.4 1.4M486.4 629.5l.1 1.5M502.8 669.5l.5 1.4" stroke="#2b2bff" stroke-width="2.1" stroke-linecap="round" fill="none"/>
<path d="M458.3 651.6l-.6 .1M465.1 650.4l-.5 1.2M503.3 676.6l-1 1.2M469.5 661.4l-.6 1M497.0 671.5l-.1 1.4M485.8 663.3l-.8 .4M466.4 629.3l.7 .5M463.4 623.5l-.4 1.3M482.0 662.4l-1.4 .7M497.1 675.9l.3 0M467.5 631.8l-.1 1.8M452.2 626.7l.9 1.5M492.2 668.3l-1.7 .2M458.5 652.2l-.1 1.6M459.2 631.7l.9 .8M457.9 650.6l-1.1 .4M464.9 644.7l.4 .6M466.0 660.4l-.9 .5M480.7 666.8l.6 .7M486.5 665.0l.2 .8M455.3 617.8l-.4 .2M478.4 655.4l-1.4 1M475.8 652.4l-.5 .6M457.0 637.9l-1.4 1.1M457.8 640.3l-1.2 .3M494.1 675.5l.1 1.5M463.4 626.3l.3 .8" stroke="#ff1cff" stroke-width="2.1" stroke-linecap="round" fill="none"/>
<path d="M453.5 638.0l-1 .8M467.1 629.9l-.7 .1M458.5 620.7l-0 1.7M488.1 647.5l.4 .6M480.5 671.6l-1.4 .4M474.9 666.4l.4 .5M483.6 660.9l-1 1.5M495.0 639.0l-1.4 .9M461.0 642.9l-.6 .2M459.2 644.7l.1 1.6M463.5 630.5l-1 .6M463.1 631.5l1.2 .9M491.3 604.3l.6 .7M471.7 663.8l.1 .5M466.2 652.0l.5 .5M481.1 675.5l-.1 1.2M504.6 650.0l.6 .8M462.5 630.9l.1 .3M455.0 634.2l-1 1.3M469.0 654.6l1.5 .8M476.4 670.4l.1 .4M456.9 641.9l-.6 1.3M481.8 662.8l.1 1.2M516.2 669.3l-1.4 .1M475.7 650.2l1.1 .9M490.7 668.5l1 .9M519.7 658.5l-.3 .7M521.4 603.7l-.3 1.2M454.9 636.4l-.9 .2M479.0 658.2l-1.5 .9M473.3 636.9l.4 .6M500.6 633.6l.1 .4M478.0 629.3l.6 .5M523.7 676.2l.9 .2M518.7 635.6l.9 .7M463.2 633.4l-1.3 .5M467.2 657.9l-.5 .8M459.7 635.4l-.8 .4M465.8 654.1l.3 .4M511.2 634.8l-.5 1.1M498.3 627.1l-.2 .5M462.5 635.6l-.5 1.4M454.3 629.0l1.1 .2M464.5 618.5l0 .3M466.1 628.9l.4 .1M517.6 643.5l-.6 1.1M464.8 637.6l-.4 .4M478.8 669.9l.1 .4M482.4 602.3l-1.2 .1M459.7 654.6l1 .6M451.8 634.9l-1.6 .5M478.3 654.7l-.1 .5M459.5 639.5l.8 1.4M525.0 607.5l-.5 1.1M480.3 668.0l1.3 .8M455.1 642.3l-.4 1.4M482.1 666.7l-1.2 .7M524.3 631.1l-.3 1.3M464.8 659.5l-1.5 .4M474.6 606.6l-1 1.4M516.4 641.4l.9 1.2M496.5 649.5l-1.8 .2M523.3 646.9l-1.6 .1M472.3 656.5l-1 .6M467.3 632.0l1 .6M484.3 667.5l.4 .1M470.4 667.3l-.6 .2M502.0 619.0l-.9 1.3M521.3 668.5l.8 .9M464.7 630.8l1.3 1.3M460.8 635.2l-0 .4M490.2 628.0l.3 .2M476.5 655.1l-.4 .4M489.2 641.4l-.3 1M455.1 643.2l-.6 1.1M455.6 637.8l1.1 1.1M506.7 675.4l.7 1.3M459.5 651.7l-.2 1.1M473.2 657.7l-1.2 .8" stroke="#2cff4a" stroke-width="2.1" stroke-linecap="round" fill="none"/>
<path d="M490.6 676.5l.5 .6M477.4 673.7l-.3 .5M462.4 659.3l1.5 .4M489.1 665.5l.8 .5M460.7 620.4l-.7 .3M469.7 642.4l.4 1.6M477.2 668.9l0 1.4M461.2 642.9l1 .4M489.0 667.8l.1 .5M468.5 634.5l-1.2 .5M492.0 672.4l1.2 1.3M486.4 667.0l-.3 .4M475.5 652.1l-.7 1.2M466.3 664.2l-1.2 .7M461.9 633.8l-.5 .5M495.3 669.3l-.7 .2M466.6 630.4l.7 .9M452.7 628.8l.1 .3M455.7 633.3l.7 1.6M467.9 632.6l-0 1.4M463.3 651.5l.6 .6M460.6 648.7l-.5 .6M489.6 671.2l-1 .2M484.8 671.1l.7 .1M451.6 626.9l.2 1.1M465.4 630.4l-1.1 1M489.5 672.1l.6 .9M452.3 617.9l-1 .5M460.9 634.9l-.7 1.3M459.5 631.5l-1.6 .7M486.9 674.9l-1.1 .7M478.5 666.2l-1 .4M493.8 669.1l-.5 .9M480.3 656.2l-0 .5M478.4 658.2l.3 .9M488.4 670.9l-1.2 .7M481.2 668.4l.7 .3M485.9 670.4l.5 .6M458.9 641.8l-1.4 .9M488.9 672.2l-.4 1.7M471.1 669.8l.1 .4M463.7 660.9l-.4 .5M465.5 629.8l-.7 0M488.9 669.1l.3 .2M452.7 629.9l-1.8 .2M471.2 644.2l1 1M457.7 618.5l-.5 .5" stroke="#f2b8ff" stroke-width="2.1" stroke-linecap="round" fill="none"/>
<path d="M473.8 647.2l-.5 .1M454.0 638.1l-.8 .2M459.6 645.8l.3 .2M461.4 620.2l.7 .2M476.1 668.8l-.6 .1M471.7 666.4l-.4 1.6M467.5 639.0l.2 .7M468.6 645.5l.7 .4M475.8 651.6l1.3 .5M453.6 619.9l.6 .2M466.0 646.3l1.5 .5M479.9 665.9l-.8 1.2M477.5 665.6l-.1 1M478.3 661.1l.6 .7M459.9 635.5l.3 .9" stroke="#ffffff" stroke-width="2.1" stroke-linecap="round" fill="none"/>
</g>
<rect x="501.80" y="601.80" width="20.40" height="1.90" fill="#fff"/>
<text x="450.10" y="595.61" font-size="6.7" text-anchor="start" fill="#222">Day 7</text>
<text x="196" y="682.45" font-size="6.8"><tspan fill="#e020e0">OLIG2</tspan><tspan fill="#333">/</tspan><tspan fill="#20a040">NKX2-2</tspan><tspan fill="#333">/</tspan><tspan fill="#3050d0">ISL1</tspan></text>
</svg></body></html>
